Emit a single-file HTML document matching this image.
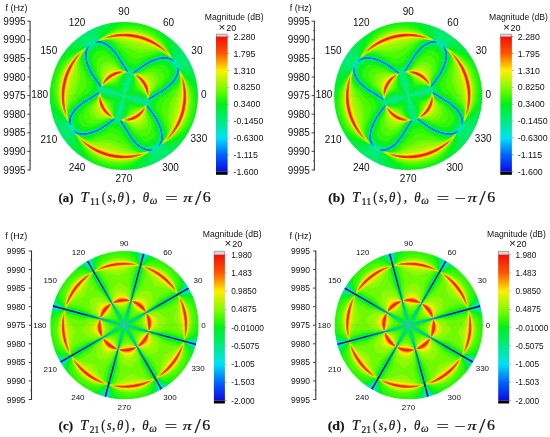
<!DOCTYPE html>
<html><head><meta charset="utf-8"><title>Figure</title>
<style>html,body{margin:0;padding:0;background:#fff}svg{display:block}</style></head>
<body>
<svg width="550" height="437" viewBox="0 0 550 437">
<defs>
<linearGradient id="rb" x1="0" y1="0" x2="0" y2="1"><stop offset="0.000" stop-color="#f00f0a"/><stop offset="0.125" stop-color="#ff5500"/><stop offset="0.250" stop-color="#ffee00"/><stop offset="0.375" stop-color="#87fa00"/><stop offset="0.440" stop-color="#3cfa00"/><stop offset="0.500" stop-color="#00f01e"/><stop offset="0.625" stop-color="#00eb82"/><stop offset="0.750" stop-color="#00e1f5"/><stop offset="0.875" stop-color="#0064ff"/><stop offset="1.000" stop-color="#0a0ae1"/></linearGradient>
<radialGradient id="lgc" gradientUnits="userSpaceOnUse" cx="124.5" cy="325.2" r="74.1"><stop offset="0" stop-color="#18c8b0"/><stop offset="0.27" stop-color="#00b0c0"/><stop offset="0.42" stop-color="#0068c8"/><stop offset="0.58" stop-color="#001478"/><stop offset="1" stop-color="#000640"/></radialGradient>
<radialGradient id="lgd" gradientUnits="userSpaceOnUse" cx="408.8" cy="325.2" r="74.1"><stop offset="0" stop-color="#18c8b0"/><stop offset="0.27" stop-color="#00b0c0"/><stop offset="0.42" stop-color="#0068c8"/><stop offset="0.58" stop-color="#001478"/><stop offset="1" stop-color="#000640"/></radialGradient>
</defs>
<rect width="550" height="437" fill="#fff"/>
<g><g transform="translate(123.9 96.0) scale(.1 -.1)" fill-rule="evenodd">
<rect x="-760" y="-760" width="1520" height="1520" fill="#000"/>
<path fill="#0915e5" d="M-759 -759l1518 0 0 1518 -1518 0z"/>
<path fill="#062aec" d="M-759 -759l1518 0 0 1518 -1518 0z"/>
<path fill="#043ff3" d="M-759 -759l1518 0 0 1518 -1518 0z"/>
<path fill="#0254fa" d="M-759 -759l1518 0 0 1518 -1518 0z"/>
<path fill="#006bfe" d="M-759 -759l1518 0 0 1518 -1518 0z"/>
<path fill="#0089fc" d="M-759 -759l1518 0 0 1518 -1518 0zM276 -541l-10-5 -10-1 -2-2 -25 0 -3 2 -8 1 -2 1 -12 4 -30 15 -38 27 -45 45 -32 42 -20 31 -8 17 -15 20 -22 35 -30 52 -1 8 1 6 10-3 12-12 36-61 9-9 16-31 25-40 35-45 34-34 25-20 33-20 35-12 35-4 6-2 3-3zM356 -492l-2 1 -1 7 15 40 3 28 0 25 -2 7 -1 15 -2 3 0 10 -2 3 -1 7 -2 3 0 7 -2 2 -1 5 -17 48 -31 57 -34 53 -37 47 -10 16 -1 9 1 9 10-5 30-36 28-38 24-37 18-30 15-30 20-50 10-36 3-24 2-5 0-55 -2-3 -1-10 -7-20 -15-17zM-492 -356l1 2 7 1 40-15 28-3 25 0 7 2 15 1 3 2 10 0 3 2 7 1 3 2 7 0 2 2 5 1 48 17 57 31 53 34 47 37 16 10 9 1 9-1 -5-10 -36-30 -38-28 -37-24 -30-18 -30-15 -50-20 -36-10 -24-3 -5-2 -55 0 -3 2 -10 1 -20 7 -17 15zM-541 -276l-5 10 -1 10 -2 2 0 25 2 3 1 8 1 2 4 12 15 30 27 38 45 45 42 32 31 20 17 8 20 15 35 22 52 30 8 1 6-1 -3-10 -12-12 -61-36 -9-9 -31-16 -40-25 -45-35 -34-34 -20-25 -20-33 -12-35 -4-35 -2-6 -3-3zM243 -36l3 10 12 12 61 36 9 9 31 16 40 25 45 35 34 34 20 25 20 33 12 35 4 35 2 6 3 3 2-2 5-10 1-10 2-2 0-25 -2-3 -1-8 -1-2 -4-12 -15-30 -27-38 -45-45 -42-32 -31-20 -17-8 -20-15 -35-22 -52-30 -8-1zM-229 90l-10 5 -30 36 -28 38 -24 37 -18 30 -15 30 -20 50 -10 36 -3 24 -2 5 0 55 2 3 1 10 7 20 15 17 8 6 2-1 1-7 -15-40 -3-28 0-25 2-7 1-15 2-3 0-10 2-3 1-7 2-3 0-7 2-2 1-5 17-48 31-57 34-53 37-47 10-16 1-9zM90 229l5 10 36 30 38 28 37 24 30 18 30 15 50 20 36 10 24 3 5 2 55 0 3-2 10-1 20-7 17-15 6-8 -1-2 -7-1 -40 15 -28 3 -25 0 -7-2 -15-1 -3-2 -10 0 -3-2 -7-1 -3-2 -7 0 -2-2 -5-1 -48-17 -57-31 -53-34 -47-37 -16-10 -9-1zM36 243l-10 3 -12 12 -36 61 -9 9 -16 31 -25 40 -35 45 -34 34 -25 20 -33 20 -35 12 -35 4 -6 2 -3 3 2 2 10 5 10 1 2 2 25 0 3-2 8-1 2-1 12-4 30-15 38-27 45-45 32-42 20-31 8-17 15-20 22-35 30-52 1-8z"/>
<path fill="#00a6fa" d="M-759 -759l1518 0 0 1518 -1518 0zM283 -539l-17-8 -12-2 -23-1 -15 4 -25 10 -25 14 -25 18 -20 18 -35 37 -35 48 -15 23 -6 14 -29 43 -37 62 -3 8 0 10 4 0 10-5 11-12 39-63 6-7 21-38 23-35 38-48 26-26 35-27 32-18 20-7 10-3 40-3 7-3zM351 -497l-2 3 0 5 15 38 4 12 2 25 -2 40 -11 45 -14 40 -28 55 -30 48 -56 76 -3 11 1 5 -1 5 3 2 10-6 33-41 27-37 23-35 19-34 15-30 13-30 10-30 5-21 5-30 2-30 -2-28 -5-20 -5-11 -13-16zM-497 -351l3 2 5 0 38-15 12-4 25-2 40 2 45 11 40 14 55 28 48 30 76 56 11 3 5-1 5 1 2-3 -6-10 -41-33 -37-27 -35-23 -34-19 -30-15 -30-13 -30-10 -21-5 -30-5 -30-2 -28 2 -20 5 -11 5 -16 13zM-539 -283l-8 17 -2 12 -1 23 4 15 10 25 14 25 18 25 18 20 37 35 48 35 23 15 14 6 43 29 62 37 8 3 10 0 0-4 -5-10 -12-11 -63-39 -7-6 -38-21 -35-23 -48-38 -26-26 -27-35 -18-32 -7-20 -3-10 -3-40 -3-7zM241 -39l0 4 5 10 12 11 63 39 7 6 38 21 35 23 48 38 26 26 27 35 18 32 7 20 3 10 3 40 3 7 3 0 8-17 2-12 1-23 -4-15 -10-25 -14-25 -18-25 -18-20 -37-35 -48-35 -23-15 -14-6 -43-29 -62-37 -8-3zM-229 87l-10 6 -33 41 -27 37 -23 35 -19 34 -15 30 -13 30 -10 30 -5 21 -5 30 -2 30 2 28 5 20 5 11 13 16 15 11 2-3 0-5 -15-38 -4-12 -2-25 2-40 11-45 14-40 28-55 30-48 56-76 3-11 -1-5 1-5zM87 229l6 10 41 33 37 27 35 23 34 19 30 15 30 13 30 10 21 5 30 5 30 2 28-2 20-5 11-5 16-13 11-15 -3-2 -5 0 -38 15 -12 4 -25 2 -40-2 -45-11 -40-14 -55-28 -48-30 -76-56 -11-3 -5 1 -5-1zM39 241l-4 0 -10 5 -11 12 -39 63 -6 7 -21 38 -23 35 -38 48 -26 26 -35 27 -32 18 -20 7 -10 3 -40 3 -7 3 0 3 17 8 12 2 23 1 15-4 25-10 25-14 25-18 20-18 35-37 35-48 15-23 6-14 29-43 37-62 3-8z"/>
<path fill="#00c4f7" d="M-759 -759l1518 0 0 1518 -1518 0zM288 -536l-4-4 -10-5 -15-4 -18-2 -22 4 -23 8 -22 12 -23 15 -25 20 -37 39 -35 47 -18 27 -7 15 -29 43 -38 62 -3 10 0 8 2 2 15-7 10-11 40-64 5-6 22-39 23-35 25-33 35-38 35-28 35-19 20-8 13-2 42-2zM277 -546l9 4 2-2 -9-5zM356 -503l-2 0 -1 2 5 5 -2 0 -7-4 -3 1 -1 5 19 45 3 13 2 27 -2 35 -10 43 -17 47 -26 50 -30 48 -55 75 -3 7 0 18 3 2 10-8 33-42 47-67 20-33 15-30 12-28 10-29 9-30 5-30 2-28 -2-27 -3-15 -6-15 -15-21 -8-7 1-2 2 1 2-1zM-503 -356l0 2 2 1 5-5 0 2 -4 7 1 3 5 1 45-19 13-3 27-2 35 2 43 10 47 17 50 26 48 30 75 55 7 3 18 0 2-3 -8-10 -42-33 -67-47 -33-20 -30-15 -28-12 -29-10 -30-9 -30-5 -28-2 -27 2 -15 3 -15 6 -21 15 -7 8 -2-1 1-2 -1-2zM-544 -288l-5 9 3 2 4-9zM-536 -288l-4 4 -5 10 -4 15 -2 18 4 22 8 23 12 22 15 23 20 25 39 37 47 35 27 18 15 7 43 29 62 38 10 3 8 0 2-2 -7-15 -11-10 -64-40 -6-5 -39-22 -35-23 -33-25 -38-35 -28-35 -19-35 -8-20 -2-13 -2-42zM241 -41l-2 2 7 15 11 10 64 40 6 5 39 22 35 23 33 25 38 35 28 35 19 35 8 20 2 13 2 42 5 7 4-4 5-10 4-15 2-18 -4-22 -8-23 -12-22 -15-23 -20-25 -39-37 -47-35 -27-18 -15-7 -43-29 -62-38 -10-3zM-229 84l-10 8 -33 42 -47 67 -20 33 -15 30 -12 28 -10 29 -9 30 -5 30 -2 28 2 27 3 15 6 15 15 21 8 7 -1 2 -2-1 -2 1 7 7 2 0 1-2 -5-5 2 0 7 4 3-1 1-5 -19-45 -3-13 -2-27 2-35 10-43 17-47 26-50 30-48 55-75 3-7 0-18zM84 229l8 10 42 33 67 47 33 20 30 15 28 12 29 10 30 9 30 5 28 2 27-2 15-3 15-6 21-15 7-8 2 1 -1 2 1 2 7-7 0-2 -2-1 -5 5 0-2 4-7 -1-3 -5-1 -45 19 -13 3 -27 2 -35-2 -43-10 -47-17 -50-26 -48-30 -75-55 -7-3 -18 0zM41 241l-2-2 -15 7 -10 11 -40 64 -5 6 -22 39 -23 35 -25 33 -35 38 -35 28 -35 19 -20 8 -13 2 -42 2 -7 5 4 4 10 5 15 4 18 2 22-4 23-8 22-12 23-15 25-20 37-39 35-47 18-27 7-15 29-43 38-62 3-10zM546 277l-4 9 2 2 5-9zM-288 544l9 5 2-3 -9-4z"/>
<path fill="#00e1f5" d="M-759 -759l1518 0 0 1518 -1518 0zM294 -544l-7-5 -11-2 -10 2 -30-2 -20 4 -20 7 -22 12 -23 15 -25 21 -37 39 -36 47 -17 26 -7 16 -26 38 -42 67 -4 13 0 7 4 1 15-8 10-10 37-60 8-10 20-35 27-43 30-37 31-33 32-25 30-17 20-8 15-4 18-1 33 0 6-5 3-7zM351 -509l-5 1 -5 7 0 5 15 29 8 18 3 13 2 25 -2 35 -10 45 -20 52 -28 53 -27 42 -53 73 -3 7 -1 15 1 5 3 2 10-8 36-46 27-38 23-35 17-30 15-30 12-30 10-30 8-32 4-31 1-24 -2-23 -7-25 -15-22 -2-10 -7-9zM-509 -351l1 5 7 5 5 0 29-15 18-8 13-3 25-2 35 2 45 10 52 20 53 28 42 27 73 53 7 3 15 1 5-1 2-3 -8-10 -46-36 -38-27 -35-23 -30-17 -30-15 -30-12 -30-10 -32-8 -31-4 -24-1 -23 2 -25 7 -22 15 -10 2 -9 7zM-544 -294l-5 7 -2 11 2 10 -2 30 4 20 7 20 12 22 15 23 21 25 39 37 47 36 26 17 16 7 38 26 67 42 13 4 7 0 1-4 -8-15 -10-10 -60-37 -10-8 -35-20 -43-27 -37-30 -33-31 -25-32 -17-30 -8-20 -4-15 -1-18 0-33 -5-6 -7-3zM239 -43l-1 4 8 15 10 10 60 37 10 8 35 20 43 27 37 30 33 31 25 32 17 30 8 20 4 15 1 18 0 33 5 6 7 3 3-2 5-7 2-11 -2-10 2-30 -4-20 -7-20 -12-22 -15-23 -21-25 -39-37 -47-36 -26-17 -16-7 -38-26 -67-42 -13-4zM-229 82l-10 8 -36 46 -27 38 -23 35 -17 30 -15 30 -12 30 -10 30 -8 32 -4 31 -1 24 2 23 7 25 15 22 2 10 7 9 8 4 5-1 5-7 0-5 -15-29 -8-18 -3-13 -2-25 2-35 10-45 20-52 28-53 27-42 53-73 3-7 1-15 -1-5zM82 229l8 10 46 36 38 27 35 23 30 17 30 15 30 12 30 10 32 8 31 4 24 1 23-2 25-7 22-15 10-2 9-7 4-8 -1-5 -7-5 -5 0 -29 15 -18 8 -13 3 -25 2 -35-2 -45-10 -52-20 -53-28 -42-27 -73-53 -7-3 -15-1 -5 1zM43 239l-4-1 -15 8 -10 10 -37 60 -8 10 -20 35 -27 43 -30 37 -31 33 -32 25 -30 17 -20 8 -15 4 -18 1 -33 0 -6 5 -3 7 2 3 7 5 11 2 10-2 30 2 20-4 20-7 22-12 23-15 25-21 37-39 36-47 17-26 7-16 26-38 42-67 4-13z"/>
<path fill="#00e3da" d="M-759 -759l1518 0 0 1518 -1518 0zM300 -544l-11-6 -13-3 -5 0 -7 3 -30-1 -18 3 -22 9 -23 12 -22 15 -20 17 -41 41 -37 50 -15 23 -7 16 -23 34 -32 53 -13 18 -6 14 0 7 1 2 5 0 20-12 5-6 40-65 5-5 20-36 25-39 32-41 33-34 34-26 33-18 21-7 15-2 49 2 9-10 1-3zM349 -514l-8 1 -5 12 3 7 20 34 5 14 3 12 1 23 -1 22 -3 25 -5 23 -18 51 -26 54 -34 52 -53 73 -3 7 -1 18 2 5 3 1 10-8 44-58 24-35 23-35 18-33 14-30 11-27 9-30 6-28 4-30 0-25 -2-22 -6-20 -15-25 1-5 -4-8 -7-9zM-514 -349l1 8 12 5 7-3 34-20 14-5 12-3 23-1 22 1 25 3 23 5 51 18 54 26 52 34 73 53 7 3 18 1 5-2 1-3 -8-10 -58-44 -35-24 -35-23 -33-18 -30-14 -27-11 -30-9 -28-6 -30-4 -25 0 -22 2 -20 6 -25 15 -5-1 -8 4 -9 7zM-544 -300l-6 11 -3 13 0 5 3 7 -1 30 3 18 9 22 12 23 15 22 17 20 41 41 50 37 23 15 16 7 34 23 53 32 18 13 14 6 7 0 2-1 0-5 -12-20 -6-5 -65-40 -5-5 -36-20 -39-25 -41-32 -34-33 -26-34 -18-33 -7-21 -2-15 2-49 -10-9 -3-1zM-42 -231l3 2 4-2 0-3 -4-1zM-86 -219l5 1 2-3 -5-2zM219 -86l-1 5 3 2 2-5zM237 -44l0 5 12 20 6 5 65 40 5 5 36 20 39 25 41 32 34 33 26 34 18 33 7 21 2 15 -2 49 10 9 3 1 5-3 6-11 3-13 0-5 -3-7 1-30 -3-18 -9-22 -12-23 -15-22 -17-20 -41-41 -50-37 -23-15 -16-7 -34-23 -53-32 -18-13 -14-6 -7 0zM231 -42l-2 3 2 4 3 0 1-4zM-234 35l-1 4 4 3 2-3 -2-4zM-229 80l-10 8 -44 58 -24 35 -23 35 -18 33 -14 30 -11 27 -9 30 -6 28 -4 30 0 25 2 22 6 20 15 25 -1 5 4 8 7 9 10 6 8-1 5-12 -3-7 -20-34 -5-14 -3-12 -1-23 1-22 3-25 5-23 18-51 26-54 34-52 53-73 3-7 1-18 -2-5zM-221 79l-2 5 4 2 1-5zM79 221l5 2 2-4 -5-1zM80 229l8 10 58 44 35 24 35 23 33 18 30 14 27 11 30 9 28 6 30 4 25 0 22-2 20-6 25-15 5 1 8-4 9-7 6-10 -1-8 -12-5 -7 3 -34 20 -14 5 -12 3 -23 1 -22-1 -25-3 -23-5 -51-18 -54-26 -52-34 -73-53 -7-3 -18-1 -5 2zM35 234l4 1 3-4 -3-2 -4 2zM44 237l-5 0 -20 12 -5 6 -40 65 -5 5 -20 36 -25 39 -32 41 -33 34 -34 26 -33 18 -21 7 -15 2 -49-2 -9 10 -1 3 3 5 11 6 13 3 5 0 7-3 30 1 18-3 22-9 23-12 22-15 20-17 41-41 37-50 15-23 7-16 23-34 32-53 13-18 6-14 0-7z"/>
<path fill="#00e6bf" d="M-759 -759l1518 0 0 1518 -1518 0zM305 -544l-13-7 -13-3 -10 0 -5 3 -28-1 -17 3 -25 9 -23 12 -22 16 -23 18 -20 20 -20 23 -20 25 -30 44 -7 16 -24 35 -31 52 -13 18 -8 17 3 16 3 2 5-1 3-4 -1-4 -1-1 0-3 16-10 5-6 40-64 3-1 25-45 22-34 33-42 32-33 18-15 21-15 23-12 19-8 12-2 20-2 37 5 8 0 5-5 4-8zM346 -518l-5-1 -5 2 -6 13 4 8 15 20 7 13 8 18 2 13 2 23 -1 25 -5 28 -6 22 -15 43 -20 42 -35 57 -57 79 -4 9 -1 16 -3 2 -2-2 -3 2 -1 2 1 5 3 3 10-2 7-5 56-76 28-40 20-35 17-32 12-30 11-33 8-30 4-30 1-27 -3-25 -5-20 -13-23 0-7 -4-8 -9-11zM-518 -346l-1 5 2 5 13 6 8-4 20-15 13-7 18-8 13-2 23-2 25 1 28 5 22 6 43 15 42 20 57 35 79 57 9 4 16 1 2 3 -2 2 2 3 2 1 5-1 3-3 -2-10 -5-7 -76-56 -40-28 -35-20 -32-17 -30-12 -33-11 -30-8 -30-4 -27-1 -25 3 -20 5 -23 13 -7 0 -8 4 -11 9zM-544 -305l-7 13 -3 13 0 10 3 5 -1 28 3 17 9 25 12 23 16 22 18 23 20 20 23 20 25 20 44 30 16 7 35 24 52 31 18 13 17 8 16-3 2-3 -1-5 -4-3 -4 1 -1 1 -3 0 -10-16 -6-5 -64-40 -1-3 -45-25 -34-22 -42-33 -33-32 -15-18 -15-21 -12-23 -8-19 -2-12 -2-20 5-37 0-8 -5-5 -8-4zM228 -44l-2 3 1 5 4 3 4-1 1-1 3 0 10 16 6 5 64 40 1 3 45 25 34 22 42 33 33 32 15 18 15 21 12 23 8 19 2 12 2 20 -5 37 0 8 5 5 8 4 8-3 7-13 3-13 0-10 -3-5 1-28 -3-17 -9-25 -12-23 -16-22 -18-23 -20-20 -23-20 -25-20 -44-30 -16-7 -35-24 -52-31 -18-13 -17-8zM-219 76l-10 2 -7 5 -56 76 -28 40 -20 35 -17 32 -12 30 -11 33 -8 30 -4 30 -1 27 3 25 5 20 13 23 0 7 4 8 9 11 13 8 5 1 5-2 6-13 -4-8 -15-20 -7-13 -8-18 -2-13 -2-23 1-25 5-28 6-22 15-43 20-42 35-57 57-79 4-9 1-16 3-2 2 2 3-2 1-2 -1-5zM76 219l2 10 5 7 76 56 40 28 35 20 32 17 30 12 33 11 30 8 30 4 27 1 25-3 20-5 23-13 7 0 8-4 11-9 8-13 1-5 -2-5 -13-6 -8 4 -20 15 -13 7 -18 8 -13 2 -23 2 -25-1 -28-5 -22-6 -43-15 -42-20 -57-35 -79-57 -9-4 -16-1 -2-3 2-2 -2-3 -2-1 -5 1zM44 228l-3-2 -5 1 -3 4 1 4 1 1 0 3 -16 10 -5 6 -40 64 -3 1 -25 45 -22 34 -33 42 -32 33 -18 15 -21 15 -23 12 -19 8 -12 2 -20 2 -37-5 -8 0 -5 5 -4 8 3 8 13 7 13 3 10 0 5-3 28 1 17-3 25-9 23-12 22-16 23-18 20-20 20-23 20-25 30-44 7-16 24-35 31-52 13-18 8-17z"/>
<path fill="#00e8a4" d="M-759 -759l1518 0 0 1518 -1518 0zM310 -544l-14-8 -17-4 -10 1 -10 3 -25 0 -15 2 -20 7 -25 13 -23 15 -25 21 -21 20 -22 25 -18 23 -29 43 -5 12 -28 42 -29 48 -13 17 -8 15 -2 8 3 15 5 2 5-1 3-4 0-10 15-10 4-5 40-65 3 0 25-45 22-35 33-41 32-34 18-15 22-15 24-12 19-8 15-2 17-1 43 8 10-17 2-5zM344 -523l-8 0 -5 2 -5 10 -1 5 3 7 23 29 8 14 5 15 3 25 0 27 -3 22 -8 32 -17 48 -28 55 -27 43 -57 78 -5 22 -1 1 -5-1 -3 8 1 5 5 2 12-3 6-4 22-33 36-47 25-38 19-32 18-35 15-35 10-33 8-32 3-25 0-30 -2-23 -6-17 -12-23 0-7 -5-10 -12-15zM-523 -344l0 8 2 5 10 5 5 1 7-3 29-23 14-8 15-5 25-3 27 0 22 3 32 8 48 17 55 28 43 27 78 57 22 5 1 1 -1 5 8 3 5-1 2-5 -3-12 -4-6 -33-22 -47-36 -38-25 -32-19 -35-18 -35-15 -33-10 -32-8 -25-3 -30 0 -23 2 -17 6 -23 12 -7 0 -10 5 -15 12zM-544 -310l-8 14 -4 17 1 10 3 10 0 25 2 15 7 20 13 25 15 23 21 25 20 21 25 22 23 18 43 29 12 5 42 28 48 29 17 13 15 8 8 2 15-3 2-5 -1-5 -4-3 -10 0 -10-15 -5-4 -65-40 0-3 -45-25 -35-22 -41-33 -34-32 -15-18 -15-22 -12-24 -8-19 -2-15 -1-17 8-43 -17-10 -5-2zM226 -46l-2 5 1 5 4 3 10 0 10 15 5 4 65 40 0 3 45 25 35 22 41 33 34 32 15 18 15 22 12 24 8 19 2 15 1 17 -8 43 17 10 5 2 3-1 8-14 4-17 -1-10 -3-10 0-25 -2-15 -7-20 -13-25 -15-23 -21-25 -20-21 -25-22 -23-18 -43-29 -12-5 -42-28 -48-29 -17-13 -15-8 -8-2zM-219 74l-12 3 -6 4 -22 33 -36 47 -25 38 -19 32 -18 35 -15 35 -10 33 -8 32 -3 25 0 30 2 23 6 17 12 23 0 7 5 10 12 15 12 7 8 0 5-2 5-10 1-5 -3-7 -23-29 -8-14 -5-15 -3-25 0-27 3-22 8-32 17-48 28-55 27-43 57-78 5-22 1-1 5 1 3-8 -1-5zM74 219l3 12 4 6 33 22 47 36 38 25 32 19 35 18 35 15 33 10 32 8 25 3 30 0 23-2 17-6 23-12 7 0 10-5 15-12 7-12 0-8 -2-5 -10-5 -5-1 -7 3 -29 23 -14 8 -15 5 -25 3 -27 0 -22-3 -32-8 -48-17 -55-28 -43-27 -78-57 -22-5 -1-1 1-5 -8-3 -5 1zM46 226l-5-2 -5 1 -3 4 0 10 -15 10 -4 5 -40 65 -3 0 -25 45 -22 35 -33 41 -32 34 -18 15 -22 15 -24 12 -19 8 -15 2 -17 1 -43-8 -10 17 -2 5 1 3 14 8 17 4 10-1 10-3 25 0 15-2 20-7 25-13 23-15 25-21 21-20 22-25 18-23 29-43 5-12 28-42 29-48 13-17 8-15 2-8z"/>
<path fill="#00ea89" d="M-759 -759l1518 0 0 1518 -1518 0zM314 -545l-13-8 -20-4 -15 1 -7 3 -28 0 -15 3 -25 10 -22 13 -23 15 -20 17 -33 34 -30 37 -25 38 -7 14 -29 43 -28 47 -10 15 -3 1 -12 22 2 15 3 7 7 0 5-3 2-14 14-10 8-10 36-59 3 0 25-45 25-38 30-39 33-34 21-17 23-15 20-10 20-8 18-2 17 1 35 10 9-11 5-13 4-5zM341 -528l-7-1 -7 3 -6 9 -2 8 5 10 17 18 10 13 8 14 5 14 3 24 -1 26 -2 20 -8 34 -17 48 -28 55 -30 47 -51 70 -4 7 -5 18 -6 2 -2 3 -2 9 2 3 3 3 8-1 14-7 23-37 36-48 25-37 18-30 18-35 14-35 10-30 8-33 3-25 1-27 -2-25 -6-20 -11-20 -1-10 -5-13 -13-15 -7-6zM-528 -341l-1 7 3 7 9 6 8 2 10-5 18-17 13-10 14-8 14-5 24-3 26 1 20 2 34 8 48 17 55 28 47 30 70 51 7 4 18 5 2 6 3 2 9 2 3-2 3-3 -1-8 -7-14 -37-23 -48-36 -37-25 -30-18 -35-18 -35-14 -30-10 -33-8 -25-3 -27-1 -25 2 -20 6 -20 11 -10 1 -13 5 -15 13 -6 7zM-545 -314l-8 13 -4 20 1 15 3 7 0 28 3 15 10 25 13 22 15 23 17 20 34 33 37 30 38 25 14 7 43 29 47 28 15 10 1 3 22 12 15-2 7-3 0-7 -3-5 -14-2 -10-14 -10-8 -59-36 0-3 -45-25 -38-25 -39-30 -34-33 -17-21 -15-23 -10-20 -8-20 -2-18 1-17 10-35 -11-9 -13-5 -5-4zM-49 -179l-1 10 8 25 21 90 9 30 11 21 1-8 -1-14 -10-42 -24-77 -6-27 -5-8zM222 -46l0 7 3 5 14 2 10 14 10 8 59 36 0 3 45 25 38 25 39 30 34 33 17 21 15 23 10 20 8 20 2 18 -1 17 -10 35 11 9 13 5 5 4 1 0 8-13 4-20 -1-15 -3-7 0-28 -3-15 -10-25 -13-22 -15-23 -17-20 -34-33 -37-30 -38-25 -14-7 -43-29 -47-28 -15-10 -1-3 -22-12 -15 2zM179 -49l-10-1 -25 8 -90 21 -30 9 -21 11 8 1 14-1 42-10 77-24 27-6 8-5zM-3 1l-8-1 -14 1 -42 10 -77 24 -27 6 -8 5 0 3 10 1 25-8 90-21 30-9zM1 3l-1 8 1 14 10 42 24 77 6 27 5 8 3 0 1-10 -8-25 -21-90 -9-30zM-216 71l-8 1 -14 7 -23 37 -36 48 -25 37 -18 30 -18 35 -14 35 -10 30 -8 33 -3 25 -1 27 2 25 6 20 11 20 1 10 5 13 13 15 7 6 8 3 7 1 7-3 6-9 2-8 -5-10 -17-18 -10-13 -8-14 -5-14 -3-24 1-26 2-20 8-34 17-48 28-55 30-47 51-70 4-7 5-18 6-2 2-3 2-9 -2-3zM71 216l1 8 7 14 37 23 48 36 37 25 30 18 35 18 35 14 30 10 33 8 25 3 27 1 25-2 20-6 20-11 10-1 13-5 15-13 6-7 3-8 1-7 -3-7 -9-6 -8-2 -10 5 -18 17 -13 10 -14 8 -14 5 -24 3 -26-1 -20-2 -34-8 -48-17 -55-28 -47-30 -70-51 -7-4 -18-5 -2-6 -3-2 -9-2 -3 2zM46 222l-7 0 -5 3 -2 14 -14 10 -8 10 -36 59 -3 0 -25 45 -25 38 -30 39 -33 34 -21 17 -23 15 -20 10 -20 8 -18 2 -17-1 -35-10 -9 11 -5 13 -4 5 0 1 13 8 20 4 15-1 7-3 28 0 15-3 25-10 22-13 23-15 20-17 33-34 30-37 25-38 7-14 29-43 28-47 10-15 3-1 12-22 -2-15z"/>
<path fill="#00ec70" d="M-759 -759l1518 0 0 1518 -1518 0zM316 -551l-15-6 -20-3 -15 2 -5 4 -30 1 -17 3 -20 8 -23 12 -25 17 -20 17 -36 37 -30 38 -23 35 -6 13 -28 42 -29 48 -26 34 -2 5 1 13 4 12 3 3 7-2 5-4 4-17 16-12 7-10 33-56 3 0 25-45 22-35 33-42 31-32 21-18 22-15 24-12 22-7 29-1 20 5 16 7 2-1 5-6 0-2 5-5 5-13 5-5 2-5zM334 -538l-8 1 -5 6 -7 15 -1 7 5 10 21 18 10 12 10 18 5 14 2 25 0 16 -2 23 -8 35 -15 43 -22 47 -35 57 -55 75 -9 25 -6 2 -5 8 0 7 2 6 8 1 20-9 7-15 13-20 33-45 28-40 22-38 18-35 15-37 10-33 7-35 3-25 0-25 -4-25 -5-12 -10-20 0-8 -1-5 -8-17 -16-19zM-538 -334l1 8 6 5 15 7 7 1 10-5 18-21 12-10 18-10 14-5 25-2 16 0 23 2 35 8 43 15 47 22 57 35 75 55 25 9 2 6 8 5 7 0 6-2 1-8 -9-20 -15-7 -20-13 -45-33 -40-28 -38-22 -35-18 -37-15 -33-10 -35-7 -25-3 -25 0 -25 4 -12 5 -20 10 -8 0 -5 1 -17 8 -19 16zM-551 -316l-6 15 -3 20 2 15 4 5 1 30 3 17 8 20 12 23 17 25 17 20 37 36 38 30 35 23 13 6 42 28 48 29 34 26 5 2 13-1 12-4 3-3 -2-7 -4-5 -17-4 -12-16 -10-7 -56-33 0-3 -45-25 -35-22 -42-33 -32-31 -18-21 -15-22 -12-24 -7-22 -1-29 5-20 7-16 -1-2 -6-5 -2 0 -5-5 -13-5 -5-5 -5-2zM-54 -204l-5 3 -3 5 1 20 37 127 12 30 11 17 2-4 1-10 -3-30 -34-135 -9-20 -5-3zM204 -54l-3-5 -5-3 -20 1 -127 37 -30 12 -17 11 4 2 10 1 30-3 135-34 20-9 3-5zM219 -49l-3 3 2 7 4 5 17 4 12 16 10 7 56 33 0 3 45 25 35 22 42 33 32 31 18 21 15 22 12 24 7 22 1 29 -5 20 -7 16 1 2 6 5 2 0 5 5 13 5 5 5 5 2 2-2 6-15 3-20 -2-15 -4-5 -1-30 -3-17 -8-20 -12-23 -17-25 -17-20 -37-36 -38-30 -35-23 -13-6 -42-28 -48-29 -34-26 -5-2 -13 1zM-2 1l-4-2 -10-1 -30 3 -135 34 -20 9 -3 5 0 5 3 5 5 3 20-1 127-37 30-12zM1 2l-2 4 -1 10 3 30 34 135 9 20 5 3 5 0 5-3 3-5 -1-20 -37-127 -12-30zM-211 68l-8-1 -20 9 -7 15 -13 20 -33 45 -28 40 -22 38 -18 35 -15 37 -10 33 -7 35 -3 25 0 25 4 25 5 12 10 20 0 8 1 5 8 17 16 19 17 8 8-1 5-6 7-15 1-7 -5-10 -21-18 -10-12 -10-18 -5-14 -2-25 0-16 2-23 8-35 15-43 22-47 35-57 55-75 9-25 6-2 5-8 0-7zM68 211l-1 8 9 20 15 7 20 13 45 33 40 28 38 22 35 18 37 15 33 10 35 7 25 3 25 0 25-4 12-5 20-10 8 0 5-1 17-8 19-16 8-17 -1-8 -6-5 -15-7 -7-1 -10 5 -18 21 -12 10 -18 10 -14 5 -25 2 -16 0 -23-2 -35-8 -43-15 -47-22 -57-35 -75-55 -25-9 -2-6 -8-5 -7 0zM49 219l-3-3 -7 2 -5 4 -4 17 -16 12 -7 10 -33 56 -3 0 -25 45 -22 35 -33 42 -31 32 -21 18 -22 15 -24 12 -22 7 -29 1 -20-5 -16-7 -2 1 -5 6 0 2 -5 5 -5 13 -5 5 -2 5 2 2 15 6 20 3 15-2 5-4 30-1 17-3 20-8 23-12 25-17 20-17 36-37 30-38 23-35 6-13 28-42 29-48 26-34 2-5 -1-13z"/>
<path fill="#00ed59" d="M-573 -474l-5-37 -4-40 -1-38 2-35 4-35 6-35 8-32 11-33 819 0 21 53 15 52 2 18 -2 12 -5 10 -17 20 -5 8 -3 10 0 15 -9 3 -5 4 -35 1 -25 8 -20 10 -20 12 -35 28 -31 31 -36 45 -19 30 -7 15 -21 30 -36 59 -10 14 -4 2 -9 12 -10 7 -15 4 -15-2 -13-6 -82-59 -57-34 -43-20 -42-15 -45-11 -23-2 -27-1 -13 1 -20 5 -27 13 -5 1 -3-2 -11 2 -4-11 -7-9 -10-6 -23-9 -12-10 -10-20zM461 -571l38-6 40-4 40-2 37 1 38 4 35 6 35 8 35 12 0 819 -53 21 -47 14 -20 3 -15-2 -10-5 -20-17 -8-5 -10-3 -15 0 -3-9 -4-5 -1-35 -8-25 -10-20 -12-20 -28-35 -31-31 -45-36 -30-19 -15-7 -30-21 -59-36 -14-10 -2-4 -12-9 -7-10 -4-15 2-15 6-13 59-82 34-57 20-43 15-42 11-45 2-23 1-27 -1-13 -5-20 -13-27 -1-5 2-3 -2-11 11-4 9-7 6-10 9-23 8-10 15-9zM299 -512l5 3 4 8 5 5 26 19 12 15 10 20 3 11 1 20 -1 33 -5 27 -8 27 -17 45 -25 48 -33 50 -46 62 -11 28 -5 0 -8 9 -15 4 -41 17 -56 16 -35 12 -35 15 -20 12 0-30 -4-33 -7-35 -14-54 -6-43 -5-18 3-20 15-12 6-8 34-56 3 0 30-54 25-37 30-38 33-32 22-18 20-12 14-8 20-7 18-2 20 2 15 5 15 8zM-512 -299l3-5 8-4 5-5 19-26 15-12 20-10 11-3 20-1 33 1 27 5 27 8 45 17 48 25 50 33 62 46 28 11 0 5 9 8 4 15 17 41 16 56 12 35 15 35 12 20 -30 0 -33 4 -35 7 -54 14 -43 6 -18 5 -20-3 -12-15 -8-6 -56-34 0-3 -54-30 -37-25 -38-30 -32-33 -18-22 -12-20 -8-14 -7-20 -2-18 2-20 5-15 8-15zM-659 -302l20-3 15 2 10 5 20 17 8 5 10 3 15 0 3 9 4 5 1 35 8 25 10 20 12 20 28 35 31 31 45 36 30 19 15 7 30 21 59 36 14 10 2 4 12 9 7 10 4 15 -2 15 -6 13 -59 82 -34 57 -20 43 -15 42 -11 45 -2 23 -1 27 1 13 5 20 13 27 1 5 -2 3 2 11 -11 4 -9 7 -6 10 -9 23 -8 10 -12 8 -23 7 -37 7 -40 4 -40 3 -40-1 -38-3 -37-6 -38-9 -35-12 0-819 53-21zM6 4l30 0 33-4 35-7 54-14 43-6 18-5 20 3 12 15 8 6 56 34 0 3 54 30 37 25 38 30 32 33 18 22 12 20 8 14 7 20 2 18 -2 20 -5 15 -8 15 4 8 -3 5 -8 4 -5 5 -19 26 -15 12 -20 10 -11 3 -20 1 -33-1 -27-5 -27-8 -45-17 -48-25 -50-33 -62-46 -28-11 0-5 -9-8 -4-15 -17-41 -16-56 -12-35 -15-35zM-4 6l0 30 4 33 7 35 14 54 6 43 5 18 -3 20 -15 12 -6 8 -34 56 -3 0 -30 54 -25 37 -30 38 -33 32 -22 18 -20 12 -14 8 -20 7 -18 2 -20-2 -15-5 -15-8 -8 4 -5-3 -4-8 -5-5 -26-19 -12-15 -10-20 -3-11 -1-20 1-33 5-27 8-27 17-45 25-48 33-50 46-62 11-28 5 0 8-9 15-4 41-17 56-16 35-12 35-15zM-305 629l7-15 17-20 5-8 3-10 0-15 19-7 33-2 17-5 15-6 38-24 25-20 19-18 27-30 28-38 14-22 7-15 21-30 36-59 10-14 4-2 9-12 10-7 15-4 15 2 13 6 82 59 57 34 43 20 42 15 45 11 23 2 27 1 13-1 20-5 27-13 5-1 3 2 11-2 4 11 7 9 10 6 23 9 12 10 10 20 7 33 5 37 4 40 1 38 -2 35 -4 35 -6 35 -8 32 -11 33 -819 0 -16-40 -14-43 -7-30z"/>
<path fill="#00ee41" d="M-515 -479l-2-32 3-40 6-40 9-38 12-35 15-35 18-31 20-29 617 0 33 48 24 45 9 30 3 47 4 13 9 15 -4 1 -1 4 -4 1 -37 2 -30 9 -25 16 -30 23 -40 39 -29 35 -30 45 -4 11 -24 34 -31 49 -12 10 -15 9 -43 11 -15 0 -10-4 -67-49 -35-22 -28-15 -40-18 -42-15 -48-10 -35-4 -12 1 -23 5 -22 12 -13 4 -7-4 1-15 -2-15 -17-40zM479 -515l32-2 40 3 40 6 38 9 35 12 35 15 31 18 29 20 0 617 -48 33 -45 24 -30 9 -47 3 -13 4 -15 9 -1-4 -4-1 -1-4 -2-37 -9-30 -16-25 -23-30 -39-40 -35-29 -45-30 -11-4 -34-24 -49-31 -10-12 -9-15 -11-43 0-15 4-10 49-67 22-35 15-28 18-40 15-42 10-48 4-35 -1-12 -5-23 -12-22 -4-13 4-7 15 1 15-2 40-17zM314 -479l15 11 15 16 10 15 7 18 3 10 0 23 -8 42 -15 45 -27 58 -28 45 -57 77 -10 26 -6 2 -4 3 -15 1 -14 3 -81 27 -35 15 -55 28 -1-67 -3-30 -21-90 -5-13 -8-12 1-13 15-12 8-10 31-53 3 0 32-58 33-46 35-40 34-31 33-20 18-4 20-1 17 3 18 6zM-479 -314l11-15 16-15 15-10 18-7 10-3 23 0 42 8 45 15 58 27 45 28 77 57 26 10 2 6 3 4 1 15 3 14 27 81 15 35 28 55 -67 1 -30 3 -90 21 -13 5 -12 8 -13-1 -12-15 -10-8 -53-31 0-3 -58-32 -46-33 -40-35 -31-34 -20-33 -4-18 -1-20 3-17 6-18zM-561 -265l1 4 4 1 1 4 2 37 9 30 16 25 23 30 39 40 35 29 45 30 11 4 34 24 49 31 10 12 9 15 11 43 0 15 -4 10 -49 67 -22 35 -15 28 -18 40 -15 42 -10 48 -4 35 1 12 5 23 12 22 4 13 -4 7 -15-1 -15 2 -40 17 -28 6 -32 2 -40-3 -40-6 -38-9 -35-12 -35-15 -31-18 -29-20 0-617 48-33 45-24 30-9 47-3 13-4zM14 9l67-1 30-3 90-21 13-5 12-8 13 1 12 15 10 8 53 31 0 3 58 32 46 33 40 35 31 34 20 33 4 18 1 20 -3 17 -6 18 -26 45 -11 15 -16 15 -15 10 -18 7 -10 3 -23 0 -42-8 -45-15 -58-27 -45-28 -77-57 -26-10 -2-6 -3-4 -1-15 -3-14 -27-81 -15-35zM-9 14l1 67 3 30 21 90 5 13 8 12 -1 13 -15 12 -8 10 -31 53 -3 0 -32 58 -33 46 -35 40 -34 31 -33 20 -18 4 -20 1 -17-3 -18-6 -45-26 -15-11 -15-16 -10-15 -7-18 -3-10 0-23 8-42 15-45 27-58 28-45 57-77 10-26 6-2 4-3 15-1 14-3 81-27 35-15zM-265 561l4-1 1-4 4-1 37-2 30-9 25-16 30-23 40-39 29-35 30-45 4-11 24-34 31-49 12-10 15-9 43-11 15 0 10 4 67 49 35 22 28 15 40 18 42 15 48 10 35 4 12-1 23-5 22-12 13-4 7 4 -1 15 2 15 17 40 6 28 2 32 -3 40 -6 40 -9 38 -12 35 -15 35 -18 31 -20 29 -617 0 -33-48 -24-45 -9-30 -3-47 -4-13z"/>
<path fill="#00ef2a" d="M-486 -381l7-20 3-20 2-65 5-35 14-48 19-44 27-45 16-21 18-20 19-18 20-16 20-13 22-13 383 0 25 17 22 18 20 19 20 21 25 34 32 59 26 32 -3 4 -12 1 -30-1 -23 4 -22 9 -23 16 -16 15 -58 67 -20 28 -18 27 0 3 -25 35 -40 48 -13 11 -7 4 -43 12 -15 1 -15-5 -32-17 -50-34 -40-23 -38-17 -71-28 -34-6 -27 0 -23 6 -37 19 -8 2zM309 -466l12 9 10 11 8 12 6 15 6 28 1 15 0 20 -4 20 -17 50 -25 54 -25 41 -51 70 -11 27 -8 2 -17-2 -18 1 -60 16 -42 16 -50 29 -5 1 -2-5 3-35 0-28 -6-52 -17-50 -11-18 -14-12 1-8 18-15 20-25 15-24 30-58 25-36 40-46 18-17 17-14 17-10 16-6 27-8 20-1 15 2 15 6zM381 -486l20 7 20 3 65 2 35 5 48 14 44 19 45 27 21 16 20 18 18 19 16 20 13 20 13 22 0 383 -17 25 -18 22 -19 20 -21 20 -34 25 -59 32 -32 26 -4-3 -1-12 1-30 -4-23 -9-22 -16-23 -15-16 -67-58 -28-20 -27-18 -3 0 -35-25 -48-40 -11-13 -4-7 -12-43 -1-15 5-15 17-32 34-50 23-40 17-38 28-71 6-34 0-27 -6-23 -19-37 -2-8zM-466 -309l9-12 11-10 12-8 15-6 28-6 15-1 20 0 20 4 50 17 54 25 41 25 70 51 27 11 2 8 -2 17 1 18 16 60 16 42 29 50 1 5 -5 2 -35-3 -28 0 -52 6 -50 17 -18 11 -12 14 -8-1 -15-18 -25-20 -24-15 -58-30 -36-25 -46-40 -17-18 -14-17 -10-17 -6-16 -8-27 -1-20 2-15 6-15zM-559 -259l4 3 1 12 -1 30 4 23 9 22 16 23 15 16 67 58 28 20 27 18 3 0 35 25 48 40 11 13 4 7 12 43 1 15 -5 15 -17 32 -34 50 -23 40 -17 38 -28 71 -6 34 0 27 6 23 19 37 2 8 -3 2 -20-7 -20-3 -65-2 -35-5 -48-14 -44-19 -45-27 -21-16 -20-18 -18-19 -16-20 -13-20 -13-22 0-383 17-25 18-22 19-20 21-20 34-25 59-32zM31 18l5-1 33 3 27 0 28-2 27-4 50-17 18-11 12-14 8 1 15 18 25 20 24 15 58 30 36 25 46 40 17 18 14 17 10 17 6 16 8 27 1 20 -2 15 -6 15 -25 43 -9 12 -11 10 -12 8 -15 6 -28 6 -15 1 -20 0 -20-4 -50-17 -54-25 -41-25 -70-51 -27-11 -2-8 2-17 -1-18 -16-60 -15-40 -12-22 -18-30zM-19 31l2 5 -3 35 0 28 6 52 17 50 11 18 14 12 -1 8 -18 15 -20 25 -15 24 -30 58 -25 36 -40 46 -18 17 -17 14 -17 10 -16 6 -27 8 -20 1 -15-2 -15-6 -43-25 -12-9 -10-11 -8-12 -6-15 -6-28 -1-15 0-20 4-20 17-50 25-54 25-41 51-70 11-27 8-2 17 2 18-1 60-16 42-16 50-29zM-259 559l3-4 12-1 30 1 23-4 22-9 23-16 16-15 58-67 20-28 18-27 0-3 25-35 40-48 13-11 7-4 43-12 15-1 15 5 32 17 50 34 40 23 38 17 71 28 34 6 27 0 23-6 37-19 8-2 2 3 -7 20 -3 20 -2 65 -5 35 -14 48 -19 44 -27 45 -16 21 -18 20 -19 18 -20 16 -20 13 -22 13 -383 0 -25-17 -22-18 -20-19 -20-21 -25-34 -32-59z"/>
<path fill="#0ff217" d="M258 -559l-2 3 -12 2 -43-4 -12 0 -21 7 -22 13 -42 37 -42 45 -44 60 -39 59 -15 19 -13 11 -7 4 -43 12 -17 0 -18-7 -75-51 -47-26 -50-20 -53-15 -30-5 -25 2 -20 7 -35 23 -12 4 -3-2 20-46 24-77 12-30 21-37 29-40 22-24 22-21 23-17 20-13 22-12 30-12 60-18 53-10 35-2 30 0 30 2 32 6 30 7 33 10 42 23 35 25 25 23 52 53zM381 -484l46 20 77 24 30 12 37 21 40 29 24 22 21 22 17 23 13 20 12 22 12 30 18 60 10 53 2 35 0 30 -2 30 -6 32 -7 30 -10 33 -23 42 -25 35 -23 25 -53 52 -32 40 -3-2 -2-12 4-43 0-12 -7-21 -13-22 -37-42 -45-42 -60-44 -59-39 -19-15 -11-13 -4-7 -12-43 0-17 7-18 51-75 26-47 20-50 15-53 5-30 -2-25 -7-20 -23-35 -4-12zM264 -474l37 23 17 15 7 10 6 12 4 25 -1 30 -10 43 -20 57 -23 49 -15 26 -32 48 -5 10 -6 22 -6 10 -6 1 -20-7 -22 0 -40 5 -55 13 -13 0 -5-2 -10-7 -5-10 -16-60 -14-37 -7-12 -8-9 -11-7 -11-5 -2-3 2-5 15-12 12-8 10-10 13-17 27-48 25-34 40-46 40-37 30-21 15-6 13-4 12-1 13 1 12 3zM-451 -301l10-12 10-9 12-7 13-4 15-2 15 0 37 5 53 16 51 20 43 23 58 38 38 14 2 3 1 5 -7 17 0 23 5 42 13 55 0 13 -5 10 -4 5 -10 5 -60 16 -37 14 -12 7 -9 8 -7 11 -5 11 -3 2 -5-2 -12-15 -8-12 -15-14 -12-9 -55-32 -24-18 -27-22 -46-45 -28-35 -8-15 -6-15 -3-15 0-15 3-13 5-12zM-559 -258l3 2 2 12 -4 43 0 12 7 21 13 22 37 42 45 42 60 44 59 39 19 15 11 13 4 7 12 43 0 17 -7 18 -51 75 -26 47 -20 50 -15 53 -5 30 2 25 7 20 23 35 4 12 -2 3 -46-20 -77-24 -30-12 -37-21 -40-29 -24-22 -21-22 -17-23 -13-20 -12-22 -12-30 -18-60 -10-53 -2-35 0-30 2-30 6-32 7-30 10-33 23-42 25-35 23-25 53-52zM89 49l6-5 9-4 57-15 35-13 20-13 10-14 5-11 3-2 5 2 12 15 8 12 15 14 12 9 55 32 24 18 27 22 46 45 28 35 8 15 6 15 3 15 0 15 -3 13 -5 12 -24 40 -10 12 -10 9 -12 7 -13 4 -15 2 -15 0 -37-5 -53-16 -51-20 -43-23 -58-38 -38-14 -2-3 -1-5 7-20 0-25 -5-35 -12-55 -1-10 1-7zM-56 84l10 7 5 10 16 60 14 37 7 12 8 9 11 7 11 5 2 3 -2 5 -15 12 -12 8 -10 10 -13 17 -27 48 -25 34 -40 46 -40 37 -30 21 -15 6 -13 4 -12 1 -13-1 -12-3 -13-5 -37-23 -17-15 -7-10 -6-12 -4-25 1-30 10-43 20-57 23-49 15-26 32-48 5-10 6-22 6-10 6-1 20 7 22 0 40-5 55-13 13 0zM484 381l-23 53 -19 62 -12 33 -23 42 -29 40 -22 24 -22 21 -23 17 -20 13 -22 12 -30 12 -60 18 -53 10 -35 2 -30 0 -30-2 -32-6 -30-7 -33-10 -42-23 -35-25 -25-23 -52-53 -40-32 2-3 12-2 43 4 12 0 21-7 22-13 42-37 42-45 44-60 39-59 15-19 13-11 7-4 43-12 17 0 18 7 75 51 47 26 50 20 55 16 30 4 25-2 18-7 35-23 12-4z"/>
<path fill="#2cf708" d="M256 -559l-2 2 -13 2 -40-5 -27 0 -24 4 -14 7 -17 15 -39 38 -60 65 -22 27 -34 50 -18 20 -12 7 -40 11 -15 0 -15-6 -68-44 -45-22 -52-19 -65-19 -15-2 -10 2 -15 4 -28 14 -35 24 -10 3 -4 0 54-114 16-31 25-38 29-33 40-37 23-16 22-13 45-20 60-17 53-10 60-2 57 6 30 6 28 7 35 16 35 21zM381 -483l114 54 31 16 38 25 33 29 37 40 16 23 13 22 20 45 17 60 10 53 2 60 -6 57 -6 30 -7 28 -16 35 -21 35 -97 127 -2-2 -2-13 5-40 0-27 -4-24 -7-14 -15-17 -38-39 -65-60 -27-22 -50-34 -20-18 -7-12 -11-40 0-15 6-15 44-68 22-45 19-52 19-65 2-15 -2-10 -4-15 -14-28 -24-35 -3-10zM251 -452l37 23 13 14 6 11 4 13 2 15 -1 17 -8 50 -18 60 -20 46 -32 51 -13 50 -5 8 -2 0 -18-8 -17-3 -25-1 -58 4 -12-1 -8-3 -15-10 -11-13 -27-60 -10-17 -16-15 -23-11 1-7 11-10 24-12 14-10 8-10 24-43 23-29 35-37 42-36 28-19 25-10 22-2zM-411 -304l20-7 25-2 32 4 45 10 40 13 31 12 28 15 38 25 16 5 32 7 8 4 2 4 -8 18 -3 22 2 85 -2 10 -9 15 -10 10 -7 5 -55 25 -20 11 -15 16 -11 23 -7-1 -10-11 -12-24 -10-14 -10-8 -46-27 -38-30 -25-25 -24-27 -19-25 -13-21 -7-14 -4-15 0-13 2-12 5-13 20-32 8-10zM-559 -256l2 2 2 13 -5 40 0 27 4 24 7 14 15 17 38 39 65 60 27 22 50 34 20 18 7 12 11 40 0 15 -6 15 -44 68 -22 45 -19 52 -19 65 -2 15 2 10 4 15 14 28 24 35 3 10 0 4 -114-54 -31-16 -38-25 -33-29 -37-40 -16-23 -13-22 -20-45 -17-60 -10-53 -2-60 6-57 6-30 7-28 16-35 21-35zM114 64l10-10 7-5 55-25 20-11 15-16 11-23 7 1 10 11 12 24 10 14 10 8 46 27 35 27 23 23 23 25 20 25 14 20 12 27 3 13 0 12 -5 20 -22 35 -6 8 -10 8 -10 5 -13 4 -30 1 -37-5 -45-11 -43-15 -37-17 -47-30 -16-5 -32-7 -8-4 -2-4 8-18 3-22 -2-85 2-10zM-79 105l15 9 13 13 7 14 21 48 10 17 16 15 23 11 -1 7 -11 10 -24 12 -14 10 -8 10 -24 43 -23 29 -35 37 -42 36 -28 19 -25 10 -22 2 -20-5 -37-23 -13-14 -6-11 -4-13 -2-15 1-17 8-50 18-60 20-46 32-51 13-50 5-8 2 0 18 8 20 3 25 0 55-3zM483 381l-54 114 -16 31 -25 38 -29 33 -40 37 -23 16 -22 13 -45 20 -60 17 -53 10 -60 2 -57-6 -30-6 -28-7 -35-16 -35-21 -127-97 2-2 13-2 40 5 27 0 24-4 14-7 17-15 39-38 60-65 22-27 34-50 18-20 12-7 40-11 15 0 15 6 68 44 45 22 52 19 65 19 15 2 10-2 15-4 28-14 35-24 10-3z"/>
<path fill="#4cfa00" d="M255 -559l-6 3 -10 1 -40-7 -38 0 -27 5 -34 13 -8 5 -48 50 -49 40 -61 58 -13 7 -45 12 -12 1 -15-4 -78-30 -102-34 -33 2 -30 7 -17 7 -20 11 -38 28 -10 2 -2-2 54-92 26-41 28-37 34-35 40-32 43-24 40-16 57-17 50-9 58-2 52 4 55 12 35 14 38 19 115 72zM384 -481l92 54 41 26 37 28 35 34 32 40 24 43 16 40 17 57 9 50 2 58 -4 52 -12 55 -14 35 -19 38 -72 115 -9 11 -3-6 -1-10 7-40 0-38 -5-27 -13-34 -5-8 -50-48 -40-49 -58-61 -7-13 -12-45 -1-12 4-15 30-78 34-102 -2-33 -7-30 -7-17 -11-20 -28-38 -2-10zM204 -404l10 1 10 3 27 17 9 7 6 9 5 13 4 33 -1 37 -8 38 -9 27 -18 37 -11 38 -6 40 -5 8 -3 1 -18-10 -17-6 -68-8 -12-3 -9-4 -19-12 -12-13 -32-48 -12-15 -16-10 -23-8 -2-2 1-5 9-8 37-18 13-10 21-21 16-23 15-18 33-29 22-15 25-13 20-7zM-364 -268l18-5 25-2 27 0 28 4 40 11 44 21 38 11 40 6 9 6 -1 5 -10 17 -5 15 -8 68 -3 12 -4 9 -12 19 -13 12 -48 32 -15 12 -10 16 -8 23 -2 2 -5-1 -8-9 -18-37 -14-16 -20-20 -35-27 -22-22 -22-30 -16-30 -5-15 -4-15 -1-13 2-10 21-35 7-8zM-559 -255l3 6 1 10 -7 40 0 38 5 27 13 34 5 8 50 48 40 49 58 61 7 13 12 45 1 12 -4 15 -30 78 -34 102 2 33 7 30 7 17 11 20 28 38 2 10 -2 2 -92-54 -41-26 -37-28 -35-34 -32-40 -24-43 -16-40 -17-57 -9-50 -2-58 4-52 12-55 14-35 19-38 72-115zM234 -26l5 1 8 9 18 37 14 16 20 20 35 27 22 22 22 30 16 30 5 15 4 15 1 13 -2 10 -21 35 -7 8 -10 6 -18 5 -25 2 -27 0 -28-4 -40-11 -44-21 -38-11 -40-6 -9-6 1-5 10-17 5-15 8-68 3-12 4-9 12-19 13-12 48-32 15-12 10-16 8-23zM-214 95l18 10 17 6 68 8 12 3 9 4 19 12 12 13 32 48 12 15 16 10 23 8 2 2 -1 5 -9 8 -37 18 -13 10 -21 21 -16 23 -15 18 -33 29 -22 15 -25 13 -20 7 -18 3 -10-1 -10-3 -27-17 -9-7 -6-9 -5-13 -4-33 1-37 8-38 9-27 18-37 11-38 6-40 5-8zM481 384l-54 92 -26 41 -28 37 -34 35 -40 32 -43 24 -40 16 -57 17 -50 9 -58 2 -52-4 -55-12 -35-14 -38-19 -115-72 -11-9 6-3 10-1 40 7 38 0 27-5 34-13 8-5 48-50 49-40 61-58 13-7 45-12 12-1 15 4 78 30 102 34 33-2 30-7 17-7 20-11 38-28 10-2z"/>
<path fill="#6efa00" d="M253 -559l-14 3 -35-7 -38-3 -22 1 -24 4 -33 12 -42 25 -56 28 -45 26 -33 15 -62 17 -20 2 -23-1 -32-4 -88-8 -22 0 -20 2 -23 6 -25 10 -32 21 -30 24 -8 2 -6 0 40-62 39-55 32-38 38-36 40-30 40-22 42-17 55-16 48-8 57-3 53 3 52 10 38 13 45 21 95 52zM384 -480l62 40 55 39 38 32 36 38 30 40 22 40 17 42 16 55 8 48 3 57 -3 53 -10 52 -13 38 -21 45 -52 95 -13 19 -3-14 7-35 3-38 -1-22 -4-24 -12-33 -25-42 -28-56 -26-45 -15-33 -17-62 -2-20 1-23 4-32 8-88 0-22 -2-20 -6-23 -10-25 -21-32 -24-30 -2-8zM-24 -239l10-9 35-13 9-5 17-13 34-30 35-21 25-9 18-4 17 1 15 6 25 15 10 11 9 19 5 25 1 22 -1 23 -4 21 -11 46 -2 18 0 22 -2 11 -5 7 -2 0 -15-12 -18-8 -57-16 -20-8 -23-13 -10-9 -51-54 -20-10 -24-7 -1-1zM-559 -253l3 14 -7 35 -3 38 1 22 4 24 12 33 25 42 28 56 26 45 15 33 17 62 2 20 -1 23 -4 32 -8 88 0 22 2 20 6 23 10 25 21 32 24 30 2 8 0 6 -62-40 -55-39 -38-32 -36-38 -30-40 -22-40 -17-42 -16-55 -8-48 -3-57 3-53 10-52 13-38 21-45 52-95zM-103 -221l7 5 0 2 -12 15 -8 18 -16 57 -8 20 -13 23 -9 10 -54 51 -10 20 -7 24 -1 1 -5-1 -9-10 -13-35 -5-9 -13-17 -30-34 -21-35 -9-25 -4-18 1-17 6-15 15-25 11-10 19-9 25-5 22-1 23 1 21 4 46 11 18 2 22 0zM239 -24l9 10 13 35 5 9 13 17 30 34 21 35 9 25 4 18 -1 17 -6 15 -15 25 -11 10 -19 9 -25 5 -22 1 -23-1 -21-4 -46-11 -18-2 -22 0 -11-2 -7-5 0-2 12-15 8-18 16-57 8-20 13-23 9-10 54-51 10-20 7-24 1-1zM-221 103l5-7 2 0 15 12 18 8 57 16 20 8 23 13 10 9 51 54 20 10 24 7 1 1 -1 5 -10 9 -35 13 -9 5 -17 13 -34 30 -35 21 -25 9 -18 4 -17-1 -15-6 -25-15 -10-11 -9-19 -5-25 -1-22 1-23 4-21 11-46 2-18 0-22zM480 384l-40 62 -39 55 -32 38 -38 36 -40 30 -40 22 -42 17 -55 16 -48 8 -57 3 -53-3 -52-10 -38-13 -45-21 -95-52 -19-13 14-3 35 7 38 3 22-1 24-4 33-12 42-25 56-28 45-26 33-15 62-17 20-2 23 1 32 4 88 8 22 0 20-2 23-6 25-10 32-21 30-24 8-2z"/>
<path fill="#8ef900" d="M250 -559l-14 3 -43-10 -39-4 -33 1 -27 4 -27 9 -151 62 -85 23 -20 4 -22 1 -95 0 -25 3 -25 7 -20 7 -25 13 -30 20 -33 27 -5 3 -7 0 0-3 24-35 51-66 35-38 40-36 40-29 40-21 40-16 52-15 50-9 53-4 52 2 53 9 47 14 50 21 80 39 15 9zM386 -476l3 0 35 24 66 51 38 35 36 40 29 40 21 40 16 40 15 52 9 50 4 53 -2 52 -9 53 -14 47 -21 50 -39 80 -9 15 -5 4 -3-14 10-43 4-39 -1-33 -4-27 -9-27 -62-151 -23-85 -4-20 -1-22 0-95 -3-25 -7-25 -7-20 -13-25 -20-30 -27-33 -3-5zM-23 -239l9-8 35-10 16-7 57-34 22-10 15-4 13-1 12 2 13 5 22 13 8 7 12 15 9 20 3 27 -4 68 3 42 -1 9 -5 8 -2 0 -13-12 -17-11 -70-30 -35-22 -39-34 -16-13 -16-7 -32-8zM-559 -250l3 14 -10 43 -4 39 1 33 4 27 9 27 62 151 23 85 4 20 1 22 0 95 3 25 7 25 7 20 13 25 20 30 27 33 3 5 0 7 -3 0 -35-24 -66-51 -38-35 -36-40 -29-40 -21-40 -16-40 -15-52 -9-50 -4-53 2-52 9-53 14-47 21-50 39-80 9-15zM-105 -221l8 5 0 2 -12 13 -11 17 -30 70 -22 35 -34 39 -13 16 -7 16 -8 32 -5-1 -8-9 -10-35 -7-16 -34-57 -10-22 -4-15 -1-13 2-12 5-13 13-22 7-8 15-12 20-9 27-3 68 4 42-3zM239 -23l8 9 10 35 7 16 34 57 10 22 4 15 1 13 -2 12 -5 13 -13 22 -7 8 -15 12 -20 9 -27 3 -68-4 -42 3 -9-1 -8-5 0-2 12-13 11-17 30-70 22-35 34-39 13-16 7-16 8-32zM-221 105l5-8 2 0 13 12 17 11 70 30 35 22 39 34 16 13 16 7 32 8 -1 5 -9 8 -35 10 -16 7 -57 34 -22 10 -15 4 -13 1 -12-2 -13-5 -22-13 -8-7 -12-15 -9-20 -3-27 4-68 -3-42zM476 386l0 3 -24 35 -51 66 -35 38 -40 36 -40 29 -40 21 -40 16 -52 15 -50 9 -53 4 -52-2 -53-9 -47-14 -50-21 -80-39 -15-9 -4-5 14-3 43 10 39 4 33-1 27-4 27-9 151-62 85-23 20-4 22-1 95 0 25-3 25-7 20-7 25-13 30-20 33-27 5-3z"/>
<path fill="#aaf600" d="M245 -561l-6 4 -64-14 -24-3 -27-1 -43 3 -55 11 -36 10 -84 26 -47 11 -45 13 -28 6 -77 11 -45 12 -33 14 -35 19 -27 20 -35 31 -3 1 -5-4 33-44 42-51 40-40 38-31 37-26 43-22 40-15 52-15 48-9 52-4 53 2 47 6 48 13 55 20 65 29 17 9zM391 -474l44 33 51 42 40 40 31 38 26 37 22 43 15 40 15 52 9 48 4 52 -2 53 -6 47 -13 48 -20 55 -29 65 -9 17 -8 9 -4-6 14-64 3-24 1-27 -3-43 -11-55 -10-36 -26-84 -11-47 -13-45 -6-28 -11-77 -12-45 -14-33 -19-35 -20-27 -31-35 -1-3zM-22 -239l8-8 43-9 55-19 22-7 25-2 13 3 10 4 20 13 7 7 11 13 8 15 7 28 14 95 -5 8 -2 0 -13-14 -15-11 -60-32 -32-20 -59-41 -20-10 -36-8zM-561 -245l4 6 -14 64 -3 24 -1 27 3 43 11 55 10 36 26 84 11 47 13 45 6 28 11 77 12 45 14 33 19 35 20 27 31 35 1 3 -4 5 -44-33 -51-42 -40-40 -31-38 -26-37 -22-43 -15-40 -15-52 -9-48 -4-52 2-53 6-47 13-48 20-55 29-65 9-17zM-106 -221l8 5 0 2 -14 13 -11 15 -32 60 -20 32 -41 59 -10 20 -8 36 -5 1 -8-8 -9-43 -19-55 -7-22 -2-25 3-13 4-10 13-20 7-7 13-11 15-8 28-7zM239 -22l8 8 9 43 19 55 7 22 2 25 -3 13 -4 10 -13 20 -7 7 -13 11 -15 8 -28 7 -95 14 -8-5 0-2 14-13 11-15 32-60 20-32 41-59 10-20 8-36zM-221 106l5-8 2 0 13 14 15 11 60 32 32 20 59 41 20 10 36 8 1 5 -8 8 -43 9 -55 19 -22 7 -25 2 -13-3 -10-4 -20-13 -7-7 -11-13 -8-15 -7-28zM474 391l-33 44 -42 51 -40 40 -38 31 -37 26 -43 22 -40 15 -52 15 -48 9 -52 4 -53-2 -47-6 -48-13 -55-20 -65-29 -17-9 -9-8 6-4 64 14 24 3 27 1 43-3 55-11 36-10 84-26 47-11 45-13 28-6 77-11 45-12 33-14 35-19 27-20 35-31 3-1z"/>
<path fill="#c7f400" d="M236 -566l0 5 -2 2 -3 0 -36-10 -39-7 -40-4 -42 1 -50 5 -33 5 -125 28 -150 42 -48 18 -36 17 -33 21 -30 23 -33 29 -5-5 26-35 44-49 43-41 40-32 40-25 40-20 37-14 53-15 45-9 55-4 47 1 53 6 45 11 52 17 55 22 23 12zM396 -469l35 26 49 44 41 43 32 40 25 40 20 40 14 37 15 53 9 45 4 55 -1 47 -6 53 -11 45 -17 52 -22 55 -12 23 -5 7 -5 0 -2-2 0-3 10-36 7-39 4-40 -1-42 -5-50 -5-33 -28-125 -42-150 -18-48 -17-36 -21-33 -23-30 -29-33zM-20 -239l4-5 4-2 98-18 30 0 13 3 12 6 18 11 10 8 12 14 10 16 11 30 19 67 -5 9 -2 0 -18-19 -17-14 -136-83 -24-11 -35-7zM-566 -236l5 0 2 2 0 3 -10 36 -7 39 -4 40 1 42 5 50 5 33 28 125 42 150 18 48 17 36 21 33 23 30 29 33 -5 5 -35-26 -49-44 -41-43 -32-40 -25-40 -20-40 -14-37 -15-53 -9-45 -4-55 1-47 6-53 11-45 17-52 22-55 12-23zM-100 -216l0 2 -19 18 -14 17 -83 136 -11 24 -7 35 -5 4 -5-4 -2-4 -18-98 0-30 3-13 6-12 11-18 8-10 14-12 16-10 30-11 67-19zM239 -20l5 4 2 4 18 98 0 30 -3 13 -6 12 -11 18 -8 10 -14 12 -16 10 -30 11 -67 19 -9-5 0-2 19-18 14-17 83-136 11-24 7-35zM-216 100l2 0 18 19 17 14 136 83 24 11 35 7 4 5 -4 5 -4 2 -98 18 -30 0 -13-3 -12-6 -18-11 -10-8 -12-14 -10-16 -11-30 -19-67zM469 396l-26 35 -44 49 -43 41 -40 32 -40 25 -40 20 -37 14 -53 15 -45 9 -55 4 -47-1 -53-6 -45-11 -52-17 -55-22 -23-12 -7-5 0-5 2-2 3 0 36 10 39 7 40 4 42-1 50-5 33-5 125-28 150-42 48-18 36-17 33-21 30-23 33-29z"/>
<path fill="#e3f100" d="M228 -569l-5 5 -4 1 -40-11 -43-7 -35-3 -40 0 -51 3 -43 5 -44 7 -58 13 -37 10 -76 25 -71 27 -34 18 -33 20 -34 25 -34 30 -2 0 0-3 -3-5 25-31 43-44 40-36 37-28 40-25 40-19 40-15 48-14 47-9 48-4 45 0 50 4 50 10 50 15 60 22 18 9zM409 -459l31 25 44 43 36 40 28 37 25 40 19 40 15 40 14 48 9 47 4 48 0 45 -4 50 -10 50 -15 50 -22 60 -9 18 -5 6 -5-5 -1-4 11-40 7-43 3-35 0-40 -3-51 -5-43 -7-44 -13-58 -10-37 -25-76 -27-71 -18-34 -20-33 -25-34 -30-34 0-2 3 0zM-15 -239l9-8 80-8 32 3 15 4 13 6 27 18 14 15 9 13 11 20 10 22 15 43 -1 4 -5 5 -20-22 -20-17 -58-38 -47-27 -35-18 -14-5 -29-5zM-569 -228l5 5 1 4 -11 40 -7 43 -3 35 0 40 3 51 5 43 7 44 13 58 10 37 25 76 27 71 18 34 20 33 25 34 30 34 0 2 -3 0 -5 3 -31-25 -44-43 -36-40 -28-37 -25-40 -19-40 -15-40 -14-48 -9-47 -4-48 0-45 4-50 10-50 15-50 22-60 9-18zM-107 -219l5 5 -22 20 -17 20 -38 58 -27 47 -18 35 -5 14 -5 29 -5 6 -8-9 -8-80 3-32 4-15 6-13 18-27 15-14 13-9 20-11 22-10 43-15zM239 -15l8 9 8 80 -3 32 -4 15 -6 13 -18 27 -15 14 -13 9 -20 11 -22 10 -43 15 -4-1 -5-5 22-20 17-20 38-58 27-47 18-35 5-14 5-29zM-219 107l5-5 20 22 20 17 58 38 47 27 35 18 14 5 29 5 6 5 -9 8 -80 8 -32-3 -15-4 -13-6 -27-18 -14-15 -9-13 -11-20 -10-22 -15-43zM459 409l-25 31 -43 44 -40 36 -37 28 -40 25 -40 19 -40 15 -48 14 -47 9 -48 4 -45 0 -50-4 -50-10 -50-15 -60-22 -18-9 -6-5 5-5 4-1 40 11 43 7 35 3 40 0 51-3 43-5 44-7 58-13 37-10 76-25 71-27 34-18 33-20 34-25 34-30 2 0 0 3z"/>
<path fill="#ffee00" d="M219 -571l-5 5 -41-10 -41-8 -46-4 -50 0 -46 2 -39 4 -85 16 -37 10 -52 17 -46 18 -40 17 -38 20 -32 20 -27 20 -43 36 -5-4 0-2 23-27 45-45 37-32 38-27 37-23 43-20 40-15 45-12 47-10 50-4 48-1 47 4 48 9 52 14 58 22 10 5zM412 -454l2 0 27 23 45 45 32 37 27 38 23 37 20 43 15 40 12 45 10 47 4 50 1 48 -4 47 -9 48 -14 52 -22 58 -5 10 -5 5 -5-5 10-41 8-41 4-46 0-50 -2-46 -4-39 -16-85 -10-37 -17-52 -18-46 -17-40 -20-38 -20-32 -20-27 -36-43zM-7 -241l5-5 48-4 28 0 32 6 28 12 25 18 15 16 10 13 21 39 12 30 2 8 -5 4 -23-25 -15-14 -25-18 -38-25 -40-23 -27-12 -21-8 -27-5 -6-5zM-571 -219l5 5 -10 41 -8 41 -4 46 0 50 2 46 4 39 16 85 10 37 17 52 18 46 17 40 20 38 20 32 20 27 36 43 -4 5 -2 0 -27-23 -45-45 -32-37 -27-38 -23-37 -20-43 -15-40 -12-45 -10-47 -4-50 -1-48 4-47 9-48 14-52 22-58 5-10zM-108 -219l4 5 -25 23 -14 15 -18 25 -25 38 -23 40 -12 27 -8 21 -5 27 -5 6 -2-1 -5-5 -4-48 0-28 6-32 12-28 18-25 16-15 13-10 39-21 30-12zM241 -7l5 5 4 48 0 28 -6 32 -12 28 -18 25 -16 15 -13 10 -39 21 -30 12 -8 2 -4-5 25-23 14-15 18-25 25-38 23-40 12-27 8-21 5-27 5-6zM-219 108l5-4 23 25 15 14 25 18 38 25 40 23 27 12 21 8 27 5 6 5 -1 2 -5 5 -48 4 -28 0 -32-6 -28-12 -25-18 -15-16 -10-13 -21-39 -12-30zM454 412l0 2 -23 27 -45 45 -37 32 -38 27 -37 23 -43 20 -40 15 -45 12 -47 10 -50 4 -48 1 -47-4 -48-9 -52-14 -58-22 -10-5 -5-5 5-5 41 10 41 8 46 4 50 0 46-2 39-4 85-16 37-10 52-17 46-18 40-17 38-20 32-20 27-20 43-36z"/>
<path fill="#ffca00" d="M207 -576l-4 5 -4 0 -44-10 -48-8 -36-2 -50-1 -37 1 -43 5 -81 15 -36 10 -44 15 -44 17 -38 18 -37 20 -32 20 -37 27 -36 30 -2-8 20-23 45-43 35-29 40-28 40-23 37-17 43-15 45-12 42-9 48-5 45 0 50 3 47 8 43 10 55 18 13 6zM422 -446l23 20 43 45 29 35 28 40 23 40 17 37 15 43 12 45 9 42 5 48 0 45 -3 50 -8 47 -10 43 -18 55 -6 13 -5 5 -5-4 0-4 10-44 8-48 2-36 1-50 -1-37 -5-43 -15-81 -10-36 -15-44 -17-44 -18-38 -20-37 -20-32 -27-37 -30-36zM4 -246l37-2 25 1 33 7 15 5 15 8 27 19 25 27 22 35 11 25 2 8 -5 5 -22-26 -15-14 -27-21 -30-20 -37-20 -28-12 -22-8 -25-5 -6-5zM-113 -216l5 5 -26 22 -14 15 -21 27 -20 30 -20 37 -12 28 -8 22 -5 25 -5 6 -7-5 -2-37 1-25 7-33 5-15 8-15 19-27 27-25 35-22 25-11zM-576 -207l5 4 0 4 -10 44 -8 48 -2 36 -1 50 1 37 5 43 15 81 10 36 15 44 17 44 18 38 20 37 20 32 27 37 30 36 -8 2 -23-20 -43-45 -29-35 -28-40 -23-40 -17-37 -15-43 -12-45 -9-42 -5-48 0-45 3-50 8-47 10-43 18-55 6-13zM246 4l2 37 -1 25 -7 33 -5 15 -8 15 -19 27 -27 25 -35 22 -25 11 -8 2 -5-5 26-22 14-15 21-27 20-30 20-37 12-28 8-22 5-25 5-6zM-216 113l5-5 22 26 15 14 27 21 30 20 37 20 28 12 22 8 25 5 6 5 -5 7 -37 2 -25-1 -33-7 -15-5 -15-8 -27-19 -25-27 -22-35 -11-25zM446 422l-20 23 -45 43 -35 29 -40 28 -40 23 -37 17 -43 15 -45 12 -42 9 -48 5 -45 0 -50-3 -47-8 -43-10 -55-18 -13-6 -5-5 4-5 4 0 44 10 48 8 36 2 50 1 37-1 43-5 81-15 36-10 44-15 44-17 38-18 37-20 32-20 37-27 36-30z"/>
<path fill="#ffa600" d="M193 -581l-4 5 -5 0 -49-10 -35-5 -41-3 -50-1 -33 1 -47 5 -77 15 -35 10 -42 15 -37 15 -37 18 -32 17 -36 23 -37 27 -30 25 -3-2 0-5 7-8 41-41 40-33 40-27 40-23 38-18 40-14 42-13 48-9 42-5 43-2 45 2 42 5 48 9 55 17 13 5zM426 -437l5 0 8 7 41 41 33 40 27 40 23 40 18 38 14 40 13 42 9 48 5 42 2 43 -2 45 -5 42 -9 48 -17 55 -5 13 -5 6 -5-4 0-5 10-49 5-35 3-41 1-50 -1-33 -5-47 -15-77 -10-35 -15-42 -15-37 -18-37 -17-32 -23-36 -27-37 -25-30zM5 -239l6-6 5-1 45 1 35 8 18 7 15 8 25 17 25 26 24 35 8 18 3 8 -5 5 -25-28 -15-14 -28-21 -26-18 -51-25 -29-10 -24-5zM-118 -214l5 5 -28 25 -14 15 -21 28 -18 26 -25 51 -10 29 -5 24 -5 6 -6-6 -1-5 1-45 8-35 7-18 8-15 17-25 26-25 35-24 18-8zM-581 -193l5 4 0 5 -10 49 -5 35 -3 41 -1 50 1 33 5 47 15 77 10 35 15 42 15 37 18 37 17 32 23 36 27 37 25 30 -2 3 -5 0 -8-7 -41-41 -33-40 -27-40 -23-40 -18-38 -14-40 -13-42 -9-48 -5-42 -2-43 2-45 5-42 9-48 17-55 5-13zM239 5l6 6 1 5 -1 45 -8 35 -7 18 -8 15 -17 25 -26 25 -35 24 -18 8 -8 3 -5-5 28-25 14-15 21-28 18-26 25-51 10-29 5-24zM-214 118l5-5 25 28 15 14 28 21 26 18 51 25 29 10 24 5 6 5 -6 6 -5 1 -45-1 -35-8 -18-7 -15-8 -25-17 -25-26 -24-35 -8-18zM437 426l0 5 -7 8 -41 41 -40 33 -40 27 -40 23 -38 18 -40 14 -42 13 -48 9 -42 5 -43 2 -45-2 -42-5 -48-9 -55-17 -13-5 -6-5 4-5 5 0 49 10 35 5 41 3 50 1 33-1 47-5 77-15 35-10 42-15 37-15 37-18 32-17 36-23 37-27 30-25z"/>
<path fill="#ff8200" d="M182 -584l-6 5 -5-2 -80-13 -45-3 -40-1 -33 2 -48 5 -66 12 -36 10 -37 13 -70 30 -38 20 -32 20 -32 22 -38 30 -2-6 2-4 20-21 35-30 33-25 40-26 37-20 38-16 37-13 45-12 40-8 45-5 43-2 42 2 45 5 48 10 47 14zM440 -426l4 2 21 20 30 35 25 33 26 40 20 37 16 38 13 37 12 45 8 40 5 45 2 43 -2 42 -5 45 -10 48 -14 47 -7 11 -5-6 2-5 13-80 3-45 1-40 -2-33 -5-48 -12-66 -10-36 -13-37 -30-70 -20-38 -20-32 -22-32 -30-38zM11 -239l4-5 9-1 17 0 23 3 30 7 32 15 25 17 27 27 22 30 11 23 -5 4 -2-1 -23-25 -17-16 -26-20 -23-15 -46-23 -30-10 -23-5zM-123 -211l4 5 -1 2 -25 23 -16 17 -20 26 -15 23 -23 46 -10 30 -5 23 -5 5 -5-4 -1-9 0-17 3-23 7-30 15-32 17-25 27-27 30-22zM-584 -182l5 6 -2 5 -13 80 -3 45 -1 40 2 33 5 48 12 66 10 36 13 37 30 70 20 38 20 32 22 32 30 38 -6 2 -4-2 -21-20 -30-35 -25-33 -26-40 -20-37 -16-38 -13-37 -12-45 -8-40 -5-45 -2-43 2-42 5-45 10-48 14-47zM239 11l5 4 1 9 0 17 -3 23 -7 30 -15 32 -17 25 -27 27 -30 22 -23 11 -4-5 1-2 25-23 16-17 20-26 15-23 23-46 10-30 5-23zM-211 123l5-4 2 1 23 25 17 16 26 20 23 15 46 23 30 10 23 5 5 5 -4 5 -9 1 -17 0 -23-3 -30-7 -32-15 -25-17 -27-27 -22-30zM426 440l-2 4 -20 21 -35 30 -33 25 -40 26 -37 20 -38 16 -37 13 -45 12 -40 8 -45 5 -43 2 -42-2 -45-5 -48-10 -47-14 -11-7 6-5 5 2 80 13 45 3 40 1 33-2 48-5 66-12 36-10 37-13 70-30 38-20 32-20 32-22 38-30z"/>
<path fill="#ff5e00" d="M165 -589l-4 5 -2 0 -5-2 -5 0 -70-10 -40-3 -45 0 -68 5 -67 13 -66 20 -61 25 -39 20 -34 20 -33 22 -30 23 -1 0 -3-5 2-5 13-13 32-26 35-25 37-23 33-17 35-15 35-12 45-13 37-7 40-6 43-2 40 1 47 4 45 8 42 11 3 3 3-1zM456 -408l5 2 13 13 26 32 25 35 23 37 17 33 15 35 12 35 13 45 7 37 6 40 2 43 -1 40 -4 47 -8 45 -11 42 -3 3 1 3 -5 6 -5-4 0-2 2-5 0-5 10-70 3-40 0-45 -5-68 -13-67 -20-66 -25-61 -20-39 -20-34 -22-33 -23-30 0-1zM17 -239l4-5 5 0 30 2 33 7 32 15 28 18 25 24 21 27 12 20 -1 2 -5 4 -37-39 -22-17 -23-15 -40-20 -28-10 -28-8zM-129 -206l4 5 -39 37 -17 22 -15 23 -20 40 -10 28 -8 28 -5 6 -5-4 0-5 2-30 7-33 15-32 18-28 24-25 27-21 20-12zM-589 -165l5 4 0 2 -2 5 0 5 -10 70 -3 40 0 45 5 68 13 67 20 66 25 61 20 39 20 34 22 33 23 30 0 1 -5 3 -5-2 -13-13 -26-32 -25-35 -23-37 -17-33 -15-35 -12-35 -13-45 -7-37 -6-40 -2-43 1-40 4-47 8-45 11-42 3-3 -1-3zM239 17l5 4 0 5 -2 30 -7 33 -15 32 -18 28 -24 25 -27 21 -20 12 -2-1 -4-5 39-37 17-22 15-23 20-40 10-28 8-28zM-206 129l5-4 37 39 22 17 23 15 40 20 28 10 28 8 6 5 -4 5 -5 0 -30-2 -33-7 -32-15 -28-18 -25-24 -21-27 -12-20zM408 456l-2 5 -13 13 -32 26 -35 25 -37 23 -33 17 -35 15 -35 12 -45 13 -37 7 -40 6 -43 2 -40-1 -47-4 -45-8 -42-11 -3-3 -3 1 -6-5 4-5 2 0 5 2 5 0 70 10 40 3 45 0 68-5 67-13 66-20 61-25 39-20 34-20 33-22 30-23 1 0z"/>
<path fill="#fc4902" d="M145 -594l-4 5 -2 0 -5-3 -8 1 -63-8 -39-2 -35 1 -57 4 -70 12 -60 18 -68 27 -30 15 -35 20 -63 43 -2 0 -2-5 7-8 37-31 33-22 35-21 35-18 35-14 35-12 37-11 35-7 40-6 38-2 45 0 42 3 40 6 36 8 4 4 3-1zM466 -398l8 7 31 37 22 33 21 35 18 35 14 35 12 35 11 37 7 35 6 40 2 38 0 45 -3 42 -6 40 -8 36 -4 4 1 3 -4 6 -5-4 0-2 3-5 -1-8 8-63 2-39 -1-35 -4-57 -12-70 -18-60 -27-68 -15-30 -20-35 -43-63 0-2zM31 -236l4-5 4-2 25 3 32 10 30 15 25 17 23 22 18 22 10 15 -1 2 -5 5 -36-37 -19-15 -23-15 -42-20 -40-12zM-137 -201l5 5 -37 36 -15 19 -15 23 -20 42 -12 40 -5 5 -5-4 -2-4 3-25 10-32 15-30 17-25 22-23 22-18 15-10zM-594 -145l5 4 0 2 -3 5 1 8 -8 63 -2 39 1 35 4 57 12 70 18 60 27 68 15 30 20 35 43 63 0 2 -5 2 -8-7 -31-37 -22-33 -21-35 -18-35 -14-35 -12-35 -11-37 -7-35 -6-40 -2-38 0-45 3-42 6-40 8-36 4-4 -1-3zM236 31l5 4 2 4 -3 25 -10 32 -15 30 -17 25 -22 23 -22 18 -15 10 -2-1 -5-5 37-36 15-19 15-23 20-42 12-40zM-201 137l5-5 36 37 19 15 23 15 42 20 40 12 5 5 -4 5 -4 2 -25-3 -32-10 -30-15 -25-17 -23-22 -18-22 -10-15zM398 466l-7 8 -37 31 -33 22 -35 21 -35 18 -35 14 -35 12 -37 11 -35 7 -40 6 -38 2 -45 0 -42-3 -40-6 -36-8 -4-4 -3 1 -6-4 4-5 2 0 5 3 8-1 63 8 39 2 35-1 57-4 70-12 60-18 68-27 30-15 35-20 63-43 2 0z"/>
<path fill="#f93804" d="M122 -599l-4 5 -2 0 -3 0 -4-3 -3 1 -5 0 -7-1 -55-4 -63 0 -54 5 -55 10 -55 15 -53 20 -33 15 -34 17 -36 22 -27 19 -6-6 11-10 35-25 32-21 33-17 60-26 30-10 37-10 38-7 35-5 35-2 35-1 45 3 45 6 2 2 11 1 4 4zM484 -377l10 11 25 35 21 32 17 33 26 60 10 30 10 37 7 38 5 35 2 35 1 35 -3 45 -6 45 -2 2 -1 11 -4 4 -3 11 -5-4 0-2 0-3 3-4 -1-3 0-5 1-7 4-55 0-63 -5-54 -10-55 -15-55 -20-53 -15-33 -17-34 -22-36 -19-27zM35 -236l6-6 20 3 33 9 25 12 25 16 17 15 23 24 12 18 -7 3 -34-32 -19-15 -20-12 -37-18 -33-12 -5 0zM-145 -196l3 7 -32 34 -15 19 -12 20 -18 37 -12 33 0 5 -5 6 -6-6 3-20 9-33 12-25 16-25 15-17 24-23zM-599 -122l5 4 0 2 0 3 -3 4 1 3 0 5 -1 7 -4 55 0 63 5 54 10 55 15 55 20 53 15 33 17 34 22 36 19 27 -6 6 -10-11 -25-35 -21-32 -17-33 -26-60 -10-30 -10-37 -7-38 -5-35 -2-35 -1-35 3-45 6-45 2-2 1-11 4-4zM236 35l6 6 -3 20 -9 33 -12 25 -16 25 -15 17 -24 23 -18 12 -3-7 32-34 15-19 12-20 18-37 12-33 0-5zM-196 145l7-3 34 32 19 15 20 12 37 18 33 12 5 0 6 5 -6 6 -20-3 -33-9 -25-12 -25-16 -17-15 -23-24zM377 484l-11 10 -35 25 -32 21 -33 17 -60 26 -30 10 -37 10 -38 7 -35 5 -35 2 -35 1 -45-3 -45-6 -2-2 -11-1 -4-4 -11-3 4-5 2 0 3 0 4 3 3-1 5 0 7 1 55 4 63 0 54-5 55-10 55-15 53-20 33-15 34-17 36-22 27-19z"/>
<path fill="#f52806" d="M92 -604l-3 5 -3 0 -3 0 -4-5 -4 3 -6 0 -55-2 -53 2 -47 5 -52 10 -46 12 -48 18 -54 25 -35 19 -30 18 -4-5 14-12 22-16 30-17 30-16 60-24 63-18 60-11 67-4 29 1 34 2 2 2 17 1 8 6 3-1zM499 -355l12 14 16 22 17 30 16 30 24 60 18 63 11 60 4 67 -1 29 -2 34 -2 2 -1 17 -6 8 1 3 -2 8 -5-3 0-3 0-3 5-4 -3-4 0-6 2-55 -2-53 -5-47 -10-52 -12-46 -18-48 -25-54 -19-35 -18-30zM48 -234l6-5 15 2 27 9 25 13 20 12 20 17 25 27 3 5 0 3 -5 2 -30-27 -33-23 -35-18 -27-11 -6-1zM-151 -189l2 5 -27 30 -23 33 -18 35 -11 27 -1 6 -5 5 -5-6 2-15 9-27 13-25 12-20 17-20 27-25 5-3zM-604 -92l5 3 0 3 0 3 -5 4 3 4 0 6 -2 55 2 53 5 47 10 52 12 46 18 48 25 54 19 35 18 30 -5 4 -12-14 -16-22 -17-30 -16-30 -24-60 -18-63 -11-60 -4-67 1-29 2-34 2-2 1-17 6-8 -1-3zM234 48l5 6 -2 15 -9 27 -13 25 -12 20 -17 20 -27 25 -5 3 -3 0 -2-5 27-30 23-33 18-35 11-27 1-6zM-189 151l5-2 30 27 33 23 35 18 27 11 6 1 5 5 -6 5 -15-2 -27-9 -25-13 -20-12 -20-17 -25-27 -3-5zM355 499l-14 12 -22 16 -30 17 -30 16 -60 24 -63 18 -60 11 -67 4 -29-1 -34-2 -2-2 -17-1 -8-6 -3 1 -8-2 3-5 3 0 3 0 4 5 4-3 6 0 55 2 53-2 47-5 52-10 46-12 48-18 54-25 35-19 30-18z"/>
<path fill="#f21709" d="M-5 -609l-1 5 -40 2 -43 5 -40 8 -40 10 -65 22 -62 29 -20 12 -4 0 1-5 5-3 -2-2 42-25 50-23 50-17 63-15 54-8 41 0zM20 -604l0-5 10-5 11 0 7 5 -3 5zM516 -320l5 1 3 5 2-2 25 42 23 50 17 50 15 63 8 54 0 41 -5 11 -5-1 -2-40 -5-43 -8-40 -10-40 -22-65 -29-62 -12-20zM65 -229l4-5 7 0 20 7 20 10 20 12 18 14 25 26 -3 2 -5 0 -22-19 -23-15 -32-18 -23-9zM-165 -179l2 3 0 5 -19 22 -15 23 -18 32 -9 23 -5 6 -5-4 0-7 7-20 10-20 12-20 14-18zM-609 -48l5 3 0 25 -5 0 -5-10 0-11zM-609 5l5 1 2 40 5 43 8 40 10 40 22 65 29 62 12 20 0 4 -5-1 -3-5 -2 2 -25-42 -23-50 -17-50 -15-63 -8-54 0-41zM604 20l5 0 5 10 0 11 -5 7 -5-3zM229 65l5 4 0 7 -7 20 -10 20 -12 20 -14 18 -26 25 -2-3 0-5 19-22 15-23 18-32 9-23zM-179 165l3-2 5 0 22 19 23 15 32 18 23 9 6 5 -4 5 -7 0 -20-7 -20-10 -20-12 -18-14zM320 516l-1 5 -5 3 2 2 -42 25 -50 23 -50 17 -63 15 -54 8 -41 0 -11-5 1-5 40-2 43-5 40-8 40-10 65-22 62-29 20-12zM-48 609l3-5 25 0 0 5 -10 5 -11 0z"/>
</g></g>
<g><g transform="translate(408.2 96.0) scale(.1 -.1)" fill-rule="evenodd">
<rect x="-760" y="-760" width="1520" height="1520" fill="#000"/>
<path fill="#0915e5" d="M-759 -759l1518 0 0 1518 -1518 0z"/>
<path fill="#062aec" d="M-759 -759l1518 0 0 1518 -1518 0z"/>
<path fill="#043ff3" d="M-759 -759l1518 0 0 1518 -1518 0z"/>
<path fill="#0254fa" d="M-759 -759l1518 0 0 1518 -1518 0z"/>
<path fill="#006bfe" d="M-759 -759l1518 0 0 1518 -1518 0z"/>
<path fill="#0089fc" d="M-759 -759l1518 0 0 1518 -1518 0zM-276 -541l-2 2 3 3 6 2 35 4 35 12 33 20 25 20 34 34 35 45 25 40 16 31 9 9 36 61 12 12 10 3 1-6 -1-8 -30-52 -22-35 -15-20 -8-17 -20-31 -32-42 -45-45 -38-27 -30-15 -12-4 -2-1 -8-1 -3-2 -25 0 -2 2 -10 1zM-356 -492l-8 6 -15 17 -7 20 -1 10 -2 3 0 55 2 5 3 24 10 36 20 50 15 30 18 30 24 37 28 38 30 36 10 5 1-9 -1-9 -10-16 -37-47 -34-53 -31-57 -17-48 -1-5 -2-2 0-7 -2-3 -1-7 -2-3 0-10 -2-3 -1-15 -2-7 0-25 3-28 15-40 -1-7zM492 -356l-6-8 -17-15 -20-7 -10-1 -3-2 -55 0 -5 2 -24 3 -36 10 -50 20 -30 15 -30 18 -37 24 -38 28 -36 30 -5 10 9 1 9-1 16-10 47-37 53-34 57-31 48-17 5-1 2-2 7 0 3-2 7-1 3-2 10 0 3-2 15-1 7-2 25 0 28 3 40 15 7-1zM541 -276l-2-2 -3 3 -2 6 -4 35 -12 35 -20 33 -20 25 -34 34 -45 35 -40 25 -31 16 -9 9 -61 36 -12 12 -3 10 6 1 8-1 52-30 35-22 20-15 17-8 31-20 42-32 45-45 27-38 15-30 4-12 1-2 1-8 2-3 0-25 -2-2 -1-10zM-243 -36l-6-1 -8 1 -52 30 -35 22 -20 15 -17 8 -31 20 -42 32 -45 45 -27 38 -15 30 -4 12 -1 2 -1 8 -2 3 0 25 2 2 1 10 5 10 2 2 3-3 2-6 4-35 12-35 20-33 20-25 34-34 45-35 40-25 31-16 9-9 61-36 12-12zM229 90l-1 9 1 9 10 16 37 47 34 53 31 57 17 48 1 5 2 2 0 7 2 3 1 7 2 3 0 10 2 3 1 15 2 7 0 25 -3 28 -15 40 1 7 2 1 8-6 15-17 7-20 1-10 2-3 0-55 -2-5 -3-24 -10-36 -20-50 -15-30 -18-30 -24-37 -28-38 -30-36zM-90 229l-9-1 -9 1 -16 10 -47 37 -53 34 -57 31 -48 17 -5 1 -2 2 -7 0 -3 2 -7 1 -3 2 -10 0 -3 2 -15 1 -7 2 -25 0 -28-3 -40-15 -7 1 -1 2 6 8 17 15 20 7 10 1 3 2 55 0 5-2 24-3 36-10 50-20 30-15 30-18 37-24 38-28 36-30zM-36 243l-1 6 1 8 30 52 22 35 15 20 8 17 20 31 32 42 45 45 38 27 30 15 12 4 2 1 8 1 3 2 25 0 2-2 10-1 10-5 2-2 -3-3 -6-2 -35-4 -35-12 -33-20 -25-20 -34-34 -35-45 -25-40 -16-31 -9-9 -36-61 -12-12z"/>
<path fill="#00a6fa" d="M-759 -759l1518 0 0 1518 -1518 0zM-283 -539l0 3 7 3 40 3 10 3 20 7 32 18 35 27 26 26 38 48 23 35 21 38 6 7 39 63 11 12 10 5 4 0 0-10 -3-8 -37-62 -29-43 -6-14 -15-23 -35-48 -35-37 -20-18 -25-18 -25-14 -25-10 -15-4 -23 1 -12 2zM-351 -497l-15 11 -13 16 -5 11 -5 20 -2 28 2 30 5 30 5 21 10 30 13 30 15 30 19 34 23 35 27 37 33 41 10 6 3-2 -1-5 1-5 -3-11 -56-76 -30-48 -28-55 -14-40 -11-45 -2-40 2-25 4-12 15-38 0-5zM497 -351l-11-15 -16-13 -11-5 -20-5 -28-2 -30 2 -30 5 -21 5 -30 10 -30 13 -30 15 -34 19 -35 23 -37 27 -41 33 -6 10 2 3 5-1 5 1 11-3 76-56 48-30 55-28 40-14 45-11 40-2 25 2 12 4 38 15 5 0zM539 -283l-3 0 -3 7 -3 40 -3 10 -7 20 -18 32 -27 35 -26 26 -48 38 -35 23 -38 21 -7 6 -63 39 -12 11 -5 10 0 4 10 0 8-3 62-37 43-29 14-6 23-15 48-35 37-35 18-20 18-25 14-25 10-25 4-15 -1-23 -2-12zM-241 -39l-10 0 -8 3 -62 37 -43 29 -14 6 -23 15 -48 35 -37 35 -18 20 -18 25 -14 25 -10 25 -4 15 1 23 2 12 8 17 3 0 3-7 3-40 3-10 7-20 18-32 27-35 26-26 48-38 35-23 38-21 7-6 63-39 12-11 5-10zM229 87l-3 2 1 5 -1 5 3 11 56 76 30 48 28 55 14 40 11 45 2 40 -2 25 -4 12 -15 38 0 5 2 3 15-11 13-16 5-11 5-20 2-28 -2-30 -5-30 -5-21 -10-30 -13-30 -15-30 -19-34 -23-35 -27-37 -33-41zM-87 229l-2-3 -5 1 -5-1 -11 3 -76 56 -48 30 -55 28 -40 14 -45 11 -40 2 -25-2 -12-4 -38-15 -5 0 -3 2 11 15 16 13 11 5 20 5 28 2 30-2 30-5 21-5 30-10 30-13 30-15 34-19 35-23 37-27 41-33zM-39 241l0 10 3 8 37 62 29 43 6 14 15 23 35 48 35 37 20 18 25 18 25 14 25 10 15 4 23-1 12-2 17-8 0-3 -7-3 -40-3 -10-3 -20-7 -32-18 -35-27 -26-26 -38-48 -23-35 -21-38 -6-7 -39-63 -11-12 -10-5z"/>
<path fill="#00c4f7" d="M-759 -759l1518 0 0 1518 -1518 0zM-288 -536l7 5 42 2 13 2 20 8 35 19 35 28 35 38 25 33 23 35 22 39 5 6 40 64 10 11 15 7 2-2 0-8 -3-10 -38-62 -29-43 -7-15 -18-27 -35-47 -37-39 -25-20 -23-15 -22-12 -23-8 -22-4 -18 2 -15 4 -10 5zM-288 -544l2 2 9-4 -2-3zM-356 -503l-7 7 2 1 2-1 1 2 -8 7 -15 21 -6 15 -3 15 -2 27 2 28 5 30 9 30 10 29 12 28 15 30 20 33 47 67 33 42 10 8 3-2 0-18 -3-7 -55-75 -30-48 -26-50 -17-47 -10-43 -2-35 2-27 3-13 19-45 -1-5 -3-1 -7 4 -2 0 5-5 -1-2zM503 -356l-7-7 -1 2 1 2 -2 1 -7-8 -21-15 -15-6 -15-3 -27-2 -28 2 -30 5 -30 9 -29 10 -28 12 -30 15 -33 20 -67 47 -42 33 -8 10 2 3 18 0 7-3 75-55 48-30 50-26 47-17 43-10 35-2 27 2 13 3 45 19 5-1 1-3 -4-7 0-2 5 5 2-1zM536 -288l-5 7 -2 42 -2 13 -8 20 -19 35 -28 35 -38 35 -33 25 -35 23 -39 22 -6 5 -64 40 -11 10 -7 15 2 2 8 0 10-3 62-38 43-29 15-7 27-18 47-35 39-37 20-25 15-23 12-22 8-23 4-22 -2-18 -4-15 -5-10zM544 -288l-2 2 4 9 3-2zM-241 -41l-8 0 -10 3 -62 38 -43 29 -15 7 -27 18 -47 35 -39 37 -20 25 -15 23 -12 22 -8 23 -4 22 2 18 4 15 5 10 4 4 5-7 2-42 2-13 8-20 19-35 28-35 38-35 33-25 35-23 39-22 6-5 64-40 11-10 7-15zM229 84l-3 2 0 18 3 7 55 75 30 48 26 50 17 47 10 43 2 35 -2 27 -3 13 -19 45 1 5 3 1 7-4 2 0 -5 5 1 2 2 0 7-7 -2-1 -2 1 -1-2 8-7 15-21 6-15 3-15 2-27 -2-28 -5-30 -9-30 -10-29 -12-28 -15-30 -20-33 -47-67 -33-42zM-84 229l-2-3 -18 0 -7 3 -75 55 -48 30 -50 26 -47 17 -43 10 -35 2 -27-2 -13-3 -45-19 -5 1 -1 3 4 7 0 2 -5-5 -2 1 0 2 7 7 1-2 -1-2 2-1 7 8 21 15 15 6 15 3 27 2 28-2 30-5 30-9 29-10 28-12 30-15 33-20 67-47 42-33zM-41 241l0 8 3 10 38 62 29 43 7 15 18 27 35 47 37 39 25 20 23 15 22 12 23 8 22 4 18-2 15-4 10-5 4-4 -7-5 -42-2 -13-2 -20-8 -35-19 -35-28 -35-38 -25-33 -23-35 -22-39 -5-6 -40-64 -10-11 -15-7zM-546 277l-3 2 5 9 2-2zM277 546l2 3 9-5 -2-2z"/>
<path fill="#00e1f5" d="M-759 -759l1518 0 0 1518 -1518 0zM-294 -544l-2 3 3 7 6 5 33 0 18 1 15 4 20 8 30 17 32 25 31 33 30 37 27 43 20 35 8 10 37 60 10 10 15 8 4-1 0-7 -4-13 -42-67 -26-38 -7-16 -17-26 -36-47 -37-39 -25-21 -23-15 -22-12 -20-7 -20-4 -30 2 -10-2 -11 2zM-351 -509l-8 4 -7 9 -2 10 -15 22 -7 25 -2 23 1 24 4 31 8 32 10 30 12 30 15 30 17 30 23 35 27 38 36 46 10 8 3-2 1-5 -1-15 -3-7 -53-73 -27-42 -28-53 -20-52 -10-45 -2-35 2-25 3-13 8-18 15-29 0-5 -5-7zM509 -351l-4-8 -9-7 -10-2 -22-15 -25-7 -23-2 -24 1 -31 4 -32 8 -30 10 -30 12 -30 15 -30 17 -35 23 -38 27 -46 36 -8 10 2 3 5 1 15-1 7-3 73-53 42-27 53-28 52-20 45-10 35-2 25 2 13 3 18 8 29 15 5 0 7-5zM544 -294l-3-2 -7 3 -5 6 0 33 -1 18 -4 15 -8 20 -17 30 -25 32 -33 31 -37 30 -43 27 -35 20 -10 8 -60 37 -10 10 -8 15 1 4 7 0 13-4 67-42 38-26 16-7 26-17 47-36 39-37 21-25 15-23 12-22 7-20 4-20 -2-30 2-10 -2-11zM-239 -43l-7 0 -13 4 -67 42 -38 26 -16 7 -26 17 -47 36 -39 37 -21 25 -15 23 -12 22 -7 20 -4 20 2 30 -2 10 2 11 5 7 3 2 7-3 5-6 0-33 1-18 4-15 8-20 17-30 25-32 33-31 37-30 43-27 35-20 10-8 60-37 10-10 8-15zM229 82l-3 2 -1 5 1 15 3 7 53 73 27 42 28 53 20 52 10 45 2 35 -2 25 -3 13 -8 18 -15 29 0 5 5 7 5 1 8-4 7-9 2-10 15-22 7-25 2-23 -1-24 -4-31 -8-32 -10-30 -12-30 -15-30 -17-30 -23-35 -27-38 -36-46zM-82 229l-2-3 -5-1 -15 1 -7 3 -73 53 -42 27 -53 28 -52 20 -45 10 -35 2 -25-2 -13-3 -18-8 -29-15 -5 0 -7 5 -1 5 4 8 9 7 10 2 22 15 25 7 23 2 24-1 31-4 32-8 30-10 30-12 30-15 30-17 35-23 38-27 46-36zM-43 239l0 7 4 13 42 67 26 38 7 16 17 26 36 47 37 39 25 21 23 15 22 12 20 7 20 4 30-2 10 2 11-2 7-5 2-3 -3-7 -6-5 -33 0 -18-1 -15-4 -20-8 -30-17 -32-25 -31-33 -30-37 -27-43 -20-35 -8-10 -37-60 -10-10 -15-8z"/>
<path fill="#00e3da" d="M-759 -759l1518 0 0 1518 -1518 0zM-300 -544l-3 5 1 3 9 10 49-2 15 2 21 7 33 18 34 26 33 34 32 41 25 39 20 36 5 5 40 65 5 6 20 12 5 0 1-2 0-7 -6-14 -13-18 -32-53 -23-34 -7-16 -15-23 -37-50 -41-41 -20-17 -22-15 -23-12 -22-9 -18-3 -30 1 -7-3 -5 0 -13 3zM-349 -514l-10 6 -7 9 -4 8 1 5 -15 25 -6 20 -2 22 0 25 4 30 6 28 9 30 11 27 14 30 18 33 23 35 24 35 44 58 10 8 3-1 2-5 -1-18 -3-7 -53-73 -34-52 -26-54 -18-51 -5-23 -3-25 -1-22 1-23 3-12 5-14 20-34 3-7 -5-12zM514 -349l-6-10 -9-7 -8-4 -5 1 -25-15 -20-6 -22-2 -25 0 -30 4 -28 6 -30 9 -27 11 -30 14 -33 18 -35 23 -35 24 -58 44 -8 10 1 3 5 2 18-1 7-3 73-53 52-34 54-26 51-18 23-5 25-3 22-1 23 1 12 3 14 5 34 20 7 3 12-5zM544 -300l-5-3 -3 1 -10 9 2 49 -2 15 -7 21 -18 33 -26 34 -34 33 -41 32 -39 25 -36 20 -5 5 -65 40 -6 5 -12 20 0 5 2 1 7 0 14-6 18-13 53-32 34-23 16-7 23-15 50-37 41-41 17-20 15-22 12-23 9-22 3-18 -1-30 3-7 0-5 -3-13zM35 -234l0 3 4 2 3-2 -3-4zM79 -221l2 3 5-1 -2-4zM-219 -86l-4 2 2 5 3-2zM-237 -44l-2-1 -7 0 -14 6 -18 13 -53 32 -34 23 -16 7 -23 15 -50 37 -41 41 -17 20 -15 22 -12 23 -9 22 -3 18 1 30 -3 7 0 5 3 13 6 11 5 3 3-1 10-9 -2-49 2-15 7-21 18-33 26-34 34-33 41-32 39-25 36-20 5-5 65-40 6-5 12-20zM-231 -42l-4 3 1 4 3 0 2-4zM231 35l-2 4 2 3 4-3 -1-4zM219 80l-1 1 1 5 4-2 0-3 -2-2zM229 80l-3 1 -2 5 1 18 3 7 53 73 34 52 26 54 18 51 5 23 3 25 1 22 -1 23 -3 12 -5 14 -20 34 -3 7 5 12 8 1 10-6 7-9 4-8 -1-5 15-25 6-20 2-22 0-25 -4-30 -6-28 -9-30 -11-27 -14-30 -18-33 -23-35 -24-35 -44-58zM-86 219l2 4 5-2 -2-3zM-80 229l-1-3 -5-2 -18 1 -7 3 -73 53 -52 34 -54 26 -51 18 -23 5 -25 3 -22 1 -23-1 -12-3 -14-5 -34-20 -7-3 -12 5 -1 8 6 10 9 7 8 4 5-1 25 15 20 6 22 2 25 0 30-4 28-6 30-9 27-11 30-14 33-18 35-23 35-24 58-44zM-42 231l3 4 4-1 0-3 -4-2zM-44 237l-1 2 0 7 6 14 13 18 32 53 23 34 7 16 15 23 37 50 41 41 20 17 22 15 23 12 22 9 18 3 30-1 7 3 5 0 13-3 11-6 3-5 -1-3 -9-10 -49 2 -15-2 -21-7 -33-18 -34-26 -33-34 -32-41 -25-39 -20-36 -5-5 -40-65 -5-6 -20-12z"/>
<path fill="#00e6bf" d="M-759 -759l1518 0 0 1518 -1518 0zM-305 -544l-3 8 4 8 5 5 8 0 37-5 20 2 12 2 19 8 23 12 21 15 18 15 32 33 33 42 22 34 25 45 3 1 40 64 5 6 16 10 0 3 -1 1 -1 4 3 4 5 1 3-2 3-16 -8-17 -13-18 -31-52 -24-35 -7-16 -30-44 -20-25 -20-23 -20-20 -23-18 -22-16 -23-12 -25-9 -17-3 -28 1 -5-3 -10 0 -13 3zM-346 -518l-13 8 -9 11 -4 8 0 7 -13 23 -5 20 -3 25 1 27 4 30 8 30 11 33 12 30 17 32 20 35 28 40 56 76 7 5 10 2 3-3 1-5 -1-2 -3-2 -2 2 -3-2 -1-16 -4-9 -57-79 -35-57 -20-42 -15-43 -6-22 -5-28 -1-25 2-23 2-13 8-18 7-13 15-20 4-8 -6-13 -5-2zM518 -346l-8-13 -11-9 -8-4 -7 0 -23-13 -20-5 -25-3 -27 1 -30 4 -30 8 -33 11 -30 12 -32 17 -35 20 -40 28 -76 56 -5 7 -2 10 3 3 5 1 2-1 2-3 -2-2 2-3 16-1 9-4 79-57 57-35 42-20 43-15 22-6 28-5 25-1 23 2 13 2 18 8 13 7 20 15 8 4 13-6 2-5zM544 -305l-8-3 -8 4 -5 5 0 8 5 37 -2 20 -2 12 -8 19 -12 23 -15 21 -15 18 -33 32 -42 33 -34 22 -45 25 -1 3 -64 40 -6 5 -10 16 -3 0 -1-1 -4-1 -4 3 -1 5 2 3 16 3 17-8 18-13 52-31 35-24 16-7 44-30 25-20 23-20 20-20 18-23 16-22 12-23 9-25 3-17 -1-28 3-5 0-10 -3-13zM-228 -44l-16-3 -17 8 -18 13 -52 31 -35 24 -16 7 -44 30 -25 20 -23 20 -20 20 -18 23 -16 22 -12 23 -9 25 -3 17 1 28 -3 5 0 10 3 13 7 13 8 3 8-4 5-5 0-8 -5-37 2-20 2-12 8-19 12-23 15-21 15-18 33-32 42-33 34-22 45-25 1-3 64-40 6-5 10-16 3 0 1 1 4 1 4-3 1-5zM219 76l-3 3 -1 5 1 2 3 2 2-2 3 2 1 16 4 9 57 79 35 57 20 42 15 43 6 22 5 28 1 25 -2 23 -2 13 -8 18 -7 13 -15 20 -4 8 6 13 5 2 5-1 13-8 9-11 4-8 0-7 13-23 5-20 3-25 -1-27 -4-30 -8-30 -11-33 -12-30 -17-32 -20-35 -28-40 -56-76 -7-5zM-76 219l-3-3 -5-1 -2 1 -2 3 2 2 -2 3 -16 1 -9 4 -79 57 -57 35 -42 20 -43 15 -22 6 -28 5 -25 1 -23-2 -13-2 -18-8 -13-7 -20-15 -8-4 -13 6 -2 5 1 5 8 13 11 9 8 4 7 0 23 13 20 5 25 3 27-1 30-4 30-8 33-11 30-12 32-17 35-20 40-28 76-56 5-7zM-44 228l-3 16 8 17 13 18 31 52 24 35 7 16 30 44 20 25 20 23 20 20 23 18 22 16 23 12 25 9 17 3 28-1 5 3 10 0 13-3 13-7 3-8 -4-8 -5-5 -8 0 -37 5 -20-2 -12-2 -19-8 -23-12 -21-15 -18-15 -32-33 -33-42 -22-34 -25-45 -3-1 -40-64 -5-6 -16-10 0-3 1-1 1-4 -3-4 -5-1z"/>
<path fill="#00e8a4" d="M-759 -759l1518 0 0 1518 -1518 0zM-310 -544l-1 3 2 5 10 17 43-8 17 1 15 2 19 8 24 12 22 15 18 15 32 34 33 41 22 35 25 45 3 0 40 65 4 5 15 10 0 10 3 4 5 1 5-2 3-15 -2-8 -8-15 -13-17 -29-48 -28-42 -5-12 -29-43 -18-23 -22-25 -21-20 -25-21 -23-15 -25-13 -20-7 -15-2 -25 0 -10-3 -10-1 -17 4zM-344 -523l-12 7 -12 15 -5 10 0 7 -12 23 -6 17 -2 23 0 30 3 25 8 32 10 33 15 35 18 35 19 32 25 38 36 47 22 33 6 4 12 3 5-2 1-5 -3-8 -5 1 -1-1 -5-22 -57-78 -27-43 -28-55 -17-48 -8-32 -3-22 0-27 3-25 5-15 8-14 23-29 3-7 -1-5 -5-10 -5-2zM523 -344l-7-12 -15-12 -10-5 -7 0 -23-12 -17-6 -23-2 -30 0 -25 3 -32 8 -33 10 -35 15 -35 18 -32 19 -38 25 -47 36 -33 22 -4 6 -3 12 2 5 5 1 8-3 -1-5 1-1 22-5 78-57 43-27 55-28 48-17 32-8 22-3 27 0 25 3 15 5 14 8 29 23 7 3 5-1 10-5 2-5zM544 -310l-3-1 -5 2 -17 10 8 43 -1 17 -2 15 -8 19 -12 24 -15 22 -15 18 -34 32 -41 33 -35 22 -45 25 0 3 -65 40 -5 4 -10 15 -10 0 -4 3 -1 5 2 5 15 3 8-2 15-8 17-13 48-29 42-28 12-5 43-29 23-18 25-22 20-21 21-25 15-23 13-25 7-20 2-15 0-25 3-10 1-10 -4-17zM-226 -46l-15-3 -8 2 -15 8 -17 13 -48 29 -42 28 -12 5 -43 29 -23 18 -25 22 -20 21 -21 25 -15 23 -13 25 -7 20 -2 15 0 25 -3 10 -1 10 4 17 8 14 3 1 5-2 17-10 -8-43 1-17 2-15 8-19 12-24 15-22 15-18 34-32 41-33 35-22 45-25 0-3 65-40 5-4 10-15 10 0 4-3 1-5zM219 74l-5 2 -1 5 3 8 5-1 1 1 5 22 57 78 27 43 28 55 17 48 8 32 3 22 0 27 -3 25 -5 15 -8 14 -23 29 -3 7 1 5 5 10 5 2 8 0 12-7 12-15 5-10 0-7 12-23 6-17 2-23 0-30 -3-25 -8-32 -10-33 -15-35 -18-35 -19-32 -25-38 -36-47 -22-33 -6-4zM-74 219l-2-5 -5-1 -8 3 1 5 -1 1 -22 5 -78 57 -43 27 -55 28 -48 17 -32 8 -22 3 -27 0 -25-3 -15-5 -14-8 -29-23 -7-3 -5 1 -10 5 -2 5 0 8 7 12 15 12 10 5 7 0 23 12 17 6 23 2 30 0 25-3 32-8 33-10 35-15 35-18 32-19 38-25 47-36 33-22 4-6zM-46 226l-3 15 2 8 8 15 13 17 29 48 28 42 5 12 29 43 18 23 22 25 21 20 25 21 23 15 25 13 20 7 15 2 25 0 10 3 10 1 17-4 14-8 1-3 -2-5 -10-17 -43 8 -17-1 -15-2 -19-8 -24-12 -22-15 -18-15 -32-34 -33-41 -22-35 -25-45 -3 0 -40-65 -4-5 -15-10 0-10 -3-4 -5-1z"/>
<path fill="#00ea89" d="M-759 -759l1518 0 0 1518 -1518 0zM-314 -545l0 1 4 5 5 13 9 11 35-10 17-1 18 2 20 8 20 10 23 15 21 17 33 34 30 39 25 38 25 45 3 0 36 59 8 10 14 10 2 14 5 3 7 0 3-7 2-15 -12-22 -3-1 -10-15 -28-47 -29-43 -7-14 -25-38 -30-37 -33-34 -20-17 -23-15 -22-13 -25-10 -15-3 -28 0 -7-3 -15-1 -20 4zM-341 -528l-8 3 -7 6 -13 15 -5 13 -1 10 -11 20 -6 20 -2 25 1 27 3 25 8 33 10 30 14 35 18 35 18 30 25 37 36 48 23 37 14 7 8 1 3-3 2-3 -2-9 -2-3 -6-2 -5-18 -4-7 -51-70 -30-47 -28-55 -17-48 -8-34 -2-20 -1-26 3-24 5-14 8-14 10-13 17-18 5-10 -2-8 -6-9 -7-3zM528 -341l-3-8 -6-7 -15-13 -13-5 -10-1 -20-11 -20-6 -25-2 -27 1 -25 3 -33 8 -30 10 -35 14 -35 18 -30 18 -37 25 -48 36 -37 23 -7 14 -1 8 3 3 3 2 9-2 3-2 2-6 18-5 7-4 70-51 47-30 55-28 48-17 34-8 20-2 26-1 24 3 14 5 14 8 13 10 18 17 10 5 8-2 9-6 3-7zM545 -314l-1 0 -5 4 -13 5 -11 9 10 35 1 17 -2 18 -8 20 -10 20 -15 23 -17 21 -34 33 -39 30 -38 25 -45 25 0 3 -59 36 -10 8 -10 14 -14 2 -3 5 0 7 7 3 15 2 22-12 1-3 15-10 47-28 43-29 14-7 38-25 37-30 34-33 17-20 15-23 13-22 10-25 3-15 0-28 3-7 1-15 -4-20zM49 -179l-3 0 -5 8 -6 27 -24 77 -10 42 -1 14 1 8 11-21 9-30 21-90 8-25zM-222 -46l-7-3 -15-2 -22 12 -1 3 -15 10 -47 28 -43 29 -14 7 -38 25 -37 30 -34 33 -17 20 -15 23 -13 22 -10 25 -3 15 0 28 -3 7 -1 15 4 20 8 13 1 0 5-4 13-5 11-9 -10-35 -1-17 2-18 8-20 10-20 15-23 17-21 34-33 39-30 38-25 45-25 0-3 59-36 10-8 10-14 14-2 3-5zM-179 -49l0 3 8 5 27 6 77 24 42 10 14 1 8-1 -21-11 -30-9 -90-21 -25-8zM3 1l21 11 30 9 90 21 25 8 10-1 0-3 -8-5 -27-6 -77-24 -42-10 -14-1zM-1 3l-11 21 -9 30 -21 90 -8 25 1 10 3 0 5-8 6-27 24-77 10-42 1-14zM216 71l-3 3 -2 3 2 9 2 3 6 2 5 18 4 7 51 70 30 47 28 55 17 48 8 34 2 20 1 26 -3 24 -5 14 -8 14 -10 13 -17 18 -5 10 2 8 6 9 7 3 7-1 8-3 7-6 13-15 5-13 1-10 11-20 6-20 2-25 -1-27 -3-25 -8-33 -10-30 -14-35 -18-35 -18-30 -25-37 -36-48 -23-37 -14-7zM-71 216l-3-3 -3-2 -9 2 -3 2 -2 6 -18 5 -7 4 -70 51 -47 30 -55 28 -48 17 -34 8 -20 2 -26 1 -24-3 -14-5 -14-8 -13-10 -18-17 -10-5 -8 2 -9 6 -3 7 1 7 3 8 6 7 15 13 13 5 10 1 20 11 20 6 25 2 27-1 25-3 33-8 30-10 35-14 35-18 30-18 37-25 48-36 37-23 7-14zM-46 222l-3 7 -2 15 12 22 3 1 10 15 28 47 29 43 7 14 25 38 30 37 33 34 20 17 23 15 22 13 25 10 15 3 28 0 7 3 15 1 20-4 13-8 0-1 -4-5 -5-13 -9-11 -35 10 -17 1 -18-2 -20-8 -20-10 -23-15 -21-17 -33-34 -30-39 -25-38 -25-45 -3 0 -36-59 -8-10 -14-10 -2-14 -5-3z"/>
<path fill="#00ec70" d="M-759 -759l1518 0 0 1518 -1518 0zM-316 -551l-2 2 2 5 5 5 5 13 5 5 0 2 5 6 2 1 16-7 20-5 29 1 22 7 24 12 22 15 21 18 31 32 33 42 22 35 25 45 3 0 33 56 7 10 16 12 4 17 5 4 7 2 3-3 4-12 1-13 -2-5 -26-34 -29-48 -28-42 -6-13 -23-35 -30-38 -36-37 -20-17 -25-17 -23-12 -20-8 -17-3 -30-1 -5-4 -15-2 -20 3zM-334 -538l-17 8 -16 19 -8 17 -1 5 0 8 -10 20 -5 12 -4 25 0 25 3 25 7 35 10 33 15 37 18 35 22 38 28 40 33 45 13 20 7 15 20 9 8-1 2-6 0-7 -5-8 -6-2 -9-25 -55-75 -35-57 -22-47 -15-43 -8-35 -2-23 0-16 2-25 5-14 10-18 10-12 21-18 5-10 -1-7 -7-15 -5-6zM538 -334l-8-17 -19-16 -17-8 -5-1 -8 0 -20-10 -12-5 -25-4 -25 0 -25 3 -35 7 -33 10 -37 15 -35 18 -38 22 -40 28 -45 33 -20 13 -15 7 -9 20 1 8 6 2 7 0 8-5 2-6 25-9 75-55 57-35 47-22 43-15 35-8 23-2 16 0 25 2 14 5 18 10 12 10 18 21 10 5 7-1 15-7 6-5zM551 -316l-2-2 -5 2 -5 5 -13 5 -5 5 -2 0 -6 5 -1 2 7 16 5 20 -1 29 -7 22 -12 24 -15 22 -18 21 -32 31 -42 33 -35 22 -45 25 0 3 -56 33 -10 7 -12 16 -17 4 -4 5 -2 7 3 3 12 4 13 1 5-2 34-26 48-29 42-28 13-6 35-23 38-30 37-36 17-20 17-25 12-23 8-20 3-17 1-30 4-5 2-15 -3-20zM54 -204l-5 0 -5 3 -9 20 -34 135 -3 30 1 10 2 4 11-17 12-30 37-127 1-20 -3-5zM-204 -54l0 5 3 5 20 9 135 34 30 3 10-1 4-2 -17-11 -30-12 -127-37 -20-1 -5 3zM-219 -49l-12-4 -13-1 -5 2 -34 26 -48 29 -42 28 -13 6 -35 23 -38 30 -37 36 -17 20 -17 25 -12 23 -8 20 -3 17 -1 30 -4 5 -2 15 3 20 6 15 2 2 5-2 5-5 13-5 5-5 2 0 6-5 1-2 -7-16 -5-20 1-29 7-22 12-24 15-22 18-21 32-31 42-33 35-22 45-25 0-3 56-33 10-7 12-16 17-4 4-5 2-7zM2 1l17 11 30 12 127 37 20 1 5-3 3-5 0-5 -3-5 -20-9 -135-34 -30-3 -10 1zM-1 2l-11 17 -12 30 -37 127 -1 20 3 5 5 3 5 0 5-3 9-20 34-135 3-30 -1-10zM211 68l-2 6 0 7 5 8 6 2 9 25 55 75 35 57 22 47 15 43 8 35 2 23 0 16 -2 25 -5 14 -10 18 -10 12 -21 18 -5 10 1 7 7 15 5 6 8 1 17-8 16-19 8-17 1-5 0-8 10-20 5-12 4-25 0-25 -3-25 -7-35 -10-33 -15-37 -18-35 -22-38 -28-40 -33-45 -13-20 -7-15 -20-9zM-68 211l-6-2 -7 0 -8 5 -2 6 -25 9 -75 55 -57 35 -47 22 -43 15 -35 8 -23 2 -16 0 -25-2 -14-5 -18-10 -12-10 -18-21 -10-5 -7 1 -15 7 -6 5 -1 8 8 17 19 16 17 8 5 1 8 0 20 10 12 5 25 4 25 0 25-3 35-7 33-10 37-15 35-18 38-22 40-28 45-33 20-13 15-7 9-20zM-49 219l-4 12 -1 13 2 5 26 34 29 48 28 42 6 13 23 35 30 38 36 37 20 17 25 17 23 12 20 8 17 3 30 1 5 4 15 2 20-3 15-6 2-2 -2-5 -5-5 -5-13 -5-5 0-2 -5-6 -2-1 -16 7 -20 5 -29-1 -22-7 -24-12 -22-15 -21-18 -31-32 -33-42 -22-35 -25-45 -3 0 -33-56 -7-10 -16-12 -4-17 -5-4 -7-2z"/>
<path fill="#00ed59" d="M-299 -671l14-43 18-45 819 0 12 35 9 38 6 37 3 40 0 40 -2 40 -5 43 -7 37 -6 18 -8 12 -10 8 -23 9 -10 6 -7 9 -4 11 -11-2 -3 2 -5-1 -27-13 -20-5 -13-1 -27 1 -23 2 -45 11 -42 15 -43 20 -57 34 -82 59 -13 6 -15 2 -15-4 -10-7 -9-12 -4-2 -10-14 -36-59 -21-30 -7-15 -19-30 -36-45 -31-31 -35-28 -20-12 -20-10 -25-8 -35-1 -5-4 -9-3 0-15 -3-10 -5-8 -17-20 -6-12 -1-18zM-469 -572l30 7 18 9 10 12 9 23 6 10 9 7 11 4 -2 11 2 3 -1 5 -13 27 -5 20 -1 13 1 27 2 23 11 45 15 42 20 43 34 57 59 82 6 13 2 15 -4 15 -7 10 -12 9 -2 4 -14 10 -59 36 -30 21 -15 7 -30 19 -45 36 -31 31 -28 35 -12 20 -10 20 -8 25 -1 35 -4 5 -3 9 -15 0 -10 3 -8 5 -20 17 -10 5 -15 2 -17-3 -50-14 -53-21 0-819 33-11 35-9 35-6 37-3 35-2 38 1 40 4zM-299 -512l8 4 15-8 15-5 20-2 18 2 20 7 14 8 20 12 22 18 33 32 30 38 25 37 30 54 3 0 34 56 6 8 15 12 3 20 -5 18 -6 43 -14 54 -7 35 -4 33 0 30 -20-12 -35-15 -35-12 -56-16 -41-17 -15-4 -8-9 -5 0 -11-28 -46-62 -33-50 -25-48 -17-45 -8-27 -5-27 -1-33 1-20 3-11 10-20 12-15 26-19 5-5 4-8zM512 -299l-4 8 8 15 5 15 2 20 -2 18 -7 20 -8 14 -12 20 -18 22 -32 33 -38 30 -37 25 -54 30 0 3 -56 34 -8 6 -12 15 -20 3 -18-5 -43-6 -54-14 -35-7 -33-4 -30 0 12-20 15-35 12-35 16-56 17-41 4-15 9-8 0-5 28-11 62-46 50-33 48-25 45-17 27-8 27-5 33-1 20 1 11 3 20 10 15 12 19 26 5 5 8 4zM654 -303l52 15 53 21 0 819 -35 12 -35 8 -38 6 -37 4 -38 1 -40-2 -40-4 -40-8 -22-6 -15-9 -8-10 -9-23 -6-10 -9-7 -11-4 2-11 -2-3 1-5 13-27 5-20 1-13 -1-27 -2-23 -11-45 -15-42 -20-43 -34-57 -59-82 -6-13 -2-15 4-15 7-10 12-9 2-4 14-10 59-36 30-21 15-7 30-19 45-36 31-31 28-35 12-20 10-20 8-25 1-35 4-5 3-9 15 0 10-3 8-5 20-17 10-5 12-2zM-6 4l-12 20 -15 35 -12 35 -16 56 -17 41 -4 15 -9 8 0 5 -28 11 -62 46 -50 33 -48 25 -45 17 -27 8 -27 5 -33 1 -20-1 -11-3 -20-10 -15-12 -19-26 -5-5 -8-4 -3-5 4-8 -8-15 -5-15 -2-20 2-18 7-20 8-14 12-20 18-22 32-33 38-30 37-25 54-30 0-3 56-34 8-6 12-15 20-3 18 5 43 6 54 14 35 7 33 4zM4 6l20 12 35 15 35 12 56 16 41 17 15 4 8 9 5 0 11 28 46 62 33 50 25 48 17 45 8 27 5 27 1 33 -1 20 -3 11 -10 20 -12 15 -26 19 -5 5 -4 8 -5 3 -8-4 -15 8 -15 5 -20 2 -18-2 -20-7 -14-8 -20-12 -22-18 -33-32 -30-38 -25-37 -30-54 -3 0 -34-56 -6-8 -15-12 -3-20 5-18 6-43 14-54 7-35 4-33zM305 629l-1 17 -7 30 -14 43 -16 40 -819 0 -11-33 -8-32 -6-35 -4-35 -2-35 1-38 4-40 5-37 7-33 10-20 12-10 23-9 10-6 7-9 4-11 11 2 3-2 5 1 27 13 20 5 13 1 27-1 23-2 45-11 42-15 43-20 57-34 82-59 13-6 15-2 15 4 10 7 9 12 4 2 10 14 36 59 21 30 7 15 14 22 28 38 27 30 19 18 25 20 38 24 15 6 17 5 33 2 19 7 0 15 3 10 5 8 17 20z"/>
<path fill="#00ee41" d="M-241 -661l10-23 13-25 35-50 617 0 27 41 23 45 16 49 12 53 4 50 -1 42 -6 28 -17 40 -2 15 1 15 -7 4 -3-1 -32-15 -23-5 -12-1 -35 4 -38 7 -52 18 -58 27 -52 33 -65 46 -10 2 -10 0 -43-11 -15-9 -12-10 -31-49 -24-34 -4-11 -25-38 -30-37 -39-39 -27-23 -33-21 -30-9 -37-2 -4-1 -1-4 -4-1 9-15 4-13 3-45zM-479 -515l28 6 40 17 15 2 15-1 4 7 -4 13 -12 22 -5 23 -1 12 4 35 10 48 15 42 18 40 15 28 22 35 49 67 4 10 0 15 -11 43 -9 15 -10 12 -49 31 -34 24 -11 4 -45 30 -35 29 -39 40 -23 30 -16 25 -9 30 -2 37 -1 4 -4 1 -1 4 -15-9 -13-4 -47-3 -30-9 -45-24 -48-33 0-617 29-20 31-18 35-15 35-12 38-9 40-6 40-3zM-314 -479l45-26 18-6 17-3 20 1 18 4 33 20 34 31 35 40 33 46 32 58 3 0 31 53 8 10 15 12 1 13 -8 12 -5 13 -21 90 -3 30 -1 67 -55-28 -35-15 -81-27 -14-3 -15-1 -4-3 -6-2 -10-26 -57-77 -28-45 -27-58 -15-45 -8-42 0-23 3-10 7-18 10-15 15-16zM479 -314l26 45 6 18 3 17 -1 20 -4 18 -20 33 -31 34 -40 35 -46 33 -58 32 0 3 -53 31 -10 8 -12 15 -13 1 -12-8 -13-5 -90-21 -30-3 -67-1 28-55 15-35 27-81 3-14 1-15 3-4 2-6 26-10 77-57 45-28 58-27 45-15 42-8 23 0 10 3 18 7 15 10 16 15zM561 -265l15 9 13 4 47 3 30 9 45 24 48 33 0 617 -29 20 -31 18 -35 15 -35 12 -38 9 -40 6 -40 3 -32-2 -28-6 -40-17 -15-2 -15 1 -4-7 4-13 12-22 5-23 1-12 -4-35 -10-48 -15-42 -18-40 -15-28 -22-35 -49-67 -4-10 0-15 11-43 9-15 10-12 49-31 34-24 11-4 45-30 35-29 39-40 23-30 16-25 9-30 2-37 1-4 4-1zM-14 9l-28 55 -15 35 -27 81 -3 14 -1 15 -3 4 -2 6 -26 10 -77 57 -45 28 -58 27 -45 15 -42 8 -23 0 -10-3 -18-7 -15-10 -16-15 -11-15 -26-45 -6-18 -3-17 1-20 4-18 20-33 31-34 40-35 46-33 58-32 0-3 53-31 10-8 12-15 13-1 12 8 13 5 90 21 30 3zM9 14l55 28 35 15 81 27 14 3 15 1 4 3 6 2 10 26 57 77 28 45 27 58 15 45 8 42 0 23 -3 10 -7 18 -10 15 -15 16 -15 11 -45 26 -18 6 -17 3 -20-1 -18-4 -33-20 -34-31 -35-40 -33-46 -32-58 -3 0 -31-53 -8-10 -15-12 -1-13 8-12 5-13 21-90 3-30zM265 561l-9 15 -4 13 -3 47 -9 30 -24 45 -33 48 -617 0 -20-29 -18-31 -15-35 -12-35 -9-38 -6-40 -3-40 2-32 6-28 17-40 2-15 -1-15 7-4 13 4 22 12 23 5 12 1 35-4 48-10 42-15 40-18 28-15 35-22 67-49 10-4 15 0 43 11 15 9 12 10 31 49 24 34 4 11 30 45 29 35 40 39 30 23 25 16 30 9 37 2 4 1 1 4z"/>
<path fill="#00ef2a" d="M-259 -559l26-32 32-59 25-34 20-21 20-19 22-18 25-17 383 0 22 13 20 13 20 16 19 18 18 20 16 21 27 45 19 44 14 48 5 35 2 65 3 20 7 20 -2 3 -8-2 -37-19 -23-6 -27 0 -34 6 -71 28 -38 17 -40 23 -50 34 -32 17 -15 5 -15-1 -43-12 -7-4 -13-11 -40-48 -25-35 0-3 -18-27 -20-28 -58-67 -16-15 -23-16 -22-9 -23-4 -30 1 -12-1zM-309 -466l43-25 15-6 15-2 20 1 27 8 16 6 17 10 17 14 18 17 40 46 25 36 30 58 15 24 20 25 18 15 1 8 -14 12 -11 18 -17 50 -6 52 0 28 3 35 -2 5 -5-1 -50-29 -42-16 -60-16 -18-1 -17 2 -8-2 -11-27 -51-70 -25-41 -25-54 -17-50 -4-20 0-20 1-15 6-28 6-15 8-12 10-11zM-381 -486l3 2 -2 8 -19 37 -6 23 0 27 6 34 28 71 17 38 23 40 34 50 17 32 5 15 -1 15 -12 43 -4 7 -11 13 -48 40 -35 25 -3 0 -27 18 -28 20 -67 58 -15 16 -16 23 -9 22 -4 23 1 30 -1 12 -4 3 -32-26 -59-32 -34-25 -21-20 -19-20 -18-22 -17-25 0-383 13-22 13-20 16-20 18-19 20-18 21-16 45-27 44-19 48-14 35-5 65-2 20-3zM466 -309l25 43 6 15 2 15 -1 20 -8 27 -6 16 -10 17 -14 17 -17 18 -46 40 -36 25 -58 30 -24 15 -25 20 -15 18 -8 1 -12-14 -18-11 -50-17 -52-6 -28 0 -35 3 -5-2 1-5 29-50 16-42 16-60 1-18 -2-17 2-8 27-11 70-51 41-25 54-25 50-17 20-4 20 0 15 1 28 6 15 6 12 8 11 10zM559 -259l32 26 59 32 34 25 21 20 19 20 18 22 17 25 0 383 -13 22 -13 20 -16 20 -18 19 -20 18 -21 16 -45 27 -44 19 -48 14 -35 5 -65 2 -20 3 -20 7 -3-2 2-8 19-37 6-23 0-27 -6-34 -28-71 -17-38 -23-40 -34-50 -17-32 -5-15 1-15 12-43 4-7 11-13 48-40 35-25 3 0 27-18 28-20 67-58 15-16 16-23 9-22 4-23 -1-30 1-12zM-31 18l-1 6 -18 30 -12 22 -15 40 -16 60 -1 18 2 17 -2 8 -27 11 -70 51 -41 25 -54 25 -50 17 -20 4 -20 0 -15-1 -28-6 -15-6 -12-8 -11-10 -9-12 -25-43 -6-15 -2-15 1-20 8-27 6-16 10-17 14-17 17-18 46-40 36-25 58-30 24-15 25-20 15-18 8-1 12 14 18 11 50 17 27 4 28 2 27 0 33-3zM19 31l5 1 50 29 42 16 60 16 18 1 17-2 8 2 11 27 51 70 25 41 25 54 17 50 4 20 0 20 -1 15 -6 28 -6 15 -8 12 -10 11 -12 9 -43 25 -15 6 -15 2 -20-1 -27-8 -16-6 -17-10 -17-14 -18-17 -40-46 -25-36 -30-58 -15-24 -20-25 -18-15 -1-8 14-12 11-18 17-50 6-52 0-28 -3-35zM-485 379l11 2 33 17 22 7 28 1 36-7 71-28 38-17 40-23 50-34 32-17 15-5 15 1 43 12 7 4 13 11 40 48 25 35 0 3 18 27 20 28 58 67 16 15 23 16 22 9 23 4 30-1 12 1 3 4 -26 32 -32 59 -25 34 -20 21 -20 19 -22 18 -25 17 -383 0 -22-13 -20-13 -20-16 -20-19 -33-40 -15-22 -13-25 -20-47 -13-45 -4-35 -2-60 -3-20 -7-23z"/>
<path fill="#0ff217" d="M-258 -559l40-32 52-53 25-23 35-25 42-23 33-10 30-7 32-6 30-2 30 0 35 2 53 10 60 18 30 12 22 12 20 13 23 17 22 21 22 24 29 40 21 37 12 30 24 77 20 46 -3 2 -12-4 -35-23 -20-7 -25-2 -30 5 -53 15 -50 20 -47 26 -75 51 -18 7 -17 0 -43-12 -7-4 -13-11 -15-19 -39-59 -44-60 -42-45 -42-37 -22-13 -21-7 -12 0 -43 4 -12-2zM-381 -484l2 3 -4 12 -23 35 -7 20 -2 25 5 30 15 53 20 50 26 47 51 75 7 18 0 17 -12 43 -4 7 -11 13 -19 15 -59 39 -60 44 -45 42 -37 42 -13 22 -7 21 0 12 4 43 -2 12 -3 2 -32-40 -53-52 -23-25 -25-35 -23-42 -10-33 -7-30 -6-32 -2-30 0-30 2-35 10-53 18-60 12-30 12-22 13-20 17-23 21-22 24-22 40-29 37-21 30-12 77-24zM-264 -474l13-5 12-3 13-1 12 1 13 4 15 6 30 21 40 37 40 46 25 34 27 48 13 17 10 10 12 8 15 12 2 5 -2 3 -11 5 -11 7 -8 9 -7 12 -14 37 -16 60 -5 10 -10 7 -5 2 -13 0 -55-13 -40-5 -22 0 -20 7 -6-1 -6-10 -6-22 -5-10 -32-48 -15-26 -23-49 -20-57 -10-43 -1-30 4-25 6-12 7-10 17-15zM451 -301l24 40 5 12 3 13 0 15 -3 15 -6 15 -8 15 -28 35 -46 45 -27 22 -24 18 -55 32 -12 9 -15 14 -8 12 -12 15 -5 2 -3-2 -5-11 -7-11 -9-8 -12-7 -37-14 -60-16 -10-5 -4-5 -5-10 0-13 13-55 5-42 0-23 -7-17 1-5 2-3 38-14 58-38 43-23 51-20 53-16 37-5 15 0 15 2 13 4 12 7 10 9zM559 -258l32 40 53 52 23 25 25 35 23 42 10 33 7 30 6 32 2 30 0 30 -2 35 -10 53 -18 60 -12 30 -12 22 -13 20 -17 23 -21 22 -24 22 -40 29 -37 21 -30 12 -77 24 -46 20 -2-3 4-12 23-35 7-20 2-25 -5-30 -15-53 -20-50 -26-47 -51-75 -7-18 0-17 12-43 4-7 11-13 19-15 59-39 60-44 45-42 37-42 13-22 7-21 0-12 -4-43 2-12zM-89 49l6 10 1 7 -1 10 -12 55 -5 35 0 25 7 20 -1 5 -2 3 -38 14 -58 38 -43 23 -51 20 -53 16 -37 5 -15 0 -15-2 -13-4 -12-7 -10-9 -10-12 -24-40 -5-12 -3-13 0-15 3-15 6-15 8-15 28-35 46-45 27-22 24-18 55-32 12-9 15-14 8-12 12-15 5-2 3 2 5 11 10 14 20 13 35 13 57 15 9 4zM56 84l5-2 13 0 55 13 40 5 22 0 20-7 6 1 6 10 6 22 5 10 32 48 15 26 23 49 20 57 10 43 1 30 -4 25 -6 12 -7 10 -17 15 -37 23 -13 5 -12 3 -13 1 -12-1 -13-4 -15-6 -30-21 -40-37 -40-46 -25-34 -27-48 -13-17 -10-10 -12-8 -15-12 -2-5 2-3 11-5 11-7 8-9 7-12 14-37 16-60 5-10zM-484 381l3-2 12 4 35 23 18 7 25 2 30-4 55-16 50-20 47-26 75-51 18-7 17 0 43 12 7 4 13 11 15 19 39 59 44 60 42 45 42 37 22 13 21 7 12 0 43-4 12 2 2 3 -40 32 -52 53 -25 23 -35 25 -42 23 -33 10 -30 7 -32 6 -30 2 -30 0 -35-2 -53-10 -60-18 -30-12 -22-12 -20-13 -23-17 -22-21 -22-24 -29-40 -23-42 -12-33 -19-62z"/>
<path fill="#2cf708" d="M-256 -559l127-97 35-21 35-16 28-7 30-6 57-6 60 2 53 10 60 17 45 20 22 13 23 16 40 37 29 33 25 38 16 31 54 114 -4 0 -10-3 -35-24 -28-14 -15-4 -10-2 -15 2 -65 19 -52 19 -45 22 -68 44 -15 6 -15 0 -40-11 -12-7 -18-20 -34-50 -22-27 -60-65 -39-38 -17-15 -14-7 -24-4 -27 0 -40 5 -13-2zM-381 -483l0 4 -3 10 -24 35 -14 28 -4 15 -2 10 2 15 19 65 19 52 22 45 44 68 6 15 0 15 -11 40 -7 12 -20 18 -50 34 -27 22 -65 60 -38 39 -15 17 -7 14 -4 24 0 27 5 40 -2 13 -2 2 -97-127 -21-35 -16-35 -7-28 -6-30 -6-57 2-60 10-53 17-60 20-45 13-22 16-23 37-40 33-29 38-25 31-16zM-251 -452l20-5 22 2 25 10 28 19 42 36 35 37 23 29 24 43 8 10 14 10 24 12 11 10 1 7 -23 11 -16 15 -10 17 -27 60 -11 13 -15 10 -8 3 -12 1 -58-4 -25 1 -17 3 -18 8 -2 0 -5-8 -13-50 -32-51 -20-46 -18-60 -8-50 -1-17 2-15 4-13 6-11 13-14zM411 -304l11 8 8 10 20 32 5 13 2 12 0 13 -4 15 -7 14 -13 21 -19 25 -24 27 -25 25 -38 30 -46 27 -10 8 -10 14 -12 24 -10 11 -7 1 -11-23 -15-16 -20-11 -55-25 -7-5 -10-10 -9-15 -2-10 2-85 -3-22 -8-18 2-4 8-4 32-7 16-5 38-25 28-15 31-12 40-13 45-10 32-4 25 2zM559 -256l97 127 21 35 16 35 7 28 6 30 6 57 -2 60 -10 53 -17 60 -20 45 -13 22 -16 23 -37 40 -33 29 -38 25 -31 16 -114 54 0-4 3-10 24-35 14-28 4-15 2-10 -2-15 -19-65 -19-52 -22-45 -44-68 -6-15 0-15 11-40 7-12 20-18 50-34 27-22 65-60 38-39 15-17 7-14 4-24 0-27 -5-40 2-13zM-114 64l9 15 2 10 -2 85 3 22 8 18 -2 4 -8 4 -32 7 -16 5 -47 30 -37 17 -43 15 -45 11 -37 5 -30-1 -13-4 -10-5 -10-8 -6-8 -22-35 -5-20 0-12 3-13 12-27 14-20 20-25 23-25 23-23 35-27 46-27 10-8 10-14 12-24 10-11 7-1 11 23 15 16 20 11 55 25 7 5zM79 105l17-3 55 3 25 0 20-3 18-8 2 0 5 8 13 50 32 51 20 46 18 60 8 50 1 17 -2 15 -4 13 -6 11 -13 14 -37 23 -20 5 -22-2 -25-10 -28-19 -42-36 -35-37 -23-29 -24-43 -8-10 -14-10 -24-12 -11-10 -1-7 23-11 16-15 10-17 21-48 7-14 13-13zM-483 381l4 0 10 3 35 24 28 14 15 4 10 2 15-2 65-19 52-19 45-22 68-44 15-6 15 0 40 11 12 7 18 20 34 50 22 27 60 65 39 38 17 15 14 7 24 4 27 0 40-5 13 2 2 2 -127 97 -35 21 -35 16 -28 7 -30 6 -57 6 -60-2 -53-10 -60-17 -45-20 -22-13 -23-16 -40-37 -29-33 -25-38 -16-31z"/>
<path fill="#4cfa00" d="M-255 -559l11-9 115-72 38-19 35-14 55-12 52-4 58 2 50 9 57 17 40 16 43 24 40 32 34 35 28 37 26 41 54 92 -2 2 -10-2 -38-28 -20-11 -17-7 -30-7 -33-2 -102 34 -78 30 -15 4 -12-1 -45-12 -13-7 -61-58 -49-40 -48-50 -8-5 -34-13 -27-5 -38 0 -40 7 -10-1zM-384 -481l2 2 -2 10 -28 38 -11 20 -7 17 -7 30 -2 33 34 102 30 78 4 15 -1 12 -12 45 -7 13 -58 61 -40 49 -50 48 -5 8 -13 34 -5 27 0 38 7 40 -1 10 -3 6 -9-11 -72-115 -19-38 -14-35 -12-55 -4-52 2-58 9-50 17-57 16-40 24-43 32-40 35-34 37-28 41-26zM-204 -404l18 3 20 7 25 13 22 15 33 29 15 18 16 23 21 21 13 10 37 18 9 8 1 5 -2 2 -23 8 -16 10 -12 15 -32 48 -12 13 -19 12 -9 4 -12 3 -68 8 -17 6 -18 10 -3-1 -5-8 -6-40 -11-38 -18-37 -9-27 -8-38 -1-37 4-33 5-13 6-9 9-7 27-17 10-3zM364 -268l10 6 7 8 21 35 2 10 -1 13 -4 15 -5 15 -16 30 -22 30 -22 22 -35 27 -20 20 -14 16 -18 37 -8 9 -5 1 -2-2 -8-23 -10-16 -15-12 -48-32 -13-12 -12-19 -4-9 -3-12 -8-68 -5-15 -10-17 -1-5 9-6 40-6 38-11 44-21 40-11 28-4 27 0 25 2zM559 -255l9 11 72 115 19 38 14 35 12 55 4 52 -2 58 -9 50 -17 57 -16 40 -24 43 -32 40 -35 34 -37 28 -41 26 -92 54 -2-2 2-10 28-38 11-20 7-17 7-30 2-33 -34-102 -30-78 -4-15 1-12 12-45 7-13 58-61 40-49 50-48 5-8 13-34 5-27 0-38 -7-40 1-10zM-234 -26l2 2 8 23 10 16 15 12 48 32 13 12 12 19 4 9 3 12 8 68 5 15 10 17 1 5 -9 6 -40 6 -38 11 -44 21 -40 11 -28 4 -27 0 -25-2 -18-5 -10-6 -7-8 -21-35 -2-10 1-13 4-15 5-15 16-30 22-30 22-22 35-27 20-20 14-16 18-37 8-9zM214 95l3 1 5 8 6 40 11 38 18 37 9 27 8 38 1 37 -4 33 -5 13 -6 9 -9 7 -27 17 -10 3 -10 1 -18-3 -20-7 -25-13 -22-15 -33-29 -15-18 -16-23 -21-21 -13-10 -37-18 -9-8 -1-5 2-2 23-8 16-10 12-15 32-48 12-13 19-12 9-4 12-3 68-8 17-6zM-481 384l2-2 10 2 38 28 20 11 17 7 30 7 33 2 102-34 78-30 15-4 12 1 45 12 13 7 61 58 49 40 48 50 8 5 34 13 27 5 38 0 40-7 10 1 6 3 -11 9 -115 72 -38 19 -35 14 -55 12 -52 4 -58-2 -50-9 -57-17 -40-16 -43-24 -40-32 -34-35 -28-37 -26-41z"/>
<path fill="#6efa00" d="M-253 -559l19-13 95-52 45-21 38-13 52-10 53-3 57 3 48 8 55 16 42 17 40 22 40 30 38 36 32 38 39 55 40 62 -6 0 -8-2 -30-24 -32-21 -25-10 -23-6 -20-2 -22 0 -88 8 -32 4 -23 1 -20-2 -62-17 -33-15 -45-26 -56-28 -42-25 -33-12 -24-4 -22-1 -38 3 -35 7zM-384 -480l0 6 -2 8 -24 30 -21 32 -10 25 -6 23 -2 20 0 22 8 88 4 32 1 23 -2 20 -17 62 -15 33 -26 45 -28 56 -25 42 -12 33 -4 24 -1 22 3 38 7 35 -3 14 -13-19 -52-95 -21-45 -13-38 -10-52 -3-53 3-57 8-48 16-55 17-42 22-40 30-40 36-38 38-32 55-39zM24 -239l1 5 -1 1 -24 7 -20 10 -51 54 -10 9 -23 13 -20 8 -57 16 -18 8 -15 12 -2 0 -5-7 -2-11 0-22 -2-18 -11-46 -4-21 -1-23 1-22 5-25 9-19 10-11 25-15 15-6 17-1 18 4 25 9 35 21 34 30 17 13 9 5 35 13zM559 -253l13 19 52 95 21 45 13 38 10 52 3 53 -3 57 -8 48 -16 55 -17 42 -22 40 -30 40 -36 38 -38 32 -55 39 -62 40 0-6 2-8 24-30 21-32 10-25 6-23 2-20 0-22 -8-88 -4-32 -1-23 2-20 17-62 15-33 26-45 28-56 25-42 12-33 4-24 1-22 -3-38 -7-35zM103 -221l11-2 22 0 18-2 46-11 21-4 23-1 22 1 25 5 19 9 11 10 15 25 6 15 1 17 -4 18 -9 25 -21 35 -30 34 -13 17 -5 9 -13 35 -9 10 -5 1 -1-1 -7-24 -10-20 -54-51 -9-10 -13-23 -8-20 -16-57 -8-18 -12-15 0-2zM-239 -24l5-1 1 1 7 24 10 20 54 51 9 10 13 23 8 20 16 57 8 18 12 15 0 2 -7 5 -11 2 -22 0 -18 2 -46 11 -21 4 -23 1 -22-1 -25-5 -19-9 -11-10 -15-25 -6-15 -1-17 4-18 9-25 21-35 30-34 13-17 5-9 13-35zM221 103l2 11 0 22 2 18 11 46 4 21 1 23 -1 22 -5 25 -9 19 -10 11 -25 15 -15 6 -17 1 -18-4 -25-9 -35-21 -34-30 -17-13 -9-5 -35-13 -10-9 -1-5 1-1 24-7 20-10 51-54 10-9 23-13 20-8 57-16 18-8 15-12 2 0zM-480 384l6 0 8 2 30 24 32 21 25 10 23 6 20 2 22 0 88-8 32-4 23-1 20 2 62 17 33 15 45 26 56 28 42 25 33 12 24 4 22 1 38-3 35-7 14 3 -19 13 -95 52 -45 21 -38 13 -52 10 -53 3 -57-3 -48-8 -55-16 -42-17 -40-22 -40-30 -38-36 -32-38 -39-55z"/>
<path fill="#8ef900" d="M-250 -559l4-5 15-9 80-39 50-21 47-14 53-9 52-2 53 4 50 9 52 15 40 16 40 21 40 29 40 36 35 38 51 66 24 35 0 3 -7 0 -5-3 -33-27 -30-20 -25-13 -20-7 -25-7 -25-3 -95 0 -22-1 -20-4 -85-23 -151-62 -27-9 -27-4 -33-1 -39 4 -43 10zM-386 -476l0 7 -3 5 -27 33 -20 30 -13 25 -7 20 -7 25 -3 25 0 95 -1 22 -4 20 -23 85 -62 151 -9 27 -4 27 -1 33 4 39 10 43 -3 14 -5-4 -9-15 -39-80 -21-50 -14-47 -9-53 -2-52 4-53 9-50 15-52 16-40 21-40 29-40 36-40 38-35 66-51 35-24zM23 -239l1 5 -32 8 -16 7 -16 13 -39 34 -35 22 -70 30 -17 11 -13 12 -2 0 -5-8 -1-9 3-42 -4-68 3-27 9-20 12-15 8-7 22-13 13-5 12-2 13 1 15 4 22 10 57 34 16 7 35 10zM559 -250l5 4 9 15 39 80 21 50 14 47 9 53 2 52 -4 53 -9 50 -15 52 -16 40 -21 40 -29 40 -36 40 -38 35 -66 51 -35 24 -3 0 0-7 3-5 27-33 20-30 13-25 7-20 7-25 3-25 0-95 1-22 4-20 23-85 62-151 9-27 4-27 1-33 -4-39 -10-43zM105 -221l9-1 42 3 68-4 27 3 20 9 15 12 7 8 13 22 5 13 2 12 -1 13 -4 15 -10 22 -34 57 -7 16 -10 35 -8 9 -5 1 -8-32 -7-16 -13-16 -34-39 -22-35 -30-70 -11-17 -12-13 0-2zM-239 -23l5-1 8 32 7 16 13 16 34 39 22 35 30 70 11 17 12 13 0 2 -8 5 -9 1 -42-3 -68 4 -27-3 -20-9 -15-12 -7-8 -13-22 -5-13 -2-12 1-13 4-15 10-22 34-57 7-16 10-35zM221 105l1 9 -3 42 4 68 -3 27 -9 20 -12 15 -8 7 -22 13 -13 5 -12 2 -13-1 -15-4 -22-10 -57-34 -16-7 -35-10 -9-8 -1-5 32-8 16-7 16-13 39-34 35-22 70-30 17-11 13-12 2 0zM-476 386l7 0 5 3 33 27 30 20 25 13 20 7 25 7 25 3 95 0 22 1 20 4 85 23 151 62 27 9 27 4 33 1 39-4 43-10 14 3 -4 5 -15 9 -80 39 -50 21 -47 14 -53 9 -52 2 -53-4 -50-9 -52-15 -40-16 -40-21 -40-29 -40-36 -35-38 -51-66 -24-35z"/>
<path fill="#aaf600" d="M-245 -561l9-8 17-9 65-29 55-20 48-13 47-6 53-2 52 4 48 9 52 15 40 15 43 22 37 26 38 31 40 40 42 51 33 44 -5 4 -3-1 -35-31 -27-20 -35-19 -33-14 -45-12 -77-11 -28-6 -45-13 -47-11 -84-26 -36-10 -55-11 -43-3 -27 1 -24 3 -64 14zM-391 -474l4 5 -1 3 -31 35 -20 27 -19 35 -14 33 -12 45 -11 77 -6 28 -13 45 -11 47 -26 84 -10 36 -11 55 -3 43 1 27 3 24 14 64 -4 6 -8-9 -9-17 -29-65 -20-55 -13-48 -6-47 -2-53 4-52 9-48 15-52 15-40 22-43 26-37 31-38 40-40 51-42zM22 -239l-1 5 -36 8 -20 10 -59 41 -32 20 -60 32 -15 11 -13 14 -2 0 -5-8 14-95 7-28 8-15 11-13 7-7 20-13 10-4 13-3 25 2 22 7 55 19 43 9zM561 -245l8 9 9 17 29 65 20 55 13 48 6 47 2 53 -4 52 -9 48 -15 52 -15 40 -22 43 -26 37 -31 38 -40 40 -51 42 -44 33 -4-5 1-3 31-35 20-27 19-35 14-33 12-45 11-77 6-28 13-45 11-47 26-84 10-36 11-55 3-43 -1-27 -3-24 -14-64zM106 -221l95 14 28 7 15 8 13 11 7 7 13 20 4 10 3 13 -2 25 -7 22 -19 55 -9 43 -8 8 -5-1 -8-36 -10-20 -41-59 -20-32 -32-60 -11-15 -14-13 0-2zM-239 -22l5 1 8 36 10 20 41 59 20 32 32 60 11 15 14 13 0 2 -8 5 -95-14 -28-7 -15-8 -13-11 -7-7 -13-20 -4-10 -3-13 2-25 7-22 19-55 9-43zM221 106l-14 95 -7 28 -8 15 -11 13 -7 7 -20 13 -10 4 -13 3 -25-2 -22-7 -55-19 -43-9 -8-8 1-5 36-8 20-10 59-41 32-20 60-32 15-11 13-14 2 0zM-474 391l5-4 3 1 35 31 27 20 35 19 33 14 45 12 77 11 28 6 45 13 47 11 84 26 36 10 55 11 43 3 27-1 24-3 64-14 6 4 -9 8 -17 9 -65 29 -55 20 -48 13 -47 6 -53 2 -52-4 -48-9 -52-15 -40-15 -43-22 -37-26 -38-31 -40-40 -42-51z"/>
<path fill="#c7f400" d="M-236 -566l7-5 23-12 55-22 52-17 45-11 53-6 47-1 55 4 45 9 53 15 37 14 40 20 40 25 40 32 43 41 44 49 26 35 -5 5 -33-29 -30-23 -33-21 -36-17 -48-18 -150-42 -125-28 -33-5 -50-5 -42-1 -40 4 -39 7 -36 10 -3 0 -2-2zM-396 -469l5 5 -29 33 -23 30 -21 33 -17 36 -18 48 -42 150 -28 125 -5 33 -5 50 -1 42 4 40 7 39 10 36 0 3 -2 2 -5 0 -5-7 -12-23 -22-55 -17-52 -11-45 -6-53 -1-47 4-55 9-45 15-53 14-37 20-40 25-40 32-40 41-43 49-44zM20 -239l-4 5 -35 7 -24 11 -136 83 -17 14 -18 19 -2 0 -5-9 19-67 11-30 10-16 12-14 10-8 18-11 12-6 13-3 30 0 98 18 4 2zM566 -236l5 7 12 23 22 55 17 52 11 45 6 53 1 47 -4 55 -9 45 -15 53 -14 37 -20 40 -25 40 -32 40 -41 43 -49 44 -35 26 -5-5 29-33 23-30 21-33 17-36 18-48 42-150 28-125 5-33 5-50 1-42 -4-40 -7-39 -10-36 0-3 2-2zM109 -221l67 19 30 11 16 10 14 12 8 10 11 18 6 12 3 13 0 30 -18 98 -2 4 -5 4 -5-4 -7-35 -11-24 -83-136 -14-17 -19-18 0-2zM-239 -20l5 4 7 35 11 24 83 136 14 17 19 18 0 2 -9 5 -67-19 -30-11 -16-10 -14-12 -8-10 -11-18 -6-12 -3-13 0-30 18-98 2-4zM221 109l-19 67 -11 30 -10 16 -12 14 -10 8 -18 11 -12 6 -13 3 -30 0 -98-18 -4-2 -4-5 4-5 35-7 24-11 136-83 17-14 18-19 2 0zM-469 396l5-5 33 29 30 23 33 21 36 17 48 18 150 42 125 28 33 5 50 5 42 1 40-4 39-7 36-10 3 0 2 2 0 5 -7 5 -23 12 -55 22 -52 17 -45 11 -53 6 -47 1 -55-4 -45-9 -53-15 -37-14 -40-20 -40-25 -40-32 -43-41 -44-49z"/>
<path fill="#e3f100" d="M-228 -569l6-5 18-9 60-22 50-15 50-10 50-4 45 0 48 4 47 9 48 14 40 15 40 19 40 25 37 28 40 36 43 44 25 31 -3 5 0 3 -2 0 -34-30 -34-25 -33-20 -34-18 -71-27 -76-25 -37-10 -58-13 -44-7 -43-5 -51-3 -40 0 -35 3 -43 7 -40 11 -4-1zM-404 -456l3 0 0 2 -30 34 -25 34 -20 33 -18 34 -27 71 -25 76 -10 37 -13 58 -7 44 -5 43 -3 51 0 40 3 35 7 43 11 40 -1 4 -5 5 -5-6 -9-18 -22-60 -15-50 -10-50 -4-50 0-45 4-48 9-47 14-48 15-40 19-40 25-40 28-37 36-40 44-43 31-25zM15 -239l-6 5 -29 5 -14 5 -35 18 -47 27 -58 38 -20 17 -20 22 -5-5 -1-4 15-43 10-22 11-20 9-13 14-15 27-18 13-6 15-4 32-3 80 8zM569 -228l5 6 9 18 22 60 15 50 10 50 4 50 0 45 -4 48 -9 47 -14 48 -15 40 -19 40 -25 40 -28 37 -36 40 -44 43 -31 25 -5-3 -3 0 0-2 30-34 25-34 20-33 18-34 27-71 25-76 10-37 13-58 7-44 5-43 3-51 0-40 -3-35 -7-43 -11-40 1-4zM107 -219l4-1 43 15 22 10 20 11 13 9 15 14 18 27 6 13 4 15 3 32 -8 80 -8 9 -5-6 -5-29 -5-14 -18-35 -27-47 -38-58 -17-20 -22-20zM-239 -15l5 6 5 29 5 14 18 35 27 47 38 58 17 20 22 20 -5 5 -4 1 -43-15 -22-10 -20-11 -13-9 -15-14 -18-27 -6-13 -4-15 -3-32 8-80zM219 107l1 4 -15 43 -10 22 -11 20 -9 13 -14 15 -27 18 -13 6 -15 4 -32 3 -80-8 -9-8 6-5 29-5 14-5 35-18 47-27 58-38 20-17 20-22zM-456 404l0-3 2 0 34 30 34 25 33 20 34 18 71 27 76 25 37 10 58 13 44 7 43 5 51 3 40 0 35-3 43-7 40-11 4 1 5 5 -6 5 -18 9 -60 22 -50 15 -50 10 -50 4 -45 0 -48-4 -47-9 -48-14 -40-15 -40-19 -40-25 -37-28 -40-36 -43-44 -25-31z"/>
<path fill="#ffee00" d="M-219 -571l5-5 10-5 58-22 52-14 48-9 47-4 48 1 50 4 47 10 45 12 40 15 43 20 37 23 38 27 37 32 45 45 23 27 0 2 -5 4 -43-36 -27-20 -32-20 -38-20 -40-17 -46-18 -52-17 -37-10 -85-16 -39-4 -46-2 -50 0 -46 4 -41 8 -41 10zM-412 -454l4 5 -36 43 -20 27 -20 32 -20 38 -17 40 -18 46 -17 52 -10 37 -16 85 -4 39 -2 46 0 50 4 46 8 41 10 41 -5 5 -5-5 -5-10 -22-58 -14-52 -9-48 -4-47 1-48 4-50 10-47 12-45 15-40 20-43 23-37 27-38 32-37 45-45 27-23zM7 -241l1 2 -6 5 -27 5 -21 8 -27 12 -40 23 -38 25 -25 18 -15 14 -23 25 -5-4 2-8 12-30 21-39 10-13 15-16 25-18 28-12 32-6 28 0 48 4zM108 -219l8 2 30 12 39 21 13 10 16 15 18 25 12 28 6 32 0 28 -4 48 -5 5 -2 1 -5-6 -5-27 -8-21 -12-27 -23-40 -25-38 -18-25 -14-15 -25-23zM571 -219l5 5 5 10 22 58 14 52 9 48 4 47 -1 48 -4 50 -10 47 -12 45 -15 40 -20 43 -23 37 -27 38 -32 37 -45 45 -27 23 -2 0 -4-5 36-43 20-27 20-32 20-38 17-40 18-46 17-52 10-37 16-85 4-39 2-46 0-50 -4-46 -8-41 -10-41zM-241 -7l2-1 5 6 5 27 8 21 12 27 23 40 25 38 18 25 14 15 25 23 -4 5 -8-2 -30-12 -39-21 -13-10 -16-15 -18-25 -12-28 -6-32 0-28 4-48zM219 108l-2 8 -12 30 -21 39 -10 13 -15 16 -25 18 -28 12 -32 6 -28 0 -48-4 -5-5 -1-2 6-5 27-5 21-8 27-12 40-23 38-25 25-18 15-14 23-25zM-454 412l5-4 43 36 27 20 32 20 38 20 40 17 46 18 52 17 37 10 85 16 39 4 46 2 50 0 46-4 41-8 41-10 5 5 -5 5 -10 5 -58 22 -52 14 -48 9 -47 4 -48-1 -50-4 -47-10 -45-12 -40-15 -43-20 -37-23 -38-27 -37-32 -45-45 -23-27z"/>
<path fill="#ffca00" d="M-207 -576l5-5 13-6 55-18 43-10 47-8 50-3 45 0 48 5 42 9 45 12 43 15 37 17 40 23 40 28 35 29 45 43 20 23 -2 8 -36-30 -37-27 -32-20 -37-20 -38-18 -44-17 -44-15 -36-10 -81-15 -43-5 -37-1 -50 1 -36 2 -48 8 -44 10 -4 0zM-414 -444l-30 36 -27 37 -20 32 -20 37 -18 38 -17 44 -15 44 -10 36 -15 81 -5 43 -1 37 1 50 2 36 8 48 10 44 0 4 -5 4 -5-5 -6-13 -18-55 -10-43 -8-47 -3-50 0-45 5-48 9-42 12-45 15-43 17-37 23-40 28-40 29-35 43-45 23-20zM1 -239l-6 5 -25 5 -22 8 -28 12 -37 20 -30 20 -27 21 -15 14 -22 26 -5-5 2-8 11-25 22-35 25-27 27-19 15-8 15-5 33-7 25-1 37 2zM113 -216l8 2 25 11 35 22 27 25 19 27 8 15 5 15 7 33 1 25 -2 37 -7 5 -5-6 -5-25 -8-22 -12-28 -20-37 -20-30 -21-27 -14-15 -26-22zM576 -207l5 5 6 13 18 55 10 43 8 47 3 50 0 45 -5 48 -9 42 -12 45 -15 43 -17 37 -23 40 -28 40 -29 35 -43 45 -23 20 -8-2 30-36 27-37 20-32 20-37 18-38 17-44 15-44 10-36 15-81 5-43 1-37 -1-50 -2-36 -8-48 -10-44 0-4zM-239 -1l5 6 5 25 8 22 12 28 20 37 20 30 21 27 14 15 26 22 -5 5 -8-2 -25-11 -35-22 -27-25 -19-27 -8-15 -5-15 -7-33 -1-25 2-37zM216 113l-2 8 -11 25 -22 35 -25 27 -27 19 -15 8 -15 5 -33 7 -25 1 -37-2 -5-7 6-5 25-5 22-8 28-12 37-20 30-20 27-21 15-14 22-26zM-444 414l36 30 37 27 32 20 37 20 38 18 44 17 44 15 36 10 81 15 43 5 37 1 50-1 36-2 48-8 44-10 4 0 4 5 -5 5 -13 6 -55 18 -43 10 -47 8 -50 3 -45 0 -48-5 -42-9 -45-12 -43-15 -37-17 -40-23 -40-28 -35-29 -45-43 -20-23z"/>
<path fill="#ffa600" d="M-193 -581l6-5 13-5 55-17 48-9 42-5 45-2 43 2 42 5 48 9 42 13 40 14 38 18 40 23 40 27 40 33 41 41 7 8 0 5 -3 2 -30-25 -37-27 -36-23 -32-17 -37-18 -37-15 -42-15 -35-10 -77-15 -47-5 -33-1 -50 1 -41 3 -35 5 -49 10 -5 0zM-426 -437l2 3 -25 30 -27 37 -23 36 -17 32 -18 37 -15 37 -15 42 -10 35 -15 77 -5 47 -1 33 1 50 3 41 5 35 10 49 0 5 -5 4 -5-6 -5-13 -17-55 -9-48 -5-42 -2-45 2-43 5-42 9-48 13-42 14-40 18-38 23-40 27-40 33-40 41-41 8-7zM-5 -239l-6 5 -24 5 -29 10 -51 25 -26 18 -28 21 -15 14 -25 28 -5-5 3-8 8-18 24-35 25-26 25-17 15-8 18-7 35-8 45-1 5 1zM118 -214l8 3 18 8 35 24 26 25 17 25 8 15 7 18 8 35 1 45 -1 5 -6 6 -5-6 -5-24 -10-29 -25-51 -18-26 -21-28 -14-15 -28-25zM581 -193l5 6 5 13 17 55 9 48 5 42 2 45 -2 43 -5 42 -9 48 -13 42 -14 40 -18 38 -23 40 -27 40 -33 40 -41 41 -8 7 -5 0 -2-3 25-30 27-37 23-36 17-32 18-37 15-37 15-42 10-35 15-77 5-47 1-33 -1-50 -3-41 -5-35 -10-49 0-5zM-239 5l5 6 5 24 10 29 25 51 18 26 21 28 14 15 28 25 -5 5 -8-3 -18-8 -35-24 -26-25 -17-25 -8-15 -7-18 -8-35 -1-45 1-5zM214 118l-3 8 -8 18 -24 35 -25 26 -25 17 -15 8 -18 7 -35 8 -45 1 -5-1 -6-6 6-5 24-5 29-10 51-25 26-18 28-21 15-14 25-28zM-437 426l3-2 30 25 37 27 36 23 32 17 37 18 37 15 42 15 35 10 77 15 47 5 33 1 50-1 41-3 35-5 49-10 5 0 4 5 -6 5 -13 5 -55 17 -48 9 -42 5 -45 2 -43-2 -42-5 -48-9 -42-13 -40-14 -38-18 -40-23 -40-27 -40-33 -41-41 -7-8z"/>
<path fill="#ff8200" d="M-182 -584l11-7 47-14 48-10 45-5 42-2 43 2 45 5 40 8 45 12 37 13 38 16 37 20 40 26 33 25 35 30 20 21 2 4 -2 6 -38-30 -32-22 -32-20 -38-20 -70-30 -37-13 -36-10 -66-12 -48-5 -33-2 -40 1 -45 3 -80 13 -5 2zM-440 -426l6 2 -30 38 -22 32 -20 32 -20 38 -30 70 -13 37 -10 36 -12 66 -5 48 -2 33 1 40 3 45 13 80 2 5 -5 6 -7-11 -14-47 -10-48 -5-45 -2-42 2-43 5-45 8-40 12-45 13-37 16-38 20-37 26-40 25-33 30-35 21-20zM-11 -239l-5 5 -23 5 -30 10 -46 23 -23 15 -26 20 -17 16 -23 25 -2 1 -5-4 11-23 22-30 27-27 25-17 32-15 30-7 23-3 17 0 9 1zM123 -211l23 11 30 22 27 27 17 25 15 32 7 30 3 23 0 17 -1 9 -5 4 -5-5 -5-23 -10-30 -23-46 -15-23 -20-26 -16-17 -25-23 -1-2zM584 -182l7 11 14 47 10 48 5 45 2 42 -2 43 -5 45 -8 40 -12 45 -13 37 -16 38 -20 37 -26 40 -25 33 -30 35 -21 20 -4 2 -6-2 30-38 22-32 20-32 20-38 30-70 13-37 10-36 12-66 5-48 2-33 -1-40 -3-45 -13-80 -2-5zM-239 11l5 5 5 23 10 30 23 46 15 23 20 26 16 17 25 23 1 2 -4 5 -23-11 -30-22 -27-27 -17-25 -15-32 -7-30 -3-23 0-17 1-9zM211 123l-11 23 -22 30 -27 27 -25 17 -32 15 -30 7 -23 3 -17 0 -9-1 -4-5 5-5 23-5 30-10 46-23 23-15 26-20 17-16 23-25 2-1zM-426 440l2-6 38 30 32 22 32 20 38 20 70 30 37 13 36 10 66 12 48 5 33 2 40-1 45-3 80-13 5-2 6 5 -11 7 -47 14 -48 10 -45 5 -42 2 -43-2 -45-5 -40-8 -45-12 -37-13 -38-16 -37-20 -40-26 -33-25 -35-30 -20-21z"/>
<path fill="#ff5e00" d="M-165 -589l6-5 3 1 3-3 42-11 45-8 47-4 40-1 43 2 40 6 37 7 45 13 35 12 35 15 33 17 37 23 35 25 32 26 13 13 2 5 -3 5 -1 0 -30-23 -33-22 -34-20 -39-20 -61-25 -66-20 -67-13 -68-5 -45 0 -40 3 -70 10 -5 0 -5 2 -2 0zM-456 -408l5 3 0 1 -23 30 -22 33 -20 34 -20 39 -25 61 -20 66 -13 67 -5 68 0 45 3 40 10 70 0 5 2 5 0 2 -5 4 -5-6 1-3 -3-3 -11-42 -8-45 -4-47 -1-40 2-43 6-40 7-37 13-45 12-35 15-35 17-33 23-37 25-35 26-32 13-13zM-17 -239l-6 5 -28 8 -28 10 -40 20 -23 15 -22 17 -37 39 -5-4 -1-2 12-20 21-27 25-24 28-18 32-15 33-7 30-2 5 0zM129 -206l2-1 20 12 27 21 24 25 18 28 15 32 7 33 2 30 0 5 -5 4 -5-6 -8-28 -10-28 -20-40 -15-23 -17-22 -39-37zM589 -165l5 6 -1 3 3 3 11 42 8 45 4 47 1 40 -2 43 -6 40 -7 37 -13 45 -12 35 -15 35 -17 33 -23 37 -25 35 -26 32 -13 13 -5 2 -5-3 0-1 23-30 22-33 20-34 20-39 25-61 20-66 13-67 5-68 0-45 -3-40 -10-70 0-5 -2-5 0-2zM-239 17l5 6 8 28 10 28 20 40 15 23 17 22 39 37 -4 5 -2 1 -20-12 -27-21 -24-25 -18-28 -15-32 -7-33 -2-30 0-5zM206 129l1 2 -12 20 -21 27 -25 24 -28 18 -32 15 -33 7 -30 2 -5 0 -4-5 6-5 28-8 28-10 40-20 23-15 22-17 37-39zM-408 456l3-5 1 0 30 23 33 22 34 20 39 20 61 25 66 20 67 13 68 5 45 0 40-3 70-10 5 0 5-2 2 0 4 5 -6 5 -3-1 -3 3 -42 11 -45 8 -47 4 -40 1 -43-2 -40-6 -37-7 -45-13 -35-12 -35-15 -33-17 -37-23 -35-25 -32-26 -13-13z"/>
<path fill="#fc4902" d="M-145 -594l6-4 3 1 4-4 36-8 40-6 42-3 45 0 38 2 40 6 35 7 37 11 35 12 35 14 35 18 35 21 33 22 37 31 7 8 -2 5 -2 0 -63-43 -35-20 -30-15 -68-27 -60-18 -70-12 -57-4 -35-1 -39 2 -63 8 -8-1 -5 3 -2 0zM-461 -396l0 2 -43 63 -20 35 -15 30 -27 68 -18 60 -12 70 -4 57 -1 35 2 39 8 63 -1 8 3 5 0 2 -5 4 -4-6 1-3 -4-4 -8-36 -6-40 -3-42 0-45 2-38 6-40 7-35 11-37 12-35 14-35 18-35 21-35 22-33 31-37 8-7zM-31 -236l-5 5 -40 12 -42 20 -23 15 -19 15 -36 37 -5-5 -1-2 10-15 18-22 23-22 25-17 30-15 32-10 25-3 4 2zM137 -201l2-1 15 10 22 18 22 23 17 25 15 30 10 32 3 25 -2 4 -5 4 -5-5 -12-40 -20-42 -15-23 -15-19 -37-36zM594 -145l4 6 -1 3 4 4 8 36 6 40 3 42 0 45 -2 38 -6 40 -7 35 -11 37 -12 35 -14 35 -18 35 -21 35 -22 33 -31 37 -8 7 -5-2 0-2 43-63 20-35 15-30 27-68 18-60 12-70 4-57 1-35 -2-39 -8-63 1-8 -3-5 0-2zM-236 31l5 5 12 40 20 42 15 23 15 19 37 36 -5 5 -2 1 -15-10 -22-18 -22-23 -17-25 -15-30 -10-32 -3-25 2-4zM201 137l1 2 -10 15 -18 22 -23 22 -25 17 -30 15 -32 10 -25 3 -4-2 -4-5 5-5 40-12 42-20 23-15 19-15 36-37zM-396 461l2 0 63 43 35 20 30 15 68 27 60 18 70 12 57 4 35 1 39-2 63-8 8 1 5-3 2 0 4 5 -6 4 -3-1 -4 4 -36 8 -40 6 -42 3 -45 0 -38-2 -40-6 -35-7 -37-11 -35-12 -35-14 -35-18 -35-21 -33-22 -37-31 -7-8z"/>
<path fill="#f93804" d="M-122 -599l11-3 4-4 11-1 2-2 45-6 45-3 35 1 35 2 35 5 38 7 37 10 30 10 60 26 33 17 32 21 35 25 11 10 -6 6 -27-19 -36-22 -34-17 -33-15 -53-20 -55-15 -55-10 -54-5 -63 0 -55 4 -7 1 -5 0 -3-1 -4 3 -3 0 -2 0zM-484 -377l6 6 -19 27 -22 36 -17 34 -15 33 -20 53 -15 55 -10 55 -5 54 0 63 4 55 1 7 0 5 -1 3 3 4 0 3 0 2 -5 4 -3-11 -4-4 -1-11 -2-2 -6-45 -3-45 1-35 2-35 5-35 7-38 10-37 10-30 26-60 17-33 21-32 25-35zM-35 -236l-6 5 -5 0 -33 12 -37 18 -20 12 -19 15 -34 32 -7-3 12-18 23-24 17-15 25-16 25-12 33-9 20-3zM145 -196l18 12 24 23 15 17 16 25 12 25 9 33 3 20 -6 6 -5-6 0-5 -12-33 -18-37 -12-20 -15-19 -32-34zM599 -122l3 11 4 4 1 11 2 2 6 45 3 45 -1 35 -2 35 -5 35 -7 38 -10 37 -10 30 -26 60 -17 33 -21 32 -25 35 -10 11 -6-6 19-27 22-36 17-34 15-33 20-53 15-55 10-55 5-54 0-63 -4-55 -1-7 0-5 1-3 -3-4 0-3 0-2zM-236 35l5 6 0 5 12 33 18 37 12 20 15 19 32 34 -3 7 -18-12 -24-23 -15-17 -16-25 -12-25 -9-33 -3-20zM196 145l-12 18 -23 24 -17 15 -25 16 -25 12 -33 9 -20 3 -6-6 6-5 5 0 33-12 37-18 20-12 19-15 34-32zM-377 484l6-6 27 19 36 22 34 17 33 15 53 20 55 15 55 10 54 5 63 0 55-4 7-1 5 0 3 1 4-3 3 0 2 0 4 5 -11 3 -4 4 -11 1 -2 2 -45 6 -45 3 -35-1 -35-2 -35-5 -38-7 -37-10 -30-10 -60-26 -33-17 -32-21 -35-25z"/>
<path fill="#f52806" d="M-92 -604l8-2 3 1 8-6 17-1 2-2 34-2 29-1 67 4 60 11 63 18 60 24 30 16 30 17 22 16 14 12 -4 5 -30-18 -35-19 -54-25 -48-18 -46-12 -52-10 -47-5 -53-2 -55 2 -6 0 -4-3 -4 5 -3 0 -3 0zM-499 -355l5 4 -18 30 -19 35 -25 54 -18 48 -12 46 -10 52 -5 47 -2 53 2 55 0 6 -3 4 5 4 0 3 0 3 -5 3 -2-8 1-3 -6-8 -1-17 -2-2 -2-34 -1-29 4-67 11-60 18-63 24-60 16-30 17-30 16-22zM-48 -234l-5 5 -6 1 -27 11 -35 18 -33 23 -30 27 -5-2 0-3 3-5 25-27 20-17 20-12 25-13 27-9 15-2zM151 -189l3 0 5 3 27 25 17 20 12 20 13 25 9 27 2 15 -5 6 -5-5 -1-6 -11-27 -18-35 -23-33 -27-30zM604 -92l2 8 -1 3 6 8 1 17 2 2 2 34 1 29 -4 67 -11 60 -18 63 -24 60 -16 30 -17 30 -16 22 -12 14 -5-4 18-30 19-35 25-54 18-48 12-46 10-52 5-47 2-53 -2-55 0-6 3-4 -5-4 0-3 0-3zM-234 48l5 5 1 6 11 27 18 35 23 33 27 30 -2 5 -3 0 -5-3 -27-25 -17-20 -12-20 -13-25 -9-27 -2-15zM189 151l0 3 -3 5 -25 27 -20 17 -20 12 -25 13 -27 9 -15 2 -6-5 5-5 6-1 27-11 35-18 33-23 30-27zM-355 499l4-5 30 18 35 19 54 25 48 18 46 12 52 10 47 5 53 2 55-2 6 0 4 3 4-5 3 0 3 0 3 5 -8 2 -3-1 -8 6 -17 1 -2 2 -34 2 -29 1 -67-4 -60-11 -63-18 -60-24 -30-16 -30-17 -22-16z"/>
<path fill="#f21709" d="M-48 -609l7-5 11 0 10 5 0 5 -25 0zM5 -609l11-5 41 0 54 8 63 15 50 17 50 23 42 25 -2 2 5 3 1 5 -4 0 -20-12 -62-29 -65-22 -40-10 -40-8 -43-5 -40-2zM-516 -320l0 4 -12 20 -29 62 -22 65 -10 40 -8 40 -5 43 -2 40 -5 1 -5-11 0-41 8-54 15-63 17-50 23-50 25-42 2 2 3-5zM-65 -229l-6 5 -23 9 -32 18 -23 15 -22 19 -5 0 -3-2 25-26 18-14 20-12 20-10 20-7 7 0zM165 -179l26 25 14 18 12 20 10 20 7 20 0 7 -5 4 -5-6 -9-23 -18-32 -15-23 -19-22 0-5zM609 -48l5 7 0 11 -5 10 -5 0 0-25zM609 5l5 11 0 41 -8 54 -15 63 -17 50 -23 50 -25 42 -2-2 -3 5 -5 1 0-4 12-20 29-62 22-65 10-40 8-40 5-43 2-40zM-604 20l0 25 -5 3 -5-7 0-11 5-10zM-229 65l5 6 9 23 18 32 15 23 19 22 0 5 -2 3 -26-25 -14-18 -12-20 -10-20 -7-20 0-7zM179 165l-25 26 -18 14 -20 12 -20 10 -20 7 -7 0 -4-5 6-5 23-9 32-18 23-15 22-19 5 0zM-320 516l4 0 20 12 62 29 65 22 40 10 40 8 43 5 40 2 1 5 -11 5 -41 0 -54-8 -63-15 -50-17 -50-23 -42-25 2-2 -5-3zM20 604l25 0 3 5 -7 5 -11 0 -10-5z"/>
</g></g>
<g><g transform="translate(124.5 325.2) scale(.1 -.1)" fill-rule="evenodd">
<rect x="-760" y="-760" width="1520" height="1520" fill="#000"/>
<path fill="#0915e5" d="M-759 -759l1518 0 0 1518 -1518 0z"/>
<path fill="#062aec" d="M-759 -759l1518 0 0 1518 -1518 0z"/>
<path fill="#043ff3" d="M-759 -759l1518 0 0 1518 -1518 0z"/>
<path fill="#0254fa" d="M-759 -759l1518 0 0 1518 -1518 0z"/>
<path fill="#006bfe" d="M-759 -759l1518 0 0 1518 -1518 0z"/>
<path fill="#0089fc" d="M-759 -759l1518 0 0 1518 -1518 0z"/>
<path fill="#00a6fa" d="M-759 -759l1518 0 0 1518 -1518 0z"/>
<path fill="#00c4f7" d="M-759 -759l1518 0 0 1518 -1518 0z"/>
<path fill="#00e1f5" d="M-759 -759l522 0 37 70 12 30 14 43 13 22 0 15 2 13 9 27 4 15 2 3 3 15 2 2 20 80 2 3 11 42 4 10 1 8 4 10 1 7 4 10 1 8 2 2 3 16 2 2 0 7 2 3 1 7 2 3 3 15 2 2 0 8 2 2 1 5 2 3 0 5 3 2 2-2 0-3 -2-2 0-10 -2-3 -1-7 -2-3 -3-15 -2-2 0-8 -2-2 -3-16 -2-2 -1-7 -2-3 0-8 -2-2 -1-7 -2-3 0-7 -2-3 -1-7 -2-3 0-7 -2-3 -1-7 -2-3 -3-17 -2-3 0-7 -2-3 -8-35 -2-2 -8-35 -2-3 -1-7 -4-13 -11-50 -5-15 -7-12 0-20 -3-18 -6-27 -5-30 -3-73 554 0 -12 53 -22 72 -9 25 -24 48 -5 12 -3 15 -10 10 -10 15 -20 40 -57 98 -19 35 -6 10 -6 12 -7 10 -6 13 -4 5 -5 12 -5 5 -3 8 -17 27 -7 18 -20 30 -13 25 -5 5 -3 7 -14 23 -3 7 -15 23 -3 7 -17 28 -3 7 -7 10 -8 18 -12 20 3 3 47-78 13-25 7-10 3-8 7-10 6-12 4-5 3-8 7-10 3-7 17-28 8-17 10-13 0-2 7-10 16-30 4-5 3-8 5-5 3-7 45-73 45-80 32-50 7-15 3-12 15-15 8-10 20-33 15-20 57-61 50-46 54-43 231 0 0 522 -70 37 -30 12 -43 14 -22 13 -15 0 -13 2 -27 9 -15 4 -3 2 -15 3 -2 2 -80 20 -3 2 -42 11 -10 4 -8 1 -10 4 -7 1 -10 4 -8 1 -2 2 -16 3 -2 2 -7 0 -3 2 -7 1 -3 2 -15 3 -2 2 -8 0 -2 2 -5 1 -3 2 -5 0 -2 3 2 2 3 0 2-2 10 0 3-2 7-1 3-2 15-3 2-2 8 0 2-2 16-3 2-2 7-1 3-2 8 0 2-2 7-1 3-2 7 0 3-2 7-1 3-2 7 0 3-2 7-1 3-2 17-3 3-2 7 0 3-2 35-8 2-2 35-8 3-2 7-1 13-4 50-11 15-5 12-7 20 0 18-3 27-6 30-5 73-3 0 554 -53-12 -72-22 -25-9 -48-24 -12-5 -15-3 -10-10 -15-10 -40-20 -98-57 -35-19 -10-6 -12-6 -10-7 -13-6 -5-4 -12-5 -5-5 -8-3 -27-17 -18-7 -30-20 -25-13 -5-5 -7-3 -23-14 -7-3 -23-15 -7-3 -28-17 -7-3 -10-7 -18-8 -20-12 -3 3 78 47 25 13 10 7 8 3 10 7 12 6 5 4 8 3 10 7 7 3 28 17 17 8 13 10 2 0 10 7 30 16 5 4 8 3 5 5 7 3 73 45 80 45 50 32 15 7 12 3 15 15 10 8 33 20 20 15 61 57 46 50 43 54 0 231 -522 0 -37-70 -12-30 -14-43 -13-22 0-15 -2-13 -9-27 -4-15 -2-3 -3-15 -2-2 -20-80 -2-3 -11-42 -4-10 -1-8 -4-10 -1-7 -4-10 -1-8 -2-2 -3-16 -2-2 0-7 -2-3 -1-7 -2-3 -3-15 -2-2 0-8 -2-2 -1-5 -2-3 0-5 -3-2 -2 2 0 3 2 2 0 10 2 3 1 7 2 3 3 15 2 2 0 8 2 2 3 16 2 2 1 7 2 3 0 8 2 2 1 7 2 3 0 7 2 3 1 7 2 3 0 7 2 3 1 7 2 3 3 17 2 3 0 7 2 3 8 35 2 2 8 35 2 3 1 7 4 13 11 50 5 15 7 12 0 20 3 18 6 27 5 30 3 73 -554 0 12-53 22-72 9-25 24-48 5-12 3-15 10-10 10-15 20-40 57-98 19-35 6-10 6-12 7-10 6-13 4-5 5-12 5-5 3-8 17-27 7-18 20-30 13-25 5-5 3-7 14-23 3-7 15-23 3-7 17-28 3-7 7-10 8-18 12-20 -3-3 -47 78 -13 25 -7 10 -3 8 -7 10 -6 12 -4 5 -3 8 -7 10 -3 7 -17 28 -8 17 -10 13 0 2 -7 10 -16 30 -4 5 -3 8 -5 5 -3 7 -45 73 -45 80 -32 50 -7 15 -3 12 -15 15 -8 10 -20 33 -15 20 -57 61 -50 46 -54 43 -231 0 0-522 70-37 30-12 43-14 22-13 15 0 13-2 27-9 15-4 3-2 15-3 2-2 80-20 3-2 42-11 10-4 8-1 10-4 7-1 10-4 8-1 2-2 16-3 2-2 7 0 3-2 7-1 3-2 15-3 2-2 8 0 2-2 5-1 3-2 5 0 2-3 -2-2 -3 0 -2 2 -10 0 -3 2 -7 1 -3 2 -15 3 -2 2 -8 0 -2 2 -16 3 -2 2 -7 1 -3 2 -8 0 -2 2 -7 1 -3 2 -7 0 -3 2 -7 1 -3 2 -7 0 -3 2 -7 1 -3 2 -17 3 -3 2 -7 0 -3 2 -35 8 -2 2 -35 8 -3 2 -7 1 -13 4 -50 11 -15 5 -12 7 -20 0 -18 3 -27 6 -30 5 -73 3 0-554 53 12 72 22 25 9 48 24 12 5 15 3 10 10 15 10 40 20 98 57 35 19 10 6 12 6 10 7 13 6 5 4 12 5 5 5 8 3 27 17 18 7 30 20 25 13 5 5 7 3 23 14 7 3 23 15 7 3 28 17 7 3 10 7 18 8 20 12 3-3 -78-47 -25-13 -10-7 -8-3 -10-7 -12-6 -5-4 -8-3 -10-7 -7-3 -28-17 -17-8 -13-10 -2 0 -10-7 -30-16 -5-4 -8-3 -5-5 -7-3 -73-45 -80-45 -50-32 -15-7 -12-3 -15-15 -10-8 -33-20 -20-15 -61-57 -46-50 -43-54zM-64 -241l-2 2 0 3 2 2 0 9 2 1 3 18 2 2 1 8 2 2 0 7 4 11 1 8 2 2 3 17 2 3 1 7 2 3 5 26 2 1 1 8 2 2 0 8 2 2 6 25 4 10 1 8 4 10 3 15 2 2 1 5 2 3 3-2 0-3 -3-3 0-7 -2-3 0-7 -2-3 -1-7 -2-3 0-7 -2-3 -1-8 -2-2 0-7 -2-3 -1-7 -2-3 -3-15 -2-2 0-8 -2-2 -3-15 -2-3 -1-7 -4-10 -1-8 -2-2 -3-16 -2-2 0-7 -2-3 -1-7 -2-3 -5-24 -3-3 0-5 -2-3 0-5zM241 -64l-2-2 -3 0 -2 2 -9 0 -1 2 -18 3 -2 2 -8 1 -2 2 -7 0 -11 4 -8 1 -2 2 -17 3 -3 2 -7 1 -3 2 -26 5 -1 2 -8 1 -2 2 -8 0 -2 2 -25 6 -10 4 -8 1 -10 4 -15 3 -2 2 -5 1 -3 2 2 3 3 0 3-3 7 0 3-2 7 0 3-2 7-1 3-2 7 0 3-2 8-1 2-2 7 0 3-2 7-1 3-2 15-3 2-2 8 0 2-2 15-3 3-2 7-1 10-4 8-1 2-2 16-3 2-2 7 0 3-2 7-1 3-2 24-5 3-3 5 0 3-2 5 0zM-11 4l-2-3 -3 0 -3 3 -7 0 -3 2 -7 0 -3 2 -7 1 -3 2 -7 0 -3 2 -8 1 -2 2 -7 0 -3 2 -7 1 -3 2 -15 3 -2 2 -8 0 -2 2 -15 3 -3 2 -7 1 -10 4 -8 1 -2 2 -16 3 -2 2 -7 0 -3 2 -7 1 -3 2 -24 5 -3 3 -5 0 -3 2 -5 0 -2 3 2 2 3 0 2-2 9 0 1-2 18-3 2-2 8-1 2-2 7 0 11-4 8-1 2-2 17-3 3-2 7-1 3-2 26-5 1-2 8-1 2-2 8 0 2-2 25-6 10-4 8-1 10-4 15-3 2-2 5-1zM4 11l-3 2 0 3 3 3 0 7 2 3 0 7 2 3 1 7 2 3 0 7 2 3 1 8 2 2 0 7 2 3 1 7 2 3 3 15 2 2 0 8 2 2 3 15 2 3 1 7 4 10 1 8 2 2 3 16 2 2 0 7 2 3 1 7 2 3 5 24 3 3 0 5 2 3 0 5 3 2 2-2 0-3 -2-2 0-9 -2-1 -3-18 -2-2 -1-8 -2-2 0-7 -4-11 -1-8 -2-2 -3-17 -2-3 -1-7 -2-3 -5-26 -2-1 -1-8 -2-2 0-8 -2-2 -6-25 -4-10 -1-8 -4-10 -3-15 -2-2 -1-5z"/>
<path fill="#00e3da" d="M-759 -759l515 0 40 70 13 28 16 45 13 22 0 15 3 15 71 250 14 53 5 15 3 3 3-3 -3-15 -66-255 -11-48 -6-17 -7-13 0-25 -8-42 -3-28 -1-70 540 0 -11 60 -15 58 -12 35 -24 50 -4 15 -1 7 -12 13 -8 12 -125 225 -27 45 -10 23 -4 5 -13 20 -73 125 -27 50 -3 7 -3 3 4 4 55-92 60-105 8-17 12-18 134-227 27-43 7-15 3-12 17-18 42-57 35-37 35-33 37-30 35-25 47-28 201 0 0 515 -70 40 -28 13 -45 16 -22 13 -15 0 -15 3 -250 71 -53 14 -15 5 -3 3 3 3 15-3 255-66 48-11 17-6 13-7 25 0 42-8 28-3 70-1 0 540 -60-11 -58-15 -35-12 -50-24 -15-4 -7-1 -13-12 -12-8 -225-125 -45-27 -23-10 -5-4 -20-13 -125-73 -50-27 -7-3 -3-3 -4 4 92 55 105 60 17 8 18 12 227 134 43 27 15 7 12 3 18 17 57 42 37 35 33 35 30 37 25 35 28 47 0 201 -515 0 -40-70 -13-28 -16-45 -13-22 0-15 -3-15 -71-250 -14-53 -5-15 -3-3 -3 3 3 15 66 255 11 48 6 17 7 13 0 25 8 42 3 28 1 70 -540 0 11-60 15-58 12-35 24-50 4-15 1-7 12-13 8-12 125-225 27-45 10-23 4-5 13-20 73-125 27-50 3-7 3-3 -4-4 -55 92 -60 105 -8 17 -12 18 -134 227 -27 43 -7 15 -3 12 -17 18 -42 57 -35 37 -35 33 -37 30 -35 25 -47 28 -201 0 0-515 70-40 28-13 45-16 22-13 15 0 15-3 250-71 53-14 15-5 3-3 -3-3 -15 3 -255 66 -48 11 -17 6 -13 7 -25 0 -42 8 -28 3 -70 1 0-540 60 11 58 15 35 12 50 24 15 4 7 1 13 12 12 8 225 125 45 27 23 10 5 4 20 13 125 73 50 27 7 3 3 3 4-4 -92-55 -105-60 -17-8 -18-12 -227-134 -43-27 -15-7 -12-3 -18-17 -57-42 -37-35 -33-35 -30-37 -25-35 -28-47zM-64 -242l-2 3 -1 3 2 2 4 20 39 150 16 51 2 3 3-2 0-4 -2-3 0-7 -12-50 -41-148 -4-10 -1-5zM242 -64l-3-2 -3-1 -2 2 -20 4 -150 39 -51 16 -3 2 2 3 4 0 3-2 7 0 50-12 148-41 10-4 5-1zM-10 4l-2-3 -4 0 -3 2 -7 0 -50 12 -148 41 -10 4 -5 1 -3 3 3 2 3 1 2-2 20-4 150-39 51-16zM4 10l-3 2 0 4 2 3 0 7 12 50 41 148 4 10 1 5 3 3 2-3 1-3 -2-2 -4-20 -39-150 -16-51z"/>
<path fill="#00e6bf" d="M-759 -759l506 0 24 35 23 37 12 25 19 48 13 20 -1 15 3 18 85 300 6 15 3 3 3-3 -2-15 -77-303 -6-17 -7-13 0-27 -7-43 -2-25 2-70 524 0 -7 58 -13 62 -11 33 -22 50 -4 22 -11 10 -9 13 -152 272 -10 23 -5 5 -13 20 -73 125 -27 50 -2 7 -4 3 5 5 56-93 59-105 8-17 13-18 159-267 9-18 2-12 19-18 30-41 22-25 45-41 48-36 50-29 50-23 38-12 3-3 144 0 0 506 -35 24 -37 23 -25 12 -48 19 -20 13 -15-1 -18 3 -300 85 -15 6 -3 3 3 3 15-2 303-77 17-6 13-7 27 0 43-7 25-2 70 2 0 524 -58-7 -62-13 -33-11 -50-22 -22-4 -10-11 -13-9 -272-152 -23-10 -5-5 -20-13 -125-73 -50-27 -7-2 -3-4 -5 5 93 56 105 59 17 8 18 13 267 159 18 9 12 2 18 19 41 30 25 22 41 45 36 48 29 50 23 50 12 38 3 3 0 144 -506 0 -24-35 -23-37 -12-25 -19-48 -13-20 1-15 -3-18 -85-300 -6-15 -3-3 -3 3 2 15 77 303 6 17 7 13 0 27 7 43 2 25 -2 70 -524 0 7-58 13-62 11-33 22-50 4-22 11-10 9-13 152-272 10-23 5-5 13-20 73-125 27-50 2-7 4-3 -5-5 -56 93 -59 105 -8 17 -13 18 -159 267 -9 18 -2 12 -19 18 -30 41 -22 25 -45 41 -48 36 -50 29 -50 23 -38 12 -3 3 -144 0 0-506 35-24 37-23 25-12 48-19 20-13 15 1 18-3 300-85 15-6 3-3 -3-3 -15 2 -303 77 -17 6 -13 7 -27 0 -43 7 -25 2 -70-2 0-524 58 7 62 13 33 11 50 22 22 4 10 11 13 9 272 152 23 10 5 5 20 13 125 73 50 27 7 2 3 4 5-5 -93-56 -105-59 -17-8 -18-13 -267-159 -18-9 -12-2 -18-19 -41-30 -25-22 -41-45 -36-48 -29-50 -23-50 -12-38 -3-3zM-64 -242l-2 2 -1 4 5 22 40 150 16 52 2 3 3-3 0-4 -14-60 -41-148 -5-15zM242 -64l-2-2 -4-1 -22 5 -150 40 -52 16 -3 2 3 3 4 0 60-14 148-41 15-5zM-9 4l-3-3 -4 0 -60 14 -148 41 -15 5 -3 3 2 2 4 1 22-5 150-40 52-16zM4 9l-3 3 0 4 14 60 41 148 5 15 3 3 2-2 1-4 -5-22 -40-150 -16-52z"/>
<path fill="#00e8a4" d="M-717 -759l453 0 28 34 27 40 13 24 18 45 7 12 8 10 -1 18 4 17 85 298 5 15 5 5 -2 5 2 12 32 125 26 88 3 2 -5 1 -25-17 -55-33 -105-59 -22-10 -25-18 -260-156 -15-7 -15-3 -18-20 -37-28 -22-20 -39-47 -31-48 -24-47 -18-50 -11-50 -3-48 2-25 3-22zM350 -759l-2 55 -9 60 -10 38 -21 50 -4 22 -11 10 -11 15 -149 270 -10 23 -5 5 -13 20 -58 97 -25 45 -21 41 -2-1 1-7 -15-63 -35-127 -11-33 -4-5 2-5 -4-22 -73-290 -7-20 -8-13 1-27 -6-43 -1-25 1-25 5-45zM759 -717l0 453 -34 28 -40 27 -24 13 -45 18 -12 7 -10 8 -18-1 -17 4 -298 85 -15 5 -5 5 -5-2 -12 2 -125 32 -88 26 -2 3 -1-5 17-25 33-55 59-105 10-22 18-25 156-260 7-15 3-15 20-18 28-37 20-22 47-39 48-31 47-24 50-18 50-11 48-3 25 2 22 3zM-759 -350l55 2 60 9 38 10 50 21 22 4 10 11 15 11 270 149 23 10 5 5 20 13 97 58 45 25 41 21 -1 2 -7-1 -63 15 -127 35 -33 11 -5 4 -5-2 -22 4 -290 73 -20 7 -13 8 -27-1 -43 6 -25 1 -25-1 -45-5zM759 350l-55-2 -60-9 -38-10 -50-21 -22-4 -10-11 -15-11 -270-149 -23-10 -5-5 -20-13 -97-58 -45-25 -41-21 1-2 7 1 63-15 127-35 33-11 5-4 5 2 22-4 290-73 20-7 13-8 27 1 43-6 25-1 25 1 45 5zM-9 4l1 5 -17 25 -33 55 -59 105 -10 22 -18 25 -156 260 -7 15 -3 15 -20 18 -28 37 -20 22 -47 39 -48 31 -47 24 -50 18 -50 11 -48 3 -25-2 -22-3 -43-12 0-453 34-28 40-27 24-13 45-18 12-7 10-8 18 1 17-4 298-85 15-5 5-5 5 2 12-2 125-32 88-26zM-1 8l2 1 -1 7 15 63 35 127 11 33 4 5 -2 5 4 22 73 290 7 20 8 13 -1 27 6 43 1 25 -1 25 -5 45 -505 0 2-55 9-60 10-38 21-50 4-22 11-10 11-15 149-270 10-23 5-5 13-20 58-97 25-45zM4 9l5-1 25 17 55 33 105 59 22 10 25 18 260 156 15 7 15 3 18 20 37 28 22 20 39 47 31 48 24 47 18 50 11 50 3 48 -2 25 -3 22 -12 43 -453 0 -28-34 -27-40 -13-24 -18-45 -7-12 -8-10 1-18 -4-17 -85-298 -5-15 -5-5 2-5 -2-12 -32-125 -26-88z"/>
<path fill="#00ea89" d="M-667 -759l388 0 33 34 22 27 15 21 13 23 16 38 8 12 9 10 -2 15 3 18 84 292 8 23 4 5 -1 5 2 12 29 118 18 62 11 33 2 2 -4 0 -40-26 -47-28 -98-55 -22-9 -25-18 -258-156 -15-7 -17-3 -8-11 -10-11 -35-28 -18-18 -37-50 -27-47 -20-50 -12-50 -3-25 -2-25 1-25 3-23 5-22 7-23 9-20zM337 -759l2 55 -5 61 -8 34 -19 50 -3 25 -14 13 -10 15 -145 262 -12 28 -15 20 -63 105 -25 45 -19 38 -1-1 0-7 -7-35 -15-58 -33-115 -5-15 -4-5 1-5 -4-22 -72-293 -6-15 -10-15 3-27 -5-43 0-25 2-27 8-43zM759 -667l0 388 -34 33 -27 22 -21 15 -23 13 -38 16 -12 8 -10 9 -15-2 -18 3 -292 84 -23 8 -5 4 -5-1 -12 2 -118 29 -62 18 -33 11 -2 2 0-4 26-40 28-47 55-98 9-22 18-25 156-258 7-15 3-17 11-8 11-10 28-35 18-18 50-37 47-27 50-20 50-12 25-3 25-2 25 1 23 3 22 5 23 7 20 9zM-759 -337l55-2 61 5 34 8 50 19 25 3 13 14 15 10 262 145 28 12 20 15 105 63 45 25 38 19 -1 1 -7 0 -35 7 -58 15 -115 33 -15 5 -5 4 -5-1 -22 4 -293 72 -15 6 -15 10 -27-3 -43 5 -25 0 -27-2 -43-8zM759 337l-55 2 -61-5 -34-8 -50-19 -25-3 -13-14 -15-10 -262-145 -28-12 -20-15 -105-63 -45-25 -38-19 1-1 7 0 35-7 58-15 115-33 15-5 5-4 5 1 22-4 293-72 15-6 15-10 27 3 43-5 25 0 27 2 43 8zM-9 5l0 4 -26 40 -28 47 -55 98 -9 22 -18 25 -156 258 -7 15 -3 17 -11 8 -11 10 -28 35 -18 18 -50 37 -47 27 -50 20 -50 12 -25 3 -25 2 -25-1 -23-3 -22-5 -23-7 -20-9 -20-11 0-388 34-33 27-22 21-15 23-13 38-16 12-8 10-9 15 2 18-3 292-84 23-8 5-4 5 1 12-2 118-29 62-18 33-11zM-1 8l1 1 0 7 7 35 15 58 33 115 5 15 4 5 -1 5 4 22 72 293 6 15 10 15 -3 27 5 43 0 25 -2 27 -8 43 -484 0 -2-55 5-61 8-34 19-50 3-25 14-13 10-15 145-262 12-28 15-20 63-105 25-45zM5 9l4 0 40 26 47 28 98 55 22 9 25 18 258 156 15 7 17 3 8 11 10 11 35 28 18 18 37 50 27 47 20 50 12 50 3 25 2 25 -1 25 -3 23 -5 22 -7 23 -9 20 -11 20 -388 0 -33-34 -22-27 -15-21 -13-23 -16-38 -8-12 -9-10 2-15 -3-18 -84-292 -8-23 -4-5 1-5 -2-12 -29-118 -18-62 -11-33z"/>
<path fill="#00ec70" d="M-605 -759l304 0 45 37 37 40 18 26 21 42 17 20 -3 18 4 20 13 44 24 88 31 100 17 58 7 20 4 5 -1 5 2 15 30 120 15 52 14 40 -3 0 -42-29 -43-25 -100-55 -22-9 -20-16 -52-31 -73-46 -138-83 -15-6 -17-3 -15-21 -33-28 -17-18 -14-20 -18-30 -23-50 -8-25 -7-27 -4-28 -2-25 0-25 3-25 5-25 8-22 10-23 11-20 14-18zM321 -759l4 28 3 27 0 60 -2 20 -5 19 -16 46 -1 23 -16 15 -10 15 -70 125 -47 89 -28 51 -11 25 -15 20 -65 107 -24 45 -17 35 -8-45 -13-50 -33-115 -7-20 -4-5 2-5 -5-25 -12-45 -23-105 -36-140 -7-17 -9-13 4-27 -4-45 1-20 4-27 12-46zM759 -605l0 304 -37 45 -40 37 -26 18 -42 21 -20 17 -18-3 -20 4 -44 13 -88 24 -100 31 -58 17 -20 7 -5 4 -5-1 -15 2 -120 30 -52 15 -40 14 0-3 29-42 25-43 55-100 9-22 16-20 31-52 46-73 83-138 6-15 3-17 21-15 28-33 18-17 20-14 30-18 50-23 25-8 27-7 28-4 25-2 25 0 25 3 25 5 22 8 23 10 20 11 18 14zM-759 -321l28-4 27-3 60 0 20 2 19 5 46 16 23 1 15 16 15 10 125 70 89 47 51 28 25 11 20 15 107 65 45 24 35 17 -45 8 -50 13 -115 33 -20 7 -5 4 -5-2 -25 5 -45 12 -105 23 -140 36 -17 7 -13 9 -27-4 -45 4 -20-1 -27-4 -46-12zM759 321l-28 4 -27 3 -60 0 -20-2 -19-5 -46-16 -23-1 -15-16 -15-10 -125-70 -89-47 -51-28 -25-11 -20-15 -107-65 -45-24 -35-17 45-8 50-13 115-33 20-7 5-4 5 2 25-5 45-12 105-23 140-36 17-7 13-9 27 4 45-4 20 1 27 4 46 12zM-9 6l0 3 -29 42 -25 43 -55 100 -9 22 -16 20 -31 52 -46 73 -83 138 -6 15 -3 17 -21 15 -28 33 -18 17 -20 14 -30 18 -50 23 -25 8 -27 7 -28 4 -25 2 -25 0 -25-3 -25-5 -22-8 -23-10 -20-11 -18-14 -17-16 0-304 37-45 40-37 26-18 42-21 20-17 18 3 20-4 44-13 88-24 100-31 58-17 20-7 5-4 5 1 15-2 120-30 52-15zM-1 9l8 45 13 50 33 115 7 20 4 5 -2 5 5 25 12 45 23 105 36 140 7 17 9 13 -4 27 4 45 -1 20 -4 27 -12 46 -458 0 -4-28 -3-27 0-60 2-20 5-19 16-46 1-23 16-15 10-15 70-125 47-89 28-51 11-25 15-20 65-107 24-45zM6 9l3 0 42 29 43 25 100 55 22 9 20 16 52 31 73 46 138 83 15 6 17 3 15 21 33 28 17 18 14 20 18 30 23 50 8 25 7 27 4 28 2 25 0 25 -3 25 -5 25 -8 22 -10 23 -11 20 -14 18 -16 17 -304 0 -45-37 -37-40 -18-26 -21-42 -17-20 3-18 -4-20 -13-44 -24-88 -31-100 -17-58 -7-20 -4-5 1-5 -2-15 -30-120 -15-52z"/>
<path fill="#00ed59" d="M-561 -730l20-13 27-13 2-3 162 0 3 3 41 18 32 20 38 29 22 24 10 14 21 37 8 10 11 10 -3 18 2 17 43 150 28 88 17 57 7 18 4 5 -1 7 2 15 28 115 14 50 14 39 0 5 -40-28 -37-22 -105-57 -25-11 -23-17 -47-29 -75-49 -135-80 -18-8 -15-1 -2-2 -13-19 -31-31 -10-12 -12-18 -10-20 -13-30 -10-27 -6-25 -4-25 -1-25 0-25 3-25 5-23 7-22 9-20 11-20 13-18 14-15zM298 -759l9 25 6 28 4 27 3 33 -3 35 -14 52 0 23 -15 12 -11 15 -74 133 -42 82 -29 53 -10 25 -17 22 -63 103 -22 40 -19 40 -6-38 -13-52 -34-118 -8-20 -4-5 2-5 -3-20 -14-54 -21-101 -26-98 -9-39 -8-20 -11-13 6-27 -1-43 3-22 6-25 18-48zM730 -561l13 20 13 27 3 2 0 162 -3 3 -18 41 -20 32 -29 38 -24 22 -14 10 -37 21 -10 8 -10 11 -18-3 -17 2 -150 43 -88 28 -57 17 -18 7 -5 4 -7-1 -15 2 -115 28 -50 14 -39 14 -5 0 28-40 22-37 57-105 11-25 17-23 29-47 49-75 80-135 8-18 1-15 2-2 19-13 31-31 12-10 18-12 20-10 30-13 27-10 25-6 25-4 25-1 25 0 25 3 23 5 22 7 20 9 20 11 18 13 15 14zM-759 -298l25-9 28-6 27-4 33-3 35 3 52 14 23 0 12 15 15 11 133 74 82 42 53 29 25 10 22 17 103 63 40 22 40 19 -38 6 -52 13 -118 34 -20 8 -5 4 -5-2 -20 3 -54 14 -101 21 -98 26 -39 9 -20 8 -13 11 -27-6 -43 1 -22-3 -25-6 -48-18zM759 298l-25 9 -28 6 -27 4 -33 3 -35-3 -52-14 -23 0 -12-15 -15-11 -133-74 -82-42 -53-29 -25-10 -22-17 -103-63 -40-22 -40-19 38-6 52-13 118-34 20-8 5-4 5 2 20-3 54-14 101-21 98-26 39-9 20-8 13-11 27 6 43-1 22 3 25 6 48 18zM-10 9l-28 40 -22 37 -57 105 -11 25 -17 23 -29 47 -49 75 -80 135 -8 18 -1 15 -2 2 -19 13 -31 31 -12 10 -18 12 -20 10 -30 13 -27 10 -25 6 -25 4 -25 1 -25 0 -25-3 -23-5 -22-7 -20-9 -20-11 -18-13 -15-14 -16-18 -13-20 -13-27 -3-2 0-162 3-3 18-41 20-32 29-38 24-22 14-10 37-21 10-8 10-11 18 3 17-2 150-43 88-28 57-17 18-7 5-4 7 1 15-2 115-28 50-14 39-14zM-1 11l6 38 13 52 34 118 8 20 4 5 -2 5 3 20 14 54 21 101 26 98 9 39 8 20 11 13 -6 27 1 43 -3 22 -6 25 -18 48 -420 0 -9-25 -6-28 -4-27 -3-33 3-35 14-52 0-23 15-12 11-15 74-133 42-82 29-53 10-25 17-22 63-103 22-40zM9 10l40 28 37 22 105 57 25 11 23 17 47 29 75 49 135 80 18 8 15 1 2 2 13 19 31 31 10 12 12 18 10 20 13 30 10 27 6 25 4 25 1 25 0 25 -3 25 -5 23 -7 22 -9 20 -11 20 -13 18 -14 15 -18 16 -20 13 -27 13 -2 3 -162 0 -3-3 -41-18 -32-20 -38-29 -22-24 -10-14 -21-37 -8-10 -11-10 3-18 -2-17 -43-150 -28-88 -17-57 -7-18 -4-5 1-7 -2-15 -28-115 -14-50 -14-39z"/>
<path fill="#00ee41" d="M272 -759l13 25 11 28 7 25 7 32 1 30 -2 18 -8 40 2 25 -18 12 -13 18 -72 130 -41 84 -29 53 -8 23 -15 17 -62 100 -23 40 -18 41 -3 2 -6-40 -10-43 -35-115 -7-20 -6-10 1-7 -3-18 -14-60 -16-82 -37-150 -7-18 -15-17 8-23 4-52 8-30 10-22 21-36zM-535 -694l21-14 23-11 22-9 25-5 25-3 25 0 28 3 25 5 27 9 25 11 23 12 27 18 23 21 29 43 12 13 10 7 0 3 -4 17 3 20 41 145 29 84 18 61 7 18 4 5 -1 7 3 18 27 117 13 45 16 43 -37-27 -38-23 -105-56 -27-11 -18-15 -50-31 -85-56 -125-75 -17-7 -18 0 -2-2 -10-21 -37-44 -14-27 -11-30 -6-25 -4-28 -2-27 1-28 4-25 7-25 8-22 12-23 14-21 15-17zM694 -535l14 21 11 23 9 22 5 25 3 25 0 25 -3 28 -5 25 -9 27 -11 25 -12 23 -18 27 -21 23 -43 29 -13 12 -7 10 -3 0 -17-4 -20 3 -145 41 -84 29 -61 18 -18 7 -5 4 -7-1 -18 3 -117 27 -45 13 -43 16 27-37 23-38 56-105 11-27 15-18 31-50 56-85 75-125 7-17 0-18 2-2 21-10 44-37 27-14 30-11 25-6 28-4 27-2 28 1 25 4 25 7 22 8 23 12 21 14 17 15zM-759 -272l25-13 28-11 25-7 32-7 30-1 18 2 40 8 25-2 12 18 18 13 130 72 84 41 53 29 23 8 17 15 100 62 40 23 41 18 2 3 -40 6 -43 10 -115 35 -20 7 -10 6 -7-1 -18 3 -60 14 -82 16 -150 37 -18 7 -17 15 -23-8 -52-4 -30-8 -22-10 -36-21zM759 272l-25 13 -28 11 -25 7 -32 7 -30 1 -18-2 -40-8 -25 2 -12-18 -18-13 -130-72 -84-41 -53-29 -23-8 -17-15 -100-62 -40-23 -41-18 -2-3 40-6 43-10 115-35 20-7 10-6 7 1 18-3 60-14 82-16 150-37 18-7 17-15 23 8 52 4 30 8 22 10 36 21zM-11 9l-27 37 -23 38 -56 105 -11 27 -15 18 -31 50 -56 85 -75 125 -7 17 0 18 -2 2 -21 10 -44 37 -27 14 -30 11 -25 6 -28 4 -27 2 -28-1 -25-4 -25-7 -22-8 -23-12 -21-14 -17-15 -17-19 -14-21 -11-23 -9-22 -5-25 -3-25 0-25 3-28 5-25 9-27 11-25 12-23 18-27 21-23 43-29 13-12 7-10 3 0 17 4 20-3 145-41 84-29 61-18 18-7 5-4 7 1 18-3 117-27 45-13zM9 11l37 27 38 23 105 56 27 11 18 15 50 31 85 56 125 75 17 7 18 0 2 2 10 21 37 44 14 27 11 30 6 25 4 28 2 27 -1 28 -4 25 -7 25 -8 22 -12 23 -14 21 -15 17 -19 17 -21 14 -23 11 -22 9 -25 5 -25 3 -25 0 -28-3 -25-5 -27-9 -25-11 -23-12 -27-18 -23-21 -29-43 -12-13 -10-7 0-3 4-17 -3-20 -41-145 -29-84 -18-61 -7-18 -4-5 1-7 -3-18 -27-117 -13-45zM-1 16l6 40 10 43 35 115 7 20 6 10 -1 7 3 18 14 60 16 82 37 150 7 18 15 17 -8 23 -4 52 -8 30 -10 22 -21 36 -375 0 -13-25 -11-28 -7-25 -7-32 -1-30 2-18 8-40 -2-25 18-12 13-18 72-130 41-84 29-53 8-23 15-17 62-100 23-40 18-41z"/>
<path fill="#00ef2a" d="M241 -759l18 23 15 25 15 33 8 24 4 18 2 17 -5 55 1 13 3 15 -18 10 -14 17 -70 125 -41 88 -29 55 -8 25 -18 20 -64 100 -22 40 -14 34 -9-49 -10-38 -35-107 -13-28 2-5 -2-15 -13-60 -17-95 -35-140 -8-20 -17-17 7-13 4-12 6-40 5-18 7-18 10-18 18-25 16-19zM-511 -663l20-13 20-11 22-9 23-6 22-3 25-1 23 1 25 3 22 6 23 8 25 11 20 11 22 18 32 39 21 16 1 2 -5 10 -2 10 3 20 39 140 34 91 18 59 6 12 5 8 -1 7 2 20 26 118 10 35 16 41 1 4 -31-24 -37-23 -108-55 -27-10 -20-17 -53-34 -80-56 -117-70 -22-9 -22 0 -9-23 -28-39 -13-28 -6-22 -4-25 -2-25 0-23 2-25 5-22 7-23 9-22 11-20 15-20 14-17zM663 -511l13 20 11 20 9 22 6 23 3 22 1 25 -1 23 -3 25 -6 22 -8 23 -11 25 -11 20 -18 22 -39 32 -16 21 -2 1 -10-5 -10-2 -20 3 -140 39 -91 34 -59 18 -12 6 -8 5 -7-1 -20 2 -118 26 -35 10 -41 16 -4 1 24-31 23-37 55-108 10-27 17-20 34-53 56-80 70-117 9-22 0-22 23-9 39-28 28-13 22-6 25-4 25-2 23 0 25 2 22 5 23 7 22 9 20 11 20 15 17 14zM-759 -241l23-18 25-15 33-15 24-8 18-4 17-2 55 5 13-1 15-3 10 18 17 14 125 70 88 41 55 29 25 8 20 18 100 64 40 22 34 14 -49 9 -38 10 -107 35 -28 13 -5-2 -15 2 -60 13 -95 17 -140 35 -20 8 -17 17 -13-7 -12-4 -40-6 -18-5 -18-7 -18-10 -25-18 -19-16zM759 241l-23 18 -25 15 -33 15 -24 8 -18 4 -17 2 -55-5 -13 1 -15 3 -10-18 -17-14 -125-70 -88-41 -55-29 -25-8 -20-18 -100-64 -40-22 -34-14 49-9 38-10 107-35 28-13 5 2 15-2 60-13 95-17 140-35 20-8 17-17 13 7 12 4 40 6 18 5 18 7 18 10 25 18 19 16zM-16 13l-24 31 -23 37 -55 108 -10 27 -17 20 -34 53 -56 80 -70 117 -9 22 0 22 -23 9 -39 28 -28 13 -22 6 -25 4 -25 2 -23 0 -25-2 -22-5 -23-7 -22-9 -20-11 -20-15 -17-14 -15-18 -13-20 -11-20 -9-22 -6-23 -3-22 -1-25 1-23 3-25 6-22 8-23 11-25 11-20 18-22 39-32 16-21 2-1 10 5 10 2 20-3 140-39 91-34 59-18 12-6 8-5 7 1 20-2 118-26 35-10 41-16zM13 16l31 24 37 23 108 55 27 10 20 17 53 34 80 56 117 70 22 9 22 0 9 23 28 39 13 28 6 22 4 25 2 25 0 23 -2 25 -5 22 -7 23 -9 22 -11 20 -15 20 -14 17 -18 15 -20 13 -20 11 -22 9 -23 6 -22 3 -25 1 -23-1 -25-3 -22-6 -23-8 -25-11 -20-11 -22-18 -32-39 -21-16 -1-2 5-10 2-10 -3-20 -39-140 -34-91 -18-59 -6-12 -5-8 1-7 -2-20 -26-118 -10-35 -16-41zM-4 22l9 49 10 38 35 107 13 28 -2 5 2 15 13 60 17 95 35 140 8 20 17 17 -7 13 -4 12 -6 40 -5 18 -7 18 -10 18 -18 25 -16 19 -321 0 -18-23 -15-25 -15-33 -8-24 -4-18 -2-17 5-55 -1-13 -3-15 18-10 14-17 70-125 41-88 29-55 8-25 18-20 64-100 22-40z"/>
<path fill="#0ff217" d="M201 -759l25 22 20 22 20 28 14 26 8 20 4 17 2 18 0 42 3 15 4 13 -12 4 -9 6 -10 10 -58 97 -14 28 -42 95 -27 55 -8 25 -16 17 -65 95 -18 30 -16 32 -10-44 -9-28 -36-105 -13-25 1-7 -1-15 -12-58 -15-105 -9-35 -29-105 -6-10 -9-10 -10-7 13-23 14-50 14-27 12-16 15-17 36-30zM-490 -636l18-13 19-10 19-8 23-7 20-4 22-2 23 0 22 1 43 10 20 7 17 8 23 16 32 32 23 14 -6 11 -3 10 0 12 3 13 24 95 11 35 38 96 19 56 7 15 6 8 -1 10 1 15 20 105 7 32 14 46 -33-21 -32-18 -100-48 -25-8 -18-17 -51-34 -81-60 -30-19 -88-50 -12-6 -10-2 -10-1 -13 3 -7-26 -24-41 -9-25 -5-38 2-42 4-23 6-22 7-20 10-20 12-20 14-18 13-13zM635 -491l12 17 11 20 9 20 6 20 5 23 2 22 0 23 -1 22 -10 43 -7 20 -8 17 -16 23 -32 32 -14 23 -11-6 -10-3 -12 0 -13 3 -95 24 -35 11 -96 38 -56 19 -15 7 -8 6 -10-1 -15 1 -105 20 -32 7 -46 14 21-33 18-32 48-100 8-25 17-18 34-51 60-81 19-30 50-88 6-12 2-10 1-10 -3-13 26-7 41-24 25-9 38-5 42 2 23 4 22 6 20 7 20 10 19 11 16 13 14 12zM-759 -201l22-25 22-20 28-20 26-14 20-8 17-4 18-2 42 0 15-3 13-4 4 12 6 9 10 10 97 58 28 14 95 42 55 27 25 8 17 16 95 65 30 18 32 16 -44 10 -28 9 -105 36 -25 13 -7-1 -15 1 -58 12 -105 15 -35 9 -105 29 -10 6 -10 9 -7 10 -23-13 -50-14 -27-14 -16-12 -17-15 -30-36zM759 201l-22 25 -22 20 -28 20 -26 14 -20 8 -17 4 -18 2 -42 0 -15 3 -13 4 -4-12 -6-9 -10-10 -97-58 -28-14 -95-42 -55-27 -25-8 -17-16 -95-65 -30-18 -32-16 44-10 28-9 105-36 25-13 7 1 15-1 58-12 105-15 35-9 105-29 10-6 10-9 7-10 23 13 50 14 27 14 16 12 17 15 30 36zM-33 26l-21 33 -18 32 -48 100 -8 25 -17 18 -34 51 -60 81 -19 30 -50 88 -6 12 -2 10 -1 10 3 13 -26 7 -41 24 -25 9 -38 5 -42-2 -23-4 -22-6 -20-7 -20-10 -20-12 -18-14 -13-13 -14-16 -13-18 -10-19 -8-19 -7-23 -4-20 -2-22 0-23 1-22 10-43 7-20 8-17 16-23 32-32 14-23 11 6 10 3 12 0 13-3 95-24 35-11 96-38 56-19 15-7 8-6 10 1 15-1 105-20 32-7zM26 33l33 21 32 18 100 48 25 8 18 17 51 34 81 60 30 19 88 50 12 6 10 2 10 1 13-3 7 26 24 41 9 25 5 38 -2 42 -4 23 -6 22 -7 20 -10 20 -12 20 -14 18 -13 13 -16 14 -18 13 -19 10 -19 8 -23 7 -20 4 -22 2 -23 0 -22-1 -43-10 -20-7 -17-8 -23-16 -32-32 -23-14 6-11 3-10 0-12 -3-13 -24-95 -11-35 -38-96 -19-56 -7-15 -6-8 1-10 -1-15 -20-105 -7-32zM-6 42l10 44 9 28 36 105 13 25 -1 7 1 15 12 58 15 105 9 35 29 105 6 10 9 10 10 7 -13 23 -14 50 -14 27 -12 16 -15 17 -36 30 -249 0 -25-22 -20-22 -20-28 -14-26 -8-20 -4-17 -2-18 0-42 -3-15 -4-13 12-4 9-6 10-10 58-97 14-28 42-95 27-55 8-25 16-17 65-95 18-30z"/>
<path fill="#2cf708" d="M118 -759l3 3 20 5 20 8 30 16 33 25 25 25 17 25 12 26 6 19 6 43 10 28 -11 2 -12 5 -10 10 -10 13 -41 67 -24 43 -13 30 -25 68 -26 57 -7 24 -18 18 -92 126 -2 0 -57-146 -13-22 0-25 -10-62 -7-68 -5-35 -11-48 -23-77 -6-15 -7-10 -9-8 -13-7 17-23 19-43 12-20 23-23 30-22 32-16 41-13 2-3zM-469 -607l35-22 38-15 40-9 45-1 35 4 30 10 20 11 35 26 24 12 -8 12 -3 10 -1 13 2 15 19 80 14 45 12 30 31 69 21 56 12 20 -1 12 1 15 23 145 0 10 -11-3 -135-60 -25-7 -5-6 -13-12 -49-34 -56-46 -27-21 -40-24 -70-38 -15-7 -13-3 -10 1 -15 4 -1-14 -3-12 -16-40 -6-25 -1-30 4-33 13-43 18-36 24-33zM607 -469l22 35 15 38 9 40 1 45 -4 35 -10 30 -11 20 -26 35 -12 24 -12-8 -10-3 -13-1 -15 2 -80 19 -45 14 -30 12 -69 31 -56 21 -20 12 -12-1 -15 1 -145 23 -10 0 3-11 60-135 7-25 6-5 12-13 34-49 46-56 21-27 24-40 38-70 7-15 3-13 -1-10 -4-15 14-1 12-3 40-16 25-6 30-1 33 4 43 13 36 18 33 24zM-759 -118l3-3 5-20 8-20 16-30 25-33 25-25 25-17 26-12 19-6 43-6 28-10 2 11 5 12 10 10 13 10 67 41 43 24 30 13 68 25 57 26 24 7 18 18 126 92 0 2 -146 57 -22 13 -25 0 -62 10 -68 7 -35 5 -48 11 -77 23 -15 6 -10 7 -8 9 -7 13 -23-17 -43-19 -20-12 -23-23 -22-30 -16-32 -13-41 -3-2zM759 118l-3 3 -5 20 -8 20 -16 30 -25 33 -25 25 -25 17 -26 12 -19 6 -43 6 -28 10 -2-11 -5-12 -10-10 -13-10 -67-41 -43-24 -30-13 -68-25 -57-26 -24-7 -18-18 -126-92 0-2 146-57 22-13 25 0 62-10 68-7 35-5 48-11 77-23 15-6 10-7 8-9 7-13 23 17 43 19 20 12 23 23 22 30 16 32 13 41 3 2zM-59 45l-3 11 -60 135 -7 25 -6 5 -12 13 -34 49 -46 56 -21 27 -24 40 -38 70 -7 15 -3 13 1 10 4 15 -14 1 -12 3 -40 16 -25 6 -30 1 -33-4 -43-13 -36-18 -33-24 -26-28 -22-35 -15-38 -9-40 -1-45 4-35 10-30 11-20 26-35 12-24 12 8 10 3 13 1 15-2 80-19 45-14 30-12 69-31 56-21 20-12 12 1 15-1 145-23zM45 59l11 3 135 60 25 7 5 6 13 12 49 34 56 46 27 21 40 24 70 38 15 7 13 3 10-1 15-4 1 14 3 12 16 40 6 25 1 30 -4 33 -13 43 -18 36 -24 33 -28 26 -35 22 -38 15 -40 9 -45 1 -35-4 -30-10 -20-11 -35-26 -24-12 8-12 3-10 1-13 -2-15 -19-80 -14-45 -12-30 -31-69 -21-56 -12-20 1-12 -1-15 -23-145zM-9 73l57 146 13 22 0 25 10 62 7 68 5 35 11 48 23 77 6 15 7 10 9 8 13 7 -17 23 -19 43 -12 20 -23 23 -30 22 -32 16 -41 13 -2 3 -94 0 -3-3 -20-5 -20-8 -30-16 -33-25 -25-25 -17-25 -12-26 -6-19 -6-43 -10-28 11-2 12-5 10-10 10-13 41-67 24-43 13-30 25-68 26-57 7-24 18-18 92-126z"/>
<path fill="#4cfa00" d="M94 -710l35 7 32 12 30 15 28 20 17 17 15 19 32 59 13 16 3 6 -3 2 -17 1 -13 5 -8 7 -62 100 -12 23 -10 25 -25 80 -23 55 -5 24 -8 6 -10 10 -52 65 -25 21 -7 3 -5 1 -5-3 -5-5 -15-21 -15-31 -21-50 -14-20 2-28 -8-57 -4-83 -3-27 -5-25 -22-68 -7-30 -5-12 -12-15 -8-5 -13-4 -2-1 2-6 16-12 46-49 20-15 23-12 32-12 33-7 35-3zM-439 -566l28-19 32-16 33-11 35-6 27-1 25 3 65 20 20 2 5 3 -2 5 -9 7 -5 8 -3 10 0 10 2 15 10 32 13 63 9 25 11 27 37 70 24 58 7 12 7 8 -2 12 0 13 7 52 2 38 -2 25 -2 7 -3 5 -13 2 -28-5 -35-12 -50-20 -22-5 -5-8 -10-10 -48-37 -62-56 -23-18 -20-13 -59-30 -28-18 -13-6 -10-2 -12 1 -21 10 -1-5 2-25 -2-63 3-22 7-25 13-30 19-31 22-27zM564 -441l21 30 16 32 11 33 6 35 1 27 -3 25 -20 65 -2 20 -3 5 -5-2 -7-9 -8-5 -10-3 -10 0 -15 2 -32 10 -63 13 -25 9 -27 11 -70 37 -58 24 -12 7 -8 7 -12-2 -13 0 -52 7 -38 2 -25-2 -7-2 -5-3 -2-13 5-28 12-35 20-50 5-22 8-5 10-10 37-48 56-62 18-23 13-20 30-59 18-28 6-13 2-10 -1-12 -10-21 5-1 25 2 63-2 22 3 25 7 30 13 30 18 28 23zM-709 -99l7-32 12-33 16-30 20-27 15-15 19-15 59-32 16-13 6-3 2 3 1 17 5 13 7 8 100 62 23 12 25 10 80 25 55 23 24 5 6 8 10 10 65 52 21 25 3 7 1 5 -3 5 -5 5 -21 15 -31 15 -50 21 -20 14 -28-2 -57 8 -83 4 -27 3 -25 5 -68 22 -30 7 -12 5 -15 12 -5 8 -4 13 -1 2 -6-2 -12-16 -49-46 -15-20 -13-25 -12-33 -7-35 -2-35zM710 89l-6 35 -11 32 -16 33 -19 27 -17 19 -21 16 -59 32 -16 13 -6 3 -2-3 -1-17 -5-13 -7-8 -100-62 -23-12 -25-10 -80-25 -55-23 -24-5 -6-8 -10-10 -65-52 -21-25 -3-7 -1-5 3-5 5-5 21-15 31-15 50-21 20-14 28 2 57-8 83-4 27-3 25-5 68-22 30-7 12-5 15-12 5-8 4-13 1-2 6 2 12 16 49 46 15 20 12 23 11 30 8 32 3 33zM-89 68l2 13 -5 28 -12 35 -20 50 -5 22 -8 5 -10 10 -37 48 -56 62 -18 23 -13 20 -30 59 -18 28 -6 13 -2 10 1 12 10 21 -5 1 -25-2 -63 2 -22-3 -25-7 -30-13 -31-19 -27-22 -22-25 -19-28 -16-32 -11-33 -6-35 -1-27 3-25 20-65 2-20 3-5 5 2 7 9 8 5 10 3 10 0 15-2 32-10 63-13 25-9 27-11 70-37 58-24 12-7 8-7 12 2 13 0 52-7 38-2 25 2 7 2zM68 89l13-2 28 5 35 12 50 20 22 5 5 8 10 10 48 37 62 56 23 18 20 13 59 30 28 18 13 6 10 2 12-1 21-10 1 5 -2 25 2 63 -3 22 -7 25 -13 30 -19 31 -22 27 -25 22 -28 19 -32 16 -33 11 -35 6 -27 1 -25-3 -65-20 -20-2 -5-3 2-5 9-7 5-8 3-10 0-10 -2-15 -10-32 -13-63 -9-25 -11-27 -37-70 -24-58 -7-12 -7-8 2-12 0-13 -7-52 -2-38 2-25 2-7zM-14 111l5 3 5 5 15 21 15 31 21 50 14 20 -2 28 8 57 4 83 3 27 5 25 22 68 7 30 5 12 12 15 8 5 13 4 2 1 -2 6 -16 12 -46 49 -20 15 -23 12 -32 12 -33 7 -35 3 -35-2 -35-7 -32-12 -30-15 -28-20 -17-17 -15-19 -32-59 -13-16 -3-6 3-2 17-1 13-5 8-7 62-100 12-23 10-25 25-80 23-55 5-24 8-6 10-10 52-65 25-21 7-3z"/>
<path fill="#6efa00" d="M79 -677l32 5 28 7 32 13 28 15 17 13 23 19 55 59 3 7 -6 2 -17-2 -23 0 -10 5 -15 13 -29 37 -25 40 -12 30 -5 28 -6 69 -8 27 -18 51 -2 21 -13 9 -32 33 -20 16 -20 10 -10 2 -7 0 -15-6 -18-17 -15-21 -18-34 -13-15 0-5 3-10 0-10 -4-50 0-32 12-66 2-27 -3-28 -12-40 -20-50 -13-20 -11-7 -16-5 -22-4 -3-1 1-5 70-44 25-12 20-8 27-7 30-5zM-411 -544l27-18 25-13 28-10 30-7 22-3 28 0 72 2 8 2 -1 5 -13 10 -13 12 -7 10 -3 8 -1 22 7 50 10 40 12 28 15 22 44 51 15 26 21 46 7 10 9 10 -3 20 1 40 -2 25 -7 22 -9 15 -7 4 -10 3 -25 1 -25-5 -43-12 -16-1 -4-7 -10-11 -40-34 -20-20 -40-58 -17-20 -25-20 -40-21 -43-18 -12-4 -10 0 -15 3 -13 7 -17 13 -5 1 -1-8 17-75 10-30 10-23 15-25 15-20 24-24zM528 -431l22 27 15 25 15 33 10 32 4 30 1 23 -2 82 -2 8 -5-1 -10-13 -12-13 -10-7 -8-3 -22-1 -50 7 -40 10 -28 12 -22 15 -51 44 -26 15 -46 21 -10 7 -10 9 -20-3 -40 1 -25-2 -22-7 -15-9 -7-15 -1-25 4-25 13-45 1-16 7-4 11-10 34-40 20-20 58-40 20-17 20-25 21-40 18-43 4-12 0-10 -3-15 -7-13 -13-17 -1-5 8-1 65 15 28 8 25 10 20 10 22 15 22 18zM-672 -111l7-28 11-27 10-20 12-20 18-23 14-15 54-50 7-3 2 6 -2 17 0 23 5 10 13 15 37 29 40 25 30 12 28 5 69 6 27 8 51 18 21 2 9 13 33 32 16 20 10 20 2 10 0 7 -6 15 -17 18 -21 15 -34 18 -15 13 -5 0 -10-3 -10 0 -50 4 -32 0 -66-12 -27-2 -28 3 -40 12 -50 20 -20 13 -7 11 -5 16 -4 22 -1 3 -5-1 -46-75 -12-25 -10-30 -6-25 -3-32 1-35zM677 74l-5 37 -7 28 -13 32 -15 28 -13 17 -19 23 -59 55 -7 3 -2-6 2-17 0-23 -5-10 -13-15 -37-29 -40-25 -30-12 -28-5 -69-6 -27-8 -51-18 -21-2 -9-13 -33-32 -16-20 -10-20 -2-10 0-7 6-15 17-18 21-15 34-18 15-13 5 0 10 3 10 0 50-4 32 0 66 12 27 2 28-3 40-12 50-20 20-13 7-11 5-16 4-22 1-3 5 1 44 70 17 37 7 23 6 25 3 27zM-122 86l5 5 4 10 2 25 -4 28 -13 45 -1 16 -7 4 -11 10 -34 40 -20 20 -58 40 -23 20 -10 12 -13 20 -20 40 -14 35 -3 13 0 10 6 17 17 25 1 5 -8 1 -65-15 -28-8 -25-10 -27-14 -25-18 -20-18 -18-20 -21-28 -15-27 -10-23 -10-32 -4-30 -1-23 2-82 2-8 5 1 10 13 12 13 10 7 8 3 22 1 55-8 38-10 25-11 22-15 51-44 26-15 46-21 10-7 10-9 20 3 40-1 22 2 23 6zM89 119l7-4 10-3 25-1 25 5 43 12 16 1 4 7 10 11 40 34 20 20 40 58 17 20 25 20 40 21 43 18 12 4 10 0 15-3 13-7 17-13 5-1 1 8 -15 65 -8 28 -10 25 -14 27 -18 25 -18 20 -20 18 -28 21 -27 15 -23 10 -32 10 -30 4 -23 1 -82-2 -8-2 1-5 13-10 13-12 7-10 3-8 1-22 -7-50 -10-40 -12-28 -15-22 -44-51 -15-26 -21-46 -7-10 -9-10 3-20 -1-40 2-25 7-22zM-19 148l15 6 18 17 15 21 18 34 13 15 0 5 -3 10 0 10 4 50 0 32 -12 66 -2 27 3 28 12 40 20 50 13 20 11 7 16 5 22 4 3 1 -1 5 -70 44 -25 12 -27 10 -30 7 -25 3 -38 1 -27-3 -25-5 -33-11 -27-12 -25-15 -23-18 -15-14 -50-54 -3-7 6-2 17 2 23 0 10-5 15-13 29-37 25-40 12-30 5-28 6-69 8-27 18-51 2-21 13-9 32-33 20-16 20-10 10-2z"/>
<path fill="#8ef900" d="M-146 -599l2-2 63-35 27-12 28-9 27-6 28-3 32 0 30 2 30 6 28 8 27 12 25 14 25 17 23 19 44 42 2 7 -6 1 -35-4 -28 2 -137 44 -13 3 -12 0 -10-3 -13-6 -120-77 -24-10 -18-4 -23-3zM-173 -591l-1 5 -28 22 -21 25 -66 129 -6 9 -6 6 -10 6 -13 4 -55 13 -65 12 -20 6 -25 11 -15 9 -15 13 -7 1 1-11 19-63 10-27 12-24 15-24 18-23 20-20 22-20 23-15 27-16 25-10 28-9 27-5 30-3 65-2zM320 -526l11 1 63 19 27 10 24 12 24 15 23 18 20 20 20 22 15 23 16 27 10 25 9 28 5 27 3 30 2 65 -1 11 -5-1 -22-28 -25-21 -129-66 -9-6 -6-6 -6-10 -4-13 -13-55 -12-65 -6-20 -11-25 -9-15 -13-15zM56 -422l8 2 10 6 17 17 18 26 13 30 5 20 1 20 -1 17 -8 43 2 22 -21 10 -26 19 -15 8 -18 5 -17 1 -18-5 -15-10 -12-11 -23-27 -15-11 -1-6 8-18 3-45 4-17 6-18 10-18 20-25 23-19 22-13 10-3zM-259 -338l8-4 10-3 25 0 30 5 30 11 17 11 15 12 13 15 24 35 4 5 14 10 0 5 -9 22 -5 28 -5 15 -8 17 -10 12 -16 8 -19 5 -18 0 -35-2 -15 3 -5-1 -2-2 -3-9 -5-9 -28-32 -10-15 -9-20 -6-20 -3-30 3-33 7-25 5-7zM-539 -295l1 6 -4 35 2 28 44 137 3 13 0 12 -3 10 -6 13 -77 120 -10 24 -4 18 -3 23 -3 2 -2-2 -35-63 -12-27 -9-28 -6-27 -3-28 0-32 2-30 6-30 8-28 12-27 14-25 17-25 19-23 42-44zM319 -272l15 8 7 10 5 18 -1 22 -5 28 -9 25 -13 22 -15 18 -12 10 -35 24 -5 4 -10 14 -5 0 -22-9 -40-9 -16-7 -13-10 -10-15 -6-20 0-20 2-35 -3-15 1-5 20-10 30-26 15-11 15-7 15-6 22-5 25-1 25 2zM599 -146l2 2 35 63 12 27 9 28 6 27 3 28 0 32 -2 30 -6 30 -8 28 -12 27 -14 25 -17 25 -19 23 -42 44 -7 2 -1-6 4-35 -2-28 -44-137 -3-13 0-12 3-10 6-13 77-120 10-24 4-18 3-23zM-412 -76l15-15 21-15 25-12 22-7 30-3 18 2 40 7 22-2 10 21 19 26 9 18 5 20 -2 20 -5 12 -8 13 -11 12 -27 23 -12 16 -5 0 -18-8 -42-3 -18-3 -22-8 -24-14 -20-18 -16-20 -11-17 -5-18 1-12zM178 16l6-15 11-15 34-30 11-15 6-1 18 8 45 3 17 4 18 6 18 10 25 20 19 23 13 22 3 10 0 10 -2 8 -6 10 -17 17 -26 18 -30 13 -20 5 -20 1 -17-1 -43-8 -22 2 -10-21 -19-26 -9-18 -5-20zM-145 104l11 17 5 20 0 18 -2 35 3 15 -1 5 -2 2 -9 3 -9 5 -32 28 -15 10 -20 9 -20 6 -30 3 -33-3 -25-7 -7-5 -7-6 -4-8 -3-10 0-25 5-30 11-30 11-17 12-15 15-13 35-24 5-4 10-14 5 0 22 9 40 9 16 7zM108 141l16-8 20-4 17 0 33 2 15-3 5 1 2 2 3 9 5 9 28 32 10 15 9 20 6 20 3 30 -3 33 -7 25 -5 7 -6 7 -8 4 -10 3 -25 0 -30-5 -30-11 -17-11 -15-12 -13-15 -24-35 -4-5 -14-10 0-5 7-15 8-37 5-15 7-15zM-591 173l5 1 22 28 25 21 129 66 9 6 6 6 6 10 4 13 13 55 12 65 6 20 11 25 9 15 13 15 1 7 -11-1 -63-19 -27-10 -24-12 -24-15 -23-18 -20-20 -20-22 -15-23 -16-27 -10-25 -9-28 -5-27 -3-30 -2-65zM-24 176l18 5 15 10 12 11 23 27 15 11 1 6 -8 18 -3 45 -4 17 -6 18 -10 18 -20 25 -23 19 -22 13 -10 3 -10 0 -8-2 -10-6 -17-17 -18-26 -13-30 -5-20 -1-20 1-17 8-43 -2-22 21-10 26-19 15-8 18-5zM526 320l-1 11 -19 63 -10 27 -12 24 -15 24 -18 23 -20 20 -22 20 -23 15 -27 16 -25 10 -28 9 -27 5 -30 3 -65 2 -11-1 1-5 28-22 21-25 66-129 6-9 6-6 10-6 13-4 55-13 65-12 20-6 25-11 15-9 15-13zM-295 539l6-1 35 4 28-2 137-44 13-3 12 0 10 3 13 6 120 77 24 10 18 4 23 3 2 3 -2 2 -63 35 -27 12 -28 9 -27 6 -28 3 -32 0 -30-2 -30-6 -28-8 -27-12 -25-14 -25-17 -23-19 -44-42z"/>
<path fill="#aaf600" d="M-144 -599l8-6 47-22 35-13 28-8 27-5 28-2 32 0 28 2 27 5 28 8 27 10 25 13 25 15 30 22 38 31 5 8 -5 2 -38-7 -27-1 -100 10 -30 1 -25-2 -25-5 -25-7 -72-29 -23-7 -30-7 -35-3zM-176 -591l2 2 -1 3 -32 22 -22 20 -65 81 -17 18 -18 15 -20 14 -23 12 -69 30 -25 12 -25 17 -28 22 -5 2 -1-3 1-7 14-40 15-35 18-33 15-22 18-23 19-20 21-17 23-16 25-15 22-11 28-10 27-7 30-5 45-5zM321 -524l3-1 7 1 40 14 35 15 33 18 22 15 23 18 20 19 17 21 16 23 15 25 11 22 10 28 7 27 5 30 5 45 1 28 -2 2 -3-1 -22-32 -20-22 -81-65 -18-17 -15-18 -14-20 -12-23 -30-69 -12-25 -17-25 -22-28zM-59 -246l12-20 22-45 16-19 13-10 15-8 12-3 18 1 14 4 11 6 12 13 11 16 10 27 6 35 8 25 0 5 -22 8 -45 20 -15 2 -18-1 -15-4 -12-6 -34-29 -19-11zM-541 -294l2 5 -7 38 -1 27 10 100 1 30 -2 25 -5 25 -7 25 -29 72 -7 23 -7 30 -3 35 -3 3 -6-8 -22-47 -13-35 -8-28 -5-27 -2-28 0-32 2-28 5-27 8-28 10-27 13-25 15-25 22-30 31-38zM-70 -241l0 5 -9 17 -17 45 -9 13 -11 10 -12 7 -16 6 -45 4 -20 5 -5 0 -2-2 -5-24 -14-39 -4-27 1-20 4-15 8-14 10-10 15-9 10-2 17-1 20 3 13 4 15 7 34 24zM131 -216l24-5 39-14 27-4 20 1 15 4 14 8 10 10 9 15 2 10 1 17 -3 20 -4 13 -7 15 -24 34 -13 22 -5 0 -17-9 -45-17 -13-9 -10-11 -7-12 -6-16 -4-45 -5-20 0-5zM599 -144l6 8 22 47 13 35 8 28 5 27 2 28 0 32 -2 28 -5 27 -8 28 -10 27 -13 25 -15 25 -22 30 -31 38 -8 5 -2-5 7-38 1-27 -10-100 -1-30 2-25 5-25 7-25 29-72 7-23 7-30 3-35zM-219 -121l8 22 20 45 2 15 -1 18 -4 15 -6 12 -29 34 -11 19 -6 0 -20-12 -45-22 -19-16 -10-13 -8-15 -3-12 1-18 4-14 6-11 13-12 16-11 27-10 35-6 25-8zM246 -59l20 12 45 22 19 16 10 13 8 15 3 12 -1 18 -4 14 -6 11 -13 12 -16 11 -27 10 -35 6 -25 8 -5 0 -8-22 -20-45 -2-15 1-18 4-15 6-12 29-34 11-19zM-241 70l5 0 17 9 45 17 13 9 10 11 7 12 6 16 4 45 5 20 0 5 -2 2 -24 5 -39 14 -27 4 -20-1 -15-4 -14-8 -10-10 -9-15 -2-10 -1-17 3-20 4-13 7-15 24-34zM216 131l5 24 14 39 4 27 -1 20 -4 15 -8 14 -10 10 -15 9 -10 2 -17 1 -20-3 -13-4 -15-7 -34-24 -22-13 0-5 9-17 17-45 9-13 11-10 12-7 16-6 45-4 20-5 5 0zM-591 176l2-2 3 1 22 32 20 22 81 65 18 17 15 18 14 20 12 23 30 69 12 25 17 25 22 28 2 5 -3 1 -7-1 -40-14 -35-15 -33-18 -22-15 -23-18 -20-19 -17-21 -16-23 -15-25 -11-22 -10-28 -7-27 -5-30 -5-45zM-41 189l22 1 18 6 15 10 26 23 19 11 1 4 -1 4 -13 21 -17 35 -12 17 -11 12 -12 9 -15 7 -13 2 -17-1 -15-5 -13-10 -12-14 -9-15 -5-15 -9-45 -7-22 0-5 2-2 20-6 38-17zM524 321l1 3 -1 7 -14 40 -15 35 -18 33 -15 22 -18 23 -19 20 -21 17 -23 16 -25 15 -22 11 -28 10 -27 7 -30 5 -45 5 -28 1 -2-2 1-3 32-22 22-20 65-81 17-18 18-15 20-14 23-12 69-30 25-12 25-17 28-22zM-294 541l5-2 38 7 27 1 100-10 30-1 25 2 25 5 25 7 72 29 23 7 30 7 35 3 3 3 -8 6 -47 22 -35 13 -28 8 -27 5 -28 2 -32 0 -28-2 -27-5 -28-8 -27-10 -25-13 -25-15 -30-22 -38-31z"/>
<path fill="#c7f400" d="M-142 -599l6-5 37-16 38-12 32-8 28-5 27-2 30 0 30 3 28 4 27 8 28 10 22 10 33 18 32 21 32 24 4 8 -8 0 -35-8 -35-5 -98-2 -45-4 -42-8 -99-23 -31-4 -35-1zM-176 -589l-4 5 -32 20 -26 20 -71 67 -35 30 -35 24 -85 53 -25 19 -27 25 -8 3 2-13 14-33 18-35 17-30 18-25 18-20 18-18 23-19 22-16 23-13 25-12 27-11 35-10 38-7 42-6zM323 -524l13 2 33 14 35 18 30 17 25 18 20 18 18 18 19 23 16 22 13 23 12 25 11 27 10 35 7 38 6 42 -2 8 -5-4 -20-32 -20-26 -67-71 -30-35 -24-35 -53-85 -19-25 -25-27zM-59 -246l33-46 17-18 13-8 12-4 13-2 17 1 13 3 12 7 10 8 10 11 11 23 11 30 7 17 0 5 -64 18 -15 2 -20-1 -15-4 -17-9 -34-21 -14-7zM-541 -292l0 8 -8 35 -5 35 -2 98 -4 45 -8 42 -23 99 -4 31 -1 35 -3 6 -5-6 -16-37 -12-38 -8-32 -5-28 -2-27 0-30 3-30 4-28 8-27 10-28 10-22 18-33 21-32 24-32zM-70 -241l-1 6 -9 14 -19 35 -10 14 -12 12 -14 9 -16 6 -43 10 -15 5 -5 0 -1-1 -9-55 0-28 3-14 5-12 7-11 10-9 13-7 12-4 18-1 12 1 23 6zM131 -215l55-9 28 0 14 3 12 5 11 7 9 10 7 13 4 12 1 18 -1 12 -6 23 -24 51 -6-1 -14-9 -35-19 -14-10 -12-12 -9-14 -6-16 -10-43 -5-15 0-5zM599 -142l5 6 16 37 12 38 8 32 5 28 2 27 0 30 -3 30 -4 28 -8 27 -10 28 -10 22 -18 33 -21 32 -24 32 -8 4 0-8 8-35 5-35 2-98 4-45 8-42 23-99 4-31 1-35zM-219 -120l18 64 2 15 -1 20 -4 15 -9 17 -21 34 -7 14 -5 0 -46-33 -18-17 -8-13 -4-12 -2-13 1-17 3-13 7-12 8-10 11-10 23-11 30-11 17-7zM246 -59l46 33 18 17 8 13 4 12 2 13 -1 17 -3 13 -7 12 -8 10 -11 10 -23 11 -30 11 -17 7 -5 0 -18-64 -2-15 1-20 4-15 9-17 21-34 7-14zM-241 70l6 1 14 9 35 19 14 10 12 12 9 14 6 16 10 43 5 15 0 5 -1 1 -55 9 -28 0 -14-3 -12-5 -11-7 -9-10 -7-13 -4-12 -1-18 1-12 6-23zM215 131l9 55 0 28 -3 14 -5 12 -7 11 -10 9 -13 7 -12 4 -18 1 -12-1 -23-6 -51-24 1-6 9-14 19-35 10-14 12-12 14-9 16-6 43-10 15-5 5 0zM-589 176l5 4 20 32 20 26 67 71 30 35 24 35 53 85 19 25 25 27 3 8 -13-2 -33-14 -35-18 -30-17 -25-18 -20-18 -18-18 -19-23 -16-22 -13-23 -12-25 -11-27 -10-35 -7-38 -6-42zM-120 219l64-18 15-2 20 1 15 4 17 9 34 21 14 7 0 5 -33 46 -17 18 -13 8 -12 4 -13 2 -17-1 -13-3 -12-7 -10-8 -10-11 -11-23 -11-30 -7-17zM524 323l-2 13 -14 33 -18 35 -17 30 -18 25 -18 20 -18 18 -23 19 -22 16 -23 13 -25 12 -27 11 -35 10 -38 7 -42 6 -8-2 4-5 32-20 26-20 71-67 35-30 35-24 85-53 25-19 27-25zM-292 541l8 0 35 8 35 5 98 2 45 4 42 8 99 23 31 4 35 1 6 3 -6 5 -37 16 -38 12 -32 8 -28 5 -27 2 -30 0 -30-3 -28-4 -27-8 -28-10 -22-10 -33-18 -32-21 -32-24z"/>
<path fill="#e3f100" d="M-135 -604l46-16 35-10 28-5 55-5 30 0 27 3 28 5 27 7 25 8 28 12 30 15 32 20 31 21 1 5 -4 2 -45-12 -43-7 -125-13 -132-21 -33-2 -37 0 -6-2zM-181 -589l-1 5 -35 20 -29 20 -108 87 -97 71 -33 27 -30 30 -7 3 0-9 13-29 21-37 17-28 17-22 19-22 20-19 20-17 23-16 25-15 25-13 25-10 30-10 37-9 35-7zM326 -521l9 0 29 13 37 21 28 17 22 17 22 19 19 20 17 20 16 23 15 25 13 25 10 25 10 30 9 37 7 35 0 13 -5-1 -20-35 -20-29 -87-108 -71-97 -27-33 -30-30zM-59 -245l3-4 30-30 20-16 10-5 12-3 13-2 15 1 12 3 10 5 18 14 12 17 23 39 0 7 -63 10 -32 0 -15-3 -18-7 -49-22zM-544 -288l2 4 -12 45 -7 43 -13 125 -21 132 -2 33 0 37 -2 6 -5-2 -16-46 -10-35 -5-28 -5-55 0-30 3-27 5-28 7-27 8-25 12-28 15-30 20-32 21-31zM-71 -241l0 5 -33 45 -12 14 -12 11 -13 8 -15 7 -53 21 -6-1 0-50 3-23 9-22 7-10 8-8 9-6 13-5 12-2 15 0 23 3zM131 -215l50 0 23 3 22 9 10 7 8 8 6 9 5 13 2 12 0 15 -3 23 -13 45 -5 0 -45-33 -14-12 -11-12 -8-13 -7-15 -21-53zM604 -135l16 46 10 35 5 28 5 55 0 30 -3 27 -5 28 -7 27 -8 25 -12 28 -15 30 -20 32 -21 31 -5 1 -2-4 12-45 7-43 13-125 21-132 2-33 0-37 2-6zM-219 -119l10 63 0 32 -3 15 -7 18 -22 49 -4 1 -4-3 -30-30 -16-20 -5-10 -3-12 -2-13 1-15 3-12 5-10 14-18 17-12 39-23zM245 -59l4 3 30 30 16 20 5 10 3 12 2 13 -1 15 -3 12 -5 10 -14 18 -17 12 -39 23 -7 0 -10-63 0-32 3-15 7-18 22-49zM-241 71l5 0 45 33 14 12 11 12 8 13 7 15 21 53 -1 6 -50 0 -23-3 -22-9 -10-7 -8-8 -6-9 -5-13 -2-12 0-15 3-23zM215 131l0 50 -3 23 -9 22 -7 10 -8 8 -9 6 -13 5 -12 2 -15 0 -23-3 -45-13 0-5 33-45 12-14 12-11 13-8 15-7 53-21zM-589 181l5 1 20 35 20 29 87 108 71 97 27 33 30 30 3 7 -9 0 -29-13 -37-21 -28-17 -22-17 -22-19 -19-20 -17-20 -16-23 -15-25 -13-25 -10-25 -10-30 -9-37 -7-35zM-119 219l63-10 32 0 15 3 18 7 49 22 1 4 -3 4 -30 30 -20 16 -10 5 -12 3 -13 2 -15-1 -12-3 -10-5 -18-14 -12-17 -23-39zM521 326l0 9 -13 29 -21 37 -17 28 -17 22 -19 22 -20 19 -20 17 -23 16 -25 15 -25 13 -25 10 -30 10 -37 9 -35 7 -13 0 1-5 35-20 29-20 108-87 97-71 33-27 30-30zM-288 544l4-2 45 12 43 7 125 13 132 21 33 2 37 0 6 2 -2 5 -46 16 -35 10 -28 5 -55 5 -30 0 -27-3 -28-5 -27-7 -25-8 -28-12 -30-15 -32-20 -31-21z"/>
<path fill="#ffee00" d="M-133 -604l17-6 35-10 32-7 30-5 55-3 50 3 25 5 30 7 50 18 35 17 35 20 21 14 1 5 -2 2 -2 0 -61-17 -72-13 -180-23 -45-2 -54 0zM-187 -586l0 5 -29 15 -29 17 -66 48 -135 104 -35 32 -33 34 -5 1 -1-1 1-8 18-35 19-30 19-27 37-42 40-35 45-29 50-24 35-12 35-9 30-6zM331 -520l8 1 35 18 30 19 27 19 42 37 35 40 29 45 24 50 12 35 9 35 6 30 -2 4 -5 0 -15-29 -17-29 -48-66 -104-135 -32-35 -34-33 -1-5zM-58 -244l2-5 32-24 18-10 22-7 23 0 20 5 20 13 12 12 27 34 1 5 -1 2 -57 4 -35-2 -30-6 -52-18zM-546 -283l2 2 0 2 -17 61 -13 72 -23 180 -2 45 0 54 -5 0 -6-17 -10-35 -7-32 -5-30 -3-55 3-50 5-25 7-30 18-50 17-35 20-35 14-21zM-72 -241l1 2 -3 5 -40 45 -17 16 -28 17 -47 24 -8 1 0-10 4-28 6-27 10-21 15-15 18-10 22-5 28 0zM131 -214l10 0 28 4 27 6 21 10 15 15 10 18 5 22 0 28 -6 39 -2 1 -5-3 -45-40 -16-17 -17-28 -24-47zM604 -133l6 17 10 35 7 32 5 30 3 55 -3 50 -5 25 -7 30 -18 50 -17 35 -20 35 -14 21 -5 1 -2-2 0-2 17-61 13-72 23-180 2-45 0-54zM-221 -119l2 1 4 57 -2 35 -6 30 -18 52 -3 2 -5-2 -24-32 -10-18 -7-22 0-23 5-20 13-20 12-12 34-27zM244 -58l5 2 24 32 10 18 7 22 0 23 -5 20 -13 20 -12 12 -34 27 -5 1 -2-1 -4-57 2-35 6-30 18-52zM-241 72l2-1 5 3 45 40 16 17 17 28 24 47 1 8 -10 0 -28-4 -27-6 -21-10 -15-15 -10-18 -5-22 0-28zM214 131l0 10 -4 28 -6 27 -10 21 -15 15 -18 10 -22 5 -28 0 -39-6 -1-2 3-5 40-45 17-16 28-17 47-24zM-586 187l5 0 15 29 17 29 48 66 104 135 32 35 34 33 1 5 -1 1 -8-1 -35-18 -30-19 -27-19 -42-37 -35-40 -29-45 -24-50 -12-35 -9-35 -6-30zM-119 219l63-4 32 2 23 5 58 19 1 3 -2 5 -32 24 -18 10 -22 7 -25 0 -23-8 -17-12 -13-13 -20-25 -5-8zM520 331l-1 8 -18 35 -19 30 -19 27 -37 42 -40 35 -45 29 -50 24 -35 12 -35 9 -30 6 -4-2 0-5 29-15 29-17 66-48 135-104 35-32 33-34 5-1zM-283 546l2-2 2 0 61 17 72 13 180 23 45 2 54 0 0 5 -17 6 -35 10 -32 7 -30 5 -55 3 -50-3 -25-5 -30-7 -50-18 -35-17 -35-20 -21-14z"/>
<path fill="#ffca00" d="M-125 -606l51-14 53-8 57-3 50 4 28 5 30 7 50 17 32 15 33 18 18 11 1 5 -4 2 -47-14 -40-10 -88-15 -80-10 -50-4 -40-2 -50 2 -4-1zM-191 -586l1 5 -43 22 -34 20 -44 30 -50 38 -48 37 -37 32 -33 32 -32 34 -6 0 3-10 14-25 17-28 20-27 37-41 40-35 45-30 45-23 32-13 30-10 35-8zM336 -517l10 3 25 14 28 17 27 20 41 37 35 40 30 45 23 45 13 32 10 30 8 35 0 8 -5 1 -22-43 -20-34 -30-44 -38-50 -37-48 -32-37 -32-33 -34-32zM-57 -244l3-5 30-18 18-8 22-5 23 1 20 5 20 11 15 13 23 24 1 5 -2 1 -5 1 -82-3 -83-19zM-549 -278l2 4 -14 47 -10 40 -15 88 -10 80 -4 50 -2 40 2 50 -1 4 -5 0 -14-51 -8-53 -3-57 4-50 5-28 7-30 17-50 15-32 18-33 11-18zM-74 -241l1 5 -2 2 -61 57 -70 44 -5 1 -2-2 -1-5 4-15 11-36 11-19 15-15 19-11 20-5 30-3zM134 -213l5-1 15 4 36 11 19 11 15 15 11 19 5 20 3 30 -2 30 -5 1 -2-2 -57-61 -44-70 -1-5zM606 -125l14 51 8 53 3 57 -4 50 -5 28 -7 30 -17 50 -15 32 -18 33 -11 18 -5 1 -2-4 14-47 10-40 15-88 10-80 4-50 2-40 -2-50 1-4zM-221 -118l1 2 1 5 -3 82 -19 83 -3 3 -5-3 -18-30 -8-18 -5-22 1-23 5-20 11-20 13-15 24-23zM244 -57l5 3 18 30 8 18 5 22 -1 23 -5 20 -11 20 -13 15 -24 23 -5 1 -1-2 -1-5 3-82 19-83zM-241 74l5-1 2 2 57 61 44 70 1 5 -2 2 -5 1 -15-4 -36-11 -19-11 -15-15 -11-19 -5-20 -3-30zM213 134l1 5 -4 15 -11 36 -11 19 -15 15 -19 11 -20 5 -30 3 -30-2 -1-5 2-2 61-57 70-44 5-1zM-586 191l5-1 22 43 20 34 30 44 38 50 37 48 32 37 32 33 34 32 0 6 -10-3 -25-14 -28-17 -27-20 -41-37 -35-40 -30-45 -23-45 -13-32 -10-30 -8-35zM-118 221l2-1 5-1 82 3 83 19 3 3 -3 5 -30 18 -18 8 -22 5 -23-1 -20-5 -20-11 -15-13 -23-24zM517 336l-3 10 -14 25 -17 28 -20 27 -37 41 -40 35 -45 30 -45 23 -32 13 -30 10 -35 8 -8 0 -1-5 43-22 34-20 44-30 50-38 48-37 37-32 33-32 32-34zM-278 549l4-2 47 14 40 10 88 15 80 10 50 4 40 2 50-2 4 1 0 5 -51 14 -53 8 -57 3 -50-4 -28-5 -30-7 -50-17 -32-15 -33-18 -18-11z"/>
<path fill="#ffa600" d="M-120 -606l44-12 57-8 58-1 52 4 50 10 53 18 30 13 30 15 17 11 1 5 -3 1 -53-16 -38-10 -82-15 -60-8 -57-4 -38-1 -61 3zM-198 -584l0 5 -44 23 -34 20 -38 25 -45 32 -47 38 -35 31 -30 29 -35 39 -6-2 3-10 17-27 35-48 36-39 37-32 40-27 48-25 60-23 30-9zM344 -512l10 3 27 17 48 35 39 36 32 37 27 40 25 48 23 60 9 30 0 8 -5 0 -23-44 -20-34 -25-38 -32-45 -38-47 -31-35 -29-30 -39-35zM-551 -272l1 3 -16 53 -10 38 -15 82 -8 60 -4 57 -1 38 3 61 -5 0 -12-44 -8-57 -1-58 4-52 10-50 18-53 13-30 15-30 11-17zM-54 -246l1-3 12-6 32-13 23-4 25 0 22 6 20 11 35 29 0 5 -2 1 -90-8 -77-13zM-76 -241l1 2 -1 6 -58 47 -72 52 -6 0 0-10 15-37 12-20 16-16 18-11 20-7 27-5zM134 -212l10 0 37 15 20 12 16 16 11 18 7 20 5 27 1 28 -2 1 -6-1 -47-58 -52-72zM606 -120l12 44 8 57 1 58 -4 52 -10 50 -18 53 -13 30 -15 30 -11 17 -5 1 -1-3 16-53 10-38 15-82 8-60 4-57 1-38 -3-61zM-221 -116l1 2 -8 90 -13 77 -5 1 -3-1 -6-12 -13-32 -4-23 0-25 6-22 11-20 29-35zM246 -54l3 1 6 12 13 32 4 23 0 25 -6 22 -11 20 -29 35 -5 0 -1-2 8-90 13-77zM-241 76l2-1 6 1 47 58 52 72 0 6 -10 0 -37-15 -20-12 -16-16 -11-18 -7-20 -5-27zM212 134l0 10 -15 37 -12 20 -16 16 -18 11 -20 7 -27 5 -28 1 -1-2 1-6 58-47 72-52zM-584 198l5 0 23 44 20 34 25 38 32 45 38 47 31 35 29 30 39 35 -2 6 -10-3 -27-17 -48-35 -39-36 -32-37 -27-40 -25-48 -23-60 -9-30zM-116 221l2-1 90 8 77 13 1 5 -1 3 -12 6 -32 13 -23 4 -25 0 -22-6 -20-11 -35-29zM512 344l-3 10 -17 27 -35 48 -36 39 -37 32 -40 27 -48 25 -60 23 -30 9 -8 0 0-5 44-23 34-20 38-25 45-32 47-38 35-31 30-29 35-39zM-272 551l3-1 53 16 38 10 82 15 60 8 57 4 38 1 61-3 0 5 -44 12 -57 8 -58 1 -52-4 -50-10 -53-18 -30-13 -30-15 -17-11z"/>
<path fill="#ff8200" d="M-110 -609l54-11 47-4 50-1 50 5 50 10 55 18 35 15 25 13 7 5 1 5 -5 0 -45-15 -47-12 -82-15 -42-5 -57-4 -37 0 -55 2 -4-1zM-206 -581l0 5 -3 0 -1 2 -39 20 -35 20 -39 25 -38 28 -38 30 -37 33 -28 27 -37 41 -6-1 3-10 16-25 35-45 34-35 40-34 40-27 48-25 50-21 20-6zM351 -507l10 3 25 16 45 35 35 34 34 40 27 40 25 48 21 50 6 20 2 15 -5 0 0-3 -2-1 -20-39 -20-35 -25-39 -28-38 -30-38 -33-37 -27-28 -41-37zM-51 -249l20-8 27-8 20-2 25 1 23 7 22 11 26 19 2 3 0 5 -8 0 -155-21 -2-2zM-554 -264l0 5 -15 45 -12 47 -15 82 -5 42 -4 57 0 37 2 55 -1 4 -5 0 -11-54 -4-47 -1-50 5-50 10-50 18-55 15-35 13-25 5-7zM-77 -239l0 5 -127 97 -7 1 0-5 3-10 15-30 14-20 15-13 18-11 20-8 35-7 10 0zM136 -211l5 0 10 3 30 15 20 14 13 15 11 18 8 20 7 35 0 10 -1 4 -5 0 -97-127zM-221 -114l0 8 -21 155 -2 2 -5 0 -8-20 -8-27 -2-20 1-25 7-23 11-22 19-26 3-2zM609 -110l11 54 4 47 1 50 -5 50 -10 50 -18 55 -15 35 -13 25 -5 7 -5 1 0-5 15-45 12-47 15-82 5-42 4-57 0-37 -2-55 1-4zM249 -51l8 20 8 27 2 20 -1 25 -7 23 -11 22 -19 26 -3 2 -5 0 0-8 21-155 2-2zM-239 77l5 0 97 127 1 7 -5 0 -10-3 -30-15 -20-14 -13-15 -11-18 -8-20 -7-35 0-10zM211 136l0 5 -3 10 -15 30 -14 20 -15 13 -18 11 -20 8 -35 7 -10 0 -4-1 0-5 127-97zM-581 206l5 0 0 3 2 1 20 39 20 35 25 39 28 38 30 38 33 37 27 28 41 37 -1 6 -10-3 -25-16 -45-35 -35-34 -34-40 -27-40 -25-48 -21-50 -6-20zM-114 221l8 0 155 21 2 2 0 5 -20 8 -27 8 -20 2 -25-1 -23-7 -22-11 -26-19 -2-3zM507 351l-3 10 -16 25 -35 45 -34 35 -40 34 -40 27 -48 25 -50 21 -20 6 -15 2 0-5 3 0 1-2 39-20 35-20 39-25 38-28 38-30 37-33 28-27 37-41zM-264 554l5 0 45 15 47 12 82 15 42 5 57 4 37 0 55-2 4 1 0 5 -54 11 -47 4 -50 1 -50-5 -50-10 -55-18 -35-15 -25-13 -7-5z"/>
<path fill="#ff5e00" d="M-96 -611l50-9 42-3 50 0 48 5 50 11 47 15 55 23 8 5 0 5 -6 0 -46-15 -38-10 -79-15 -42-5 -44-3 -38 0 -55 2 -2-1zM-218 -576l1 5 -45 22 -34 20 -38 25 -34 25 -37 30 -31 28 -58 61 -5 0 -1-1 1-6 15-22 34-42 36-37 35-30 40-27 45-25 53-21 15-5 7-1zM361 -500l6 1 22 15 42 34 37 36 30 35 27 40 25 45 21 53 5 15 1 7 -1 1 -5 1 -22-45 -20-34 -25-38 -25-34 -30-37 -28-31 -61-58 0-5zM-49 -249l23-8 22-5 20-1 23 1 20 5 22 9 30 19 0 5 -2 1 -54-8 -57-8 -44-4 -3-1zM-559 -254l0 6 -15 46 -10 38 -15 79 -5 42 -3 44 0 38 2 55 -1 2 -5 0 -9-50 -3-42 0-50 5-48 11-50 15-47 23-55 5-8zM-80 -239l0 5 -2 3 -50 35 -42 32 -30 26 -5-1 2-12 14-25 14-19 15-14 18-12 20-9 27-7zM139 -209l12 2 25 14 19 14 14 15 12 18 9 20 7 27 2 19 -5 0 -3-2 -35-50 -32-42 -26-30zM-224 -111l1 2 -8 54 -8 57 -4 44 -1 3 -5 0 -8-23 -5-22 -1-20 1-23 5-20 9-22 19-30zM611 -96l9 50 3 42 0 50 -5 48 -11 50 -15 47 -23 55 -5 8 -5 0 0-6 15-46 10-38 15-79 5-42 3-44 0-38 -2-55 1-2zM249 -49l8 23 5 22 1 20 -1 23 -5 20 -9 22 -19 30 -5 0 -1-2 8-54 8-57 4-44 1-3zM-239 80l5 0 3 2 35 50 32 42 26 30 -1 5 -12-2 -25-14 -19-14 -14-15 -12-18 -9-20 -7-27zM209 139l-2 12 -14 25 -14 19 -15 14 -18 12 -20 9 -27 7 -19 2 0-5 2-3 50-35 42-32 30-26zM-576 218l5-1 22 45 20 34 25 38 25 34 30 37 28 31 61 58 0 5 -1 1 -6-1 -22-15 -42-34 -37-36 -30-35 -27-40 -25-45 -21-53 -5-15 -1-7zM-111 224l2-1 54 8 57 8 44 4 3 1 0 5 -23 8 -22 5 -20 1 -23-1 -20-5 -22-9 -30-19zM500 361l-1 6 -15 22 -34 42 -36 37 -35 30 -40 27 -45 25 -53 21 -15 5 -7 1 -1-1 -1-5 45-22 34-20 38-25 34-25 37-30 31-28 58-61 5 0zM-254 559l6 0 46 15 38 10 79 15 42 5 44 3 38 0 55-2 2 1 0 5 -50 9 -42 3 -50 0 -48-5 -50-11 -47-15 -55-23 -8-5z"/>
<path fill="#fc4902" d="M-87 -606l1-2 5-1 2-5 53-6 55-2 52 4 55 10 45 13 28 10 29 14 1 5 2 2 -5 0 -47-15 -39-10 -69-12 -46-5 -39-2zM-230 -571l0 5 -73 40 -31 20 -34 25 -59 50 -59 61 -5 0 -1-1 0-5 11-15 32-40 33-33 37-31 40-28 40-23 48-21 12-4 8-2zM371 -492l5 0 15 11 40 32 33 33 31 37 28 40 23 40 21 48 4 12 2 8 -2 1 -5 0 -40-73 -20-31 -25-34 -50-59 -61-59 0-5zM-46 -249l17-6 25-5 23-1 17 2 23 4 22 9 25 15 0 5 -2 2 -68-12 -43-5 -39-3zM-564 -241l0 5 -15 47 -10 39 -12 69 -5 46 -2 39 2 83 -2-1 -1-5 -5-2 -6-53 -2-55 4-52 10-55 13-45 10-28 14-29 5-1zM-84 -236l0 5 -27 17 -38 28 -52 44 -5 1 -1-8 15-25 13-17 18-16 20-13 22-10 25-7 8-1zM141 -206l8-1 25 15 17 13 16 18 13 20 10 22 7 25 1 8 -2 2 -5 0 -17-27 -28-38 -44-52zM-226 -106l2 2 -12 68 -5 43 -3 39 -5 0 -6-17 -5-25 -1-23 2-17 4-23 9-22 15-25zM606 -87l2 1 1 5 5 2 6 53 2 55 -4 52 -10 55 -13 45 -10 28 -14 29 -5 1 -2 2 0-5 15-47 10-39 12-69 5-46 2-39zM249 -46l6 17 5 25 1 23 -2 17 -4 23 -9 22 -15 25 -5 0 -2-2 12-68 5-43 3-39zM-236 84l5 0 17 27 28 38 44 52 1 5 -8 1 -25-15 -17-13 -16-18 -13-20 -10-22 -7-25 -1-8zM206 141l1 8 -15 25 -13 17 -18 16 -20 13 -22 10 -25 7 -8 1 -2-2 0-5 27-17 38-28 52-44zM-106 226l2-2 68 12 43 5 39 3 0 5 -17 6 -25 5 -23 1 -17-2 -23-4 -22-9 -25-15zM-571 230l5 0 40 73 20 31 25 34 50 59 61 59 0 5 -1 1 -5 0 -15-11 -40-32 -33-33 -31-37 -28-40 -23-40 -21-48 -4-12 -2-8zM492 371l0 5 -11 15 -32 40 -33 33 -37 31 -40 28 -40 23 -48 21 -12 4 -8 2 -1-2 0-5 73-40 31-20 34-25 59-50 59-61 5 0zM-241 564l5 0 47 15 39 10 69 12 46 5 39 2 83-2 -1 2 -5 1 -2 5 -53 6 -55 2 -52-4 -55-10 -45-13 -28-10 -29-14 -1-5z"/>
<path fill="#f93804" d="M-71 -614l40-5 37-2 40 1 45 5 40 8 48 13 46 18 0 5 -1 1 -79-21 -53-10 -74-8 -89 0zM-244 -566l0 5 -2 0 -2 2 -66 38 -57 40 -53 45 -52 53 -5 1 -2-2 2-5 5-7 36-43 29-28 35-29 35-24 35-20 44-21 13-5zM384 -483l5 2 7 5 43 36 28 29 29 35 24 35 20 35 21 44 5 13 0 5 -5 0 0-2 -2-2 -38-66 -40-57 -45-53 -53-52 -1-5zM-38 -251l17-4 22-3 23 0 20 2 22 6 23 9 15 10 0 5 -8 0 -33-8 -31-5 -68-5 -2-2zM-89 -234l-1 5 -31 20 -28 20 -50 43 -6 0 3-10 13-20 15-17 18-15 20-13 20-9 22-6zM-571 -225l1 1 -21 79 -10 53 -8 74 0 89 -5 0 -5-40 -2-37 1-40 5-45 8-40 13-48 18-46zM146 -205l10 3 20 13 17 15 15 18 13 20 9 20 6 22 -2 5 -5-1 -20-31 -20-28 -43-50zM-226 -104l0 8 -8 33 -5 31 -5 68 -2 2 -5 0 -4-17 -3-22 0-23 2-20 6-22 9-23 10-15zM614 -71l5 40 2 37 -1 40 -5 45 -8 40 -13 48 -18 46 -5 0 -1-1 21-79 10-53 8-74 0-89zM251 -38l4 17 3 22 0 23 -2 20 -6 22 -9 23 -10 15 -5 0 0-8 8-33 5-31 5-68 2-2zM-234 89l5 1 20 31 20 28 43 50 0 6 -10-3 -20-13 -17-15 -15-18 -13-20 -9-20 -6-22zM205 146l-3 10 -13 20 -15 17 -18 15 -20 13 -20 9 -22 6 -5-2 1-5 31-20 28-20 50-43zM-104 226l8 0 33 8 31 5 68 5 2 2 0 5 -17 4 -22 3 -23 0 -20-2 -22-6 -23-9 -15-10zM-566 244l5 0 0 2 2 2 38 66 40 57 45 53 53 52 1 5 -2 2 -5-2 -7-5 -43-36 -28-29 -29-35 -24-35 -20-35 -21-44 -5-13zM483 384l-2 5 -5 7 -36 43 -29 28 -35 29 -35 24 -35 20 -44 21 -13 5 -5 0 0-5 2 0 2-2 66-38 57-40 53-45 52-53 5-1zM-225 571l1-1 79 21 53 10 74 8 89 0 0 5 -40 5 -37 2 -40-1 -45-5 -40-8 -48-13 -46-18z"/>
<path fill="#f52806" d="M-47 -616l33-3 35 0 65 4 43 8 40 11 35 12 1 5 -9 0 -60-15 -53-10 -57-5 -74-2zM-267 -554l1 3 -3 2 -50 30 -47 33 -45 37 -53 50 -5 0 0-5 33-37 27-27 30-24 35-25 33-20 40-19zM399 -469l5 0 37 33 27 27 24 30 25 35 20 33 19 40 -2 4 -3 1 -2-3 -30-50 -33-47 -37-45 -50-53zM-34 -251l18-4 17-2 20 0 20 2 20 5 23 8 14 8 0 5 -7 0 -34-7 -32-5 -59-5zM-94 -234l0 5 -2 3 -28 17 -27 20 -43 38 -5 1 -1-1 1-8 12-17 13-15 15-13 15-10 20-11 18-7zM-579 -205l0 9 -15 60 -10 53 -5 57 -2 74 -5-1 -3-33 0-35 4-65 8-43 11-40 12-35zM151 -200l8 1 17 12 15 13 13 15 10 15 11 20 7 18 2 12 -5 0 -3-2 -17-28 -20-27 -38-43 -1-5zM-229 -98l0 7 -7 34 -5 32 -5 59 -5 0 -4-18 -2-17 0-20 2-20 5-20 8-23 8-14zM616 -47l3 33 0 35 -4 65 -8 43 -11 40 -12 35 -5 1 0-9 15-60 10-53 5-57 2-74zM251 -34l4 18 2 17 0 20 -2 20 -5 20 -8 23 -8 14 -5 0 0-7 7-34 5-32 5-59zM-234 94l5 0 3 2 17 28 20 27 38 43 1 5 -1 1 -8-1 -17-12 -15-13 -13-15 -10-15 -11-20 -7-18zM200 151l-1 8 -12 17 -13 15 -15 13 -15 10 -20 11 -18 7 -12 2 0-5 2-3 28-17 27-20 43-38 5-1zM-98 229l7 0 34 7 32 5 59 5 0 5 -18 4 -17 2 -20 0 -20-2 -20-5 -23-8 -14-8zM-554 267l3-1 2 3 30 50 33 47 37 45 50 53 0 5 -5 0 -37-33 -27-27 -24-30 -25-35 -20-33 -19-40zM469 399l0 5 -33 37 -27 27 -30 24 -35 25 -33 20 -40 19 -4-2 -1-3 3-2 50-30 47-33 45-37 53-50zM-205 579l9 0 60 15 53 10 57 5 74 2 -1 5 -33 3 -35 0 -65-4 -43-8 -40-11 -35-12z"/>
<path fill="#f21709" d="M8 -611l1-5 10-2 32 1 30 3 33 5 43 10 16 5 0 5 -8 0 -36-8 -43-8 -45-5zM-293 -541l0 5 -3 0 -33 22 -45 32 -27 23 -40 35 -3 2 -3-2 1-5 27-27 48-41 25-17 32-20 15-7zM424 -447l5 1 27 27 41 48 17 25 20 32 7 15 0 6 -5 0 0-3 -22-33 -32-45 -23-27 -35-40 -2-3zM-28 -251l14-3 18-1 20 0 20 2 20 5 17 6 11 6 -1 5 -7 0 -50-10 -62-5zM-102 -229l0 5 -45 30 -42 36 -7 2 0-5 8-13 14-15 15-13 18-12 20-11 17-6zM156 -196l5 0 13 8 15 14 13 15 12 18 11 20 6 17 -2 2 -5 0 -30-45 -36-42zM-589 -173l0 8 -8 36 -8 43 -5 45 -1 33 -5-1 -2-10 1-32 3-30 5-33 10-43 5-16zM-231 -91l0 7 -10 50 -5 62 -5 0 -3-14 -1-18 0-20 2-20 5-20 6-17 6-11zM251 -28l3 14 1 18 0 20 -2 20 -5 20 -6 17 -6 11 -5-1 0-7 10-50 5-62zM611 8l5 1 2 10 -1 32 -3 30 -5 33 -10 43 -5 16 -5 0 0-8 8-36 8-43 5-45zM-229 102l5 0 30 45 36 42 2 7 -5 0 -13-8 -15-14 -13-15 -12-18 -11-20 -6-17zM196 156l0 5 -8 13 -14 15 -15 13 -18 12 -20 11 -17 6 -2-2 0-5 45-30 42-36zM-91 231l7 0 50 10 62 5 0 5 -14 3 -18 1 -20 0 -20-2 -20-5 -17-6 -11-6zM-541 293l5 0 0 3 22 33 32 45 23 27 35 40 2 3 -2 3 -5-1 -27-27 -41-48 -17-25 -20-32 -7-15zM447 424l-1 5 -27 27 -48 41 -25 17 -32 20 -15 7 -6 0 0-5 3 0 33-22 45-32 27-23 40-35 3-2zM-173 589l8 0 36 8 43 8 45 5 33 1 -1 5 -10 2 -32-1 -30-3 -33-5 -43-10 -16-5z"/>
</g></g>
<g><g transform="translate(408.8 325.2) scale(.1 -.1)" fill-rule="evenodd">
<rect x="-760" y="-760" width="1520" height="1520" fill="#000"/>
<path fill="#0915e5" d="M-759 -759l1518 0 0 1518 -1518 0z"/>
<path fill="#062aec" d="M-759 -759l1518 0 0 1518 -1518 0z"/>
<path fill="#043ff3" d="M-759 -759l1518 0 0 1518 -1518 0z"/>
<path fill="#0254fa" d="M-759 -759l1518 0 0 1518 -1518 0z"/>
<path fill="#006bfe" d="M-759 -759l1518 0 0 1518 -1518 0z"/>
<path fill="#0089fc" d="M-759 -759l1518 0 0 1518 -1518 0z"/>
<path fill="#00a6fa" d="M-759 -759l1518 0 0 1518 -1518 0z"/>
<path fill="#00c4f7" d="M-759 -759l1518 0 0 1518 -1518 0z"/>
<path fill="#00e1f5" d="M-759 -759l231 0 54 43 50 46 57 61 15 20 20 33 8 10 15 15 3 12 7 15 32 50 45 80 45 73 3 7 5 5 3 8 4 5 16 30 7 10 0 2 10 13 8 17 17 28 3 7 7 10 3 8 4 5 6 12 7 10 3 8 7 10 13 25 47 78 3-3 -12-20 -8-18 -7-10 -3-7 -17-28 -3-7 -15-23 -3-7 -14-23 -3-7 -5-5 -13-25 -20-30 -7-18 -17-27 -3-8 -5-5 -5-12 -4-5 -6-13 -7-10 -6-12 -6-10 -19-35 -57-98 -20-40 -10-15 -10-10 -3-15 -5-12 -24-48 -9-25 -22-72 -12-53 554 0 -3 73 -5 30 -6 27 -3 18 0 20 -7 12 -5 15 -11 50 -4 13 -1 7 -2 3 -8 35 -2 2 -8 35 -2 3 0 7 -2 3 -3 17 -2 3 -1 7 -2 3 0 7 -2 3 -1 7 -2 3 0 7 -2 3 -1 7 -2 2 0 8 -2 3 -1 7 -2 2 -3 16 -2 2 0 8 -2 2 -3 15 -2 3 -1 7 -2 3 0 10 -2 2 0 3 2 2 3-2 0-5 2-3 1-5 2-2 0-8 2-2 3-15 2-3 1-7 2-3 0-7 2-2 3-16 2-2 1-8 4-10 1-7 4-10 1-8 4-10 11-42 2-3 20-80 2-2 3-15 2-3 4-15 9-27 2-13 0-15 13-22 14-43 12-30 37-70 522 0 0 231 -43 54 -46 50 -61 57 -20 15 -33 20 -10 8 -15 15 -12 3 -15 7 -50 32 -80 45 -73 45 -7 3 -5 5 -8 3 -5 4 -30 16 -10 7 -2 0 -13 10 -17 8 -28 17 -7 3 -10 7 -8 3 -5 4 -12 6 -10 7 -8 3 -10 7 -25 13 -78 47 3 3 20-12 18-8 10-7 7-3 28-17 7-3 23-15 7-3 23-14 7-3 5-5 25-13 30-20 18-7 27-17 8-3 5-5 12-5 5-4 13-6 10-7 12-6 10-6 35-19 98-57 40-20 15-10 10-10 15-3 12-5 48-24 25-9 72-22 53-12 0 554 -73-3 -30-5 -27-6 -18-3 -20 0 -12-7 -15-5 -50-11 -13-4 -7-1 -3-2 -35-8 -2-2 -35-8 -3-2 -7 0 -3-2 -17-3 -3-2 -7-1 -3-2 -7 0 -3-2 -7-1 -3-2 -7 0 -3-2 -7-1 -2-2 -8 0 -3-2 -7-1 -2-2 -16-3 -2-2 -8 0 -2-2 -15-3 -3-2 -7-1 -3-2 -10 0 -2-2 -3 0 -2 2 2 3 5 0 3 2 5 1 2 2 8 0 2 2 15 3 3 2 7 1 3 2 7 0 2 2 16 3 2 2 8 1 10 4 7 1 10 4 8 1 10 4 42 11 3 2 80 20 2 2 15 3 3 2 15 4 27 9 13 2 15 0 22 13 43 14 30 12 70 37 0 522 -231 0 -54-43 -50-46 -57-61 -15-20 -20-33 -8-10 -15-15 -3-12 -7-15 -32-50 -45-80 -45-73 -3-7 -5-5 -3-8 -4-5 -16-30 -7-10 0-2 -10-13 -8-17 -17-28 -3-7 -7-10 -3-8 -4-5 -6-12 -7-10 -3-8 -7-10 -13-25 -47-78 -3 3 12 20 8 18 7 10 3 7 17 28 3 7 15 23 3 7 14 23 3 7 5 5 13 25 20 30 7 18 17 27 3 8 5 5 5 12 4 5 6 13 7 10 6 12 6 10 19 35 57 98 20 40 10 15 10 10 3 15 5 12 24 48 9 25 22 72 12 53 -554 0 3-73 5-30 6-27 3-18 0-20 7-12 5-15 11-50 4-13 1-7 2-3 8-35 2-2 8-35 2-3 0-7 2-3 3-17 2-3 1-7 2-3 0-7 2-3 1-7 2-3 0-7 2-3 1-7 2-2 0-8 2-3 1-7 2-2 3-16 2-2 0-8 2-2 3-15 2-3 1-7 2-3 0-10 2-2 0-3 -2-2 -3 2 0 5 -2 3 -1 5 -2 2 0 8 -2 2 -3 15 -2 3 -1 7 -2 3 0 7 -2 2 -3 16 -2 2 -1 8 -4 10 -1 7 -4 10 -1 8 -4 10 -11 42 -2 3 -20 80 -2 2 -3 15 -2 3 -4 15 -9 27 -2 13 0 15 -13 22 -14 43 -12 30 -37 70 -522 0 0-231 43-54 46-50 61-57 20-15 33-20 10-8 15-15 12-3 15-7 50-32 80-45 73-45 7-3 5-5 8-3 5-4 30-16 10-7 2 0 13-10 17-8 28-17 7-3 10-7 8-3 5-4 12-6 10-7 8-3 10-7 25-13 78-47 -3-3 -20 12 -18 8 -10 7 -7 3 -28 17 -7 3 -23 15 -7 3 -23 14 -7 3 -5 5 -25 13 -30 20 -18 7 -27 17 -8 3 -5 5 -12 5 -5 4 -13 6 -10 7 -12 6 -10 6 -35 19 -98 57 -40 20 -15 10 -10 10 -15 3 -12 5 -48 24 -25 9 -72 22 -53 12 0-554 73 3 30 5 27 6 18 3 20 0 12 7 15 5 50 11 13 4 7 1 3 2 35 8 2 2 35 8 3 2 7 0 3 2 17 3 3 2 7 1 3 2 7 0 3 2 7 1 3 2 7 0 3 2 7 1 2 2 8 0 3 2 7 1 2 2 16 3 2 2 8 0 2 2 15 3 3 2 7 1 3 2 10 0 2 2 3 0 2-2 -2-3 -5 0 -3-2 -5-1 -2-2 -8 0 -2-2 -15-3 -3-2 -7-1 -3-2 -7 0 -2-2 -16-3 -2-2 -8-1 -10-4 -7-1 -10-4 -8-1 -10-4 -42-11 -3-2 -80-20 -2-2 -15-3 -3-2 -15-4 -27-9 -13-2 -15 0 -22-13 -43-14 -30-12 -70-37zM64 -241l-3 2 0 5 -2 3 0 5 -3 3 -5 24 -2 3 -1 7 -2 3 0 7 -2 2 -3 16 -2 2 -1 8 -4 10 -1 7 -2 3 -3 15 -2 2 0 8 -2 2 -3 15 -2 3 -1 7 -2 3 0 7 -2 2 -1 8 -2 3 0 7 -2 3 -1 7 -2 3 0 7 -2 3 0 7 -3 3 0 3 3 2 2-3 1-5 2-2 3-15 4-10 1-8 4-10 6-25 2-2 0-8 2-2 1-8 2-1 5-26 2-3 1-7 2-3 3-17 2-2 1-8 4-11 0-7 2-2 1-8 2-2 3-18 2-1 0-9 2-2 0-3zM-241 -64l2 3 5 0 3 2 5 0 3 3 24 5 3 2 7 1 3 2 7 0 2 2 16 3 2 2 8 1 10 4 7 1 3 2 15 3 2 2 8 0 2 2 15 3 3 2 7 1 3 2 7 0 2 2 8 1 3 2 7 0 3 2 7 1 3 2 7 0 3 2 7 0 3 3 3 0 2-3 -3-2 -5-1 -2-2 -15-3 -10-4 -8-1 -10-4 -25-6 -2-2 -8 0 -2-2 -8-1 -1-2 -26-5 -3-2 -7-1 -3-2 -17-3 -2-2 -8-1 -11-4 -7 0 -2-2 -8-1 -2-2 -18-3 -1-2 -9 0 -2-2 -3 0zM11 4l3 2 5 1 2 2 15 3 10 4 8 1 10 4 25 6 2 2 8 0 2 2 8 1 1 2 26 5 3 2 7 1 3 2 17 3 2 2 8 1 11 4 7 0 2 2 8 1 2 2 18 3 1 2 9 0 2 2 3 0 2-2 -2-3 -5 0 -3-2 -5 0 -3-3 -24-5 -3-2 -7-1 -3-2 -7 0 -2-2 -16-3 -2-2 -8-1 -10-4 -7-1 -3-2 -15-3 -2-2 -8 0 -2-2 -15-3 -3-2 -7-1 -3-2 -7 0 -2-2 -8-1 -3-2 -7 0 -3-2 -7-1 -3-2 -7 0 -3-2 -7 0 -3-3 -3 0zM-4 11l-2 3 -1 5 -2 2 -3 15 -4 10 -1 8 -4 10 -6 25 -2 2 0 8 -2 2 -1 8 -2 1 -5 26 -2 3 -1 7 -2 3 -3 17 -2 2 -1 8 -4 11 0 7 -2 2 -1 8 -2 2 -3 18 -2 1 0 9 -2 2 0 3 2 2 3-2 0-5 2-3 0-5 3-3 5-24 2-3 1-7 2-3 0-7 2-2 3-16 2-2 1-8 4-10 1-7 2-3 3-15 2-2 0-8 2-2 3-15 2-3 1-7 2-3 0-7 2-2 1-8 2-3 0-7 2-3 1-7 2-3 0-7 2-3 0-7 3-3 0-3z"/>
<path fill="#00e3da" d="M-759 -759l201 0 47 28 35 25 37 30 35 33 35 37 42 57 17 18 3 12 7 15 27 43 134 227 12 18 8 17 60 105 55 92 4-4 -3-3 -3-7 -27-50 -73-125 -13-20 -4-5 -10-23 -27-45 -125-225 -8-12 -12-13 -1-7 -4-15 -24-50 -12-35 -15-58 -11-60 540 0 -1 70 -3 28 -8 42 0 25 -7 13 -6 17 -11 48 -66 255 -3 15 3 3 3-3 5-15 14-53 71-250 3-15 0-15 13-22 16-45 13-28 40-70 515 0 0 201 -28 47 -25 35 -30 37 -33 35 -37 35 -57 42 -18 17 -12 3 -15 7 -43 27 -227 134 -18 12 -17 8 -105 60 -92 55 4 4 3-3 7-3 50-27 125-73 20-13 5-4 23-10 45-27 225-125 12-8 13-12 7-1 15-4 50-24 35-12 58-15 60-11 0 540 -70-1 -28-3 -42-8 -25 0 -13-7 -17-6 -48-11 -255-66 -15-3 -3 3 3 3 15 5 53 14 250 71 15 3 15 0 22 13 45 16 28 13 70 40 0 515 -201 0 -47-28 -35-25 -37-30 -35-33 -35-37 -42-57 -17-18 -3-12 -7-15 -27-43 -134-227 -12-18 -8-17 -60-105 -55-92 -4 4 3 3 3 7 27 50 73 125 13 20 4 5 10 23 27 45 125 225 8 12 12 13 1 7 4 15 24 50 12 35 15 58 11 60 -540 0 1-70 3-28 8-42 0-25 7-13 6-17 11-48 66-255 3-15 -3-3 -3 3 -5 15 -14 53 -71 250 -3 15 0 15 -13 22 -16 45 -13 28 -40 70 -515 0 0-201 28-47 25-35 30-37 33-35 37-35 57-42 18-17 12-3 15-7 43-27 227-134 18-12 17-8 105-60 92-55 -4-4 -3 3 -7 3 -50 27 -125 73 -20 13 -5 4 -23 10 -45 27 -225 125 -12 8 -13 12 -7 1 -15 4 -50 24 -35 12 -58 15 -60 11 0-540 70 1 28 3 42 8 25 0 13 7 17 6 48 11 255 66 15 3 3-3 -3-3 -15-5 -53-14 -250-71 -15-3 -15 0 -22-13 -45-16 -28-13 -70-40zM64 -242l-3 3 -1 5 -4 10 -41 148 -12 50 0 7 -2 3 0 4 3 2 2-3 16-51 39-150 4-20 2-2 -1-3zM-242 -64l3 3 5 1 10 4 148 41 50 12 7 0 3 2 4 0 2-3 -3-2 -51-16 -150-39 -20-4 -2-2 -3 1zM10 4l3 2 51 16 150 39 20 4 2 2 3-1 3-2 -3-3 -5-1 -10-4 -148-41 -50-12 -7 0 -3-2 -4 0zM-4 10l-2 3 -16 51 -39 150 -4 20 -2 2 1 3 2 3 3-3 1-5 4-10 41-148 12-50 0-7 2-3 0-4z"/>
<path fill="#00e6bf" d="M-759 -759l144 0 3 3 38 12 50 23 50 29 48 36 45 41 22 25 30 41 19 18 2 12 9 18 159 267 13 18 8 17 59 105 56 93 5-5 -4-3 -2-7 -27-50 -73-125 -13-20 -5-5 -10-23 -152-272 -9-13 -11-10 -4-22 -22-50 -11-33 -13-62 -7-58 524 0 2 70 -2 25 -7 43 0 27 -7 13 -6 17 -77 303 -2 15 3 3 3-3 6-15 85-300 3-18 -1-15 13-20 19-48 12-25 23-37 24-35 506 0 0 144 -3 3 -12 38 -23 50 -29 50 -36 48 -41 45 -25 22 -41 30 -18 19 -12 2 -18 9 -267 159 -18 13 -17 8 -105 59 -93 56 5 5 3-4 7-2 50-27 125-73 20-13 5-5 23-10 272-152 13-9 10-11 22-4 50-22 33-11 62-13 58-7 0 524 -70 2 -25-2 -43-7 -27 0 -13-7 -17-6 -303-77 -15-2 -3 3 3 3 15 6 300 85 18 3 15-1 20 13 48 19 25 12 37 23 35 24 0 506 -144 0 -3-3 -38-12 -50-23 -50-29 -48-36 -45-41 -22-25 -30-41 -19-18 -2-12 -9-18 -159-267 -13-18 -8-17 -59-105 -56-93 -5 5 4 3 2 7 27 50 73 125 13 20 5 5 10 23 152 272 9 13 11 10 4 22 22 50 11 33 13 62 7 58 -524 0 -2-70 2-25 7-43 0-27 7-13 6-17 77-303 2-15 -3-3 -3 3 -6 15 -85 300 -3 18 1 15 -13 20 -19 48 -12 25 -23 37 -24 35 -506 0 0-144 3-3 12-38 23-50 29-50 36-48 41-45 25-22 41-30 18-19 12-2 18-9 267-159 18-13 17-8 105-59 93-56 -5-5 -3 4 -7 2 -50 27 -125 73 -20 13 -5 5 -23 10 -272 152 -13 9 -10 11 -22 4 -50 22 -33 11 -62 13 -58 7 0-524 70-2 25 2 43 7 27 0 13 7 17 6 303 77 15 2 3-3 -3-3 -15-6 -300-85 -18-3 -15 1 -20-13 -48-19 -25-12 -37-23 -35-24zM64 -242l-3 3 -5 15 -41 148 -14 60 0 4 3 3 2-3 16-52 40-150 5-22 -1-4zM-242 -64l3 3 15 5 148 41 60 14 4 0 3-3 -3-2 -52-16 -150-40 -22-5 -4 1zM9 4l3 2 52 16 150 40 22 5 4-1 2-2 -3-3 -15-5 -148-41 -60-14 -4 0zM-4 9l-2 3 -16 52 -40 150 -5 22 1 4 2 2 3-3 5-15 41-148 14-60 0-4z"/>
<path fill="#00e8a4" d="M-350 -759l505 0 5 45 1 25 -1 25 -6 43 1 27 -8 13 -7 20 -73 290 -4 22 2 5 -4 5 -11 33 -35 127 -15 63 1 7 -2 1 -21-41 -25-45 -58-97 -13-20 -5-5 -10-23 -149-270 -11-15 -11-10 -4-22 -21-50 -10-38 -9-60zM717 -759l12 43 3 22 2 25 -3 48 -11 50 -18 50 -24 47 -31 48 -39 47 -22 20 -37 28 -18 20 -15 3 -15 7 -260 156 -25 18 -22 10 -105 59 -55 33 -25 17 -5-1 3-2 26-88 32-125 2-12 -2-5 5-5 5-15 85-298 4-17 -1-18 8-10 7-12 18-45 13-24 27-40 28-34zM-759 -717l43-12 22-3 25-2 48 3 50 11 50 18 47 24 48 31 47 39 20 22 28 37 20 18 3 15 7 15 156 260 18 25 10 22 59 105 33 55 17 25 -1 5 -2-3 -88-26 -125-32 -12-2 -5 2 -5-5 -15-5 -298-85 -17-4 -18 1 -10-8 -12-7 -45-18 -24-13 -40-27 -34-28zM759 -350l0 505 -45 5 -25 1 -25-1 -43-6 -27 1 -13-8 -20-7 -290-73 -22-4 -5 2 -5-4 -33-11 -127-35 -63-15 -7 1 -1-2 41-21 45-25 97-58 20-13 5-5 23-10 270-149 15-11 10-11 22-4 50-21 38-10 60-9zM-759 350l0-505 45-5 25-1 25 1 43 6 27-1 13 8 20 7 290 73 22 4 5-2 5 4 33 11 127 35 63 15 7-1 1 2 -41 21 -45 25 -97 58 -20 13 -5 5 -23 10 -270 149 -15 11 -10 11 -22 4 -50 21 -38 10 -60 9zM9 4l2 3 88 26 125 32 12 2 5-2 5 5 15 5 298 85 17 4 18-1 10 8 12 7 45 18 24 13 40 27 34 28 0 453 -43 12 -22 3 -25 2 -48-3 -50-11 -50-18 -47-24 -48-31 -47-39 -20-22 -28-37 -20-18 -3-15 -7-15 -156-260 -18-25 -10-22 -59-105 -33-55 -17-25zM-4 9l-3 2 -26 88 -32 125 -2 12 2 5 -5 5 -5 15 -85 298 -4 17 1 18 -8 10 -7 12 -18 45 -13 24 -27 40 -28 34 -453 0 -12-43 -3-22 -2-25 3-48 11-50 18-50 24-47 31-48 39-47 22-20 37-28 18-20 15-3 15-7 260-156 25-18 22-10 105-59 55-33 25-17zM1 8l21 41 25 45 58 97 13 20 5 5 10 23 149 270 11 15 11 10 4 22 21 50 10 38 9 60 2 55 -505 0 -5-45 -1-25 1-25 6-43 -1-27 8-13 7-20 73-290 4-22 -2-5 4-5 11-33 35-127 15-63 -1-7z"/>
<path fill="#00ea89" d="M-337 -759l484 0 8 43 2 27 0 25 -5 43 3 27 -10 15 -6 15 -72 293 -4 22 1 5 -4 5 -5 15 -33 115 -15 58 -7 35 0 7 -1 1 -19-38 -25-45 -63-105 -15-20 -12-28 -145-262 -10-15 -14-13 -3-25 -19-50 -8-34 -5-61zM667 -759l11 20 9 20 7 23 5 22 3 23 1 25 -2 25 -3 25 -12 50 -20 50 -27 47 -37 50 -18 18 -35 28 -10 11 -8 11 -17 3 -15 7 -258 156 -25 18 -22 9 -98 55 -47 28 -40 26 -4 0 2-2 11-33 18-62 29-118 2-12 -1-5 4-5 8-23 84-292 3-18 -2-15 9-10 8-12 16-38 13-23 15-21 22-27 33-34zM-759 -667l20-11 20-9 23-7 22-5 23-3 25-1 25 2 25 3 50 12 50 20 47 27 50 37 18 18 28 35 11 10 11 8 3 17 7 15 156 258 18 25 9 22 55 98 28 47 26 40 0 4 -2-2 -33-11 -62-18 -118-29 -12-2 -5 1 -5-4 -23-8 -292-84 -18-3 -15 2 -10-9 -12-8 -38-16 -23-13 -21-15 -27-22 -34-33zM759 -337l0 484 -43 8 -27 2 -25 0 -43-5 -27 3 -15-10 -15-6 -293-72 -22-4 -5 1 -5-4 -15-5 -115-33 -58-15 -35-7 -7 0 -1-1 38-19 45-25 105-63 20-15 28-12 262-145 15-10 13-14 25-3 50-19 34-8 61-5zM-759 337l0-484 43-8 27-2 25 0 43 5 27-3 15 10 15 6 293 72 22 4 5-1 5 4 15 5 115 33 58 15 35 7 7 0 1 1 -38 19 -45 25 -105 63 -20 15 -28 12 -262 145 -15 10 -13 14 -25 3 -50 19 -34 8 -61 5zM9 5l2 2 33 11 62 18 118 29 12 2 5-1 5 4 23 8 292 84 18 3 15-2 10 9 12 8 38 16 23 13 21 15 27 22 34 33 0 388 -20 11 -20 9 -23 7 -22 5 -23 3 -25 1 -25-2 -25-3 -50-12 -50-20 -47-27 -50-37 -18-18 -28-35 -11-10 -11-8 -3-17 -7-15 -156-258 -18-25 -9-22 -55-98 -28-47 -26-40zM-5 9l-2 2 -11 33 -18 62 -29 118 -2 12 1 5 -4 5 -8 23 -84 292 -3 18 2 15 -9 10 -8 12 -16 38 -13 23 -15 21 -22 27 -33 34 -388 0 -11-20 -9-20 -7-23 -5-22 -3-23 -1-25 2-25 3-25 12-50 20-50 27-47 37-50 18-18 35-28 10-11 8-11 17-3 15-7 258-156 25-18 22-9 98-55 47-28 40-26zM1 8l19 38 25 45 63 105 15 20 12 28 145 262 10 15 14 13 3 25 19 50 8 34 5 61 -2 55 -484 0 -8-43 -2-27 0-25 5-43 -3-27 10-15 6-15 72-293 4-22 -1-5 4-5 5-15 33-115 15-58 7-35 0-7z"/>
<path fill="#00ec70" d="M-321 -759l458 0 12 46 4 27 1 20 -4 45 4 27 -9 13 -7 17 -36 140 -23 105 -12 45 -5 25 2 5 -4 5 -7 20 -33 115 -13 50 -8 45 -17-35 -24-45 -65-107 -15-20 -11-25 -28-51 -47-89 -70-125 -10-15 -16-15 -1-23 -16-46 -5-19 -2-20 0-60 3-27zM605 -759l16 17 14 18 11 20 10 23 8 22 5 25 3 25 0 25 -2 25 -4 28 -7 27 -8 25 -23 50 -18 30 -14 20 -17 18 -33 28 -15 21 -17 3 -15 6 -138 83 -73 46 -52 31 -20 16 -22 9 -100 55 -43 25 -42 29 -3 0 14-40 15-52 30-120 2-15 -1-5 4-5 7-20 17-58 31-100 24-88 13-44 4-20 -3-18 17-20 21-42 18-26 37-40 45-37zM-759 -605l17-16 18-14 20-11 23-10 22-8 25-5 25-3 25 0 25 2 28 4 27 7 25 8 50 23 30 18 20 14 18 17 28 33 21 15 3 17 6 15 83 138 46 73 31 52 16 20 9 22 55 100 25 43 29 42 0 3 -40-14 -52-15 -120-30 -15-2 -5 1 -5-4 -20-7 -58-17 -100-31 -88-24 -44-13 -20-4 -18 3 -20-17 -42-21 -26-18 -40-37 -37-45zM759 -321l0 458 -46 12 -27 4 -20 1 -45-4 -27 4 -13-9 -17-7 -140-36 -105-23 -45-12 -25-5 -5 2 -5-4 -20-7 -115-33 -50-13 -45-8 35-17 45-24 107-65 20-15 25-11 51-28 89-47 125-70 15-10 15-16 23-1 46-16 19-5 20-2 60 0 27 3zM-759 321l0-458 46-12 27-4 20-1 45 4 27-4 13 9 17 7 140 36 105 23 45 12 25 5 5-2 5 4 20 7 115 33 50 13 45 8 -35 17 -45 24 -107 65 -20 15 -25 11 -51 28 -89 47 -125 70 -15 10 -15 16 -23 1 -46 16 -19 5 -20 2 -60 0 -27-3zM9 6l40 14 52 15 120 30 15 2 5-1 5 4 20 7 58 17 100 31 88 24 44 13 20 4 18-3 20 17 42 21 26 18 40 37 37 45 0 304 -17 16 -18 14 -20 11 -23 10 -22 8 -25 5 -25 3 -25 0 -25-2 -28-4 -27-7 -25-8 -50-23 -30-18 -20-14 -18-17 -28-33 -21-15 -3-17 -6-15 -83-138 -46-73 -31-52 -16-20 -9-22 -55-100 -25-43 -29-42zM-6 9l-14 40 -15 52 -30 120 -2 15 1 5 -4 5 -7 20 -17 58 -31 100 -24 88 -13 44 -4 20 3 18 -17 20 -21 42 -18 26 -37 40 -45 37 -304 0 -16-17 -14-18 -11-20 -10-23 -8-22 -5-25 -3-25 0-25 2-25 4-28 7-27 8-25 23-50 18-30 14-20 17-18 33-28 15-21 17-3 15-6 138-83 73-46 52-31 20-16 22-9 100-55 43-25 42-29zM1 9l17 35 24 45 65 107 15 20 11 25 28 51 47 89 70 125 10 15 16 15 1 23 16 46 5 19 2 20 0 60 -3 27 -4 28 -458 0 -12-46 -4-27 -1-20 4-45 -4-27 9-13 7-17 36-140 23-105 12-45 5-25 -2-5 4-5 7-20 33-115 13-50z"/>
<path fill="#00ed59" d="M-298 -759l420 0 18 48 6 25 3 22 -1 43 6 27 -11 13 -8 20 -9 39 -26 98 -21 101 -14 54 -3 20 2 5 -4 5 -8 20 -34 118 -13 52 -6 38 -19-40 -22-40 -63-103 -17-22 -10-25 -29-53 -42-82 -74-133 -11-15 -15-12 0-23 -14-52 -3-35 3-33 4-27 6-28zM561 -730l18 16 14 15 13 18 11 20 9 20 7 22 5 23 3 25 0 25 -1 25 -4 25 -6 25 -10 27 -13 30 -10 20 -12 18 -10 12 -31 31 -13 19 -2 2 -15 1 -18 8 -135 80 -75 49 -47 29 -23 17 -25 11 -105 57 -37 22 -40 28 0-5 14-39 14-50 28-115 2-15 -1-7 4-5 7-18 17-57 28-88 43-150 2-17 -3-18 11-10 8-10 21-37 10-14 22-24 38-29 32-20 41-18 3-3 162 0 2 3 27 13zM-730 -561l16-18 15-14 18-13 20-11 20-9 22-7 23-5 25-3 25 0 25 1 25 4 25 6 27 10 30 13 20 10 18 12 12 10 31 31 19 13 2 2 1 15 8 18 80 135 49 75 29 47 17 23 11 25 57 105 22 37 28 40 -5 0 -39-14 -50-14 -115-28 -15-2 -7 1 -5-4 -18-7 -57-17 -88-28 -150-43 -17-2 -18 3 -10-11 -10-8 -37-21 -14-10 -24-22 -29-38 -20-32 -18-41 -3-3 0-162 3-2 13-27zM759 -298l0 420 -48 18 -25 6 -22 3 -43-1 -27 6 -13-11 -20-8 -39-9 -98-26 -101-21 -54-14 -20-3 -5 2 -5-4 -20-8 -118-34 -52-13 -38-6 40-19 40-22 103-63 22-17 25-10 53-29 82-42 133-74 15-11 12-15 23 0 52-14 35-3 33 3 27 4 28 6zM-759 298l0-420 48-18 25-6 22-3 43 1 27-6 13 11 20 8 39 9 98 26 101 21 54 14 20 3 5-2 5 4 20 8 118 34 52 13 38 6 -40 19 -40 22 -103 63 -22 17 -25 10 -53 29 -82 42 -133 74 -15 11 -12 15 -23 0 -52 14 -35 3 -33-3 -27-4 -28-6zM10 9l5 0 39 14 50 14 115 28 15 2 7-1 5 4 18 7 57 17 88 28 150 43 17 2 18-3 10 11 10 8 37 21 14 10 24 22 29 38 20 32 18 41 3 3 0 162 -3 2 -13 27 -13 20 -16 18 -15 14 -18 13 -20 11 -20 9 -22 7 -23 5 -25 3 -25 0 -25-1 -25-4 -25-6 -27-10 -30-13 -20-10 -18-12 -12-10 -31-31 -19-13 -2-2 -1-15 -8-18 -80-135 -49-75 -29-47 -17-23 -11-25 -57-105 -22-37zM-9 10l0 5 -14 39 -14 50 -28 115 -2 15 1 7 -4 5 -7 18 -17 57 -28 88 -43 150 -2 17 3 18 -11 10 -8 10 -21 37 -10 14 -22 24 -38 29 -32 20 -41 18 -3 3 -162 0 -2-3 -27-13 -20-13 -18-16 -14-15 -13-18 -11-20 -9-20 -7-22 -5-23 -3-25 0-25 1-25 4-25 6-25 10-27 13-30 10-20 12-18 10-12 31-31 13-19 2-2 15-1 18-8 135-80 75-49 47-29 23-17 25-11 105-57 37-22zM1 11l19 40 22 40 63 103 17 22 10 25 29 53 42 82 74 133 11 15 15 12 0 23 14 52 3 35 -3 33 -4 27 -6 28 -9 25 -420 0 -18-48 -6-25 -3-22 1-43 -6-27 11-13 8-20 9-39 26-98 21-101 14-54 3-20 -2-5 4-5 8-20 34-118 13-52z"/>
<path fill="#00ee41" d="M-272 -759l375 0 21 36 10 22 8 30 4 52 8 23 -15 17 -7 18 -37 150 -16 82 -14 60 -3 18 1 7 -6 10 -7 20 -35 115 -10 43 -6 40 -3-2 -18-41 -23-40 -62-100 -15-17 -8-23 -29-53 -41-84 -72-130 -13-18 -18-12 2-25 -8-40 -2-18 1-30 7-32 7-25 11-28zM535 -694l19 17 15 17 14 21 12 23 8 22 7 25 4 25 1 28 -2 27 -4 28 -6 25 -11 30 -14 27 -37 44 -10 21 -2 2 -18 0 -17 7 -125 75 -85 56 -50 31 -18 15 -27 11 -105 56 -38 23 -37 27 16-43 13-45 27-117 3-18 -1-7 4-5 7-18 18-61 29-84 41-145 3-20 -4-17 0-3 10-7 12-13 29-43 23-21 27-18 23-12 25-11 27-9 25-5 28-3 25 0 25 3 25 5 22 9 23 11zM-694 -535l17-19 17-15 21-14 23-12 22-8 25-7 25-4 28-1 27 2 28 4 25 6 30 11 27 14 44 37 21 10 2 2 0 18 7 17 75 125 56 85 31 50 15 18 11 27 56 105 23 38 27 37 -43-16 -45-13 -117-27 -18-3 -7 1 -5-4 -18-7 -61-18 -84-29 -145-41 -20-3 -17 4 -3 0 -7-10 -13-12 -43-29 -21-23 -18-27 -12-23 -11-25 -9-27 -5-25 -3-28 0-25 3-25 5-25 9-22 11-23zM759 -272l0 375 -36 21 -22 10 -30 8 -52 4 -23 8 -17-15 -18-7 -150-37 -82-16 -60-14 -18-3 -7 1 -10-6 -20-7 -115-35 -43-10 -40-6 2-3 41-18 40-23 100-62 17-15 23-8 53-29 84-41 130-72 18-13 12-18 25 2 40-8 18-2 30 1 32 7 25 7 28 11zM-759 272l0-375 36-21 22-10 30-8 52-4 23-8 17 15 18 7 150 37 82 16 60 14 18 3 7-1 10 6 20 7 115 35 43 10 40 6 -2 3 -41 18 -40 23 -100 62 -17 15 -23 8 -53 29 -84 41 -130 72 -18 13 -12 18 -25-2 -40 8 -18 2 -30-1 -32-7 -25-7 -28-11zM11 9l43 16 45 13 117 27 18 3 7-1 5 4 18 7 61 18 84 29 145 41 20 3 17-4 3 0 7 10 13 12 43 29 21 23 18 27 12 23 11 25 9 27 5 25 3 28 0 25 -3 25 -5 25 -9 22 -11 23 -14 21 -17 19 -17 15 -21 14 -23 12 -22 8 -25 7 -25 4 -28 1 -27-2 -28-4 -25-6 -30-11 -27-14 -44-37 -21-10 -2-2 0-18 -7-17 -75-125 -56-85 -31-50 -15-18 -11-27 -56-105 -23-38zM-9 11l-16 43 -13 45 -27 117 -3 18 1 7 -4 5 -7 18 -18 61 -29 84 -41 145 -3 20 4 17 0 3 -10 7 -12 13 -29 43 -23 21 -27 18 -23 12 -25 11 -27 9 -25 5 -28 3 -25 0 -25-3 -25-5 -22-9 -23-11 -21-14 -19-17 -15-17 -14-21 -12-23 -8-22 -7-25 -4-25 -1-28 2-27 4-28 6-25 11-30 14-27 37-44 10-21 2-2 18 0 17-7 125-75 85-56 50-31 18-15 27-11 105-56 38-23zM1 16l3 2 18 41 23 40 62 100 15 17 8 23 29 53 41 84 72 130 13 18 18 12 -2 25 8 40 2 18 -1 30 -7 32 -7 25 -11 28 -13 25 -375 0 -21-36 -10-22 -8-30 -4-52 -8-23 15-17 7-18 37-150 16-82 14-60 3-18 -1-7 6-10 7-20 35-115 10-43z"/>
<path fill="#00ef2a" d="M-241 -759l321 0 16 19 18 25 10 18 7 18 5 18 6 40 4 12 7 13 -17 17 -8 20 -35 140 -17 95 -13 60 -2 15 2 5 -13 28 -35 107 -10 38 -9 49 -14-34 -22-40 -64-100 -18-20 -8-25 -29-55 -41-88 -70-125 -14-17 -18-10 3-15 1-13 -5-55 2-17 4-18 8-24 15-33 15-25zM511 -663l18 15 14 17 15 20 11 20 9 22 7 23 5 22 2 25 0 23 -2 25 -4 25 -6 22 -13 28 -28 39 -9 23 -22 0 -22 9 -117 70 -80 56 -53 34 -20 17 -27 10 -108 55 -37 23 -31 24 1-4 16-41 10-35 26-118 2-20 -1-7 5-8 6-12 18-59 34-91 39-140 3-20 -2-10 -5-10 1-2 21-16 32-39 22-18 20-11 25-11 23-8 22-6 25-3 23-1 25 1 22 3 23 6 22 9 20 11zM-663 -511l15-18 17-14 20-15 20-11 22-9 23-7 22-5 25-2 23 0 25 2 25 4 22 6 28 13 39 28 23 9 0 22 9 22 70 117 56 80 34 53 17 20 10 27 55 108 23 37 24 31 -4-1 -41-16 -35-10 -118-26 -20-2 -7 1 -8-5 -12-6 -59-18 -91-34 -140-39 -20-3 -10 2 -10 5 -2-1 -16-21 -39-32 -18-22 -11-20 -11-25 -8-23 -6-22 -3-25 -1-23 1-25 3-22 6-23 9-22 11-20zM759 -241l0 321 -19 16 -25 18 -18 10 -18 7 -18 5 -40 6 -12 4 -13 7 -17-17 -20-8 -140-35 -95-17 -60-13 -15-2 -5 2 -28-13 -107-35 -38-10 -49-9 34-14 40-22 100-64 20-18 25-8 55-29 88-41 125-70 17-14 10-18 15 3 13 1 55-5 17 2 18 4 24 8 33 15 25 15zM-759 241l0-321 19-16 25-18 18-10 18-7 18-5 40-6 12-4 13-7 17 17 20 8 140 35 95 17 60 13 15 2 5-2 28 13 107 35 38 10 49 9 -34 14 -40 22 -100 64 -20 18 -25 8 -55 29 -88 41 -125 70 -17 14 -10 18 -15-3 -13-1 -55 5 -17-2 -18-4 -24-8 -33-15 -25-15zM16 13l4 1 41 16 35 10 118 26 20 2 7-1 8 5 12 6 59 18 91 34 140 39 20 3 10-2 10-5 2 1 16 21 39 32 18 22 11 20 11 25 8 23 6 22 3 25 1 23 -1 25 -3 22 -6 23 -9 22 -11 20 -13 20 -15 18 -17 14 -20 15 -20 11 -22 9 -23 7 -22 5 -25 2 -23 0 -25-2 -25-4 -22-6 -28-13 -39-28 -23-9 0-22 -9-22 -70-117 -56-80 -34-53 -17-20 -10-27 -55-108 -23-37zM-13 16l-1 4 -16 41 -10 35 -26 118 -2 20 1 7 -5 8 -6 12 -18 59 -34 91 -39 140 -3 20 2 10 5 10 -1 2 -21 16 -32 39 -22 18 -20 11 -25 11 -23 8 -22 6 -25 3 -23 1 -25-1 -22-3 -23-6 -22-9 -20-11 -20-13 -18-15 -14-17 -15-20 -11-20 -9-22 -7-23 -5-22 -2-25 0-23 2-25 4-25 6-22 13-28 28-39 9-23 22 0 22-9 117-70 80-56 53-34 20-17 27-10 108-55 37-23zM4 22l14 34 22 40 64 100 18 20 8 25 29 55 41 88 70 125 14 17 18 10 -3 15 -1 13 5 55 -2 17 -4 18 -8 24 -15 33 -15 25 -18 23 -321 0 -16-19 -18-25 -10-18 -7-18 -5-18 -6-40 -4-12 -7-13 17-17 8-20 35-140 17-95 13-60 2-15 -2-5 13-28 35-107 10-38z"/>
<path fill="#0ff217" d="M-201 -759l249 0 36 30 15 17 12 16 14 27 14 50 13 23 -10 7 -9 10 -6 10 -29 105 -9 35 -15 105 -12 58 -1 15 1 7 -13 25 -36 105 -9 28 -10 44 -16-32 -18-30 -65-95 -16-17 -8-25 -27-55 -42-95 -14-28 -58-97 -10-10 -9-6 -12-4 4-13 3-15 0-42 2-18 4-17 8-20 14-26 20-28 20-22zM490 -636l16 14 13 13 14 18 12 20 10 20 7 20 6 22 4 23 2 42 -5 38 -9 25 -24 41 -7 26 -13-3 -10 1 -10 2 -12 6 -88 50 -30 19 -81 60 -51 34 -18 17 -25 8 -100 48 -32 18 -33 21 14-46 7-32 20-105 1-15 -1-10 6-8 7-15 19-56 38-96 11-35 24-95 3-13 0-12 -3-10 -6-11 23-14 32-32 23-16 17-8 20-7 43-10 22-1 23 0 22 2 20 4 23 7 19 8 19 10zM-635 -491l15-18 14-12 16-13 19-11 20-10 20-7 22-6 23-4 42-2 38 5 25 9 41 24 26 7 -3 13 1 10 2 10 6 12 50 88 19 30 60 81 34 51 17 18 8 25 48 100 18 32 21 33 -46-14 -32-7 -105-20 -15-1 -10 1 -8-6 -15-7 -56-19 -96-38 -35-11 -95-24 -13-3 -12 0 -10 3 -11 6 -14-23 -32-32 -16-23 -8-17 -7-20 -10-43 -1-22 0-23 2-22 5-23 6-20 9-20 11-20zM759 -201l0 249 -30 36 -17 15 -16 12 -27 14 -50 14 -23 13 -7-10 -10-9 -10-6 -105-29 -35-9 -105-15 -58-12 -15-1 -7 1 -25-13 -105-36 -28-9 -44-10 32-16 30-18 95-65 17-16 25-8 55-27 95-42 28-14 97-58 10-10 6-9 4-12 13 4 15 3 42 0 18 2 17 4 20 8 26 14 28 20 22 20zM-759 201l0-249 30-36 17-15 16-12 27-14 50-14 23-13 7 10 10 9 10 6 105 29 35 9 105 15 58 12 15 1 7-1 25 13 105 36 28 9 44 10 -32 16 -30 18 -95 65 -17 16 -25 8 -55 27 -95 42 -28 14 -97 58 -10 10 -6 9 -4 12 -13-4 -15-3 -42 0 -18-2 -17-4 -20-8 -26-14 -28-20 -22-20zM33 26l46 14 32 7 105 20 15 1 10-1 8 6 15 7 56 19 96 38 35 11 95 24 13 3 12 0 10-3 11-6 14 23 32 32 16 23 8 17 7 20 10 43 1 22 0 23 -2 22 -4 20 -7 23 -8 19 -10 19 -13 18 -14 16 -13 13 -18 14 -20 12 -20 10 -20 7 -22 6 -23 4 -42 2 -38-5 -25-9 -41-24 -26-7 3-13 -1-10 -2-10 -6-12 -50-88 -19-30 -60-81 -34-51 -17-18 -8-25 -48-100 -18-32zM-26 33l-14 46 -7 32 -20 105 -1 15 1 10 -6 8 -7 15 -19 56 -38 96 -11 35 -24 95 -3 13 0 12 3 10 6 11 -23 14 -32 32 -23 16 -17 8 -20 7 -43 10 -22 1 -23 0 -22-2 -20-4 -23-7 -19-8 -19-10 -18-13 -16-14 -13-13 -14-18 -12-20 -10-20 -7-20 -6-22 -4-23 -2-42 5-38 9-25 24-41 7-26 13 3 10-1 10-2 12-6 88-50 30-19 81-60 51-34 18-17 25-8 100-48 32-18zM6 42l16 32 18 30 65 95 16 17 8 25 27 55 42 95 14 28 58 97 10 10 9 6 12 4 -4 13 -3 15 0 42 -2 18 -4 17 -8 20 -14 26 -20 28 -20 22 -25 22 -249 0 -36-30 -15-17 -12-16 -14-27 -14-50 -13-23 10-7 9-10 6-10 29-105 9-35 15-105 12-58 1-15 -1-7 13-25 36-105 9-28z"/>
<path fill="#2cf708" d="M-118 -759l94 0 2 3 41 13 32 16 30 22 23 23 12 20 19 43 17 23 -13 7 -9 8 -7 10 -6 15 -23 77 -11 48 -5 35 -7 68 -10 62 0 25 -13 22 -57 146 -2 0 -92-126 -18-18 -7-24 -26-57 -25-68 -13-30 -24-43 -41-67 -10-13 -10-10 -12-5 -11-2 10-28 6-43 6-19 12-26 17-25 25-25 33-25 30-16 20-8 20-5zM469 -607l28 26 24 33 18 36 13 43 4 33 -1 30 -6 25 -16 40 -3 12 -1 14 -15-4 -10-1 -13 3 -15 7 -70 38 -40 24 -27 21 -56 46 -49 34 -13 12 -5 6 -25 7 -135 60 -11 3 0-10 23-145 1-15 -1-12 12-20 21-56 31-69 12-30 14-45 19-80 2-15 -1-13 -3-10 -8-12 24-12 35-26 20-11 30-10 35-4 45 1 40 9 38 15zM-607 -469l26-28 33-24 36-18 43-13 33-4 30 1 25 6 40 16 12 3 14 1 -4 15 -1 10 3 13 7 15 38 70 24 40 21 27 46 56 34 49 12 13 6 5 7 25 60 135 3 11 -10 0 -145-23 -15-1 -12 1 -20-12 -56-21 -69-31 -30-12 -45-14 -80-19 -15-2 -13 1 -10 3 -12 8 -12-24 -26-35 -11-20 -10-30 -4-35 1-45 9-40 15-38zM759 -118l0 94 -3 2 -13 41 -16 32 -22 30 -23 23 -20 12 -43 19 -23 17 -7-13 -8-9 -10-7 -15-6 -77-23 -48-11 -35-5 -68-7 -62-10 -25 0 -22-13 -146-57 0-2 126-92 18-18 24-7 57-26 68-25 30-13 43-24 67-41 13-10 10-10 5-12 2-11 28 10 43 6 19 6 26 12 25 17 25 25 25 33 16 30 8 20 5 20zM-759 118l0-94 3-2 13-41 16-32 22-30 23-23 20-12 43-19 23-17 7 13 8 9 10 7 15 6 77 23 48 11 35 5 68 7 62 10 25 0 22 13 146 57 0 2 -126 92 -18 18 -24 7 -57 26 -68 25 -30 13 -43 24 -67 41 -13 10 -10 10 -5 12 -2 11 -28-10 -43-6 -19-6 -26-12 -25-17 -25-25 -25-33 -16-30 -8-20 -5-20zM59 45l10 0 145 23 15 1 12-1 20 12 56 21 69 31 30 12 45 14 80 19 15 2 13-1 10-3 12-8 12 24 26 35 11 20 10 30 4 35 -1 45 -9 40 -15 38 -22 35 -26 28 -33 24 -36 18 -43 13 -33 4 -30-1 -25-6 -40-16 -12-3 -14-1 4-15 1-10 -3-13 -7-15 -38-70 -24-40 -21-27 -46-56 -34-49 -12-13 -6-5 -7-25 -60-135zM-45 59l0 10 -23 145 -1 15 1 12 -12 20 -21 56 -31 69 -12 30 -14 45 -19 80 -2 15 1 13 3 10 8 12 -24 12 -35 26 -20 11 -30 10 -35 4 -45-1 -40-9 -38-15 -35-22 -28-26 -24-33 -18-36 -13-43 -4-33 1-30 6-25 16-40 3-12 1-14 15 4 10 1 13-3 15-7 70-38 40-24 27-21 56-46 49-34 13-12 5-6 25-7 135-60zM9 73l2 0 92 126 18 18 7 24 26 57 25 68 13 30 24 43 41 67 10 13 10 10 12 5 11 2 -10 28 -6 43 -6 19 -12 26 -17 25 -25 25 -33 25 -30 16 -20 8 -20 5 -3 3 -94 0 -2-3 -41-13 -32-16 -30-22 -23-23 -12-20 -19-43 -17-23 13-7 9-8 7-10 6-15 23-77 11-48 5-35 7-68 10-62 0-25 13-22z"/>
<path fill="#4cfa00" d="M-94 -710l35-2 35 3 33 7 32 12 23 12 20 15 46 49 16 12 2 6 -2 1 -13 4 -8 5 -12 15 -5 12 -7 30 -22 68 -5 25 -3 27 -4 83 -8 57 2 28 -14 20 -21 50 -15 31 -15 21 -5 5 -5 3 -5-1 -7-3 -25-21 -52-65 -10-10 -8-6 -5-24 -23-55 -25-80 -10-25 -12-23 -62-100 -8-7 -13-5 -17-1 -3-2 3-6 13-16 32-59 15-19 17-17 28-20 30-15 32-12zM436 -568l25 22 24 27 19 30 13 30 7 25 4 25 -2 63 2 25 -1 5 -21-10 -12-1 -10 2 -13 6 -28 18 -59 30 -20 13 -23 18 -62 56 -48 37 -10 10 -5 8 -22 5 -50 20 -35 12 -28 5 -13-2 -3-5 -2-7 -2-25 2-38 7-52 0-13 -2-12 7-8 7-12 24-58 37-70 11-27 9-25 13-63 10-32 2-15 0-10 -3-10 -5-8 -9-7 -2-5 5-3 20-2 65-20 25-3 25 1 35 6 32 10 30 14zM-566 -439l22-25 27-22 31-19 30-13 25-7 22-3 63 2 25-2 5 1 -10 21 -1 12 2 10 6 13 18 28 30 59 13 20 18 23 56 62 37 48 10 10 8 5 5 22 20 50 12 35 5 28 -2 13 -5 3 -7 2 -25 2 -38-2 -52-7 -13 0 -12 2 -8-7 -12-7 -58-24 -70-37 -27-11 -25-9 -63-13 -32-10 -15-2 -10 0 -10 3 -8 5 -7 9 -5 2 -3-5 -2-20 -20-65 -3-25 1-27 6-35 11-33 16-32zM709 -99l3 35 -2 35 -7 35 -12 33 -13 25 -15 20 -49 46 -12 16 -6 2 -1-2 -4-13 -5-8 -15-12 -12-5 -30-7 -68-22 -25-5 -27-3 -83-4 -57-8 -28 2 -20-14 -50-21 -31-15 -21-15 -5-5 -3-5 1-5 3-7 21-25 65-52 10-10 6-8 24-5 55-23 80-25 25-10 23-12 100-62 7-8 5-13 1-17 2-3 6 3 16 13 59 32 19 15 15 15 20 27 16 30 12 33zM-710 89l-2-35 3-33 8-32 11-30 12-23 15-20 49-46 12-16 6-2 1 2 4 13 5 8 15 12 12 5 30 7 68 22 25 5 27 3 83 4 57 8 28-2 20 14 50 21 31 15 21 15 5 5 3 5 -1 5 -3 7 -21 25 -65 52 -10 10 -6 8 -24 5 -55 23 -80 25 -25 10 -23 12 -100 62 -7 8 -5 13 -1 17 -2 3 -6-3 -16-13 -59-32 -21-16 -17-19 -19-27 -16-33 -11-32zM89 68l5-3 7-2 25-2 38 2 52 7 13 0 12-2 8 7 12 7 58 24 70 37 27 11 25 9 63 13 32 10 15 2 10 0 10-3 8-5 7-9 5-2 3 5 2 20 20 65 3 25 -1 27 -6 35 -11 33 -16 32 -19 28 -22 25 -27 22 -31 19 -30 13 -25 7 -22 3 -63-2 -25 2 -5-1 10-21 1-12 -2-10 -6-13 -18-28 -30-59 -13-20 -18-23 -56-62 -37-48 -10-10 -8-5 -5-22 -20-50 -12-35 -5-28zM-68 89l3 5 2 7 2 25 -2 38 -7 52 0 13 2 12 -7 8 -7 12 -24 58 -37 70 -11 27 -9 25 -13 63 -10 32 -2 15 0 10 3 10 5 8 9 7 2 5 -5 3 -20 2 -65 20 -25 3 -27-1 -35-6 -33-11 -32-16 -28-19 -25-22 -22-27 -19-31 -13-30 -7-25 -3-22 2-63 -2-25 1-5 21 10 12 1 10-2 13-6 28-18 59-30 20-13 23-18 62-56 48-37 10-10 5-8 22-5 50-20 35-12 28-5zM14 111l5 1 7 3 25 21 52 65 10 10 8 6 5 24 23 55 25 80 10 25 12 23 62 100 8 7 13 5 17 1 3 2 -3 6 -13 16 -32 59 -15 19 -17 17 -28 20 -30 15 -32 12 -35 7 -35 2 -35-3 -33-7 -32-12 -23-12 -20-15 -46-49 -16-12 -2-6 2-1 13-4 8-5 12-15 5-12 7-30 22-68 5-25 3-27 4-83 8-57 -2-28 14-20 21-50 15-31 15-21 5-5z"/>
<path fill="#6efa00" d="M-96 -675l27-3 38 1 25 3 30 7 27 10 25 12 70 44 1 5 -3 1 -22 4 -16 5 -11 7 -13 20 -20 50 -12 40 -3 28 2 27 12 66 0 32 -4 50 0 10 3 10 0 5 -13 15 -18 34 -15 21 -18 17 -15 6 -7 0 -10-2 -20-10 -20-16 -32-33 -13-9 -2-21 -18-51 -8-27 -6-69 -5-28 -12-30 -25-40 -29-37 -15-13 -10-5 -23 0 -17 2 -6-2 3-7 50-54 15-14 23-18 25-15 27-12 33-11zM404 -550l22 18 25 23 18 23 18 27 13 28 7 22 20 83 0 7 -1 1 -5-1 -17-13 -13-7 -15-3 -10 0 -12 4 -43 18 -40 21 -25 20 -17 20 -40 58 -20 20 -40 34 -10 11 -4 7 -16 1 -43 12 -25 5 -25-1 -10-3 -7-4 -9-15 -7-22 -2-25 1-40 -3-20 9-10 7-10 21-46 15-26 44-51 15-22 12-28 10-40 7-50 -1-22 -3-8 -7-10 -13-12 -13-10 -1-5 8-2 72-2 28 0 22 3 23 5 30 10 25 12zM-534 -424l18-20 20-18 25-18 27-14 25-10 28-8 65-15 8 1 -1 5 -13 17 -7 13 -3 15 0 10 4 12 18 43 21 40 20 25 20 17 58 40 20 20 34 40 11 10 7 4 1 16 12 43 5 25 -1 25 -3 10 -4 7 -15 9 -22 7 -25 2 -40-1 -20 3 -10-9 -10-7 -46-21 -26-15 -51-44 -22-15 -28-12 -40-10 -50-7 -22 1 -8 3 -10 7 -12 13 -10 13 -5 1 -2-8 -2-82 1-23 4-30 10-32 10-23 15-27zM672 -111l5 35 1 35 -3 32 -6 25 -10 30 -12 25 -46 75 -5 1 -1-3 -4-22 -5-16 -7-11 -20-13 -50-20 -40-12 -28-3 -27 2 -66 12 -32 0 -50-4 -10 0 -10 3 -5 0 -15-13 -34-18 -21-15 -17-18 -6-15 0-7 2-10 10-20 16-20 33-32 9-13 21-2 51-18 27-8 69-6 28-5 30-12 40-25 37-29 13-15 5-10 0-23 -2-17 2-6 7 3 54 50 14 15 18 23 12 20 10 20 11 27zM-677 74l-1-38 3-27 6-25 7-23 17-37 44-70 5-1 1 3 4 22 5 16 7 11 20 13 50 20 40 12 28 3 27-2 66-12 32 0 50 4 10 0 10-3 5 0 15 13 34 18 21 15 17 18 6 15 0 7 -2 10 -10 20 -16 20 -33 32 -9 13 -21 2 -51 18 -27 8 -69 6 -28 5 -30 12 -40 25 -37 29 -13 15 -5 10 0 23 2 17 -2 6 -7-3 -59-55 -19-23 -13-17 -15-28 -13-32 -7-28zM122 86l14-7 23-6 22-2 40 1 20-3 10 9 10 7 46 21 26 15 51 44 22 15 25 11 38 10 55 8 22-1 8-3 10-7 12-13 10-13 5-1 2 8 2 82 -1 23 -4 30 -10 32 -10 23 -15 27 -21 28 -18 20 -20 18 -25 18 -27 14 -25 10 -28 8 -65 15 -8-1 1-5 17-25 6-17 0-10 -3-13 -14-35 -20-40 -13-20 -10-12 -23-20 -58-40 -20-20 -34-40 -11-10 -7-4 -1-16 -13-45 -4-28 2-25 4-10zM-91 117l5 5 5 8 7 25 3 24 -1 42 3 20 -9 10 -7 10 -21 46 -15 26 -44 51 -15 22 -12 28 -10 42 -7 48 1 22 3 8 7 10 13 12 13 10 1 5 -8 2 -72 2 -28 0 -22-3 -30-7 -28-10 -25-13 -27-18 -25-21 -24-24 -15-20 -15-25 -10-23 -10-30 -17-75 0-7 1-1 5 1 17 13 13 7 7 2 10 1 23-5 45-19 37-21 23-18 17-20 40-58 20-20 40-34 10-11 4-7 16-1 43-12 25-5 22 1 10 2zM19 148l7 0 10 2 20 10 20 16 32 33 13 9 2 21 18 51 8 27 6 69 5 28 12 30 25 40 29 37 15 13 10 5 23 0 17-2 6 2 -3 7 -50 54 -15 14 -23 18 -25 15 -27 12 -33 11 -25 5 -27 3 -38-1 -25-3 -30-7 -27-10 -25-12 -70-44 -1-5 3-1 22-4 16-5 11-7 13-20 20-50 12-40 3-28 -2-27 -12-66 0-32 4-50 0-10 -3-10 0-5 13-15 18-34 15-21 18-17z"/>
<path fill="#8ef900" d="M146 -599l-2 3 -23 3 -18 4 -24 10 -120 77 -13 6 -10 3 -12 0 -13-3 -137-44 -28-2 -35 4 -6-1 2-7 44-42 23-19 25-17 25-14 27-12 28-8 30-6 30-2 32 0 28 3 27 6 28 9 27 12 63 35zM173 -591l11-1 65 2 30 3 27 5 28 9 25 10 27 16 23 15 22 20 20 20 18 23 15 24 12 24 10 27 19 63 1 11 -7-1 -15-13 -15-9 -25-11 -20-6 -65-12 -55-13 -13-4 -10-6 -6-6 -6-9 -66-129 -21-25 -28-22zM-320 -526l-1 7 -13 15 -9 15 -11 25 -6 20 -12 65 -13 55 -4 13 -6 10 -6 6 -9 6 -129 66 -25 21 -22 28 -5 1 -1-11 2-65 3-30 5-27 9-28 10-25 16-27 15-23 20-22 20-20 23-18 24-15 24-12 27-10 63-19zM-56 -422l10 0 10 3 22 13 23 19 20 25 10 18 6 18 4 17 3 45 8 18 -1 6 -15 11 -23 27 -12 11 -15 10 -18 5 -17-1 -18-5 -15-8 -26-19 -21-10 2-22 -8-43 -1-17 1-20 5-20 13-30 18-26 17-17 10-6zM259 -338l6 7 5 7 7 25 3 33 -3 30 -6 20 -9 20 -10 15 -28 32 -5 9 -3 9 -2 2 -5 1 -15-3 -35 2 -18 0 -19-5 -16-8 -10-12 -8-17 -5-15 -5-28 -9-22 0-5 14-10 4-5 24-35 13-15 15-12 17-11 30-11 30-5 25 0 10 3zM539 -295l7 2 42 44 19 23 17 25 14 25 12 27 8 28 6 30 2 30 0 32 -3 28 -6 27 -9 28 -12 27 -35 63 -2 2 -3-2 -3-23 -4-18 -10-24 -77-120 -6-13 -3-10 0-12 3-13 44-137 2-28 -4-35zM-336 -261l7-6 10-5 25-6 30-2 30 4 20 6 18 8 15 10 32 28 9 5 9 3 2 2 1 5 -3 15 2 35 0 18 -5 19 -8 16 -12 10 -17 8 -15 5 -28 5 -22 9 -5 0 -10-14 -5-4 -35-24 -15-13 -12-15 -11-17 -11-30 -6-33 2-25 3-10zM-599 -146l3 2 3 23 4 18 10 24 77 120 6 13 3 10 0 12 -3 13 -44 137 -2 28 4 35 -1 6 -7-2 -42-44 -19-23 -17-25 -14-25 -12-27 -8-28 -6-30 -2-30 0-32 3-28 6-27 9-28 12-27 35-63zM412 -76l9 15 1 12 -5 18 -11 17 -16 20 -20 18 -24 14 -22 8 -18 3 -42 3 -18 8 -5 0 -12-16 -27-23 -11-12 -8-13 -5-12 -2-20 5-20 9-18 19-26 10-21 22 2 40-7 18-2 30 3 22 7 25 12 21 15zM-178 16l2 20 -5 20 -9 18 -19 26 -10 21 -22-2 -43 8 -17 1 -20-1 -20-5 -30-13 -26-18 -17-17 -6-10 -2-8 0-10 3-10 13-22 19-23 25-20 18-10 18-6 17-4 45-3 18-8 6 1 11 15 34 30 11 15zM145 104l13-10 16-7 40-9 22-9 5 0 10 14 5 4 35 24 15 13 12 15 11 17 11 30 5 30 0 25 -3 10 -4 8 -7 6 -7 5 -25 7 -33 3 -30-3 -20-6 -20-9 -15-10 -32-28 -9-5 -9-3 -2-2 -1-5 3-15 -2-35 0-18 5-20zM-112 139l13 11 10 18 5 16 8 37 7 15 0 5 -14 10 -4 5 -24 35 -13 15 -15 12 -17 11 -30 11 -30 5 -25 0 -10-3 -8-4 -6-7 -5-7 -7-25 -3-33 3-30 6-20 9-20 10-15 28-32 5-9 3-9 2-2 5-1 15 3 49-2 19 3zM591 173l1 11 -2 65 -3 30 -5 27 -9 28 -10 25 -16 27 -15 23 -20 22 -20 20 -23 18 -24 15 -24 12 -27 10 -63 19 -11 1 1-7 13-15 9-15 11-25 6-20 12-65 13-55 4-13 6-10 6-6 9-6 129-66 25-21 22-28zM24 176l17 1 18 5 15 8 26 19 21 10 -2 22 8 43 1 17 -1 20 -5 20 -13 30 -18 26 -17 17 -10 6 -8 2 -10 0 -10-3 -22-13 -23-19 -20-25 -10-18 -6-18 -4-17 -3-45 -8-18 1-6 15-11 23-27 12-11 15-10zM-526 320l7 1 15 13 15 9 25 11 20 6 65 12 55 13 13 4 10 6 6 6 6 9 66 129 21 25 28 22 1 5 -11 1 -65-2 -30-3 -27-5 -28-9 -25-10 -27-16 -23-15 -22-20 -20-20 -18-23 -15-24 -12-24 -10-27 -19-63zM-146 599l2-3 23-3 18-4 24-10 120-77 13-6 10-3 12 0 13 3 137 44 28 2 35-4 6 1 -2 7 -44 42 -23 19 -25 17 -25 14 -27 12 -28 8 -30 6 -30 2 -32 0 -28-3 -27-6 -28-9 -27-12 -63-35z"/>
<path fill="#aaf600" d="M144 -599l-3 3 -35 3 -30 7 -23 7 -72 29 -25 7 -25 5 -25 2 -30-1 -100-10 -27 1 -38 7 -5-2 5-8 38-31 30-22 25-15 25-13 27-10 28-8 27-5 28-2 32 0 28 2 27 5 28 8 35 13 47 22zM176 -591l28 1 45 5 30 5 27 7 28 10 22 11 25 15 23 16 21 17 19 20 18 23 15 22 18 33 15 35 14 40 1 7 -1 3 -5-2 -28-22 -25-17 -25-12 -69-30 -23-12 -20-14 -18-15 -17-18 -65-81 -22-20 -32-22 -1-3zM-321 -524l-2 5 -22 28 -17 25 -12 25 -30 69 -12 23 -14 20 -15 18 -18 17 -81 65 -20 22 -22 32 -3 1 -2-2 1-28 5-45 5-30 7-27 10-28 11-22 15-25 16-23 17-21 20-19 23-18 22-15 33-18 35-15 40-14 7-1zM-51 -350l17-1 13 2 15 7 15 12 16 19 22 45 12 20 0 6 -19 11 -31 27 -13 7 -15 5 -20 1 -15-2 -45-20 -22-8 0-5 8-25 6-35 10-27 11-16 10-11 12-8zM541 -294l8 5 31 38 22 30 15 25 13 25 10 27 8 28 5 27 2 28 0 32 -2 28 -5 27 -8 28 -13 35 -22 47 -6 8 -3-3 -3-35 -7-30 -7-23 -29-72 -7-25 -5-25 -2-25 1-30 10-100 -1-27 -7-38zM70 -241l22-13 34-24 15-7 13-4 20-3 17 1 10 2 15 9 10 10 8 14 4 15 1 20 -4 27 -14 39 -5 24 -2 2 -5 0 -20-5 -45-4 -16-6 -12-7 -11-10 -9-13 -17-45 -9-17zM-131 -216l2 2 0 5 -5 20 -4 45 -6 16 -7 12 -10 11 -13 9 -45 17 -17 9 -5 0 -13-22 -24-34 -7-15 -4-13 -3-20 1-17 2-10 9-15 10-10 14-8 15-4 20-1 27 4 39 14zM-599 -144l3 3 3 35 7 30 7 23 29 72 7 25 5 25 2 25 -1 30 -10 100 1 27 7 38 -2 5 -8-5 -31-38 -22-30 -15-25 -13-25 -10-27 -8-28 -5-27 -2-28 0-32 2-28 5-27 8-28 13-35 22-47zM219 -121l5 0 25 8 35 6 27 10 16 11 13 12 6 11 4 14 1 18 -3 12 -8 15 -10 13 -19 16 -45 22 -20 12 -6 0 -11-19 -29-34 -6-12 -4-15 -1-18 2-15 20-45zM-246 -59l6 0 11 19 29 34 6 12 4 15 1 18 -2 15 -20 45 -8 22 -5 0 -25-8 -35-6 -27-10 -16-11 -13-12 -6-11 -4-14 -1-18 3-12 8-15 10-13 19-16 45-22zM241 70l13 22 24 34 7 15 4 13 3 20 -1 17 -2 10 -9 15 -10 10 -14 8 -15 4 -20 1 -27-4 -39-14 -24-5 -2-2 0-5 5-20 4-45 6-16 7-12 10-11 13-9 45-17 17-9zM-216 131l2-2 5 0 20 5 45 4 16 6 12 7 11 10 9 13 17 45 9 17 0 5 -22 13 -34 24 -15 7 -13 4 -20 3 -17-1 -10-2 -15-9 -10-10 -8-14 -4-15 -1-20 4-27 14-39zM591 176l-1 28 -5 45 -5 30 -7 27 -10 28 -11 22 -15 25 -16 23 -17 21 -20 19 -23 18 -22 15 -33 18 -35 15 -40 14 -7 1 -3-1 2-5 22-28 17-25 12-25 30-69 12-23 14-20 15-18 18-17 81-65 20-22 22-32 3-1zM19 190l20-1 15 2 45 20 22 8 0 5 -8 25 -6 35 -10 27 -11 16 -10 11 -12 8 -13 4 -17 1 -13-2 -15-7 -15-12 -16-19 -22-45 -12-20 0-6 19-11 31-27 13-7zM-524 321l5 2 28 22 25 17 25 12 69 30 23 12 20 14 18 15 17 18 65 81 22 20 32 22 1 3 -2 2 -28-1 -45-5 -30-5 -27-7 -28-10 -22-11 -25-15 -23-16 -21-17 -19-20 -18-23 -15-22 -18-33 -15-35 -14-40 -1-7zM294 541l-5 8 -38 31 -30 22 -25 15 -25 13 -27 10 -28 8 -27 5 -28 2 -32 0 -28-2 -27-5 -28-8 -35-13 -47-22 -8-6 3-3 35-3 30-7 23-7 72-29 25-7 25-5 25-2 30 1 100 10 27-1 38-7z"/>
<path fill="#c7f400" d="M142 -599l-6 3 -35 1 -31 4 -99 23 -42 8 -45 4 -98 2 -35 5 -35 8 -8 0 4-8 32-24 32-21 33-18 22-10 28-10 27-8 28-4 30-3 30 0 27 2 28 5 32 8 38 12 37 16zM176 -589l8-2 42 6 38 7 35 10 27 11 25 12 23 13 22 16 23 19 18 18 18 20 18 25 17 30 18 35 14 33 2 13 -8-3 -27-25 -25-19 -85-53 -35-24 -35-30 -71-67 -26-20 -32-20zM-323 -524l-3 8 -25 27 -19 25 -53 85 -24 35 -30 35 -67 71 -20 26 -20 32 -5 4 -2-8 6-42 7-38 10-35 11-27 12-25 13-23 16-22 19-23 18-18 20-18 25-18 30-17 35-18 33-14zM-120 -219l0-5 7-17 11-30 11-23 10-11 10-8 12-7 13-3 17-1 13 2 12 4 13 8 17 18 33 46 0 5 -14 7 -34 21 -17 9 -15 4 -20 1 -15-2zM541 -292l8 4 24 32 21 32 18 33 10 22 10 28 8 27 4 28 3 30 0 30 -2 27 -5 28 -8 32 -12 38 -16 37 -5 6 -3-6 -1-35 -4-31 -23-99 -8-42 -4-45 -2-98 -5-35 -8-35zM70 -241l51-24 23-6 12-1 18 1 12 4 13 7 10 9 7 11 5 12 3 14 0 28 -9 55 -1 1 -5 0 -15-5 -43-10 -16-6 -14-9 -12-12 -10-14 -19-35 -9-14zM-131 -215l1 1 0 5 -5 15 -10 43 -6 16 -9 14 -12 12 -14 10 -35 19 -14 9 -6 1 -24-51 -6-23 -1-12 1-18 4-12 7-13 9-10 11-7 12-5 14-3 28 0zM-599 -142l3 6 1 35 4 31 23 99 8 42 4 45 2 98 5 35 8 35 0 8 -8-4 -24-32 -21-32 -18-33 -10-22 -10-28 -8-27 -4-28 -3-30 0-30 2-27 5-28 8-32 12-38 16-37zM219 -120l5 0 17 7 30 11 23 11 11 10 8 10 7 12 3 13 1 17 -2 13 -4 12 -8 13 -18 17 -46 33 -5 0 -7-14 -21-34 -9-17 -4-15 -1-20 2-15zM-246 -59l5 0 7 14 21 34 9 17 4 15 1 20 -2 15 -18 64 -5 0 -17-7 -30-11 -23-11 -11-10 -8-10 -7-12 -3-13 -1-17 2-13 4-12 8-13 18-17zM241 70l24 51 6 23 1 12 -1 18 -4 12 -7 13 -9 10 -11 7 -12 5 -14 3 -28 0 -55-9 -1-1 0-5 5-15 10-43 6-16 9-14 12-12 14-10 35-19 14-9zM-215 131l1-1 5 0 15 5 43 10 16 6 14 9 12 12 10 14 19 35 9 14 1 6 -51 24 -23 6 -12 1 -18-1 -12-4 -13-7 -10-9 -7-11 -5-12 -3-14 0-28zM589 176l2 8 -6 42 -7 38 -10 35 -11 27 -12 25 -13 23 -16 22 -19 23 -18 18 -20 18 -25 18 -30 17 -35 18 -33 14 -13 2 3-8 25-27 19-25 53-85 24-35 30-35 67-71 20-26 20-32zM-59 241l14-7 39-24 15-6 15-4 20-1 15 2 61 18 0 5 -7 17 -12 33 -12 23 -10 11 -10 7 -13 6 -12 3 -18 0 -12-3 -13-5 -12-8 -15-16 -21-31 -12-14zM-524 323l8 3 27 25 25 19 85 53 35 24 35 30 71 67 26 20 32 20 4 5 -8 2 -42-6 -38-7 -35-10 -27-11 -25-12 -23-13 -22-16 -23-19 -18-18 -18-20 -18-25 -17-30 -18-35 -14-33zM292 541l-4 8 -32 24 -32 21 -33 18 -22 10 -28 10 -27 8 -28 4 -30 3 -30 0 -27-2 -28-5 -32-8 -38-12 -37-16 -6-5 6-3 35-1 31-4 99-23 42-8 45-4 98-2 35-5 35-8z"/>
<path fill="#e3f100" d="M137 -599l-6 2 -37 0 -33 2 -132 21 -125 13 -43 7 -45 12 -4-2 1-5 31-21 32-20 30-15 28-12 25-8 27-7 28-5 27-3 30 0 55 5 28 5 35 10 46 16zM181 -589l13 0 35 7 37 9 30 10 25 10 25 13 25 15 23 16 20 17 20 19 19 22 17 22 17 28 21 37 13 29 0 9 -7-3 -30-30 -33-27 -97-71 -108-87 -29-20 -35-20zM-326 -521l-3 7 -30 30 -27 33 -71 97 -87 108 -20 29 -20 35 -5 1 0-13 7-35 9-37 10-30 10-25 13-25 15-25 16-23 17-20 19-20 22-19 22-17 28-17 37-21 29-13zM-119 -219l0-7 23-39 12-17 18-14 10-5 12-3 15-1 13 2 12 3 10 5 20 16 30 30 3 4 -1 4 -49 22 -18 7 -15 3 -32 0zM544 -288l5 1 21 31 20 32 15 30 12 28 8 25 7 27 5 28 3 27 0 30 -5 55 -5 28 -10 35 -16 46 -5 2 -2-6 0-37 -2-33 -21-132 -13-125 -7-43 -12-45zM71 -241l45-13 23-3 15 0 12 2 13 5 9 6 8 8 7 10 9 22 3 23 0 50 -6 1 -53-21 -15-7 -13-8 -12-11 -12-14 -33-45zM-131 -215l1 6 -21 53 -7 15 -8 13 -11 12 -14 12 -45 33 -5 0 -13-45 -3-23 0-15 2-12 5-13 6-9 8-8 10-7 22-9 23-3zM-599 -137l2 6 0 37 2 33 21 132 13 125 7 43 12 45 -2 4 -5-1 -21-31 -20-32 -15-30 -12-28 -8-25 -7-27 -5-28 -3-27 0-30 5-55 5-28 10-35 16-46zM219 -119l7 0 39 23 17 12 14 18 5 10 3 12 1 15 -2 13 -3 12 -5 10 -16 20 -30 30 -4 3 -4-1 -22-49 -7-18 -3-15 0-32zM-245 -59l4 1 22 49 7 18 3 15 0 32 -10 63 -7 0 -39-23 -17-12 -14-18 -5-10 -3-12 -1-15 2-13 3-12 5-10 16-20 30-30zM241 71l13 45 3 23 0 15 -2 12 -5 13 -6 9 -8 8 -10 7 -22 9 -23 3 -50 0 -1-6 21-53 7-15 8-13 11-12 14-12 45-33zM-215 131l6-1 53 21 15 7 13 8 12 11 12 14 33 45 0 5 -45 13 -23 3 -15 0 -12-2 -13-5 -9-6 -8-8 -7-10 -9-22 -3-23zM589 181l0 13 -7 35 -9 37 -10 30 -10 25 -13 25 -15 25 -16 23 -17 20 -19 20 -22 19 -22 17 -28 17 -37 21 -29 13 -9 0 3-7 30-30 27-33 71-97 87-108 20-29 20-35zM-58 241l57-25 27-7 33 0 60 10 0 7 -23 39 -12 17 -10 9 -10 6 -10 4 -13 3 -15 1 -12-2 -10-3 -13-7 -17-14 -32-33zM-521 326l7 3 30 30 33 27 97 71 108 87 29 20 35 20 1 5 -13 0 -35-7 -37-9 -30-10 -25-10 -25-13 -25-15 -23-16 -20-17 -20-19 -19-22 -17-22 -17-28 -21-37 -13-29zM288 544l-1 5 -31 21 -32 20 -30 15 -28 12 -25 8 -27 7 -28 5 -27 3 -30 0 -55-5 -28-5 -35-10 -46-16 -2-5 6-2 37 0 33-2 132-21 125-13 43-7 45-12z"/>
<path fill="#ffee00" d="M133 -604l0 5 -54 0 -45 2 -180 23 -72 13 -61 17 -2 0 -2-2 1-5 21-14 35-20 35-17 50-18 30-7 25-5 50-3 55 3 30 5 32 7 35 10zM187 -586l4-2 30 6 35 9 35 12 50 24 45 29 40 35 37 42 19 27 19 30 18 35 1 8 -1 1 -5-1 -33-34 -35-32 -135-104 -66-48 -29-17 -29-15zM-331 -520l1 1 -1 5 -34 33 -32 35 -104 135 -48 66 -17 29 -15 29 -5 0 -2-4 6-30 9-35 12-35 24-50 29-45 35-40 42-37 27-19 30-19 35-18zM-119 -221l1-5 27-34 12-12 20-13 20-5 23 0 22 7 18 10 32 24 2 5 -2 3 -52 18 -30 6 -35 2 -57-4zM546 -283l5 1 14 21 20 35 17 35 18 50 7 30 5 25 3 50 -3 55 -5 30 -7 32 -10 35 -6 17 -5 0 0-54 -2-45 -23-180 -13-72 -17-61 0-2zM72 -241l39-6 28 0 22 5 18 10 15 15 10 21 6 27 4 28 0 10 -8-1 -47-24 -28-17 -17-16 -40-45 -3-5zM-131 -214l-1 8 -24 47 -17 28 -16 17 -45 40 -5 3 -2-1 -6-39 0-28 5-22 10-18 15-15 21-10 27-6 28-4zM-604 -133l5 0 0 54 2 45 23 180 13 72 17 61 0 2 -2 2 -5-1 -14-21 -20-35 -17-35 -18-50 -7-30 -5-25 -3-50 3-55 5-30 7-32 10-35zM221 -119l5 1 34 27 12 12 13 20 5 20 0 23 -7 22 -10 18 -24 32 -5 2 -3-2 -18-52 -6-30 -2-35 4-57zM-244 -58l3 2 18 52 6 30 2 35 -4 57 -2 1 -5-1 -34-27 -12-12 -13-20 -5-20 0-23 7-22 10-18 24-32zM241 72l6 39 0 28 -5 22 -10 18 -15 15 -21 10 -27 6 -28 4 -10 0 1-8 24-47 17-28 16-17 45-40 5-3zM-214 131l8 1 47 24 28 17 17 16 40 45 3 5 -1 2 -39 6 -28 0 -22-5 -18-10 -15-15 -10-21 -6-27 -4-28zM586 187l2 4 -6 30 -9 35 -12 35 -24 50 -29 45 -35 40 -42 37 -27 19 -30 19 -35 18 -8 1 -1-1 1-5 34-33 32-35 104-135 48-66 17-29 15-29zM119 219l0 5 -5 8 -20 25 -13 13 -17 12 -23 8 -25 0 -22-7 -18-10 -32-24 -2-5 1-3 58-19 23-5 32-2zM-520 331l1-1 5 1 33 34 35 32 135 104 66 48 29 17 29 15 0 5 -4 2 -30-6 -35-9 -35-12 -50-24 -45-29 -40-35 -37-42 -19-27 -19-30 -18-35zM283 546l-1 5 -21 14 -35 20 -35 17 -50 18 -30 7 -25 5 -50 3 -55-3 -30-5 -32-7 -35-10 -17-6 0-5 54 0 45-2 180-23 72-13 61-17 2 0z"/>
<path fill="#ffca00" d="M125 -606l0 5 -4 1 -50-2 -40 2 -50 4 -80 10 -88 15 -40 10 -47 14 -4-2 1-5 18-11 33-18 32-15 50-17 30-7 28-5 50-4 57 3 53 8zM191 -586l8 0 35 8 30 10 32 13 45 23 45 30 40 35 37 41 20 27 17 28 14 25 3 10 -6 0 -32-34 -33-32 -37-32 -48-37 -50-38 -44-30 -34-20 -43-22zM-336 -517l0 6 -34 32 -32 33 -32 37 -37 48 -38 50 -30 44 -20 34 -22 43 -5-1 0-8 8-35 10-30 13-32 23-45 30-45 35-40 41-37 27-20 28-17 25-14zM-118 -221l1-5 23-24 15-13 20-11 20-5 23-1 22 5 18 8 30 18 3 5 -3 3 -83 19 -82 3 -5-1zM549 -278l5 1 11 18 18 33 15 32 17 50 7 30 5 28 4 50 -3 57 -8 53 -14 51 -5 0 -1-4 2-50 -2-40 -4-50 -10-80 -15-88 -10-40 -14-47zM74 -241l30-2 30 3 20 5 19 11 15 15 11 19 11 36 4 15 -1 5 -2 2 -5-1 -70-44 -61-57 -2-2zM-134 -213l2 2 -1 5 -44 70 -57 61 -2 2 -5-1 -2-30 3-30 5-20 11-19 15-15 19-11 36-11 15-4zM-606 -125l5 0 1 4 -2 50 2 40 4 50 10 80 15 88 10 40 14 47 -2 4 -5-1 -11-18 -18-33 -15-32 -17-50 -7-30 -5-28 -4-50 3-57 8-53zM221 -118l5 1 24 23 13 15 11 20 5 20 1 23 -5 22 -8 18 -18 30 -5 3 -3-3 -19-83 -3-82 1-5zM-244 -57l3 3 19 83 3 82 -1 5 -1 2 -5-1 -24-23 -13-15 -11-20 -5-20 -1-23 5-22 8-18 18-30zM241 74l2 30 -3 30 -5 20 -11 19 -15 15 -19 11 -36 11 -15 4 -5-1 -2-2 1-5 44-70 57-61 2-2zM-213 134l2-2 5 1 70 44 61 57 2 2 -1 5 -30 2 -30-3 -20-5 -19-11 -15-15 -11-19 -11-36 -4-15zM586 191l0 8 -8 35 -10 30 -13 32 -23 45 -30 45 -35 40 -41 37 -27 20 -28 17 -25 14 -10 3 0-6 34-32 32-33 32-37 37-48 38-50 30-44 20-34 22-43zM118 221l-1 5 -23 24 -15 13 -20 11 -20 5 -23 1 -22-5 -18-8 -30-18 -3-5 3-3 83-19 82-3 5 1zM-517 336l6 0 32 34 33 32 37 32 48 37 50 38 44 30 34 20 43 22 -1 5 -8 0 -35-8 -30-10 -32-13 -45-23 -45-30 -40-35 -37-41 -20-27 -17-28 -14-25zM278 549l-1 5 -18 11 -33 18 -32 15 -50 17 -30 7 -28 5 -50 4 -57-3 -53-8 -51-14 0-5 4-1 50 2 40-2 50-4 80-10 88-15 40-10 47-14z"/>
<path fill="#ffa600" d="M120 -606l0 5 -61-3 -38 1 -57 4 -60 8 -82 15 -38 10 -53 16 -3-1 1-5 17-11 30-15 30-13 53-18 50-10 52-4 58 1 57 8zM198 -584l8 0 30 9 60 23 48 25 40 27 37 32 36 39 35 48 17 27 3 10 -6 2 -35-39 -30-29 -35-31 -47-38 -45-32 -38-25 -34-20 -44-23zM-344 -512l2 6 -39 35 -29 30 -31 35 -38 47 -32 45 -25 38 -20 34 -23 44 -5 0 0-8 9-30 23-60 25-48 27-40 32-37 39-36 48-35 27-17zM-116 -221l0-5 35-29 20-11 22-6 25 0 23 4 32 13 12 6 1 3 -1 5 -77 13 -90 8zM551 -272l5 1 11 17 15 30 13 30 18 53 10 50 4 52 -1 58 -8 57 -12 44 -5 0 3-61 -1-38 -4-57 -8-60 -15-82 -10-38 -16-53zM76 -241l28 1 27 5 20 7 18 11 16 16 12 20 15 37 0 10 -6 0 -72-52 -58-47 -1-6zM-134 -212l0 6 -52 72 -47 58 -6 1 -2-1 1-28 5-27 7-20 11-18 16-16 20-12 37-15zM-606 -120l5 0 -3 61 1 38 4 57 8 60 15 82 10 38 16 53 -1 3 -5-1 -11-17 -15-30 -13-30 -18-53 -10-50 -4-52 1-58 8-57zM221 -116l5 0 29 35 11 20 6 22 0 25 -4 23 -13 32 -6 12 -3 1 -5-1 -13-77 -8-90zM-246 -54l5 1 13 77 8 90 -1 2 -5 0 -29-35 -11-20 -6-22 0-25 4-23 13-32 6-12zM241 76l-1 28 -5 27 -7 20 -11 18 -16 16 -20 12 -37 15 -10 0 0-6 52-72 47-58 6-1zM-212 134l6 0 72 52 58 47 1 6 -1 2 -28-1 -27-5 -20-7 -18-11 -16-16 -12-20 -15-37zM584 198l0 8 -9 30 -23 60 -25 48 -27 40 -32 37 -39 36 -48 35 -27 17 -10 3 -2-6 39-35 29-30 31-35 38-47 32-45 25-38 20-34 23-44zM116 221l0 5 -35 29 -20 11 -22 6 -25 0 -23-4 -32-13 -12-6 -1-3 1-5 77-13 90-8zM-512 344l6-2 35 39 30 29 35 31 47 38 45 32 38 25 34 20 44 23 0 5 -8 0 -30-9 -60-23 -48-25 -40-27 -37-32 -36-39 -35-48 -17-27zM272 551l-1 5 -17 11 -30 15 -30 13 -53 18 -50 10 -52 4 -58-1 -57-8 -44-12 0-5 61 3 38-1 57-4 60-8 82-15 38-10 53-16z"/>
<path fill="#ff8200" d="M110 -609l0 5 -4 1 -55-2 -37 0 -57 4 -42 5 -82 15 -47 12 -45 15 -5 0 1-5 7-5 25-13 35-15 55-18 50-10 50-5 50 1 47 4zM206 -581l15 2 20 6 50 21 48 25 40 27 40 34 34 35 35 45 16 25 3 10 -6 1 -37-41 -28-27 -37-33 -38-30 -38-28 -39-25 -35-20 -39-20 -1-2 -3 0zM-351 -507l1 6 -41 37 -27 28 -33 37 -30 38 -28 38 -25 39 -20 35 -20 39 -2 1 0 3 -5 0 2-15 6-20 21-50 25-48 27-40 34-40 35-34 45-35 25-16zM-114 -221l0-5 2-3 26-19 22-11 23-7 25-1 20 2 27 8 20 8 0 5 -2 2 -155 21zM554 -264l5 1 5 7 13 25 15 35 18 55 10 50 5 50 -1 50 -4 47 -11 54 -5 0 -1-4 2-55 0-37 -4-57 -5-42 -15-82 -12-47 -15-45zM77 -239l4-1 10 0 35 7 20 8 18 11 15 13 14 20 15 30 3 10 0 5 -7-1 -127-97zM-136 -211l-1 7 -97 127 -5 0 -1-4 0-10 7-35 8-20 11-18 13-15 20-14 30-15 10-3zM221 -114l5 0 3 2 19 26 11 22 7 23 1 25 -2 20 -8 27 -8 20 -5 0 -2-2 -21-155zM-609 -110l5 0 1 4 -2 55 0 37 4 57 5 42 15 82 12 47 15 45 0 5 -5-1 -5-7 -13-25 -15-35 -18-55 -10-50 -5-50 1-50 4-47zM-249 -51l5 0 2 2 21 155 0 8 -5 0 -3-2 -19-26 -11-22 -7-23 -1-25 2-20 8-27zM239 77l1 4 0 10 -7 35 -8 20 -11 18 -13 15 -20 14 -30 15 -10 3 -5 0 1-7 97-127zM-211 136l7 1 127 97 0 5 -4 1 -10 0 -35-7 -20-8 -18-11 -15-13 -14-20 -15-30 -3-10zM581 206l-2 15 -6 20 -21 50 -25 48 -27 40 -34 40 -35 34 -45 35 -25 16 -10 3 -1-6 41-37 27-28 33-37 30-38 28-38 25-39 20-35 20-39 2-1 0-3zM114 221l0 5 -2 3 -26 19 -22 11 -23 7 -25 1 -20-2 -27-8 -20-8 0-5 2-2 155-21zM-507 351l6-1 37 41 28 27 37 33 38 30 38 28 39 25 35 20 39 20 1 2 3 0 0 5 -15-2 -20-6 -50-21 -48-25 -40-27 -40-34 -34-35 -35-45 -16-25zM264 554l-1 5 -7 5 -25 13 -35 15 -55 18 -50 10 -50 5 -50-1 -47-4 -54-11 0-5 4-1 55 2 37 0 57-4 42-5 82-15 47-12 45-15z"/>
<path fill="#ff5e00" d="M96 -611l0 5 -2 1 -55-2 -38 0 -44 3 -42 5 -79 15 -38 10 -46 15 -6 0 0-5 8-5 55-23 47-15 50-11 48-5 50 0 42 3zM218 -576l1-1 7 1 15 5 53 21 45 25 40 27 35 30 36 37 34 42 15 22 1 6 -1 1 -5 0 -58-61 -31-28 -37-30 -34-25 -38-25 -34-20 -45-22zM-361 -500l1 1 0 5 -61 58 -28 31 -30 37 -25 34 -25 38 -20 34 -22 45 -5-1 -1-1 1-7 5-15 21-53 25-45 27-40 30-35 37-36 42-34 22-15zM-111 -224l0-5 30-19 22-9 20-5 23-1 20 1 22 5 23 8 0 5 -3 1 -44 4 -57 8 -54 8zM559 -254l5 0 5 8 23 55 15 47 11 50 5 48 0 50 -3 42 -9 50 -5 0 -1-2 2-55 0-38 -3-44 -5-42 -15-79 -10-38 -15-46zM80 -239l19 2 27 7 20 9 18 12 15 14 14 19 14 25 2 12 -5 1 -30-26 -42-32 -50-35 -2-3zM-139 -209l1 5 -26 30 -32 42 -35 50 -3 2 -5 0 2-19 7-27 9-20 12-18 14-15 19-14 25-14zM224 -111l5 0 19 30 9 22 5 20 1 23 -1 20 -5 22 -8 23 -5 0 -1-3 -4-44 -8-57 -8-54zM-611 -96l5 0 1 2 -2 55 0 38 3 44 5 42 15 79 10 38 15 46 0 6 -5 0 -5-8 -23-55 -15-47 -11-50 -5-48 0-50 3-42zM-249 -49l5 0 1 3 4 44 8 57 8 54 -1 2 -5 0 -19-30 -9-22 -5-20 -1-23 1-20 5-22zM239 80l-2 19 -7 27 -9 20 -12 18 -14 15 -19 14 -25 14 -12 2 -1-5 26-30 32-42 35-50 3-2zM-209 139l5-1 30 26 42 32 50 35 2 3 0 5 -19-2 -27-7 -20-9 -18-12 -15-14 -14-19 -14-25zM576 218l1 1 -1 7 -5 15 -21 53 -25 45 -27 40 -30 35 -37 36 -42 34 -22 15 -6 1 -1-1 0-5 61-58 28-31 30-37 25-34 25-38 20-34 22-45zM111 224l0 5 -30 19 -22 9 -20 5 -23 1 -20-1 -22-5 -23-8 0-5 3-1 44-4 57-8 54-8zM-500 361l1-1 5 0 58 61 31 28 37 30 34 25 38 25 34 20 45 22 -1 5 -1 1 -7-1 -15-5 -53-21 -45-25 -40-27 -35-30 -36-37 -34-42 -15-22zM254 559l0 5 -8 5 -55 23 -47 15 -50 11 -48 5 -50 0 -42-3 -50-9 0-5 2-1 55 2 38 0 44-3 42-5 79-15 38-10 46-15z"/>
<path fill="#fc4902" d="M87 -606l-83-2 -39 2 -46 5 -69 12 -39 10 -47 15 -5 0 2-2 1-5 29-14 28-10 45-13 55-10 52-4 55 2 53 6 2 5 5 1zM230 -571l1-2 8 2 12 4 48 21 40 23 40 28 37 31 33 33 32 40 11 15 0 5 -1 1 -5 0 -59-61 -59-50 -34-25 -31-20 -73-40zM-371 -492l1 1 0 5 -61 59 -50 59 -25 34 -20 31 -40 73 -5 0 -2-1 2-8 4-12 21-48 23-40 28-40 31-37 33-33 40-32 15-11zM-106 -226l0-5 25-15 22-9 23-4 17-2 23 1 25 5 17 6 0 5 -39 3 -43 5 -68 12zM564 -241l2 2 5 1 14 29 10 28 13 45 10 55 4 52 -2 55 -6 53 -5 2 -1 5 -2 1 2-83 -2-39 -5-46 -12-69 -10-39 -15-47zM84 -236l2-2 8 1 25 7 22 10 20 13 18 16 13 17 15 25 -1 8 -5-1 -52-44 -38-28 -27-17zM-141 -206l-1 5 -44 52 -28 38 -17 27 -5 0 -2-2 1-8 7-25 10-22 13-20 16-18 17-13 25-15zM226 -106l5 0 15 25 9 22 4 23 2 17 -1 23 -5 25 -6 17 -5 0 -3-39 -5-43 -12-68zM-606 -87l-2 83 2 39 5 46 12 69 10 39 15 47 0 5 -2-2 -5-1 -14-29 -10-28 -13-45 -10-55 -4-52 2-55 6-53 5-2 1-5zM-249 -46l5 0 3 39 5 43 12 68 -2 2 -5 0 -15-25 -9-22 -4-23 -2-17 1-23 5-25zM236 84l2 2 -1 8 -7 25 -10 22 -13 20 -16 18 -17 13 -25 15 -8-1 1-5 44-52 28-38 17-27zM-206 141l5 1 52 44 38 28 27 17 0 5 -2 2 -8-1 -25-7 -22-10 -20-13 -18-16 -13-17 -15-25zM106 226l0 5 -25 15 -22 9 -23 4 -17 2 -23-1 -25-5 -17-6 0-5 39-3 43-5 68-12zM571 230l2 1 -2 8 -4 12 -21 48 -23 40 -28 40 -31 37 -33 33 -40 32 -15 11 -5 0 -1-1 0-5 61-59 50-59 25-34 20-31 40-73zM-492 371l1-1 5 0 59 61 59 50 34 25 31 20 73 40 0 5 -1 2 -8-2 -12-4 -48-21 -40-23 -40-28 -37-31 -33-33 -32-40 -11-15zM241 564l-2 2 -1 5 -29 14 -28 10 -45 13 -55 10 -52 4 -55-2 -53-6 -2-5 -5-1 -1-2 83 2 39-2 46-5 69-12 39-10 47-15z"/>
<path fill="#f93804" d="M71 -614l0 5 -89 0 -74 8 -53 10 -79 21 -1-1 0-5 46-18 48-13 40-8 45-5 40-1 37 2zM244 -566l5 0 13 5 44 21 35 20 35 24 35 29 29 28 36 43 5 7 2 5 -2 2 -5-1 -52-53 -53-45 -57-40 -66-38 -2-2 -2 0zM-384 -483l2 2 -1 5 -53 52 -45 53 -40 57 -38 66 -2 2 0 2 -5 0 0-5 5-13 21-44 20-35 24-35 29-35 28-29 43-36 7-5zM-104 -226l0-5 15-10 23-9 22-6 20-2 23 0 22 3 17 4 0 5 -2 2 -68 5 -31 5 -33 8zM89 -234l5-2 22 6 20 9 20 13 18 15 15 17 13 20 3 10 -6 0 -50-43 -28-20 -31-20zM571 -225l5 0 18 46 13 48 8 40 5 45 1 40 -2 37 -5 40 -5 0 0-89 -8-74 -10-53 -21-79zM-146 -205l0 6 -43 50 -20 28 -20 31 -5 1 -2-5 6-22 9-20 13-20 15-18 17-15 20-13zM226 -104l5 0 10 15 9 23 6 22 2 20 0 23 -3 22 -4 17 -5 0 -2-2 -5-68 -5-31 -8-33zM-614 -71l5 0 0 89 8 74 10 53 21 79 -1 1 -5 0 -18-46 -13-48 -8-40 -5-45 -1-40 2-37zM-251 -38l5 0 2 2 5 68 5 31 8 33 0 8 -5 0 -10-15 -9-23 -6-22 -2-20 0-23 3-22zM234 89l2 5 -6 22 -9 20 -13 20 -15 18 -17 15 -20 13 -10 3 0-6 43-50 20-28 20-31zM-205 146l6 0 50 43 28 20 31 20 1 5 -5 2 -22-6 -20-9 -20-13 -18-15 -15-17 -13-20zM104 226l0 5 -15 10 -23 9 -22 6 -20 2 -23 0 -22-3 -17-4 0-5 2-2 68-5 31-5 33-8zM566 244l0 5 -5 13 -21 44 -20 35 -24 35 -29 35 -28 29 -43 36 -7 5 -5 2 -2-2 1-5 53-52 45-53 40-57 38-66 2-2 0-2zM-483 384l2-2 5 1 52 53 53 45 57 40 66 38 2 2 2 0 0 5 -5 0 -13-5 -44-21 -35-20 -35-24 -35-29 -29-28 -36-43 -5-7zM225 571l0 5 -46 18 -48 13 -40 8 -45 5 -40 1 -37-2 -40-5 0-5 89 0 74-8 53-10 79-21z"/>
<path fill="#f52806" d="M47 -616l1 5 -74 2 -57 5 -53 10 -60 15 -9 0 1-5 35-12 40-11 43-8 65-4 35 0zM267 -554l4-2 40 19 33 20 35 25 30 24 27 27 33 37 0 5 -5 0 -53-50 -45-37 -47-33 -50-30 -3-2zM-399 -469l0 5 -50 53 -37 45 -33 47 -30 50 -2 3 -3-1 -2-4 19-40 20-33 25-35 24-30 27-27 37-33zM34 -251l0 5 -59 5 -32 5 -34 7 -7 0 0-5 14-8 23-8 20-5 20-2 20 0 17 2zM94 -234l12 2 18 7 20 11 15 10 15 13 13 15 12 17 1 8 -1 1 -5-1 -43-38 -27-20 -28-17 -2-3zM579 -205l5 1 12 35 11 40 8 43 4 65 0 35 -3 33 -5 1 -2-74 -5-57 -10-53 -15-60zM-151 -200l1 1 -1 5 -38 43 -20 27 -17 28 -3 2 -5 0 2-12 7-18 11-20 10-15 13-15 15-13 17-12zM229 -98l5 0 8 14 8 23 5 20 2 20 0 20 -2 17 -4 18 -5 0 -5-59 -5-32 -7-34zM-616 -47l5-1 2 74 5 57 10 53 15 60 0 9 -5-1 -12-35 -11-40 -8-43 -4-65 0-35zM-251 -34l5 0 5 59 5 32 7 34 0 7 -5 0 -8-14 -8-23 -5-20 -2-20 0-20 2-17zM234 94l-2 12 -7 18 -11 20 -10 15 -13 15 -15 13 -17 12 -8 1 -1-1 1-5 38-43 20-27 17-28 3-2zM-200 151l1-1 5 1 43 38 27 20 28 17 2 3 0 5 -12-2 -18-7 -20-11 -15-10 -15-13 -13-15 -12-17zM98 229l0 5 -14 8 -23 8 -20 5 -20 2 -20 0 -17-2 -18-4 0-5 59-5 32-5 34-7zM554 267l2 4 -19 40 -20 33 -25 35 -24 30 -27 27 -37 33 -5 0 0-5 50-53 37-45 33-47 30-50 2-3zM-469 399l5 0 53 50 45 37 47 33 50 30 3 2 -1 3 -4 2 -40-19 -33-20 -35-25 -30-24 -27-27 -33-37zM205 579l-1 5 -35 12 -40 11 -43 8 -65 4 -35 0 -33-3 -1-5 74-2 57-5 53-10 60-15z"/>
<path fill="#f21709" d="M-8 -611l-33 1 -45 5 -43 8 -36 8 -8 0 0-5 16-5 43-10 33-5 30-3 32-1 10 2zM293 -541l6 0 15 7 32 20 25 17 48 41 27 27 1 5 -3 2 -3-2 -40-35 -27-23 -45-32 -33-22 -3 0zM-424 -447l2 3 -2 3 -35 40 -23 27 -32 45 -22 33 0 3 -5 0 0-6 7-15 20-32 17-25 41-48 27-27zM-91 -231l-1-5 11-6 17-6 20-5 20-2 20 0 18 1 14 3 0 5 -62 5 -50 10zM102 -229l2-2 17 6 20 11 18 12 15 13 14 15 8 13 0 5 -7-2 -42-36 -45-30zM-156 -196l-2 7 -36 42 -30 45 -5 0 -2-2 6-17 11-20 12-18 13-15 15-14 13-8zM589 -173l5 0 5 16 10 43 5 33 3 30 1 32 -2 10 -5 1 -1-33 -5-45 -8-43 -8-36zM231 -91l5-1 6 11 6 17 5 20 2 20 0 20 -1 18 -3 14 -5 0 -5-62 -10-50zM-251 -28l5 0 5 62 10 50 0 7 -5 1 -6-11 -6-17 -5-20 -2-20 0-20 1-18zM-611 8l1 33 5 45 8 43 8 36 0 8 -5 0 -5-16 -10-43 -5-33 -3-30 -1-32 2-10zM229 102l2 2 -6 17 -11 20 -12 18 -13 15 -15 14 -13 8 -5 0 2-7 36-42 30-45zM-196 156l7 2 42 36 45 30 0 5 -2 2 -17-6 -20-11 -18-12 -15-13 -14-15 -8-13zM91 231l1 5 -11 6 -17 6 -20 5 -20 2 -20 0 -18-1 -14-3 0-5 62-5 50-10zM541 293l0 6 -7 15 -20 32 -17 25 -41 48 -27 27 -5 1 -2-3 2-3 35-40 23-27 32-45 22-33 0-3zM-447 424l3-2 3 2 40 35 27 23 45 32 33 22 3 0 0 5 -6 0 -15-7 -32-20 -25-17 -48-41 -27-27zM173 589l0 5 -16 5 -43 10 -33 5 -30 3 -32 1 -10-2 -1-5 33-1 45-5 43-8 36-8z"/>
</g></g>
<path d="M124.5 325.2L188.7 288.1M124.5 325.2L143.7 253.6M124.5 325.2L87.5 261.0M124.5 325.2L52.9 306.0M124.5 325.2L60.3 362.2M124.5 325.2L105.3 396.8M124.5 325.2L161.6 389.4M124.5 325.2L196.1 344.4" stroke="url(#lgc)" stroke-width="1.4" fill="none"/>
<path d="M408.8 325.2L473.0 362.2M408.8 325.2L480.4 306.0M408.8 325.2L445.9 261.0M408.8 325.2L389.6 253.6M408.8 325.2L344.6 288.1M408.8 325.2L337.2 344.4M408.8 325.2L371.8 389.4M408.8 325.2L428.0 396.8" stroke="url(#lgd)" stroke-width="1.4" fill="none"/>
<path fill="#fff" fill-rule="evenodd" d="M46.4 18.5h155v155h-155zM49.80 96.0a74.1 74.1 0 1 0 148.2 0a74.1 74.1 0 1 0 -148.2 0z"/>
<path fill="#fff" fill-rule="evenodd" d="M330.7 18.5h155v155h-155zM334.10 96.0a74.1 74.1 0 1 0 148.2 0a74.1 74.1 0 1 0 -148.2 0z"/>
<path fill="#fff" fill-rule="evenodd" d="M47.0 247.7h155v155h-155zM50.40 325.2a74.1 74.1 0 1 0 148.2 0a74.1 74.1 0 1 0 -148.2 0z"/>
<path fill="#fff" fill-rule="evenodd" d="M331.3 247.7h155v155h-155zM334.70 325.2a74.1 74.1 0 1 0 148.2 0a74.1 74.1 0 1 0 -148.2 0z"/>
<path d="M123.9 96.0L198.0 96.0M123.9 96.0L188.1 59.0M123.9 96.0L161.0 31.8M123.9 96.0L123.9 21.9M123.9 96.0L86.9 31.8M123.9 96.0L59.7 59.0M123.9 96.0L49.8 96.0M123.9 96.0L59.7 133.1M123.9 96.0L86.8 160.2M123.9 96.0L123.9 170.1M123.9 96.0L161.0 160.2M123.9 96.0L188.1 133.1" stroke="#e8ffd0" stroke-opacity="0.07" stroke-width="0.6" fill="none"/>
<g fill="none" stroke="#e8ffd0" stroke-opacity="0.09" stroke-width="0.6"><circle cx="123.9" cy="96.0" r="12.35"/><circle cx="123.9" cy="96.0" r="24.70"/><circle cx="123.9" cy="96.0" r="37.05"/><circle cx="123.9" cy="96.0" r="49.40"/><circle cx="123.9" cy="96.0" r="61.75"/></g>
<path d="M49.8 96.0H198.0" stroke="#d06040" stroke-opacity="0.22" stroke-width="0.6" fill="none"/>
<path d="M408.2 96.0L482.3 96.0M408.2 96.0L472.4 59.0M408.2 96.0L445.3 31.8M408.2 96.0L408.2 21.9M408.2 96.0L371.2 31.8M408.2 96.0L344.0 59.0M408.2 96.0L334.1 96.0M408.2 96.0L344.0 133.1M408.2 96.0L371.2 160.2M408.2 96.0L408.2 170.1M408.2 96.0L445.3 160.2M408.2 96.0L472.4 133.1" stroke="#e8ffd0" stroke-opacity="0.07" stroke-width="0.6" fill="none"/>
<g fill="none" stroke="#e8ffd0" stroke-opacity="0.09" stroke-width="0.6"><circle cx="408.2" cy="96.0" r="12.35"/><circle cx="408.2" cy="96.0" r="24.70"/><circle cx="408.2" cy="96.0" r="37.05"/><circle cx="408.2" cy="96.0" r="49.40"/><circle cx="408.2" cy="96.0" r="61.75"/></g>
<path d="M334.1 96.0H482.3" stroke="#d06040" stroke-opacity="0.22" stroke-width="0.6" fill="none"/>
<path d="M124.5 325.2L198.6 325.2M124.5 325.2L188.7 288.1M124.5 325.2L161.6 261.0M124.5 325.2L124.5 251.1M124.5 325.2L87.5 261.0M124.5 325.2L60.3 288.1M124.5 325.2L50.4 325.2M124.5 325.2L60.3 362.2M124.5 325.2L87.4 389.4M124.5 325.2L124.5 399.3M124.5 325.2L161.6 389.4M124.5 325.2L188.7 362.2" stroke="#e8ffd0" stroke-opacity="0.07" stroke-width="0.6" fill="none"/>
<g fill="none" stroke="#e8ffd0" stroke-opacity="0.09" stroke-width="0.6"><circle cx="124.5" cy="325.2" r="12.35"/><circle cx="124.5" cy="325.2" r="24.70"/><circle cx="124.5" cy="325.2" r="37.05"/><circle cx="124.5" cy="325.2" r="49.40"/><circle cx="124.5" cy="325.2" r="61.75"/></g>
<path d="M50.4 325.2H198.6" stroke="#d06040" stroke-opacity="0.22" stroke-width="0.6" fill="none"/>
<path d="M408.8 325.2L482.9 325.2M408.8 325.2L473.0 288.1M408.8 325.2L445.9 261.0M408.8 325.2L408.8 251.1M408.8 325.2L371.8 261.0M408.8 325.2L344.6 288.1M408.8 325.2L334.7 325.2M408.8 325.2L344.6 362.2M408.8 325.2L371.8 389.4M408.8 325.2L408.8 399.3M408.8 325.2L445.9 389.4M408.8 325.2L473.0 362.2" stroke="#e8ffd0" stroke-opacity="0.07" stroke-width="0.6" fill="none"/>
<g fill="none" stroke="#e8ffd0" stroke-opacity="0.09" stroke-width="0.6"><circle cx="408.8" cy="325.2" r="12.35"/><circle cx="408.8" cy="325.2" r="24.70"/><circle cx="408.8" cy="325.2" r="37.05"/><circle cx="408.8" cy="325.2" r="49.40"/><circle cx="408.8" cy="325.2" r="61.75"/></g>
<path d="M334.7 325.2H482.9" stroke="#d06040" stroke-opacity="0.22" stroke-width="0.6" fill="none"/>
<g font-family="'Liberation Sans', Arial, sans-serif" fill="#111">
<path d="M30.1 20.7V170.5" stroke="#4a4a4a" stroke-width="1.20" fill="none"/>
<path d="M30.1 21.2h-2.8M30.1 39.8h-2.8M30.1 58.4h-2.8M30.1 77.0h-2.8M30.1 95.6h-2.8M30.1 114.2h-2.8M30.1 132.8h-2.8M30.1 151.4h-2.8M30.1 170.0h-2.8" stroke="#333" stroke-width="0.9" fill="none"/>
<path d="M30.1 30.5h-1.3M30.1 49.1h-1.3M30.1 67.7h-1.3M30.1 86.3h-1.3M30.1 104.9h-1.3M30.1 123.5h-1.3M30.1 142.1h-1.3M30.1 160.7h-1.3" stroke="#444" stroke-width="0.8" fill="none"/>
<text x="25.6" y="24.8" font-size="10.00" text-anchor="end">9995</text>
<text x="25.6" y="43.4" font-size="10.00" text-anchor="end">9990</text>
<text x="25.6" y="62.0" font-size="10.00" text-anchor="end">9985</text>
<text x="25.6" y="80.6" font-size="10.00" text-anchor="end">9980</text>
<text x="25.6" y="99.2" font-size="10.00" text-anchor="end">9975</text>
<text x="25.6" y="117.8" font-size="10.00" text-anchor="end">9980</text>
<text x="25.6" y="136.4" font-size="10.00" text-anchor="end">9985</text>
<text x="25.6" y="155.0" font-size="10.00" text-anchor="end">9990</text>
<text x="25.6" y="173.6" font-size="10.00" text-anchor="end">9995</text>
<text x="16.4" y="10.7" font-size="9.00" text-anchor="middle">f (Hz)</text>
<text x="123.9" y="15.2" font-size="10.00" text-anchor="middle">90</text>
<text x="77.0" y="25.6" font-size="10.00" text-anchor="middle">120</text>
<text x="168.6" y="25.6" font-size="10.00" text-anchor="middle">60</text>
<text x="48.9" y="53.7" font-size="10.00" text-anchor="middle">150</text>
<text x="196.9" y="53.7" font-size="10.00" text-anchor="middle">30</text>
<text x="39.7" y="98.4" font-size="10.00" text-anchor="middle">180</text>
<text x="203.9" y="97.9" font-size="10.00" text-anchor="middle">0</text>
<text x="48.9" y="142.6" font-size="10.00" text-anchor="middle">210</text>
<text x="198.9" y="141.8" font-size="10.00" text-anchor="middle">330</text>
<text x="77.0" y="171.1" font-size="10.00" text-anchor="middle">240</text>
<text x="170.5" y="171.1" font-size="10.00" text-anchor="middle">300</text>
<text x="123.9" y="181.5" font-size="10.00" text-anchor="middle">270</text>
<rect x="216.3" y="34.1" width="10.9" height="3.4" fill="#d4d4d4" stroke="#8c8c8c" stroke-width="0.7"/>
<rect x="216.0" y="36.6" width="11.6" height="135.1" fill="url(#rb)"/>
<rect x="216.0" y="171.7" width="11.6" height="3.1" fill="#000"/>
<text x="233.5" y="39.8" font-size="8.80" text-anchor="start">2.280</text>
<text x="233.5" y="56.7" font-size="8.80" text-anchor="start">1.795</text>
<text x="233.5" y="73.5" font-size="8.80" text-anchor="start">1.310</text>
<text x="233.5" y="90.4" font-size="8.80" text-anchor="start">0.8250</text>
<text x="233.5" y="107.3" font-size="8.80" text-anchor="start">0.3400</text>
<text x="233.5" y="124.2" font-size="8.80" text-anchor="start">-0.1450</text>
<text x="233.5" y="141.1" font-size="8.80" text-anchor="start">-0.6300</text>
<text x="233.5" y="158.0" font-size="8.80" text-anchor="start">-1.115</text>
<text x="233.5" y="174.9" font-size="8.80" text-anchor="start">-1.600</text>
<path d="M227.6 36.6h1.8M227.6 53.5h1.8M227.6 70.4h1.8M227.6 87.3h1.8M227.6 104.2h1.8M227.6 121.0h1.8M227.6 137.9h1.8M227.6 154.8h1.8M227.6 171.7h1.8" stroke="#888" stroke-width="0.7" fill="none"/>
<text x="234.2" y="20.3" font-size="8.60" text-anchor="middle">Magnitude (dB)</text>
<text x="227.4" y="30.7" font-size="9.0" text-anchor="middle"><tspan font-size="11.7">×</tspan><tspan dx="0.8">20</tspan></text>
<path d="M314.4 20.7V170.5" stroke="#4a4a4a" stroke-width="1.20" fill="none"/>
<path d="M314.4 21.2h-2.8M314.4 39.8h-2.8M314.4 58.4h-2.8M314.4 77.0h-2.8M314.4 95.6h-2.8M314.4 114.2h-2.8M314.4 132.8h-2.8M314.4 151.4h-2.8M314.4 170.0h-2.8" stroke="#333" stroke-width="0.9" fill="none"/>
<path d="M314.4 30.5h-1.3M314.4 49.1h-1.3M314.4 67.7h-1.3M314.4 86.3h-1.3M314.4 104.9h-1.3M314.4 123.5h-1.3M314.4 142.1h-1.3M314.4 160.7h-1.3" stroke="#444" stroke-width="0.8" fill="none"/>
<text x="309.9" y="24.8" font-size="10.00" text-anchor="end">9995</text>
<text x="309.9" y="43.4" font-size="10.00" text-anchor="end">9990</text>
<text x="309.9" y="62.0" font-size="10.00" text-anchor="end">9985</text>
<text x="309.9" y="80.6" font-size="10.00" text-anchor="end">9980</text>
<text x="309.9" y="99.2" font-size="10.00" text-anchor="end">9975</text>
<text x="309.9" y="117.8" font-size="10.00" text-anchor="end">9980</text>
<text x="309.9" y="136.4" font-size="10.00" text-anchor="end">9985</text>
<text x="309.9" y="155.0" font-size="10.00" text-anchor="end">9990</text>
<text x="309.9" y="173.6" font-size="10.00" text-anchor="end">9995</text>
<text x="300.7" y="10.7" font-size="9.00" text-anchor="middle">f (Hz)</text>
<text x="408.2" y="15.2" font-size="10.00" text-anchor="middle">90</text>
<text x="361.3" y="25.6" font-size="10.00" text-anchor="middle">120</text>
<text x="452.9" y="25.6" font-size="10.00" text-anchor="middle">60</text>
<text x="333.2" y="53.7" font-size="10.00" text-anchor="middle">150</text>
<text x="481.2" y="53.7" font-size="10.00" text-anchor="middle">30</text>
<text x="324.0" y="98.4" font-size="10.00" text-anchor="middle">180</text>
<text x="488.2" y="97.9" font-size="10.00" text-anchor="middle">0</text>
<text x="333.2" y="142.6" font-size="10.00" text-anchor="middle">210</text>
<text x="483.2" y="141.8" font-size="10.00" text-anchor="middle">330</text>
<text x="361.3" y="171.1" font-size="10.00" text-anchor="middle">240</text>
<text x="454.8" y="171.1" font-size="10.00" text-anchor="middle">300</text>
<text x="408.2" y="181.5" font-size="10.00" text-anchor="middle">270</text>
<rect x="500.7" y="34.1" width="10.9" height="3.4" fill="#d4d4d4" stroke="#8c8c8c" stroke-width="0.7"/>
<rect x="500.3" y="36.6" width="11.6" height="135.1" fill="url(#rb)"/>
<rect x="500.3" y="171.7" width="11.6" height="3.1" fill="#000"/>
<text x="517.8" y="39.8" font-size="8.80" text-anchor="start">2.280</text>
<text x="517.8" y="56.7" font-size="8.80" text-anchor="start">1.795</text>
<text x="517.8" y="73.5" font-size="8.80" text-anchor="start">1.310</text>
<text x="517.8" y="90.4" font-size="8.80" text-anchor="start">0.8250</text>
<text x="517.8" y="107.3" font-size="8.80" text-anchor="start">0.3400</text>
<text x="517.8" y="124.2" font-size="8.80" text-anchor="start">-0.1450</text>
<text x="517.8" y="141.1" font-size="8.80" text-anchor="start">-0.6300</text>
<text x="517.8" y="158.0" font-size="8.80" text-anchor="start">-1.115</text>
<text x="517.8" y="174.9" font-size="8.80" text-anchor="start">-1.600</text>
<path d="M511.9 36.6h1.8M511.9 53.5h1.8M511.9 70.4h1.8M511.9 87.3h1.8M511.9 104.2h1.8M511.9 121.0h1.8M511.9 137.9h1.8M511.9 154.8h1.8M511.9 171.7h1.8" stroke="#888" stroke-width="0.7" fill="none"/>
<text x="518.5" y="20.3" font-size="8.60" text-anchor="middle">Magnitude (dB)</text>
<text x="511.7" y="30.7" font-size="9.0" text-anchor="middle"><tspan font-size="11.7">×</tspan><tspan dx="0.8">20</tspan></text>
<path d="M31.5 250.5V400.0" stroke="#333" stroke-width="1.10" fill="none"/>
<path d="M31.5 251.0h-2.8M31.5 269.6h-2.8M31.5 288.1h-2.8M31.5 306.7h-2.8M31.5 325.2h-2.8M31.5 343.8h-2.8M31.5 362.4h-2.8M31.5 380.9h-2.8M31.5 399.5h-2.8" stroke="#333" stroke-width="0.9" fill="none"/>
<path d="M31.5 260.3h-1.3M31.5 278.8h-1.3M31.5 297.4h-1.3M31.5 316.0h-1.3M31.5 334.5h-1.3M31.5 353.1h-1.3M31.5 371.7h-1.3M31.5 390.2h-1.3" stroke="#444" stroke-width="0.8" fill="none"/>
<text x="25.6" y="254.1" font-size="8.50" text-anchor="end">9995</text>
<text x="25.6" y="272.6" font-size="8.50" text-anchor="end">9990</text>
<text x="25.6" y="291.2" font-size="8.50" text-anchor="end">9985</text>
<text x="25.6" y="309.7" font-size="8.50" text-anchor="end">9980</text>
<text x="25.6" y="328.3" font-size="8.50" text-anchor="end">9975</text>
<text x="25.6" y="346.9" font-size="8.50" text-anchor="end">9980</text>
<text x="25.6" y="365.4" font-size="8.50" text-anchor="end">9985</text>
<text x="25.6" y="384.0" font-size="8.50" text-anchor="end">9990</text>
<text x="25.6" y="402.6" font-size="8.50" text-anchor="end">9995</text>
<text x="16.2" y="238.6" font-size="9.00" text-anchor="middle">f (Hz)</text>
<text x="124.1" y="245.5" font-size="8.00" text-anchor="middle">90</text>
<text x="78.5" y="255.2" font-size="8.00" text-anchor="middle">120</text>
<text x="167.6" y="255.2" font-size="8.00" text-anchor="middle">60</text>
<text x="50.3" y="283.4" font-size="8.00" text-anchor="middle">150</text>
<text x="198.0" y="283.4" font-size="8.00" text-anchor="middle">30</text>
<text x="39.9" y="327.9" font-size="8.00" text-anchor="middle">180</text>
<text x="203.6" y="327.9" font-size="8.00" text-anchor="middle">0</text>
<text x="50.3" y="372.1" font-size="8.00" text-anchor="middle">210</text>
<text x="198.1" y="371.4" font-size="8.00" text-anchor="middle">330</text>
<text x="77.9" y="399.9" font-size="8.00" text-anchor="middle">240</text>
<text x="170.0" y="399.9" font-size="8.00" text-anchor="middle">300</text>
<text x="124.2" y="410.2" font-size="8.00" text-anchor="middle">270</text>
<rect x="214.2" y="251.2" width="10.3" height="4.3" fill="#d4d4d4" stroke="#8c8c8c" stroke-width="0.7"/>
<rect x="213.9" y="254.7" width="11.0" height="145.8" fill="url(#rb)"/>
<rect x="213.9" y="400.5" width="11.0" height="3.0" fill="#000"/>
<text x="231.2" y="257.7" font-size="8.30" text-anchor="start">1.980</text>
<text x="231.2" y="275.9" font-size="8.30" text-anchor="start">1.483</text>
<text x="231.2" y="294.1" font-size="8.30" text-anchor="start">0.9850</text>
<text x="231.2" y="312.4" font-size="8.30" text-anchor="start">0.4875</text>
<text x="231.2" y="330.6" font-size="8.30" text-anchor="start">-0.01000</text>
<text x="231.2" y="348.8" font-size="8.30" text-anchor="start">-0.5075</text>
<text x="231.2" y="367.0" font-size="8.30" text-anchor="start">-1.005</text>
<text x="231.2" y="385.3" font-size="8.30" text-anchor="start">-1.503</text>
<text x="231.2" y="403.5" font-size="8.30" text-anchor="start">-2.000</text>
<path d="M224.9 254.7h1.8M224.9 272.9h1.8M224.9 291.1h1.8M224.9 309.4h1.8M224.9 327.6h1.8M224.9 345.8h1.8M224.9 364.1h1.8M224.9 382.3h1.8M224.9 400.5h1.8" stroke="#888" stroke-width="0.7" fill="none"/>
<text x="232.2" y="236.8" font-size="8.60" text-anchor="middle">Magnitude (dB)</text>
<text x="233.4" y="247.2" font-size="9.0" text-anchor="middle"><tspan font-size="11.7">×</tspan><tspan dx="0.8">20</tspan></text>
<path d="M315.8 250.5V400.0" stroke="#333" stroke-width="1.10" fill="none"/>
<path d="M315.8 251.0h-2.8M315.8 269.6h-2.8M315.8 288.1h-2.8M315.8 306.7h-2.8M315.8 325.2h-2.8M315.8 343.8h-2.8M315.8 362.4h-2.8M315.8 380.9h-2.8M315.8 399.5h-2.8" stroke="#333" stroke-width="0.9" fill="none"/>
<path d="M315.8 260.3h-1.3M315.8 278.8h-1.3M315.8 297.4h-1.3M315.8 316.0h-1.3M315.8 334.5h-1.3M315.8 353.1h-1.3M315.8 371.7h-1.3M315.8 390.2h-1.3" stroke="#444" stroke-width="0.8" fill="none"/>
<text x="309.9" y="254.1" font-size="8.50" text-anchor="end">9995</text>
<text x="309.9" y="272.6" font-size="8.50" text-anchor="end">9990</text>
<text x="309.9" y="291.2" font-size="8.50" text-anchor="end">9985</text>
<text x="309.9" y="309.7" font-size="8.50" text-anchor="end">9980</text>
<text x="309.9" y="328.3" font-size="8.50" text-anchor="end">9975</text>
<text x="309.9" y="346.9" font-size="8.50" text-anchor="end">9980</text>
<text x="309.9" y="365.4" font-size="8.50" text-anchor="end">9985</text>
<text x="309.9" y="384.0" font-size="8.50" text-anchor="end">9990</text>
<text x="309.9" y="402.6" font-size="8.50" text-anchor="end">9995</text>
<text x="300.5" y="238.6" font-size="9.00" text-anchor="middle">f (Hz)</text>
<text x="408.4" y="245.5" font-size="8.00" text-anchor="middle">90</text>
<text x="362.8" y="255.2" font-size="8.00" text-anchor="middle">120</text>
<text x="451.9" y="255.2" font-size="8.00" text-anchor="middle">60</text>
<text x="334.6" y="283.4" font-size="8.00" text-anchor="middle">150</text>
<text x="482.3" y="283.4" font-size="8.00" text-anchor="middle">30</text>
<text x="324.2" y="327.9" font-size="8.00" text-anchor="middle">180</text>
<text x="487.9" y="327.9" font-size="8.00" text-anchor="middle">0</text>
<text x="334.6" y="372.1" font-size="8.00" text-anchor="middle">210</text>
<text x="482.4" y="371.4" font-size="8.00" text-anchor="middle">330</text>
<text x="362.2" y="399.9" font-size="8.00" text-anchor="middle">240</text>
<text x="454.3" y="399.9" font-size="8.00" text-anchor="middle">300</text>
<text x="408.5" y="410.2" font-size="8.00" text-anchor="middle">270</text>
<rect x="498.6" y="251.2" width="10.3" height="4.3" fill="#d4d4d4" stroke="#8c8c8c" stroke-width="0.7"/>
<rect x="498.2" y="254.7" width="11.0" height="145.8" fill="url(#rb)"/>
<rect x="498.2" y="400.5" width="11.0" height="3.0" fill="#000"/>
<text x="515.5" y="257.7" font-size="8.30" text-anchor="start">1.980</text>
<text x="515.5" y="275.9" font-size="8.30" text-anchor="start">1.483</text>
<text x="515.5" y="294.1" font-size="8.30" text-anchor="start">0.9850</text>
<text x="515.5" y="312.4" font-size="8.30" text-anchor="start">0.4875</text>
<text x="515.5" y="330.6" font-size="8.30" text-anchor="start">-0.01000</text>
<text x="515.5" y="348.8" font-size="8.30" text-anchor="start">-0.5075</text>
<text x="515.5" y="367.0" font-size="8.30" text-anchor="start">-1.005</text>
<text x="515.5" y="385.3" font-size="8.30" text-anchor="start">-1.503</text>
<text x="515.5" y="403.5" font-size="8.30" text-anchor="start">-2.000</text>
<path d="M509.2 254.7h1.8M509.2 272.9h1.8M509.2 291.1h1.8M509.2 309.4h1.8M509.2 327.6h1.8M509.2 345.8h1.8M509.2 364.1h1.8M509.2 382.3h1.8M509.2 400.5h1.8" stroke="#888" stroke-width="0.7" fill="none"/>
<text x="516.5" y="236.8" font-size="8.60" text-anchor="middle">Magnitude (dB)</text>
<text x="517.7" y="247.2" font-size="9.0" text-anchor="middle"><tspan font-size="11.7">×</tspan><tspan dx="0.8">20</tspan></text>
</g>
<g font-family="'Liberation Serif', 'DejaVu Serif', serif" fill="#151515" stroke="#151515" stroke-width="0.22">
<text transform="translate(58.62 201.80) scale(0.950 1)" font-size="13.4" font-weight="bold">(a)</text>
<text transform="translate(80.45 201.80) scale(1.050 1)" font-size="14.0" font-style="italic">T</text>
<text x="90.05" y="204.50" font-size="10.0">11</text>
<text transform="translate(101.75 201.50) scale(0.900 1)" font-size="13.6">(</text>
<text transform="translate(107.39 201.80) scale(0.850 1)" font-size="13.6" font-style="italic">s</text>
<text x="112.40" y="201.80" font-size="13.6">,</text>
<text transform="translate(117.53 201.80) scale(0.900 1)" font-size="14.4" font-style="italic">θ</text>
<text transform="translate(125.55 201.50) scale(0.900 1)" font-size="13.6">)</text>
<text x="132.30" y="201.80" font-size="13.6">,</text>
<text transform="translate(142.82 201.80) scale(0.900 1)" font-size="14.4" font-style="italic">θ</text>
<text transform="translate(149.73 204.10) scale(1.080 1)" font-size="10.0" font-style="italic">ω</text>
<text transform="translate(165.16 202.80) scale(1.520 1)" font-size="14.5">=</text>
<text transform="translate(183.20 201.80) scale(1.340 1)" font-size="13.4" font-style="italic">π</text>
<text transform="translate(195.00 204.90) scale(1.150 1)" font-size="20.0">/</text>
<text transform="translate(202.83 201.80) scale(1.150 1)" font-size="13.8">6</text>
</g>
<g font-family="'Liberation Serif', 'DejaVu Serif', serif" fill="#151515" stroke="#151515" stroke-width="0.22">
<text x="328.30" y="201.80" font-size="13.4" font-weight="bold">(b)</text>
<text transform="translate(351.95 201.80) scale(1.050 1)" font-size="14.0" font-style="italic">T</text>
<text x="361.55" y="204.50" font-size="10.0">11</text>
<text transform="translate(373.25 201.50) scale(0.900 1)" font-size="13.6">(</text>
<text transform="translate(378.89 201.80) scale(0.850 1)" font-size="13.6" font-style="italic">s</text>
<text x="383.90" y="201.80" font-size="13.6">,</text>
<text transform="translate(389.02 201.80) scale(0.900 1)" font-size="14.4" font-style="italic">θ</text>
<text transform="translate(397.05 201.50) scale(0.900 1)" font-size="13.6">)</text>
<text x="403.80" y="201.80" font-size="13.6">,</text>
<text transform="translate(414.32 201.80) scale(0.900 1)" font-size="14.4" font-style="italic">θ</text>
<text transform="translate(421.23 204.10) scale(1.080 1)" font-size="10.0" font-style="italic">ω</text>
<text transform="translate(436.66 202.80) scale(1.520 1)" font-size="14.5">=</text>
<text transform="translate(454.47 202.80) scale(1.370 1)" font-size="14.5">−</text>
<text transform="translate(467.80 201.80) scale(1.340 1)" font-size="13.4" font-style="italic">π</text>
<text transform="translate(479.30 204.90) scale(1.150 1)" font-size="20.0">/</text>
<text transform="translate(487.23 201.80) scale(1.150 1)" font-size="13.8">6</text>
</g>
<g font-family="'Liberation Serif', 'DejaVu Serif', serif" fill="#151515" stroke="#151515" stroke-width="0.22">
<text transform="translate(58.61 430.00) scale(0.970 1)" font-size="13.4" font-weight="bold">(c)</text>
<text transform="translate(79.95 430.00) scale(1.050 1)" font-size="14.0" font-style="italic">T</text>
<text transform="translate(89.83 432.70) scale(0.950 1)" font-size="10.0">21</text>
<text transform="translate(101.25 429.70) scale(0.900 1)" font-size="13.6">(</text>
<text transform="translate(106.89 430.00) scale(0.850 1)" font-size="13.6" font-style="italic">s</text>
<text x="111.90" y="430.00" font-size="13.6">,</text>
<text transform="translate(117.03 430.00) scale(0.900 1)" font-size="14.4" font-style="italic">θ</text>
<text transform="translate(125.05 429.70) scale(0.900 1)" font-size="13.6">)</text>
<text x="131.80" y="430.00" font-size="13.6">,</text>
<text transform="translate(142.32 430.00) scale(0.900 1)" font-size="14.4" font-style="italic">θ</text>
<text transform="translate(149.23 432.30) scale(1.080 1)" font-size="10.0" font-style="italic">ω</text>
<text transform="translate(164.66 431.00) scale(1.520 1)" font-size="14.5">=</text>
<text transform="translate(182.70 430.00) scale(1.340 1)" font-size="13.4" font-style="italic">π</text>
<text transform="translate(194.50 433.10) scale(1.150 1)" font-size="20.0">/</text>
<text transform="translate(202.33 430.00) scale(1.150 1)" font-size="13.8">6</text>
</g>
<g font-family="'Liberation Serif', 'DejaVu Serif', serif" fill="#151515" stroke="#151515" stroke-width="0.22">
<text transform="translate(327.69 430.10) scale(1.030 1)" font-size="13.4" font-weight="bold">(d)</text>
<text transform="translate(351.75 430.10) scale(1.050 1)" font-size="14.0" font-style="italic">T</text>
<text transform="translate(361.62 432.80) scale(0.950 1)" font-size="10.0">21</text>
<text transform="translate(373.05 429.80) scale(0.900 1)" font-size="13.6">(</text>
<text transform="translate(378.69 430.10) scale(0.850 1)" font-size="13.6" font-style="italic">s</text>
<text x="383.70" y="430.10" font-size="13.6">,</text>
<text transform="translate(388.82 430.10) scale(0.900 1)" font-size="14.4" font-style="italic">θ</text>
<text transform="translate(396.85 429.80) scale(0.900 1)" font-size="13.6">)</text>
<text x="403.60" y="430.10" font-size="13.6">,</text>
<text transform="translate(414.12 430.10) scale(0.900 1)" font-size="14.4" font-style="italic">θ</text>
<text transform="translate(421.03 432.40) scale(1.080 1)" font-size="10.0" font-style="italic">ω</text>
<text transform="translate(436.46 431.10) scale(1.520 1)" font-size="14.5">=</text>
<text transform="translate(454.27 431.10) scale(1.370 1)" font-size="14.5">−</text>
<text transform="translate(467.60 430.10) scale(1.340 1)" font-size="13.4" font-style="italic">π</text>
<text transform="translate(479.10 433.20) scale(1.150 1)" font-size="20.0">/</text>
<text transform="translate(487.03 430.10) scale(1.150 1)" font-size="13.8">6</text>
</g>
</svg>
</body></html>
